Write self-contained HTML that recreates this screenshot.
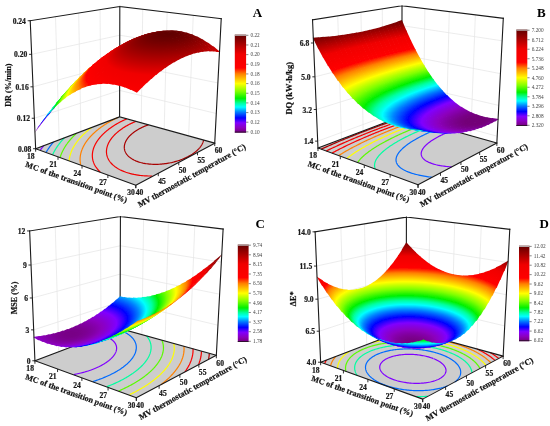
<!DOCTYPE html>
<html><head><meta charset="utf-8"><style>
html,body{margin:0;padding:0;background:#fff}
svg{display:block}
.gr{fill:none;stroke:#e4e4e4;stroke-width:.7}
.fl{fill:#cdcdcd}
.ct{fill:none;stroke-width:1.2}
.ax{fill:none;stroke:#1a1a1a;stroke-width:1.1;stroke-linecap:square}
.tk{fill:none;stroke:#1a1a1a;stroke-width:.9}
.sf path{stroke:none}
text{font-family:"Liberation Serif","Times New Roman",serif}
.tl{font-size:7.6px;font-weight:bold;fill:#1a1a1a;stroke:#1a1a1a;stroke-width:.22px}
.at{font-size:8.2px;font-weight:bold;fill:#111;stroke:#111;stroke-width:.2px}
.let{font-size:13px;font-weight:bold;fill:#000}
.cbl text{font-size:5.3px;fill:#444}
.cbb{stroke:#301030;stroke-width:1}
.cbt{stroke:#bdbdbd;stroke-width:1.2}
.cbk{stroke:#555;stroke-width:.7}
</style></head><body>
<svg width="550" height="426" viewBox="0 0 550 426">
<defs><linearGradient id="cmg" x1="0" y1="0" x2="0" y2="1"><stop offset="0" stop-color="#600000"/><stop offset="0.2" stop-color="#f00000"/><stop offset="0.34" stop-color="#ff0000"/><stop offset="0.4" stop-color="#ff8000"/><stop offset="0.5" stop-color="#ffff00"/><stop offset="0.58" stop-color="#80ff00"/><stop offset="0.65" stop-color="#00f000"/><stop offset="0.7" stop-color="#00ffa0"/><stop offset="0.74" stop-color="#00ffff"/><stop offset="0.79" stop-color="#0080ff"/><stop offset="0.85" stop-color="#0000ff"/><stop offset="0.9" stop-color="#8000ff"/><stop offset="0.95" stop-color="#8c00be"/><stop offset="1" stop-color="#730078"/></linearGradient><linearGradient id="c" gradientUnits="userSpaceOnUse"><stop offset="0" stop-color="#730078"/><stop offset="0.05" stop-color="#8c00be"/><stop offset="0.1" stop-color="#8000ff"/><stop offset="0.15" stop-color="#0000ff"/><stop offset="0.21" stop-color="#0080ff"/><stop offset="0.26" stop-color="#00ffff"/><stop offset="0.3" stop-color="#00ffa0"/><stop offset="0.35" stop-color="#00f000"/><stop offset="0.42" stop-color="#80ff00"/><stop offset="0.5" stop-color="#ffff00"/><stop offset="0.6" stop-color="#ff8000"/><stop offset="0.66" stop-color="#ff0000"/><stop offset="0.8" stop-color="#f00000"/><stop offset="1" stop-color="#600000"/></linearGradient><filter id="fz" x="-5%" y="-5%" width="110%" height="110%"><feGaussianBlur stdDeviation="0.35"/></filter></defs>
<path class="gr" d="M59.16 139.79L55.5 16.71M80.87 131.57L78.7 13.02M100.95 123.95L100.07 9.61M141.22 122.85L142.72 9.23M164.19 129.19L167.15 12.18M188.65 135.94L193.26 15.33M34.36 118.26L119.66 90.41L216.29 113.49M33.03 86.82L119.71 63.21L217.89 82.9M31.65 54.33L119.76 35.24L219.53 51.32"/>
<path class="fl" d="M35.65 148.71L135.82 185.16L214.74 143.14L119.6 116.88Z"/>
<path class="ct" stroke="#8000ff" d="M43.67 145.67L43.32 146.11L42.97 146.57L42.61 147.03L42.26 147.5L41.94 147.92L41.67 148.3L41.39 148.68L41.05 149.16L40.72 149.64L40.38 150.13"/>
<path class="ct" stroke="#006bff" d="M53.59 141.91L53.26 142.29L52.93 142.68L52.62 143.06L52.26 143.5L51.9 143.94L51.55 144.38L51.2 144.83L50.85 145.28L50.52 145.71L50.24 146.08L49.97 146.46L49.65 146.89L49.32 147.36L48.99 147.83L48.66 148.3L48.4 148.69L48.15 149.06L47.86 149.5L47.55 149.99L47.24 150.48L46.98 150.89L46.76 151.26L46.48 151.73L46.18 152.24"/>
<path class="ct" stroke="#00ffa0" d="M64.41 137.81L64.03 138.2L63.66 138.6L63.3 138.99L62.94 139.39L62.59 139.78L62.25 140.17L61.91 140.56L61.58 140.94L61.25 141.33L60.91 141.74L60.56 142.17L60.21 142.6L59.86 143.04L59.52 143.48L59.18 143.92L58.84 144.36L58.55 144.75L58.28 145.13L58.01 145.5L57.69 145.95L57.37 146.41L57.05 146.87L56.74 147.34L56.48 147.73L56.25 148.1L55.97 148.53L55.67 149.01L55.38 149.5L55.12 149.93L54.91 150.29L54.66 150.73L54.38 151.23L54.11 151.73L53.92 152.09L53.7 152.51L53.44 153.02L53.19 153.53L53.02 153.88L52.81 154.33L52.56 154.87"/>
<path class="ct" stroke="#5bfb00" d="M76.66 133.16L76.26 133.53L75.87 133.9L75.47 134.27L75.08 134.64L74.69 135.02L74.31 135.4L73.93 135.78L73.55 136.17L73.17 136.55L72.79 136.95L72.42 137.34L72.05 137.73L71.68 138.13L71.32 138.54L70.96 138.94L70.6 139.35L70.25 139.76L69.9 140.17L69.55 140.59L69.2 141.01L68.86 141.43L68.52 141.86L68.19 142.29L67.86 142.72L67.55 143.13L67.28 143.51L67 143.88L66.73 144.27L66.41 144.72L66.1 145.17L65.8 145.63L65.49 146.09L65.24 146.49L65 146.86L64.76 147.25L64.47 147.73L64.19 148.21L63.92 148.68L63.71 149.04L63.51 149.42L63.24 149.91L62.98 150.41L62.76 150.84L62.59 151.2L62.36 151.67L62.12 152.18L61.92 152.61L61.77 152.97L61.55 153.49L61.33 154.02L61.19 154.37L61.01 154.83L60.81 155.37L60.67 155.76L60.52 156.2L60.34 156.75L60.22 157.14L60.08 157.6"/>
<path class="ct" stroke="#ffff00" d="M91.66 127.47L91.08 127.91L90.65 128.24L90.22 128.57L89.77 128.92L89.18 129.39L88.75 129.74L88.33 130.08L87.92 130.42L87.5 130.77L86.97 131.22L86.49 131.64L86.08 132L85.68 132.35L85.29 132.71L84.89 133.07L84.5 133.44L84.07 133.84L83.63 134.27L83.2 134.69L82.78 135.11L82.4 135.49L82.03 135.87L81.66 136.25L81.29 136.64L80.93 137.03L80.57 137.42L80.21 137.82L79.86 138.22L79.51 138.62L79.17 139.02L78.82 139.43L78.48 139.84L78.15 140.26L77.82 140.67L77.49 141.09L77.19 141.49L76.9 141.88L76.62 142.26L76.35 142.64L76.07 143.03L75.76 143.47L75.46 143.92L75.17 144.36L74.88 144.81L74.6 145.25L74.37 145.62L74.15 145.99L73.9 146.43L73.63 146.89L73.36 147.37L73.13 147.81L72.94 148.17L72.73 148.57L72.49 149.06L72.25 149.55L72.06 149.95L71.9 150.3L71.68 150.81L71.47 151.32L71.31 151.7L71.16 152.09L70.96 152.62L70.79 153.09L70.67 153.44L70.5 153.95L70.34 154.47L70.24 154.81L70.09 155.32L69.96 155.83L69.87 156.16L69.74 156.72L69.64 157.17L69.56 157.58L69.45 158.17L69.39 158.5L69.3 159.05L69.24 159.5L69.19 159.96L69.13 160.48L69.1 160.88"/>
<path class="ct" stroke="#ff8000" d="M117.43 117.7L116.7 118.05L115.91 118.43L115.21 118.77L114.61 119.08L113.84 119.47L113.33 119.73L112.57 120.13L111.82 120.53L111.32 120.8L110.57 121.21L110.08 121.49L109.34 121.91L108.86 122.19L108.13 122.61L107.66 122.9L106.94 123.33L106.47 123.62L105.9 123.97L105.3 124.36L104.84 124.65L104.15 125.11L103.69 125.41L103.21 125.73L102.56 126.18L102.11 126.49L101.64 126.82L101.01 127.27L100.57 127.59L100.14 127.91L99.51 128.38L99.06 128.73L98.64 129.05L98.22 129.39L97.62 129.86L97.18 130.22L96.77 130.56L96.36 130.91L95.93 131.28L95.4 131.74L94.96 132.12L94.56 132.48L94.17 132.83L93.78 133.19L93.4 133.55L92.98 133.96L92.53 134.39L92.1 134.82L91.71 135.22L91.35 135.59L90.99 135.97L90.63 136.36L90.28 136.74L89.93 137.13L89.58 137.52L89.24 137.92L88.9 138.32L88.57 138.72L88.24 139.12L87.91 139.53L87.59 139.94L87.27 140.36L86.96 140.78L86.66 141.2L86.35 141.63L86.07 142.03L85.81 142.41L85.56 142.79L85.32 143.16L85.05 143.59L84.78 144.03L84.51 144.48L84.25 144.94L84 145.38L83.8 145.74L83.61 146.1L83.37 146.56L83.14 147.04L82.91 147.52L82.73 147.89L82.57 148.25L82.36 148.73L82.16 149.23L82 149.65L81.86 149.99L81.68 150.49L81.51 151.01L81.39 151.37L81.26 151.79L81.1 152.32L80.99 152.73L80.89 153.12L80.76 153.66L80.67 154.07L80.58 154.49L80.48 155.05L80.42 155.39L80.34 155.9L80.28 156.38L80.23 156.77L80.18 157.35L80.15 157.67L80.12 158.26L80.11 158.63L80.1 159.17L80.1 159.58L80.11 160.11L80.12 160.53L80.16 161.07L80.19 161.46L80.25 162.05L80.29 162.39L80.38 163.01L80.44 163.4L80.54 163.92L80.65 164.44L80.74 164.82"/>
<path class="ct" stroke="#fb0000" d="M126.74 118.85L125.91 119.22L125.1 119.59L124.28 119.97L123.75 120.22L122.95 120.6L122.16 120.99L121.62 121.27L120.87 121.65L120.1 122.06L119.59 122.33L118.84 122.74L118.22 123.08L117.59 123.43L116.86 123.85L116.37 124.14L115.65 124.57L115.18 124.86L114.54 125.25L114 125.59L113.52 125.9L112.84 126.34L112.39 126.65L111.71 127.11L111.26 127.42L110.81 127.73L110.15 128.2L109.72 128.52L109.29 128.84L108.65 129.33L108.22 129.65L107.8 129.98L107.34 130.35L106.77 130.82L106.36 131.16L105.96 131.5L105.56 131.84L105.04 132.3L104.58 132.71L104.2 133.07L103.82 133.42L103.44 133.78L103.07 134.14L102.64 134.57L102.21 135.01L101.79 135.44L101.44 135.81L101.09 136.19L100.75 136.57L100.41 136.96L100.07 137.35L99.74 137.74L99.42 138.13L99.09 138.53L98.78 138.94L98.47 139.34L98.16 139.75L97.86 140.16L97.57 140.58L97.28 141L97 141.43L96.72 141.85L96.48 142.25L96.25 142.62L96.03 142.99L95.81 143.39L95.56 143.83L95.32 144.28L95.08 144.74L94.87 145.18L94.7 145.54L94.53 145.9L94.33 146.37L94.13 146.85L93.95 147.31L93.82 147.65L93.67 148.07L93.5 148.56L93.35 149.03L93.25 149.37L93.12 149.83L92.99 150.35L92.9 150.71L92.81 151.13L92.7 151.67L92.64 152.04L92.57 152.48L92.5 153.01L92.46 153.34L92.41 153.87L92.38 154.3L92.36 154.72L92.34 155.25L92.34 155.6L92.35 156.19L92.36 156.5L92.4 157.1L92.43 157.42L92.5 158.03L92.54 158.35L92.63 158.94L92.7 159.32L92.81 159.83L92.92 160.31L93.02 160.72L93.19 161.3L93.31 161.68L93.47 162.17L93.68 162.74L93.83 163.11L94.03 163.59L94.29 164.15L94.51 164.61L94.71 165L95 165.53L95.31 166.08L95.64 166.62L95.92 167.04L96.21 167.47L96.55 167.94L96.95 168.47L97.36 168.98L97.78 169.5L98.23 170L98.69 170.51L99.17 171L99.67 171.49L100.19 171.98"/>
<path class="ct" stroke="#f00000" d="M135.81 121.35L134.95 121.72L134.09 122.09L133.25 122.46L132.42 122.85L131.88 123.1L131.06 123.49L130.27 123.89L129.48 124.29L128.96 124.56L128.19 124.98L127.43 125.39L126.92 125.67L126.18 126.1L125.69 126.39L124.97 126.82L124.49 127.12L123.78 127.56L123.32 127.87L122.63 128.32L122.17 128.63L121.59 129.03L121.06 129.41L120.62 129.73L119.97 130.21L119.54 130.53L119.12 130.86L118.54 131.32L118.09 131.69L117.68 132.02L117.29 132.36L116.72 132.86L116.31 133.23L115.93 133.58L115.55 133.93L115.17 134.3L114.7 134.76L114.28 135.19L113.93 135.56L113.58 135.93L113.24 136.31L112.91 136.69L112.58 137.07L112.26 137.46L111.94 137.85L111.63 138.24L111.33 138.64L111.03 139.04L110.74 139.44L110.46 139.85L110.18 140.27L109.92 140.68L109.66 141.11L109.4 141.53L109.16 141.96L108.92 142.4L108.69 142.84L108.5 143.23L108.33 143.59L108.16 143.96L107.97 144.42L107.78 144.88L107.6 145.35L107.48 145.71L107.36 146.07L107.21 146.55L107.07 147.04L106.98 147.41L106.89 147.78L106.78 148.29L106.7 148.74L106.65 149.07L106.58 149.58L106.53 150.03L106.5 150.38L106.47 150.93L106.46 151.3L106.46 151.76L106.47 152.23L106.49 152.61L106.54 153.14L106.57 153.48L106.65 154.04L106.71 154.38L106.81 154.93L106.9 155.3L107.02 155.8L107.16 156.26L107.28 156.66L107.48 157.22L107.62 157.58L107.82 158.05L108.07 158.6L108.25 158.98L108.48 159.41L108.79 159.95L109.1 160.46L109.35 160.84L109.63 161.25L110 161.76L110.39 162.27L110.8 162.77L111.23 163.26L111.69 163.74L112.16 164.22L112.65 164.7L113.16 165.16L113.69 165.62L114.25 166.07L114.82 166.52L115.41 166.96L116.25 167.53L116.99 168.02L117.65 168.43L118.62 169L119.41 169.43L120.4 169.94L121.3 170.37L122.51 170.92L123.71 171.42L124.62 171.77L125.96 172.26L127.36 172.72L128.32 173.02L129.81 173.45L131.35 173.84L132.42 174.09L134.07 174.45L135.2 174.67L136.36 174.87L138.01 175.13L139.41 175.32L140.68 175.48L141.99 175.61L143.33 175.73L144.67 175.83L145.79 175.9L146.87 175.95L148.33 176L149.85 176.02L150.83 176.03L152.22 176.02"/>
<path class="ct" stroke="#a80000" d="M148.4 124.83L147.74 125.06L146.8 125.41L145.86 125.77L144.95 126.14L144.06 126.51L143.18 126.9L142.33 127.29L141.63 127.62L140.95 127.96L140.14 128.37L139.35 128.79L138.84 129.08L138.08 129.51L137.33 129.95L136.85 130.25L136.13 130.7L135.67 131L134.98 131.47L134.53 131.79L133.96 132.2L133.44 132.59L133.02 132.92L132.42 133.4L132 133.75L131.61 134.09L131.15 134.49L130.65 134.96L130.28 135.31L129.93 135.67L129.57 136.03L129.18 136.46L128.77 136.92L128.42 137.34L128.1 137.72L127.8 138.1L127.51 138.5L127.23 138.89L126.96 139.29L126.7 139.7L126.44 140.11L126.2 140.52L125.98 140.94L125.76 141.37L125.57 141.77L125.41 142.14L125.26 142.5L125.1 142.91L124.95 143.37L124.8 143.83L124.69 144.25L124.61 144.58L124.52 145.01L124.44 145.5L124.38 145.9L124.35 146.24L124.31 146.75L124.3 147.17L124.31 147.53L124.33 148.07L124.36 148.39L124.42 148.89L124.49 149.27L124.58 149.74L124.68 150.14L124.82 150.62L124.94 150.98L125.15 151.53L125.29 151.85L125.52 152.33L125.78 152.83L125.98 153.17L126.26 153.62L126.61 154.13L126.96 154.59L127.27 154.97L127.61 155.36L128.02 155.81L128.49 156.27L128.98 156.72L129.49 157.16L130.03 157.59L130.67 158.06L131.49 158.61L132.13 159.01L132.8 159.4L133.84 159.96L134.57 160.31L135.71 160.83L136.51 161.16L137.77 161.63L139.09 162.07L140.48 162.48L141.45 162.73L142.97 163.09L144.03 163.3L145.68 163.6L146.84 163.77L148.03 163.92L149.26 164.05L150.55 164.16L151.88 164.25L153.22 164.31L154.18 164.33L155.44 164.34L156.84 164.33L157.76 164.3L159.24 164.24L160.25 164.18L161.43 164.09L162.81 163.96L163.9 163.84L164.88 163.72L166.01 163.57L167.21 163.38L168.36 163.19L169.48 162.98L170.57 162.76L171.63 162.54L172.96 162.23L174.12 161.94L175.07 161.68L175.99 161.42L177.34 161.02L178.21 160.75L179.48 160.33L180.29 160.04L181.48 159.6L182.26 159.3L183.38 158.84L184.46 158.38L185.51 157.91L186.19 157.59L187.18 157.1L188.14 156.61L189.06 156.11L189.95 155.61L190.55 155.26L191.37 154.76L192.18 154.24L192.96 153.71L193.63 153.25L194.2 152.83L194.91 152.29L195.37 151.93L196.03 151.38L196.51 150.97L197.07 150.47L197.47 150.09L198.04 149.54L198.4 149.16L198.93 148.6L199.27 148.22L199.6 147.84L200.07 147.26L200.36 146.88L200.65 146.49L200.94 146.07L201.31 145.52L201.56 145.12L201.79 144.73L202.01 144.33L202.22 143.93L202.43 143.51L202.64 143.05L202.82 142.6L202.99 142.16L203.14 141.74L203.27 141.32L203.38 140.92L203.48 140.52L203.56 140.14"/>
<path class="ax" d="M119.6 116.88L119.82 6.47M35.65 148.71L119.6 116.88M119.6 116.88L214.74 143.14M30.23 20.74L119.82 6.47M119.82 6.47L221.23 18.7"/>
<defs><linearGradient id="a0" href="#c" x1="128.5" y1="80.8" x2="115.1" y2="37.1"/><linearGradient id="a1" href="#c" x1="125.1" y1="81.1" x2="111" y2="38.9"/><linearGradient id="a2" href="#c" x1="133.1" y1="78.7" x2="120.5" y2="35.8"/><linearGradient id="a3" href="#c" x1="121.5" y1="81.4" x2="106.8" y2="40.9"/><linearGradient id="a4" href="#c" x1="129.7" y1="78.7" x2="116.5" y2="37.5"/><linearGradient id="a5" href="#c" x1="137.5" y1="76.3" x2="125.9" y2="34.7"/><linearGradient id="a6" href="#c" x1="117.8" y1="81.9" x2="102.5" y2="43.2"/><linearGradient id="a7" href="#c" x1="126.2" y1="78.7" x2="112.4" y2="39.5"/><linearGradient id="a8" href="#c" x1="134.2" y1="76" x2="121.9" y2="36.4"/><linearGradient id="a9" href="#c" x1="141.7" y1="73.5" x2="131.3" y2="33.8"/><linearGradient id="aa" href="#c" x1="113.9" y1="82.4" x2="98.2" y2="45.7"/><linearGradient id="ab" href="#c" x1="122.5" y1="78.8" x2="108.2" y2="41.6"/><linearGradient id="ac" href="#c" x1="130.6" y1="75.7" x2="117.9" y2="38.2"/><linearGradient id="ad" href="#c" x1="138.4" y1="72.8" x2="127.4" y2="35.3"/><linearGradient id="ae" href="#c" x1="145.8" y1="70.2" x2="136.6" y2="33"/><linearGradient id="af" href="#c" x1="109.8" y1="83.1" x2="93.8" y2="48.4"/><linearGradient id="ag" href="#c" x1="118.6" y1="79" x2="103.9" y2="44.1"/><linearGradient id="ah" href="#c" x1="126.9" y1="75.4" x2="113.8" y2="40.3"/><linearGradient id="ai" href="#c" x1="134.9" y1="72" x2="123.4" y2="37.1"/><linearGradient id="aj" href="#c" x1="142.4" y1="69" x2="132.7" y2="34.4"/><linearGradient id="ak" href="#c" x1="149.5" y1="66.1" x2="141.8" y2="32.3"/><linearGradient id="al" href="#c" x1="105.6" y1="83.9" x2="89.4" y2="51.5"/><linearGradient id="am" href="#c" x1="114.5" y1="79.4" x2="99.6" y2="46.8"/><linearGradient id="an" href="#c" x1="123" y1="75.2" x2="109.6" y2="42.6"/><linearGradient id="ao" href="#c" x1="131.1" y1="71.3" x2="119.3" y2="39.1"/><linearGradient id="ap" href="#c" x1="138.8" y1="67.7" x2="128.8" y2="36.1"/><linearGradient id="aq" href="#c" x1="101.2" y1="85" x2="84.9" y2="54.9"/><linearGradient id="ar" href="#c" x1="146.1" y1="64.3" x2="138" y2="33.7"/><linearGradient id="as" href="#c" x1="153.1" y1="61" x2="147" y2="31.7"/><linearGradient id="at" href="#c" x1="110.3" y1="79.9" x2="95.3" y2="49.8"/><linearGradient id="au" href="#c" x1="118.9" y1="75.1" x2="105.4" y2="45.3"/><linearGradient id="av" href="#c" x1="127.2" y1="70.6" x2="115.2" y2="41.4"/><linearGradient id="aw" href="#c" x1="96.6" y1="86.3" x2="80.4" y2="58.5"/><linearGradient id="ax" href="#c" x1="135" y1="66.4" x2="124.8" y2="38"/><linearGradient id="ay" href="#c" x1="142.4" y1="62.3" x2="134.1" y2="35.3"/><linearGradient id="az" href="#c" x1="156.4" y1="54.6" x2="152.2" y2="31.3"/><linearGradient id="a10" href="#c" x1="149.5" y1="58.4" x2="143.2" y2="33"/><linearGradient id="a11" href="#c" x1="105.8" y1="80.6" x2="90.9" y2="53.1"/><linearGradient id="a12" href="#c" x1="114.6" y1="75.2" x2="101.1" y2="48.2"/><linearGradient id="a13" href="#c" x1="122.9" y1="70.1" x2="111.1" y2="44"/><linearGradient id="a14" href="#c" x1="91.8" y1="88" x2="75.9" y2="62.6"/><linearGradient id="a15" href="#c" x1="130.8" y1="65.1" x2="120.8" y2="40.3"/><linearGradient id="a16" href="#c" x1="159.6" y1="46.9" x2="157.3" y2="31"/><linearGradient id="a17" href="#c" x1="138.3" y1="60.3" x2="130.2" y2="37.1"/><linearGradient id="a18" href="#c" x1="152.6" y1="51" x2="148.4" y2="32.4"/><linearGradient id="a19" href="#c" x1="145.6" y1="55.5" x2="139.4" y2="34.5"/><linearGradient id="a1a" href="#c" x1="101.1" y1="81.6" x2="86.5" y2="56.7"/><linearGradient id="a1b" href="#c" x1="110" y1="75.6" x2="96.9" y2="51.5"/><linearGradient id="a1c" href="#c" x1="86.9" y1="89.9" x2="71.4" y2="66.9"/><linearGradient id="a1d" href="#c" x1="118.4" y1="69.7" x2="107" y2="46.8"/><linearGradient id="a1e" href="#c" x1="126.4" y1="63.9" x2="116.8" y2="42.8"/><linearGradient id="a1f" href="#c" x1="164.5" y1="62" x2="162.3" y2="29.8"/><linearGradient id="a1g" href="#c" x1="133.9" y1="58.3" x2="126.3" y2="39.2"/><linearGradient id="a1h" href="#c" x1="96.3" y1="82.9" x2="82.1" y2="60.7"/><linearGradient id="a1i" href="#c" x1="155.9" y1="44.3" x2="153.5" y2="31.8"/><linearGradient id="a1j" href="#c" x1="141.2" y1="52.7" x2="135.6" y2="36.2"/><linearGradient id="a1k" href="#c" x1="148.4" y1="47.6" x2="144.7" y2="33.8"/><linearGradient id="a1l" href="#c" x1="105.2" y1="76.2" x2="92.6" y2="55.1"/><linearGradient id="a1m" href="#c" x1="81.9" y1="92.2" x2="66.9" y2="71.6"/><linearGradient id="a1n" href="#c" x1="113.6" y1="69.5" x2="102.8" y2="50.1"/><linearGradient id="a1o" href="#c" x1="121.6" y1="63" x2="112.8" y2="45.6"/><linearGradient id="a1p" href="#c" x1="91.3" y1="84.6" x2="77.8" y2="65"/><linearGradient id="a1q" href="#c" x1="166" y1="8.2" x2="167.4" y2="31.2"/><linearGradient id="a1r" href="#c" x1="129.1" y1="56.4" x2="122.4" y2="41.7"/><linearGradient id="a1s" href="#c" x1="155.5" y1="14.3" x2="158.8" y2="32.1"/><linearGradient id="a1t" href="#c" x1="136.5" y1="50.3" x2="131.7" y2="38.2"/><linearGradient id="a1u" href="#c" x1="135.4" y1="-4.2" x2="150.7" y2="35.4"/><linearGradient id="a1v" href="#c" x1="144.5" y1="47.3" x2="140.8" y2="35"/><linearGradient id="a1w" href="#c" x1="100.2" y1="77.1" x2="88.4" y2="59.1"/><linearGradient id="a1x" href="#c" x1="76.8" y1="94.9" x2="62.5" y2="76.7"/><linearGradient id="a1y" href="#c" x1="108.6" y1="69.7" x2="98.7" y2="53.7"/><linearGradient id="a1z" href="#c" x1="86.2" y1="86.7" x2="73.5" y2="69.7"/><linearGradient id="a20" href="#c" x1="116.4" y1="62.3" x2="108.8" y2="48.8"/><linearGradient id="a21" href="#c" x1="173.8" y1="-16.8" x2="172.5" y2="31.6"/><linearGradient id="a22" href="#c" x1="124" y1="55.2" x2="118.5" y2="44.4"/><linearGradient id="a23" href="#c" x1="159.3" y1="-5.5" x2="163.8" y2="31.8"/><linearGradient id="a24" href="#c" x1="132.5" y1="51.3" x2="127.7" y2="40"/><linearGradient id="a25" href="#c" x1="148.7" y1="7" x2="155.1" y2="33.2"/><linearGradient id="a26" href="#c" x1="95" y1="78.5" x2="84.2" y2="63.4"/><linearGradient id="a27" href="#c" x1="128.7" y1="20.4" x2="138" y2="39.1"/><linearGradient id="a28" href="#c" x1="140.2" y1="18" x2="146.4" y2="35.4"/><linearGradient id="a29" href="#c" x1="71.6" y1="98.1" x2="58.2" y2="82"/><linearGradient id="a2a" href="#c" x1="103.3" y1="70.4" x2="94.7" y2="57.6"/><linearGradient id="a2b" href="#c" x1="80.9" y1="89.2" x2="69.3" y2="74.7"/><linearGradient id="a2c" href="#c" x1="192.9" y1="-57.1" x2="177.4" y2="32.8"/><linearGradient id="a2d" href="#c" x1="111.1" y1="62.3" x2="104.8" y2="52.3"/><linearGradient id="a2e" href="#c" x1="166.4" y1="-43.9" x2="168.8" y2="32"/><linearGradient id="a2f" href="#c" x1="119.4" y1="56" x2="114.3" y2="47"/><linearGradient id="a2g" href="#c" x1="66.3" y1="101.7" x2="53.9" y2="87.8"/><linearGradient id="a2h" href="#c" x1="89.7" y1="80.3" x2="80.2" y2="68"/><linearGradient id="a2i" href="#c" x1="148.9" y1="-24.2" x2="160.2" y2="32.8"/><linearGradient id="a2j" href="#c" x1="115.7" y1="30.5" x2="125.6" y2="45.6"/><linearGradient id="a2k" href="#c" x1="138.5" y1="-4.7" x2="151.5" y2="34.6"/><linearGradient id="a2l" href="#c" x1="125.9" y1="25.3" x2="133.9" y2="40.7"/><linearGradient id="a2m" href="#c" x1="131.8" y1="12" x2="142.8" y2="37.3"/><linearGradient id="a2n" href="#c" x1="97.8" y1="71.5" x2="90.7" y2="61.8"/><linearGradient id="a2o" href="#c" x1="75.6" y1="92.2" x2="65.1" y2="80.1"/><linearGradient id="a2p" href="#c" x1="246.1" y1="-110.8" x2="181.6" y2="35.2"/><linearGradient id="a2q" href="#c" x1="105.9" y1="63.3" x2="100.7" y2="55.8"/><linearGradient id="a2r" href="#c" x1="192.1" y1="-111.2" x2="173.8" y2="32.9"/><linearGradient id="a2s" href="#c" x1="61" y1="105.7" x2="49.6" y2="93.8"/><linearGradient id="a2t" href="#c" x1="97.2" y1="36.4" x2="114.9" y2="55.5"/><linearGradient id="a2u" href="#c" x1="84.2" y1="82.7" x2="76.1" y2="73"/><linearGradient id="a2v" href="#c" x1="151.2" y1="-82.5" x2="165.2" y2="32.7"/><linearGradient id="a2w" href="#c" x1="113" y1="35.4" x2="121.4" y2="47.8"/><linearGradient id="a2x" href="#c" x1="131.6" y1="-47.4" x2="156.6" y2="34.2"/><linearGradient id="a2y" href="#c" x1="117.4" y1="22" x2="130.5" y2="43.4"/><linearGradient id="a2z" href="#c" x1="124" y1="-18" x2="148.1" y2="36.6"/><linearGradient id="a30" href="#c" x1="120.5" y1="4.6" x2="139.4" y2="39.8"/><linearGradient id="a31" href="#c" x1="92.4" y1="73.4" x2="86.7" y2="66.3"/><linearGradient id="a32" href="#c" x1="70.2" y1="95.6" x2="61" y2="85.8"/><linearGradient id="a33" href="#c" x1="366.3" y1="-129.5" x2="183" y2="38.6"/><linearGradient id="a34" href="#c" x1="106" y1="75.2" x2="94.3" y2="55.2"/><linearGradient id="a35" href="#c" x1="55.6" y1="110.2" x2="45.4" y2="100.2"/><linearGradient id="a36" href="#c" x1="300.7" y1="-210.9" x2="177.8" y2="35.3"/><linearGradient id="a37" href="#c" x1="78.8" y1="85.6" x2="72.2" y2="78.3"/><linearGradient id="a38" href="#c" x1="101.1" y1="47.4" x2="108.7" y2="56.6"/><linearGradient id="a39" href="#c" x1="181.4" y1="-207.7" x2="170.2" y2="33.2"/><linearGradient id="a3a" href="#c" x1="105.4" y1="34.8" x2="118.1" y2="51.3"/><linearGradient id="a3b" href="#c" x1="116.8" y1="-136" x2="161.7" y2="33.8"/><linearGradient id="a3c" href="#c" x1="107" y1="18.8" x2="127.5" y2="46.8"/><linearGradient id="a3d" href="#c" x1="64.8" y1="99.6" x2="57" y2="91.8"/><linearGradient id="a3e" href="#c" x1="87.4" y1="76.5" x2="82.4" y2="70.6"/><linearGradient id="a3f" href="#c" x1="102.6" y1="-73.1" x2="153.3" y2="36.1"/><linearGradient id="a3g" href="#c" x1="469.9" y1="-28.2" x2="181.6" y2="38.7"/><linearGradient id="a3h" href="#c" x1="106.2" y1="-2.1" x2="136.4" y2="42.7"/><linearGradient id="a3i" href="#c" x1="103.6" y1="-30.8" x2="145" y2="39.2"/><linearGradient id="a3j" href="#c" x1="50.4" y1="115.2" x2="41.3" y2="106.8"/><linearGradient id="a3k" href="#c" x1="88.9" y1="60.2" x2="95.8" y2="67.3"/><linearGradient id="a3l" href="#c" x1="561.4" y1="-143.1" x2="177.4" y2="37.3"/><linearGradient id="a3m" href="#c" x1="73.4" y1="89.1" x2="68.2" y2="83.8"/><linearGradient id="a3n" href="#c" x1="94.7" y1="49" x2="105.3" y2="60.7"/><linearGradient id="a3o" href="#c" x1="484.6" y1="-440.1" x2="173.7" y2="35.7"/><linearGradient id="a3p" href="#c" x1="455.6" y1="80" x2="182.6" y2="35.9"/><linearGradient id="a3q" href="#c" x1="59.5" y1="104.1" x2="53.1" y2="98.1"/><linearGradient id="a3r" href="#c" x1="96.8" y1="34.6" x2="115.2" y2="55.3"/><linearGradient id="a3t" href="#c" x1="47.6" y1="66.7" x2="106.5" y2="86"/><linearGradient id="a3u" href="#c" x1="95.4" y1="16.8" x2="124.8" y2="50.5"/><linearGradient id="a3v" href="#c" x1="36.5" y1="-198.2" x2="158.6" y2="35.8"/><linearGradient id="a3w" href="#c" x1="45.1" y1="120.6" x2="37.3" y2="113.8"/><linearGradient id="a3x" href="#c" x1="89.3" y1="-6.5" x2="134" y2="46.1"/><linearGradient id="a3y" href="#c" x1="56.4" y1="-94.1" x2="150.8" y2="38.7"/><linearGradient id="a3z" href="#c" x1="76.8" y1="-39.9" x2="142.6" y2="42.2"/><linearGradient id="a40" href="#c" x1="559.2" y1="110.8" x2="178.2" y2="33.5"/><linearGradient id="a41" href="#c" x1="84" y1="63.9" x2="92" y2="71.6"/><linearGradient id="a42" href="#c" x1="68.4" y1="93.5" x2="63.9" y2="89.1"/><linearGradient id="a43" href="#c" x1="816.5" y1="151.4" x2="173.2" y2="32.8"/><linearGradient id="a44" href="#c" x1="87.6" y1="50.8" x2="102.4" y2="65.3"/><linearGradient id="a45" href="#c" x1="410.7" y1="124.3" x2="185.6" y2="34.1"/><linearGradient id="a46" href="#c" x1="54.3" y1="109.1" x2="49.1" y2="104.6"/><linearGradient id="a47" href="#c" x1="2119.5" y1="-606.8" x2="166.3" y2="35.2"/><linearGradient id="a48" href="#c" x1="72.5" y1="79.3" x2="78.4" y2="84.4"/><linearGradient id="a49" href="#c" x1="87.7" y1="35.4" x2="112.7" y2="59.7"/><linearGradient id="a4a" href="#c" x1="39.9" y1="126.5" x2="33.3" y2="121"/><linearGradient id="a4b" href="#c" x1="-433.8" y1="-694.3" x2="164.7" y2="36.2"/><linearGradient id="a4c" href="#c" x1="83" y1="16.7" x2="122.7" y2="54.5"/><linearGradient id="a4d" href="#c" x1="451.4" y1="180.4" x2="182.4" y2="31.2"/><linearGradient id="a4e" href="#c" x1="-120.1" y1="-212.3" x2="157.3" y2="38.3"/><linearGradient id="a4f" href="#c" x1="70.6" y1="-7.4" x2="132.2" y2="49.7"/><linearGradient id="a4g" href="#c" x1="-6.3" y1="-96" x2="149.6" y2="41.5"/><linearGradient id="a4h" href="#c" x1="45.1" y1="-41.2" x2="141.2" y2="45.4"/><linearGradient id="a4i" href="#c" x1="78.1" y1="67.3" x2="88.9" y2="76.8"/><linearGradient id="a4j" href="#c" x1="69.7" y1="110.1" x2="48.8" y2="74.9"/><linearGradient id="a4k" href="#c" x1="377.3" y1="136.9" x2="188.7" y2="33.7"/><linearGradient id="a4l" href="#c" x1="504.3" y1="282.7" x2="178.8" y2="30.3"/><linearGradient id="a4m" href="#c" x1="49.1" y1="114.6" x2="45" y2="111.2"/><linearGradient id="a4n" href="#c" x1="80.4" y1="53.4" x2="99.8" y2="70.3"/><linearGradient id="a4o" href="#c" x1="563.4" y1="514.4" x2="174.2" y2="31.1"/><linearGradient id="a4p" href="#c" x1="67.6" y1="84.1" x2="74.7" y2="89.9"/><linearGradient id="a4q" href="#c" x1="78.6" y1="37.6" x2="110.6" y2="64.3"/><linearGradient id="a4r" href="#c" x1="390.8" y1="183.9" x2="186.4" y2="30.6"/><linearGradient id="a4t" href="#c" x1="70.5" y1="18.8" x2="121.1" y2="58.7"/><linearGradient id="a4u" href="#c" x1="55.5" y1="101.2" x2="60.8" y2="105.2"/><linearGradient id="a4v" href="#c" x1="355.7" y1="138.5" x2="191.4" y2="34.2"/><linearGradient id="a4w" href="#c" x1="-804.3" y1="284.1" x2="164.9" y2="33.2"/><linearGradient id="a4x" href="#c" x1="72.1" y1="71.1" x2="86.1" y2="82.3"/><linearGradient id="a4y" href="#c" x1="51.8" y1="-3.9" x2="131.2" y2="53.4"/><linearGradient id="a4z" href="#c" x1="-267.9" y1="-81.5" x2="158.2" y2="38.8"/><linearGradient id="a50" href="#c" x1="395.5" y1="250.6" x2="183.4" y2="29.9"/><linearGradient id="a51" href="#c" x1="13.1" y1="-32.1" x2="140.8" y2="48.4"/><linearGradient id="a52" href="#c" x1="-68.8" y1="-65.4" x2="149.9" y2="43.6"/><linearGradient id="a53" href="#c" x1="44.2" y1="120.7" x2="39.9" y2="117.2"/><linearGradient id="a54" href="#c" x1="73.4" y1="56.9" x2="97.5" y2="75.5"/><linearGradient id="a55" href="#c" x1="380.7" y1="346.7" x2="179" y2="31"/><linearGradient id="a56" href="#c" x1="62.3" y1="89" x2="71.5" y2="95.9"/><linearGradient id="a57" href="#c" x1="358.9" y1="175.8" x2="189.7" y2="30.7"/><linearGradient id="a58" href="#c" x1="69.9" y1="41" x2="108.9" y2="69.1"/><linearGradient id="a59" href="#c" x1="310.7" y1="486.8" x2="172.5" y2="32.9"/><linearGradient id="a5a" href="#c" x1="51" y1="107.3" x2="56.4" y2="111.2"/><linearGradient id="a5b" href="#c" x1="58.8" y1="23.2" x2="120" y2="62.9"/><linearGradient id="a5c" href="#c" x1="66.3" y1="75.6" x2="83.5" y2="88.2"/><linearGradient id="a5d" href="#c" x1="352.3" y1="222.3" x2="187.2" y2="29.8"/><linearGradient id="a5f" href="#c" x1="34.7" y1="3.9" x2="130.8" y2="56.9"/><linearGradient id="a5g" href="#c" x1="-300.8" y1="441.7" x2="160.1" y2="31.5"/><linearGradient id="a5h" href="#c" x1="-13.3" y1="-13.3" x2="141.2" y2="50.7"/><linearGradient id="a5i" href="#c" x1="-263.7" y1="89.5" x2="157.7" y2="36.6"/><linearGradient id="a5j" href="#c" x1="-106.3" y1="-10.5" x2="150.6" y2="44"/><linearGradient id="a5k" href="#c" x1="341.1" y1="166.7" x2="192.4" y2="31.3"/><linearGradient id="a5l" href="#c" x1="66.8" y1="61.2" x2="95.5" y2="80.9"/><linearGradient id="a5m" href="#c" x1="331.8" y1="277.6" x2="183.2" y2="30.8"/><linearGradient id="a5n" href="#c" x1="57.2" y1="94.4" x2="68.5" y2="102.3"/><linearGradient id="a5o" href="#c" x1="61.9" y1="45.7" x2="107.5" y2="74"/><linearGradient id="a5p" href="#c" x1="290.2" y1="342" x2="177.1" y2="32.7"/><linearGradient id="a5q" href="#c" x1="46.2" y1="113.5" x2="52.9" y2="118.1"/><linearGradient id="a5r" href="#c" x1="331.9" y1="202" x2="190.5" y2="30"/><linearGradient id="a5s" href="#c" x1="60.8" y1="80.7" x2="81" y2="94.2"/><linearGradient id="a5t" href="#c" x1="48.5" y1="29.4" x2="119.3" y2="67.1"/><linearGradient id="a5u" href="#c" x1="210.5" y1="411.7" x2="169.2" y2="34.1"/><linearGradient id="a5v" href="#c" x1="20.8" y1="14.7" x2="130.8" y2="60"/><linearGradient id="a5w" href="#c" x1="63.9" y1="455.3" x2="160.8" y2="33.4"/><linearGradient id="a5x" href="#c" x1="312.5" y1="240.3" x2="186.9" y2="30.6"/><linearGradient id="a5y" href="#c" x1="-30.4" y1="10.5" x2="141.7" y2="52.3"/><linearGradient id="a5z" href="#c" x1="-127.9" y1="377.1" x2="156.2" y2="31.3"/><linearGradient id="a60" href="#c" x1="52.2" y1="100.2" x2="65.7" y2="109"/><linearGradient id="a61" href="#c" x1="60.6" y1="66.3" x2="93.7" y2="86.5"/><linearGradient id="a62" href="#c" x1="-113" y1="44.4" x2="150.7" y2="43.3"/><linearGradient id="a63" href="#c" x1="-191.2" y1="174.6" x2="155.3" y2="34.5"/><linearGradient id="a64" href="#c" x1="321.2" y1="187.1" x2="193.2" y2="30.4"/><linearGradient id="a65" href="#c" x1="281.6" y1="280.4" x2="181.4" y2="32.4"/><linearGradient id="a66" href="#c" x1="54.8" y1="51.4" x2="106.3" y2="79"/><linearGradient id="a67" href="#c" x1="55.6" y1="86.4" x2="78.8" y2="100.5"/><linearGradient id="a68" href="#c" x1="235.5" y1="321.1" x2="174" y2="34.1"/><linearGradient id="a69" href="#c" x1="39.9" y1="36.9" x2="118.8" y2="71.2"/><linearGradient id="a6a" href="#c" x1="303.9" y1="216.8" x2="190.2" y2="30.6"/><linearGradient id="a6b" href="#c" x1="166.6" y1="357.8" x2="165.5" y2="34.7"/><linearGradient id="a6c" href="#c" x1="47.4" y1="106.6" x2="62.9" y2="115.9"/><linearGradient id="a6d" href="#c" x1="10.7" y1="27.2" x2="131" y2="62.9"/><linearGradient id="a6e" href="#c" x1="55.1" y1="72.1" x2="92" y2="92.3"/><linearGradient id="a6f" href="#c" x1="64.9" y1="373.2" x2="157.4" y2="33.4"/><linearGradient id="a6g" href="#c" x1="-38.4" y1="34.1" x2="142" y2="53.2"/><linearGradient id="a6h" href="#c" x1="-58.2" y1="326.7" x2="152.8" y2="31.2"/><linearGradient id="a6i" href="#c" x1="-101.5" y1="84.7" x2="149.9" y2="42.4"/><linearGradient id="a6j" href="#c" x1="278.7" y1="246.1" x2="185.4" y2="32"/><linearGradient id="a6k" href="#c" x1="-129.4" y1="201.9" x2="152.4" y2="33.4"/><linearGradient id="a6l" href="#c" x1="48.7" y1="57.8" x2="105.3" y2="84"/><linearGradient id="a6m" href="#c" x1="50.8" y1="92.6" x2="76.5" y2="107"/><linearGradient id="a6n" href="#c" x1="245.2" y1="274.3" x2="178.6" y2="33.8"/><linearGradient id="a6o" href="#c" x1="300.3" y1="200.2" x2="193.1" y2="30.6"/><linearGradient id="a6p" href="#c" x1="33.1" y1="45.3" x2="118.5" y2="75.3"/><linearGradient id="a6q" href="#c" x1="201.4" y1="300.5" x2="170.4" y2="35"/><linearGradient id="a6r" href="#c" x1="50.1" y1="78.5" x2="90.4" y2="98.2"/><linearGradient id="a6s" href="#c" x1="4.3" y1="39.9" x2="131.2" y2="65.5"/><linearGradient id="a6t" href="#c" x1="278.8" y1="223.8" x2="189" y2="31.7"/><linearGradient id="a6u" href="#c" x1="143" y1="321.3" x2="161.7" y2="35"/><linearGradient id="a6v" href="#c" x1="-39.6" y1="54.5" x2="142" y2="54"/><linearGradient id="a6w" href="#c" x1="65.6" y1="326" x2="154" y2="33.3"/><linearGradient id="a6x" href="#c" x1="-84.6" y1="110" x2="148.5" y2="41.8"/><linearGradient id="a6y" href="#c" x1="-24.2" y1="292.4" x2="149.7" y2="31.2"/><linearGradient id="a6z" href="#c" x1="-87.7" y1="206.8" x2="149.5" y2="32.9"/><linearGradient id="a70" href="#c" x1="43.5" y1="64.8" x2="104.3" y2="89.2"/><linearGradient id="a71" href="#c" x1="46.3" y1="99.3" x2="74.4" y2="113.7"/><linearGradient id="a72" href="#c" x1="251.7" y1="245.8" x2="182.9" y2="33.4"/><linearGradient id="a73" href="#c" x1="28.1" y1="53.9" x2="118.2" y2="79.4"/><linearGradient id="a74" href="#c" x1="218.8" y1="265.9" x2="175.3" y2="35"/><linearGradient id="a75" href="#c" x1="280.5" y1="208" x2="192.2" y2="31.6"/><linearGradient id="a76" href="#c" x1="45.8" y1="85.3" x2="88.8" y2="104.3"/><linearGradient id="a77" href="#c" x1="0.7" y1="51.8" x2="131.2" y2="68.1"/><linearGradient id="a78" href="#c" x1="178.4" y1="283.5" x2="166.7" y2="35.7"/><linearGradient id="a79" href="#c" x1="-37.1" y1="70.7" x2="141.7" y2="55"/><linearGradient id="a7a" href="#c" x1="128" y1="295.8" x2="158" y2="35.1"/><linearGradient id="a7b" href="#c" x1="257.4" y1="226.5" x2="186.8" y2="33.1"/><linearGradient id="a7c" href="#c" x1="39.3" y1="72.2" x2="103.4" y2="94.4"/><linearGradient id="a7d" href="#c" x1="-68.3" y1="124.7" x2="146.9" y2="41.6"/><linearGradient id="a7e" href="#c" x1="65" y1="295.5" x2="150.7" y2="33.2"/><linearGradient id="a7f" href="#c" x1="-60.4" y1="204.1" x2="146.9" y2="32.9"/><linearGradient id="a7g" href="#c" x1="-5.7" y1="268.4" x2="146.8" y2="31.2"/><linearGradient id="a7h" href="#c" x1="230.2" y1="243.1" x2="179.8" y2="34.7"/><linearGradient id="a7i" href="#c" x1="24.5" y1="62.5" x2="117.8" y2="83.5"/><linearGradient id="a7j" href="#c" x1="41.9" y1="92.5" x2="87.2" y2="110.5"/><linearGradient id="a7k" href="#c" x1="198.7" y1="257.8" x2="171.7" y2="35.9"/><linearGradient id="a7l" href="#c" x1="-0.6" y1="62.6" x2="131.1" y2="70.8"/><linearGradient id="a7m" href="#c" x1="262.8" y1="212.3" x2="190.4" y2="32.8"/><linearGradient id="a7n" href="#c" x1="161.6" y1="269.9" x2="162.9" y2="36.1"/><linearGradient id="a7o" href="#c" x1="-32.6" y1="83.1" x2="141.1" y2="56.2"/><linearGradient id="a7p" href="#c" x1="35.9" y1="79.7" x2="102.4" y2="99.9"/><linearGradient id="a7q" href="#c" x1="117" y1="277.3" x2="154.4" y2="35.1"/><linearGradient id="a7r" href="#c" x1="-54.6" y1="132.8" x2="145.3" y2="42"/><linearGradient id="a7s" href="#c" x1="63.4" y1="274.2" x2="147.5" y2="33.1"/><linearGradient id="a7t" href="#c" x1="-42.3" y1="199" x2="144.6" y2="33.1"/><linearGradient id="a7u" href="#c" x1="4.7" y1="250.6" x2="144.1" y2="31.2"/><linearGradient id="a7v" href="#c" x1="239.3" y1="226.9" x2="184.1" y2="34.4"/><linearGradient id="a7w" href="#c" x1="22.2" y1="71" x2="117.3" y2="87.9"/><linearGradient id="a7x" href="#c" x1="212.8" y1="239.7" x2="176.4" y2="35.8"/><linearGradient id="a7y" href="#c" x1="-0.5" y1="72.1" x2="130.8" y2="73.8"/><linearGradient id="a7z" href="#c" x1="182.9" y1="250.6" x2="167.9" y2="36.5"/><linearGradient id="a80" href="#c" x1="33.2" y1="87.5" x2="101.3" y2="105.5"/><linearGradient id="a81" href="#c" x1="-27.6" y1="92.5" x2="140.4" y2="57.8"/><linearGradient id="a82" href="#c" x1="247.2" y1="214.6" x2="188" y2="34"/><linearGradient id="a83" href="#c" x1="148.4" y1="259.2" x2="159.1" y2="36.3"/><linearGradient id="a84" href="#c" x1="-43.5" y1="137.2" x2="143.9" y2="42.8"/><linearGradient id="a85" href="#c" x1="108.1" y1="263.3" x2="150.9" y2="35"/><linearGradient id="a86" href="#c" x1="-30.2" y1="193.4" x2="142.6" y2="33.5"/><linearGradient id="a87" href="#c" x1="20.7" y1="79.2" x2="116.7" y2="92.5"/><linearGradient id="a88" href="#c" x1="61" y1="258.5" x2="144.5" y2="32.9"/><linearGradient id="a89" href="#c" x1="10.7" y1="237" x2="141.7" y2="31.3"/><linearGradient id="a8a" href="#c" x1="223.9" y1="226.2" x2="180.9" y2="35.5"/><linearGradient id="a8b" href="#c" x1="0.5" y1="80.6" x2="130.3" y2="77.1"/><linearGradient id="a8c" href="#c" x1="198.2" y1="236.2" x2="172.8" y2="36.6"/><linearGradient id="a8d" href="#c" x1="-22.5" y1="99.6" x2="139.7" y2="59.9"/><linearGradient id="a8e" href="#c" x1="169.7" y1="244.5" x2="164" y2="37"/><linearGradient id="a8f" href="#c" x1="-34.7" y1="139.3" x2="142.6" y2="44.1"/><linearGradient id="a8g" href="#c" x1="19.9" y1="87.1" x2="115.9" y2="97.4"/><linearGradient id="a8h" href="#c" x1="137.4" y1="250.6" x2="155.3" y2="36.4"/><linearGradient id="a8i" href="#c" x1="233.4" y1="215.7" x2="185.1" y2="35.2"/><linearGradient id="a8j" href="#c" x1="-21.8" y1="187.9" x2="140.9" y2="34.2"/><linearGradient id="a8k" href="#c" x1="100.3" y1="252.5" x2="147.4" y2="34.9"/><linearGradient id="a8l" href="#c" x1="13.8" y1="226.1" x2="139.5" y2="31.4"/><linearGradient id="a8m" href="#c" x1="58" y1="246.3" x2="141.7" y2="32.7"/><linearGradient id="a8n" href="#c" x1="2.1" y1="88.2" x2="129.7" y2="80.9"/><linearGradient id="a8o" href="#c" x1="210.5" y1="225.1" x2="177.5" y2="36.5"/><linearGradient id="a8p" href="#c" x1="-17.7" y1="105.2" x2="139" y2="62.6"/><linearGradient id="a8q" href="#c" x1="185.7" y1="233" x2="169" y2="37.2"/><linearGradient id="a8r" href="#c" x1="-27.6" y1="140.2" x2="141.6" y2="45.8"/><linearGradient id="a8s" href="#c" x1="158.4" y1="239.4" x2="160.2" y2="37.3"/><linearGradient id="a8t" href="#c" x1="-16" y1="182.8" x2="139.5" y2="35.1"/><linearGradient id="a8u" href="#c" x1="127.8" y1="243.6" x2="151.6" y2="36.4"/><linearGradient id="a8v" href="#c" x1="15.2" y1="217.1" x2="137.6" y2="31.6"/><linearGradient id="a8w" href="#c" x1="93.2" y1="243.8" x2="144.2" y2="34.6"/><linearGradient id="a8x" href="#c" x1="54.6" y1="236.6" x2="139.1" y2="32.5"/><linearGradient id="a8y" href="#c" x1="221" y1="216.2" x2="181.8" y2="36.2"/><linearGradient id="a8z" href="#c" x1="4" y1="95.2" x2="129.1" y2="85.1"/><linearGradient id="a90" href="#c" x1="198.7" y1="223.8" x2="173.8" y2="37.3"/><linearGradient id="a91" href="#c" x1="-13.3" y1="109.8" x2="138.3" y2="65.7"/><linearGradient id="a92" href="#c" x1="174.6" y1="230.2" x2="165.1" y2="37.7"/><linearGradient id="a93" href="#c" x1="-21.8" y1="140.4" x2="140.8" y2="48"/><linearGradient id="a94" href="#c" x1="148.3" y1="235.2" x2="156.3" y2="37.4"/><linearGradient id="a95" href="#c" x1="-11.8" y1="178.1" x2="138.4" y2="36.3"/><linearGradient id="a96" href="#c" x1="119.1" y1="237.9" x2="148" y2="36.3"/><linearGradient id="a97" href="#c" x1="15.5" y1="209.6" x2="135.9" y2="32"/><linearGradient id="a98" href="#c" x1="86.5" y1="236.7" x2="141.1" y2="34.4"/><linearGradient id="a99" href="#c" x1="50.9" y1="228.6" x2="136.7" y2="32.3"/><linearGradient id="a9a" href="#c" x1="209.9" y1="216.3" x2="178.4" y2="37.1"/><linearGradient id="a9b" href="#c" x1="-9.2" y1="113.8" x2="137.7" y2="69.4"/><linearGradient id="a9c" href="#c" x1="188" y1="222.6" x2="170" y2="37.9"/><linearGradient id="a9d" href="#c" x1="-17" y1="140.3" x2="140.3" y2="50.6"/><linearGradient id="a9e" href="#c" x1="164.5" y1="227.8" x2="161.2" y2="38.1"/><linearGradient id="a9f" href="#c" x1="-8.8" y1="173.8" x2="137.7" y2="37.8"/><linearGradient id="a9g" href="#c" x1="139" y1="231.6" x2="152.5" y2="37.5"/><linearGradient id="a9h" href="#c" x1="15.1" y1="203" x2="134.6" y2="32.5"/><linearGradient id="a9i" href="#c" x1="111" y1="233" x2="144.5" y2="36.1"/><linearGradient id="a9j" href="#c" x1="47.1" y1="221.7" x2="134.5" y2="32.2"/><linearGradient id="a9k" href="#c" x1="80.1" y1="230.7" x2="138.2" y2="34.1"/><linearGradient id="a9l" href="#c" x1="199.6" y1="216.3" x2="174.7" y2="37.9"/><linearGradient id="a9m" href="#c" x1="-12.8" y1="140.2" x2="139.9" y2="53.8"/><linearGradient id="a9n" href="#c" x1="178.1" y1="221.6" x2="166.1" y2="38.4"/><linearGradient id="a9o" href="#c" x1="-6.4" y1="170.1" x2="137.3" y2="39.7"/><linearGradient id="a9p" href="#c" x1="155.2" y1="225.8" x2="157.3" y2="38.3"/><linearGradient id="a9q" href="#c" x1="14.3" y1="197.3" x2="133.6" y2="33.2"/><linearGradient id="a9r" href="#c" x1="130.4" y1="228.5" x2="148.8" y2="37.4"/><linearGradient id="a9s" href="#c" x1="43.2" y1="215.8" x2="132.7" y2="32.2"/><linearGradient id="a9t" href="#c" x1="103.4" y1="228.9" x2="141.2" y2="35.8"/><linearGradient id="a9u" href="#c" x1="74" y1="225.5" x2="135.5" y2="33.7"/><linearGradient id="a9v" href="#c" x1="190.1" y1="216.2" x2="170.9" y2="38.5"/><linearGradient id="a9w" href="#c" x1="-4.5" y1="166.7" x2="137.1" y2="42"/><linearGradient id="a9x" href="#c" x1="169" y1="220.7" x2="162.2" y2="38.8"/><linearGradient id="a9y" href="#c" x1="13.2" y1="192.1" x2="133" y2="34.1"/><linearGradient id="a9z" href="#c" x1="146.5" y1="224" x2="153.4" y2="38.4"/><linearGradient id="aa0" href="#c" x1="39.3" y1="210.5" x2="131.2" y2="32.3"/><linearGradient id="aa1" href="#c" x1="122.3" y1="225.8" x2="145.2" y2="37.2"/><linearGradient id="aa2" href="#c" x1="68" y1="220.9" x2="133.1" y2="33.4"/><linearGradient id="aa3" href="#c" x1="96.1" y1="225.3" x2="138.1" y2="35.5"/><linearGradient id="aa4" href="#c" x1="181.1" y1="216.2" x2="167" y2="39"/><linearGradient id="aa5" href="#c" x1="160.3" y1="219.9" x2="158.2" y2="39"/><linearGradient id="aa6" href="#c" x1="12.1" y1="187.6" x2="132.7" y2="35.4"/><linearGradient id="aa7" href="#c" x1="138.2" y1="222.5" x2="149.6" y2="38.3"/><linearGradient id="aa8" href="#c" x1="35.5" y1="205.7" x2="130.1" y2="32.5"/><linearGradient id="aa9" href="#c" x1="114.5" y1="223.5" x2="141.7" y2="37"/><linearGradient id="aaa" href="#c" x1="62.3" y1="216.8" x2="131" y2="33.2"/><linearGradient id="aab" href="#c" x1="89.1" y1="222.1" x2="135.1" y2="35.1"/><linearGradient id="aac" href="#c" x1="172.5" y1="216.2" x2="163" y2="39.3"/><linearGradient id="aad" href="#c" x1="152" y1="219.2" x2="154.3" y2="39.1"/><linearGradient id="aae" href="#c" x1="31.9" y1="201.3" x2="129.3" y2="33"/><linearGradient id="aaf" href="#c" x1="130.2" y1="221.1" x2="145.9" y2="38.2"/><linearGradient id="aag" href="#c" x1="56.8" y1="212.9" x2="129.2" y2="33"/><linearGradient id="aah" href="#c" x1="107" y1="221.4" x2="138.4" y2="36.6"/><linearGradient id="aai" href="#c" x1="82.4" y1="219.1" x2="132.5" y2="34.7"/><linearGradient id="aaj" href="#c" x1="164.3" y1="216.2" x2="159.1" y2="39.5"/><linearGradient id="aak" href="#c" x1="144" y1="218.7" x2="150.5" y2="39"/><linearGradient id="aal" href="#c" x1="51.6" y1="209.4" x2="127.8" y2="32.9"/><linearGradient id="aam" href="#c" x1="122.5" y1="219.9" x2="142.3" y2="37.9"/><linearGradient id="aan" href="#c" x1="75.9" y1="216.4" x2="130.1" y2="34.2"/><linearGradient id="aao" href="#c" x1="99.8" y1="219.5" x2="135.3" y2="36.2"/><linearGradient id="aap" href="#c" x1="156.4" y1="216.3" x2="155.1" y2="39.6"/><linearGradient id="aaq" href="#c" x1="136.2" y1="218.2" x2="146.7" y2="38.9"/><linearGradient id="aar" href="#c" x1="69.7" y1="213.7" x2="128.1" y2="33.8"/><linearGradient id="aas" href="#c" x1="115.1" y1="218.8" x2="138.9" y2="37.5"/><linearGradient id="aat" href="#c" x1="92.8" y1="217.6" x2="132.4" y2="35.7"/><linearGradient id="aau" href="#c" x1="148.6" y1="216.4" x2="151.2" y2="39.6"/><linearGradient id="aav" href="#c" x1="128.7" y1="217.7" x2="143" y2="38.6"/><linearGradient id="aaw" href="#c" x1="107.8" y1="217.7" x2="135.6" y2="37.1"/><linearGradient id="aax" href="#c" x1="86" y1="215.8" x2="129.9" y2="35.2"/><linearGradient id="aay" href="#c" x1="141.1" y1="216.4" x2="147.4" y2="39.4"/><linearGradient id="aaz" href="#c" x1="121.3" y1="217.3" x2="139.5" y2="38.3"/><linearGradient id="ab0" href="#c" x1="100.7" y1="216.7" x2="132.7" y2="36.6"/><linearGradient id="ab1" href="#c" x1="133.7" y1="216.5" x2="143.6" y2="39.1"/><linearGradient id="ab2" href="#c" x1="114.1" y1="216.8" x2="136.1" y2="37.8"/><linearGradient id="ab3" href="#c" x1="126.4" y1="216.4" x2="140.1" y2="38.7"/></defs>
<g class="sf" filter="url(#fz)"><path fill="url(#a0)" d="M115.3 56.6l5.2-5.5 4.3-1.1-5.3 5.4z"/><path fill="url(#a1)" d="M111.5 58.3l5.2-5.6 4.3-1.3-5.2 5.5z"/><path fill="url(#a2)" d="M119.7 52.3l5.3-5.1 4.2-.9-5.3 4.9z"/><path fill="url(#a3)" d="M107.7 60.2l5.2-5.7 4.3-1.5-5.2 5.6z"/><path fill="url(#a4)" d="M115.9 53.9l5.3-5.3 4.3-1.1-5.3 5.1z"/><path fill="url(#a5)" d="M124.1 48.3l5.5-4.7 4.2-.7-5.5 4.5z"/><path fill="url(#a6)" d="M103.8 62.4l5.2-5.9 4.3-1.7-5.1 5.7z"/><path fill="url(#a7)" d="M112.1 55.7l5.3-5.3 4.3-1.4-5.3 5.2z"/><path fill="url(#a8)" d="M120.3 49.8l5.5-4.8 4.2-1-5.4 4.7z"/><path fill="url(#a9)" d="M128.6 44.8l5.7-4.3 4.1-.6-5.6 4.1z"/><path fill="url(#aa)" d="M99.9 64.9l5.1-6 4.4-2.1-5.1 5.9z"/><path fill="url(#ab)" d="M108.2 57.8l5.3-5.5 4.3-1.6-5.3 5.3z"/><path fill="url(#ac)" d="M116.5 51.6l5.4-5 4.3-1.3-5.4 4.9z"/><path fill="url(#ad)" d="M124.9 46.2l5.6-4.4 4.2-.9-5.7 4.2z"/><path fill="url(#ae)" d="M133.2 41.6l5.8-3.8 4.1-.5-5.8 3.6z"/><path fill="url(#af)" d="M95.9 67.6l5.1-6.2 4.5-2.3-5.1 6z"/><path fill="url(#ag)" d="M104.2 60.1l5.3-5.6 4.4-1.9-5.3 5.5z"/><path fill="url(#ah)" d="M112.6 53.5l5.4-5 4.4-1.6-5.5 5z"/><path fill="url(#ai)" d="M121 47.8l5.6-4.5 4.3-1.2-5.7 4.4z"/><path fill="url(#aj)" d="M129.4 42.8l5.8-3.9 4.1-.8-5.7 3.8z"/><path fill="url(#ak)" d="M137.9 38.8l5.9-3.3 4-.5-5.9 3.2z"/><path fill="url(#al)" d="M91.8 70.5l5.1-6.3 4.5-2.5-5 6.1z"/><path fill="url(#am)" d="M100.2 62.7l5.2-5.7 4.5-2.2-5.2 5.6z"/><path fill="url(#an)" d="M108.7 55.8l5.4-5.3 4.3-1.7-5.4 5.1z"/><path fill="url(#ao)" d="M117.1 49.6l5.6-4.6 4.3-1.4-5.6 4.5z"/><path fill="url(#ap)" d="M125.6 44.4l5.8-4.1 4.2-1-5.8 3.9z"/><path fill="url(#aq)" d="M87.7 73.7l5-6.4 4.6-2.8-5 6.2z"/><path fill="url(#ar)" d="M134.1 39.9l5.9-3.4 4.1-.7-6 3.3z"/><path fill="url(#as)" d="M142.6 36.4l6.1-2.8 4-.4-6.2 2.7z"/><path fill="url(#at)" d="M96.2 65.5l5.2-5.8 4.5-2.5-5.2 5.8z"/><path fill="url(#au)" d="M104.6 58.2l5.4-5.3 4.5-2.1-5.4 5.3z"/><path fill="url(#av)" d="M113.2 51.7l5.5-4.7 4.4-1.7-5.6 4.7z"/><path fill="url(#aw)" d="M83.6 77.1l4.9-6.5 4.7-3.1-5 6.4z"/><path fill="url(#ax)" d="M121.7 46.1l5.8-4.2 4.2-1.3-5.8 4.1z"/><path fill="url(#ay)" d="M130.3 41.3l5.9-3.5 4.1-1-6 3.4z"/><path fill="url(#az)" d="M147.4 34.4l6.3-2.2 3.8-.3-6.3 2z"/><path fill="url(#a10)" d="M138.8 37.4l6.2-2.9 3.9-.6-6.1 2.8z"/><path fill="url(#a11)" d="M92.1 68.6l5.1-6 4.6-2.7-5.2 5.9z"/><path fill="url(#a12)" d="M100.6 60.9l5.3-5.4 4.5-2.3-5.4 5.3z"/><path fill="url(#a13)" d="M109.1 54.1l5.6-4.9 4.4-2-5.6 4.8z"/><path fill="url(#a14)" d="M79.4 80.8l4.9-6.6 4.7-3.4-4.9 6.5z"/><path fill="url(#a15)" d="M117.7 48.1l5.8-4.3 4.3-1.6-5.8 4.2z"/><path fill="url(#a16)" d="M152.3 32.8l6.4-1.6 3.8-.2-6.5 1.3z"/><path fill="url(#a17)" d="M126.4 43l5.9-3.7 4.2-1.2-6 3.5z"/><path fill="url(#a18)" d="M143.6 35.3l6.4-2.3 3.8-.6-6.3 2.2z"/><path fill="url(#a19)" d="M135 38.7l6.2-3 4-.9-6.2 2.9z"/><path fill="url(#a1a)" d="M87.9 71.9l5.1-6.1 4.7-2.9-5.2 6z"/><path fill="url(#a1b)" d="M96.5 63.9l5.3-5.6 4.5-2.6-5.3 5.5z"/><path fill="url(#a1c)" d="M75.1 84.8l4.9-6.8 4.8-3.6-4.9 6.6z"/><path fill="url(#a1d)" d="M105.1 56.7l5.5-5 4.5-2.2-5.6 4.9z"/><path fill="url(#a1e)" d="M113.7 50.4l5.8-4.5 4.3-1.8-5.8 4.3z"/><path fill="url(#a1f)" d="M157.2 31.7l6.6-.9 3.7-.3-6.6.7z"/><path fill="url(#a1g)" d="M122.4 44.9l6-3.8 4.2-1.5-6 3.6z"/><path fill="url(#a1h)" d="M83.7 75.5l5-6.2 4.8-3.2-5.1 6.1z"/><path fill="url(#a1i)" d="M148.5 33.6l6.5-1.6 3.8-.6-6.5 1.5z"/><path fill="url(#a1j)" d="M131.1 40.2l6.2-3.1 4-1.2-6.2 3z"/><path fill="url(#a1k)" d="M139.8 36.5l6.4-2.4 3.9-.9-6.4 2.2z"/><path fill="url(#a1l)" d="M92.3 67.1l5.3-5.7 4.6-2.8-5.3 5.6z"/><path fill="url(#a1m)" d="M70.8 89l4.8-6.8 4.9-4-4.8 6.8z"/><path fill="url(#a1n)" d="M100.9 59.6l5.6-5.2 4.5-2.5-5.6 5.1z"/><path fill="url(#a1o)" d="M109.7 52.9l5.7-4.6 4.4-2.1-5.8 4.4z"/><path fill="url(#a1p)" d="M79.4 79.4l5-6.3 4.8-3.6-5 6.3z"/><path fill="url(#a1q)" d="M165.9 30.4l6.6 0-3.6.4-6.7.2z"/><path fill="url(#a1r)" d="M118.4 47l6-3.9 4.2-1.8-6 3.8z"/><path fill="url(#a1s)" d="M157.2 31.6l6.6-.8-3.7.6-6.6 1z"/><path fill="url(#a1t)" d="M127.2 42l6.2-3.2 4-1.5-6.2 3.1z"/><path fill="url(#a1u)" d="M148.5 33.6l6.5-1.5-3.8.9-6.5 1.7z"/><path fill="url(#a1v)" d="M135.9 37.9l6.4-2.5 3.9-1.2-6.4 2.3z"/><path fill="url(#a1w)" d="M88 70.6l5.3-5.8 4.7-3.1-5.3 5.7z"/><path fill="url(#a1x)" d="M66.4 93.5l4.7-6.9 5-4.2-4.7 6.8z"/><path fill="url(#a1y)" d="M96.8 62.7l5.5-5.3 4.5-2.7-5.6 5.1z"/><path fill="url(#a1z)" d="M75.1 83.5l4.9-6.4 4.9-3.8-5 6.3z"/><path fill="url(#a20)" d="M105.5 55.6l5.8-4.7 4.4-2.4-5.8 4.6z"/><path fill="url(#a21)" d="M171 30.2l6.7.7-3.7.4-6.7-.6z"/><path fill="url(#a22)" d="M114.3 49.4l6-4 4.3-2.1-6.1 3.8z"/><path fill="url(#a23)" d="M162.3 30.7l6.6 0-3.7.7-6.7.2z"/><path fill="url(#a24)" d="M123.1 44l6.3-3.3 4.1-1.8-6.3 3.2z"/><path fill="url(#a25)" d="M153.5 32.2l6.6-.8-3.8 1-6.6.9z"/><path fill="url(#a26)" d="M83.8 74.4l5.2-6 4.7-3.4-5.2 5.9z"/><path fill="url(#a27)" d="M135.9 37.9l6.4-2.4-3.9 1.5-6.4 2.6z"/><path fill="url(#a28)" d="M144.7 34.5l6.5-1.5-3.8 1.2-6.6 1.8z"/><path fill="url(#a29)" d="M62 98.3l4.6-7 5.1-4.5-4.6 6.9z"/><path fill="url(#a2a)" d="M92.5 66.1l5.5-5.4 4.6-3.1-5.6 5.3z"/><path fill="url(#a2b)" d="M70.7 88l4.8-6.6 5-4.1-4.9 6.5z"/><path fill="url(#a2c)" d="M176.2 30.4l6.6 1.4-3.7.4-6.7-1.2z"/><path fill="url(#a2d)" d="M101.3 58.6l5.8-4.7 4.4-2.8-5.8 4.7z"/><path fill="url(#a2e)" d="M167.4 30.4l6.6.6-3.7.7-6.7-.5z"/><path fill="url(#a2f)" d="M110.2 52l6-4.1 4.3-2.4-6.1 3.9z"/><path fill="url(#a2g)" d="M57.6 103.3l4.4-7 5.3-4.9-4.5 7z"/><path fill="url(#a2h)" d="M79.4 78.4l5.2-6 4.8-3.7-5.2 5.9z"/><path fill="url(#a2i)" d="M158.5 31.2l6.7-.1-3.8 1.1-6.7.2z"/><path fill="url(#a2j)" d="M123.1 44l6.3-3.2-4.1 2.2-6.2 3.3z"/><path fill="url(#a2k)" d="M149.7 33l6.6-.8-3.9 1.3-6.6 1.1z"/><path fill="url(#a2l)" d="M131.9 39.4l6.5-2.4-4 1.9-6.4 2.6z"/><path fill="url(#a2m)" d="M140.8 35.7l6.6-1.6-4 1.7-6.5 1.8z"/><path fill="url(#a2n)" d="M88.2 69.8l5.5-5.6 4.6-3.3-5.5 5.4z"/><path fill="url(#a2o)" d="M66.2 92.6l4.8-6.6 5.1-4.4-4.7 6.6z"/><path fill="url(#a2p)" d="M181.4 31.2l6.6 2-3.7.3-6.7-1.8z"/><path fill="url(#a2q)" d="M97.1 61.9l5.8-4.8 4.4-3.1-5.9 4.7z"/><path fill="url(#a2r)" d="M172.6 30.5l6.6 1.3-3.8.7-6.7-1.1z"/><path fill="url(#a2s)" d="M53 108.7l4.3-7.1 5.5-5.2-4.2 6.9z"/><path fill="url(#a2t)" d="M110.1 52l6.2-4-4.2 2.8-6.1 4.2z"/><path fill="url(#a2u)" d="M75 82.8l5.1-6.2 4.9-4-5.1 6.1z"/><path fill="url(#a2v)" d="M163.7 30.8l6.6.6-3.8 1-6.7-.4z"/><path fill="url(#a2w)" d="M119 46.1l6.3-3.2-4.1 2.6-6.3 3.4z"/><path fill="url(#a2x)" d="M154.8 32l6.6-.2-3.9 1.4-6.6.3z"/><path fill="url(#a2y)" d="M127.9 41.2l6.5-2.4-4 2.3-6.5 2.6z"/><path fill="url(#a2z)" d="M145.8 34.1l6.6-.9-3.9 1.7-6.6 1.1z"/><path fill="url(#a30)" d="M136.9 37.2l6.5-1.7-4 2.1-6.5 1.8z"/><path fill="url(#a31)" d="M83.9 73.7l5.4-5.6 4.7-3.6-5.6 5.4z"/><path fill="url(#a32)" d="M61.8 97.6l4.5-6.7 5.3-4.7-4.5 6.6z"/><path fill="url(#a33)" d="M186.7 32.5l6.6 2.6-3.8.2-6.6-2.4z"/><path fill="url(#a34)" d="M92.8 65.5l5.8-4.9 4.4-3.4-5.9 4.7z"/><path fill="url(#a35)" d="M48.5 114.3l4-6.9 5.7-5.8-4 6.8z"/><path fill="url(#a36)" d="M177.8 31.2l6.7 1.9-3.9.6-6.6-1.7z"/><path fill="url(#a37)" d="M70.6 87.4l4.9-6.3 5.1-4.3-5 6.2z"/><path fill="url(#a38)" d="M105.9 54.7l6.2-3.9-4.2 3.2-6.2 4.2z"/><path fill="url(#a39)" d="M168.9 30.9l6.7 1.2-3.9 1-6.7-1.1z"/><path fill="url(#a3a)" d="M114.8 48.4l6.4-3-4.1 3-6.4 3.3z"/><path fill="url(#a3b)" d="M160 31.5l6.6.4-4 1.4-6.6-.3z"/><path fill="url(#a3c)" d="M123.9 43.2l6.4-2.4-4.1 2.8-6.4 2.5z"/><path fill="url(#a3d)" d="M57.2 102.9l4.2-6.6 5.7-5.3-4.1 6.4z"/><path fill="url(#a3e)" d="M79.4 77.9l5.5-5.7 4.7-3.9-5.6 5.5z"/><path fill="url(#a3f)" d="M151 33l6.6-.2-4 1.7-6.7.4z"/><path fill="url(#a3g)" d="M192 34.3l6.6 3.2-3.8.1-6.6-3.1z"/><path fill="url(#a3h)" d="M132.9 38.8l6.5-1.6-4.1 2.4-6.5 1.9z"/><path fill="url(#a3i)" d="M141.9 35.4l6.6-.9-4 2.1-6.6 1.1z"/><path fill="url(#a3j)" d="M43.9 120.2l3.8-6.7 5.9-6.3-3.8 6.5z"/><path fill="url(#a3k)" d="M92.6 65.2l6.1-4.6-4.4 3.8-5.9 4.9z"/><path fill="url(#a3l)" d="M183.1 32.4l6.7 2.5-3.9.5-6.7-2.3z"/><path fill="url(#a3m)" d="M66.1 92.2l4.5-6.2 5.5-4.7-4.4 6z"/><path fill="url(#a3n)" d="M101.6 57.6l6.2-3.7-4.2 3.7-6.2 4z"/><path fill="url(#a3o)" d="M174.2 31.5l6.6 1.8-3.9.9-6.7-1.7z"/><path fill="url(#a3p)" d="M197.4 36.6l6.5 3.7-3.7.1-6.6-3.7z"/><path fill="url(#a3q)" d="M52.6 108.4l4-6.2 5.9-6-4 5.9z"/><path fill="url(#a3r)" d="M110.7 51l6.2-3-4.1 3.5-6.3 3.3z"/><path fill="#620000" d="M165.2 31.5l6.6 1.1-4 1.3-6.6-1z"/><path fill="url(#a3t)" d="M79.2 77.3l5.9-4.9-4.7 4.2-5.4 5.8z"/><path fill="url(#a3u)" d="M119.8 45.4l6.3-2.3-4.1 3.2-6.4 2.5z"/><path fill="url(#a3v)" d="M156.2 32.4l6.6.4-4.1 1.7-6.6-.3z"/><path fill="url(#a3w)" d="M39.2 126.5l3.8-6.5 5.9-7-3.8 6.3z"/><path fill="url(#a3x)" d="M128.9 40.7l6.4-1.6-4.1 2.9-6.5 1.8z"/><path fill="url(#a3y)" d="M147.1 34.2l6.5-.3-4.1 2.2-6.6.4z"/><path fill="url(#a3z)" d="M138 37l6.5-.9-4.2 2.5-6.5 1.1z"/><path fill="url(#a40)" d="M188.5 34.1l6.6 3.1-3.9.4-6.6-2.9z"/><path fill="url(#a41)" d="M88.3 68.4l6-4.1-4.3 4.6-6 4.6z"/><path fill="url(#a42)" d="M61.5 97.4l4.1-5.5 5.9-5.8-4.3 5.1z"/><path fill="url(#a43)" d="M179.5 32.6l6.6 2.4-3.9.8-6.7-2.3z"/><path fill="url(#a44)" d="M97.4 60.7l6-3.5-4.2 4.4-6.2 3.8z"/><path fill="url(#a45)" d="M202.8 39.4l6.5 4.3-3.7 0-6.6-4.2z"/><path fill="url(#a46)" d="M48 114.3l4-5.9 5.9-6.7-4.1 5.7z"/><path fill="url(#a47)" d="M170.5 32l6.6 1.7-4 1.2-6.7-1.6z"/><path fill="url(#a48)" d="M75.6 81.1l5-4.3-5.3 6-4.8 4.4z"/><path fill="url(#a49)" d="M106.5 53.9l6.2-2.9-4.3 4-6.2 3.1z"/><path fill="url(#a4a)" d="M34.5 133l3.8-6.4 5.9-7.5-3.9 6.2z"/><path fill="url(#a4b)" d="M161.4 32.3l6.6 1-4.1 1.6-6.6-.8z"/><path fill="url(#a4c)" d="M115.6 48l6.3-2.3-4.3 3.7-6.3 2.4z"/><path fill="url(#a4d)" d="M193.9 36.3l6.6 3.7-3.9.3-6.6-3.5z"/><path fill="url(#a4e)" d="M152.3 33.6l6.6.3-4.2 2-6.6-.2z"/><path fill="url(#a4f)" d="M124.8 43l6.4-1.7-4.3 3.3-6.4 1.8z"/><path fill="url(#a4g)" d="M143.2 35.8l6.4-.4-4.2 2.5-6.5.5z"/><path fill="url(#a4h)" d="M134 38.9l6.4-1-4.2 2.9-6.5 1.1z"/><path fill="url(#a4i)" d="M84.2 72.2l5.6-3.9-4.7 5.6-5.6 4z"/><path fill="url(#a4j)" d="M56.9 102.9l4.3-5.3 5.7-6.5-4.4 5.1z"/><path fill="url(#a4k)" d="M208.2 42.7l6.6 5-3.8-.2-6.6-4.8z"/><path fill="url(#a4l)" d="M184.9 34.2l6.6 3-4 .7-6.6-2.9z"/><path fill="url(#a4m)" d="M43.3 120.4l4.1-5.8 5.8-7.2-4.2 5.7z"/><path fill="url(#a4n)" d="M93.2 64.2l5.8-3.4-4.5 5-5.9 3.6z"/><path fill="url(#a4o)" d="M175.8 33l6.7 2.3-4.1 1.1-6.7-2.2z"/><path fill="url(#a4p)" d="M71.2 85.9l4.9-4.5-5.4 6.4-4.8 4.5z"/><path fill="url(#a4q)" d="M102.3 57.1l6-2.9-4.5 4.6-6 3z"/><path fill="url(#a4r)" d="M199.3 39.1l6.6 4.2-3.8.2-6.7-4.1z"/><path fill="#610000" d="M166.7 32.7l6.6 1.6-4.1 1.5-6.7-1.4z"/><path fill="url(#a4t)" d="M111.5 50.8l6.1-2.3-4.4 4.1-6.2 2.5z"/><path fill="url(#a4u)" d="M57.8 101.6l4.5-5.1-5.7 6.9-4.4 5.3z"/><path fill="url(#a4v)" d="M213.7 46.6l6.5 5.5-3.7-.2-6.6-5.5z"/><path fill="url(#a4w)" d="M157.6 33.4l6.5.9-4.2 1.9-6.6-.7z"/><path fill="url(#a4x)" d="M80 76.5l5.3-3.9-5.1 6-5.3 4z"/><path fill="url(#a4y)" d="M120.7 45.5l6.2-1.7-4.4 3.7-6.3 1.8z"/><path fill="url(#a4z)" d="M148.4 35l6.5.2-4.3 2.4-6.6-.1z"/><path fill="url(#a50)" d="M190.3 36.3l6.6 3.6-3.9.6-6.7-3.5z"/><path fill="url(#a51)" d="M129.9 41l6.4-1-4.4 3.2-6.4 1.2z"/><path fill="url(#a52)" d="M139.1 37.5l6.5-.4-4.4 2.8-6.4.6z"/><path fill="url(#a53)" d="M38.6 126.9l4.1-5.8 5.8-7.6-4.2 5.7z"/><path fill="url(#a54)" d="M88.9 68.1l5.7-3.4-4.9 5.5-5.6 3.5z"/><path fill="url(#a55)" d="M181.2 34.5l6.7 2.9-4.1 1-6.7-2.8z"/><path fill="url(#a56)" d="M66.6 91l4.9-4.6-5.5 6.7-4.8 4.6z"/><path fill="url(#a57)" d="M204.8 42.3l6.6 4.9-3.9.1-6.6-4.8z"/><path fill="url(#a58)" d="M98 60.6l5.9-2.9-4.7 5-5.9 3z"/><path fill="url(#a59)" d="M172.1 33.6l6.6 2.2-4.2 1.4-6.6-2z"/><path fill="url(#a5a)" d="M53.1 107.3l4.5-5.1-5.7 7.2-4.4 5.3z"/><path fill="url(#a5b)" d="M107.2 54l6.1-2.4-4.7 4.6-6 2.4z"/><path fill="url(#a5c)" d="M75.5 81.2l5.2-4-5.2 6.3-5.2 4.1z"/><path fill="url(#a5d)" d="M195.8 39l6.6 4.1-4 .5-6.6-4z"/><path fill="#630000" d="M162.9 33.7l6.6 1.5-4.3 1.8-6.6-1.3z"/><path fill="url(#a5f)" d="M116.5 48.3l6.2-1.8-4.6 4.1-6.2 1.9z"/><path fill="url(#a5g)" d="M153.6 34.7l6.6.8-4.4 2.3-6.5-.7z"/><path fill="url(#a5h)" d="M125.8 43.5l6.3-1.2-4.6 3.6-6.3 1.3z"/><path fill="url(#a5i)" d="M144.4 36.7l6.4.1-4.4 2.8-6.5-.1z"/><path fill="url(#a5j)" d="M135.1 39.6l6.4-.5-4.5 3.2-6.4.6z"/><path fill="url(#a5k)" d="M210.3 46.1l6.6 5.4-3.8 0-6.7-5.3z"/><path fill="url(#a5l)" d="M84.6 72.4l5.4-3.5-5 5.8-5.5 3.6z"/><path fill="url(#a5m)" d="M186.7 36.6l6.6 3.4-4.1.9-6.6-3.3z"/><path fill="url(#a5n)" d="M62 96.3l4.8-4.6-5.5 7-4.8 4.7z"/><path fill="url(#a5o)" d="M93.7 64.5l5.7-3-4.9 5.4-5.7 3z"/><path fill="url(#a5p)" d="M177.5 35.1l6.6 2.7-4.1 1.3-6.7-2.6z"/><path fill="url(#a5q)" d="M48.3 113.4l4.5-5.3-5.7 7.7-4.4 5.3z"/><path fill="url(#a5r)" d="M201.3 42.2l6.6 4.7-3.9.4-6.7-4.7z"/><path fill="url(#a5s)" d="M71 86.2l5.1-4.1-5.4 6.6-5 4.2z"/><path fill="url(#a5t)" d="M102.9 57.5l5.9-2.5-4.7 4.9-6 2.6z"/><path fill="url(#a5u)" d="M168.3 34.5l6.6 2.1-4.3 1.7-6.7-1.9z"/><path fill="url(#a5v)" d="M112.2 51.4l6.1-1.9-4.7 4.4-6.1 2z"/><path fill="url(#a5w)" d="M159 34.9l6.5 1.4-4.3 2.2-6.6-1.3z"/><path fill="url(#a5x)" d="M192.2 39.1l6.6 4.1-4.1.7-6.6-3.9z"/><path fill="url(#a5y)" d="M121.6 46.2l6.2-1.3-4.7 4-6.2 1.4z"/><path fill="url(#a5z)" d="M149.6 36.3l6.6.7-4.5 2.6-6.5-.5z"/><path fill="url(#a60)" d="M57.3 102l4.7-4.7-5.5 7.3-4.7 4.8z"/><path fill="url(#a61)" d="M80.1 77l5.3-3.6-5.1 6.2-5.4 3.6z"/><path fill="url(#a62)" d="M130.9 41.9l6.4-.6-4.6 3.6-6.4.7z"/><path fill="url(#a63)" d="M140.3 38.7l6.4 0-4.5 3.1-6.5 0z"/><path fill="url(#a64)" d="M206.8 45.9l6.6 5.3-3.9.3-6.6-5.3z"/><path fill="url(#a65)" d="M183 37l6.6 3.4-4.2 1.2-6.7-3.3z"/><path fill="url(#a66)" d="M89.3 68.7l5.6-3.1-5.1 5.7-5.6 3.2z"/><path fill="url(#a67)" d="M66.4 91.5l5-4.2-5.4 6.9-5 4.3z"/><path fill="url(#a68)" d="M173.7 35.9l6.6 2.6-4.3 1.6-6.6-2.5z"/><path fill="url(#a69)" d="M98.6 61.2l5.8-2.5-5 5.3-5.8 2.6z"/><path fill="url(#a6a)" d="M197.7 42.2l6.6 4.6-4 .7-6.7-4.5z"/><path fill="url(#a6b)" d="M164.4 35.7l6.6 1.9-4.4 2.1-6.7-1.9z"/><path fill="url(#a6c)" d="M52.5 108l4.8-4.8-5.6 7.6-4.7 4.9z"/><path fill="url(#a6d)" d="M107.9 54.8l6-2-4.9 4.8-6 2z"/><path fill="url(#a6e)" d="M75.5 81.9l5.3-3.7-5.3 6.5-5.2 3.7z"/><path fill="url(#a6f)" d="M155 36.5l6.5 1.2-4.4 2.5-6.6-1.1z"/><path fill="url(#a6g)" d="M117.3 49.2l6.1-1.3-4.7 4.3-6.2 1.4z"/><path fill="url(#a6h)" d="M145.6 38.2l6.5.6-4.6 2.9-6.5-.4z"/><path fill="url(#a6i)" d="M126.7 44.6l6.3-.7-4.7 3.8-6.3.8z"/><path fill="url(#a6j)" d="M188.5 39.5l6.6 3.9-4.1 1.1-6.7-3.8z"/><path fill="url(#a6k)" d="M136.1 40.9l6.4-.1-4.6 3.4-6.4.2z"/><path fill="url(#a6l)" d="M84.8 73.2l5.5-3.2-5.2 6-5.5 3.3z"/><path fill="url(#a6m)" d="M61.7 97.1l4.9-4.3-5.5 7.2-4.9 4.4z"/><path fill="url(#a6n)" d="M179.2 37.7l6.6 3.3-4.2 1.5-6.7-3.2z"/><path fill="url(#a6o)" d="M203.3 45.8l6.6 5.3-4 .5-6.7-5.1z"/><path fill="url(#a6p)" d="M94.1 65.3l5.7-2.6-5 5.6-5.8 2.7z"/><path fill="url(#a6q)" d="M169.8 36.9l6.6 2.6-4.3 1.9-6.7-2.4z"/><path fill="url(#a6r)" d="M70.9 87.1l5.2-3.8-5.4 6.8-5.2 3.9z"/><path fill="url(#a6s)" d="M103.5 58.4l5.9-2-5 5.2-5.9 2.1z"/><path fill="url(#a6t)" d="M194 42.5l6.7 4.5-4.1 1-6.7-4.4z"/><path fill="url(#a6u)" d="M160.4 37.1l6.6 1.9-4.5 2.3-6.6-1.7z"/><path fill="url(#a6v)" d="M112.9 52.5l6.1-1.4-4.9 4.6-6.1 1.6z"/><path fill="url(#a6w)" d="M150.9 38.3l6.6 1.1-4.6 2.8-6.6-1z"/><path fill="url(#a6x)" d="M122.4 47.5l6.2-.8-4.8 4.2-6.2.9z"/><path fill="url(#a6y)" d="M141.4 40.4l6.5.5-4.7 3.2-6.5-.4z"/><path fill="url(#a6z)" d="M131.9 43.4l6.4-.1-4.8 3.7-6.3.3z"/><path fill="url(#a70)" d="M80.2 78l5.4-3.3-5.3 6.4-5.4 3.3z"/><path fill="url(#a71)" d="M56.9 103l4.9-4.4-5.5 7.5-4.9 4.5z"/><path fill="url(#a72)" d="M184.7 40.1l6.7 3.9-4.3 1.3-6.7-3.7z"/><path fill="url(#a73)" d="M89.6 69.7l5.6-2.7-5.2 6-5.6 2.8z"/><path fill="url(#a74)" d="M175.3 38.7l6.7 3.2-4.4 1.8-6.7-3.1z"/><path fill="url(#a75)" d="M199.6 46.1l6.7 5.1-4.1.8-6.7-5z"/><path fill="url(#a76)" d="M66.2 92.6l5.1-3.9-5.4 7.1-5.2 4z"/><path fill="url(#a77)" d="M99 62.5l5.9-2.2-5.1 5.5-5.9 2.2z"/><path fill="url(#a78)" d="M165.9 38.3l6.6 2.4-4.5 2.2-6.7-2.3z"/><path fill="url(#a79)" d="M108.5 56.1l6-1.5-5 5-6 1.6z"/><path fill="url(#a7a)" d="M156.3 38.8l6.6 1.7-4.6 2.7-6.6-1.6z"/><path fill="url(#a7b)" d="M190.3 43.1l6.7 4.4-4.2 1.2-6.8-4.3z"/><path fill="url(#a7c)" d="M75.5 83.1l5.4-3.4-5.4 6.7-5.3 3.4z"/><path fill="url(#a7d)" d="M118.1 50.7l6.1-.9-4.9 4.5-6.2 1z"/><path fill="url(#a7e)" d="M146.8 40.3l6.5 1.1-4.7 3.1-6.5-.9z"/><path fill="url(#a7f)" d="M127.6 46.3l6.3-.3-4.8 4.1-6.3.3z"/><path fill="url(#a7g)" d="M137.2 42.8l6.4.4-4.7 3.6-6.5-.3z"/><path fill="url(#a7h)" d="M180.9 41l6.7 3.8-4.4 1.6-6.7-3.6z"/><path fill="url(#a7i)" d="M84.9 74.5l5.6-2.8-5.2 6.2-5.6 2.9z"/><path fill="url(#a7j)" d="M61.4 98.4l5.1-4-5.6 7.5-5 4z"/><path fill="url(#a7k)" d="M171.4 40l6.7 3-4.5 2.1-6.7-2.9z"/><path fill="url(#a7l)" d="M94.5 66.8l5.7-2.3-5.1 5.8-5.8 2.3z"/><path fill="url(#a7m)" d="M195.9 46.5l6.7 5.1-4.2 1.1-6.7-4.9z"/><path fill="url(#a7n)" d="M161.8 39.9l6.7 2.3-4.6 2.6-6.7-2.3z"/><path fill="url(#a7o)" d="M104 60l6-1.6-5.1 5.3-6 1.7z"/><path fill="url(#a7p)" d="M70.8 88.5l5.3-3.4-5.4 7-5.3 3.5z"/><path fill="url(#a7q)" d="M152.2 40.8l6.6 1.6-4.7 3-6.6-1.5z"/><path fill="url(#a7r)" d="M113.6 54.2l6.2-1-5.1 4.9-6.1 1.1z"/><path fill="url(#a7s)" d="M142.6 42.7l6.5.9-4.8 3.5-6.5-.9z"/><path fill="url(#a7t)" d="M123.3 49.4l6.2-.4-4.9 4.4-6.3.5z"/><path fill="url(#a7u)" d="M132.9 45.5l6.4.3-4.9 3.9-6.4-.1z"/><path fill="url(#a7v)" d="M186.5 43.9l6.7 4.3-4.3 1.6-6.8-4.3z"/><path fill="url(#a7w)" d="M80.3 79.5l5.5-2.9-5.4 6.6-5.5 2.9z"/><path fill="url(#a7x)" d="M177 42.2l6.7 3.6-4.5 2-6.7-3.5z"/><path fill="url(#a7y)" d="M89.8 71.4l5.8-2.3-5.3 6.1-5.7 2.4z"/><path fill="url(#a7z)" d="M167.4 41.5l6.7 2.9-4.6 2.4-6.8-2.8z"/><path fill="url(#a80)" d="M66 94.2l5.2-3.5-5.5 7.3-5.2 3.7z"/><path fill="url(#a81)" d="M99.5 64.2l5.9-1.7-5.2 5.7-5.9 1.8z"/><path fill="url(#a82)" d="M192.2 47.3l6.7 4.9-4.3 1.4-6.8-4.8z"/><path fill="url(#a83)" d="M157.7 41.8l6.6 2.2-4.7 2.8-6.6-2.1z"/><path fill="url(#a84)" d="M109.1 58l6.1-1.1-5.1 5.2-6.1 1.2z"/><path fill="url(#a85)" d="M148 43l6.6 1.5-4.8 3.4-6.6-1.4z"/><path fill="url(#a86)" d="M118.8 52.8l6.3-.5-5.1 4.8-6.2.5z"/><path fill="url(#a87)" d="M75.5 84.8l5.5-3-5.4 6.9-5.5 3.1z"/><path fill="url(#a88)" d="M138.3 45.3l6.5.8-4.9 3.8-6.5-.7z"/><path fill="url(#a89)" d="M128.6 48.6l6.3.1-4.9 4.3-6.4-.1z"/><path fill="url(#a8a)" d="M182.6 44.9l6.7 4.3-4.4 1.8-6.8-4.1z"/><path fill="url(#a8b)" d="M85.1 76.3l5.7-2.4-5.4 6.5-5.6 2.5z"/><path fill="url(#a8c)" d="M173 43.6l6.7 3.5-4.6 2.3-6.7-3.4z"/><path fill="url(#a8d)" d="M94.8 68.8l5.9-1.9-5.3 6-5.9 2z"/><path fill="url(#a8e)" d="M163.3 43.3l6.7 2.8-4.7 2.7-6.7-2.7z"/><path fill="url(#a8f)" d="M104.6 62.1l6-1.2-5.2 5.6-6.1 1.3z"/><path fill="url(#a8g)" d="M70.7 90.5l5.4-3.1-5.5 7.2-5.4 3.2z"/><path fill="url(#a8h)" d="M153.5 43.9l6.7 2.1-4.8 3.2-6.7-2z"/><path fill="url(#a8i)" d="M188.3 48.3l6.8 4.8-4.5 1.7-6.8-4.7z"/><path fill="url(#a8j)" d="M114.3 56.5l6.2-.6-5.1 5.1-6.2.7z"/><path fill="url(#a8k)" d="M143.8 45.6l6.5 1.4-4.9 3.6-6.6-1.3z"/><path fill="url(#a8l)" d="M124.1 51.9l6.4 0-5.1 4.6-6.3.1z"/><path fill="url(#a8m)" d="M133.9 48.2l6.5.7-5 4.2-6.5-.6z"/><path fill="url(#a8n)" d="M80.4 81.6l5.6-2.6-5.5 6.8-5.6 2.7z"/><path fill="url(#a8o)" d="M178.6 46.3l6.8 4.1-4.6 2.2-6.7-4.1z"/><path fill="url(#a8p)" d="M90.1 73.6l5.8-1.9-5.4 6.3-5.8 2z"/><path fill="url(#a8q)" d="M168.9 45.3l6.7 3.4-4.6 2.6-6.8-3.3z"/><path fill="url(#a8r)" d="M99.9 66.6l6-1.3-5.3 5.8-6 1.5z"/><path fill="url(#a8s)" d="M159.1 45.3l6.7 2.7-4.8 3.1-6.7-2.6z"/><path fill="url(#a8t)" d="M109.7 60.6l6.2-.8-5.2 5.5-6.2.8z"/><path fill="url(#a8u)" d="M149.3 46.4l6.6 2-4.9 3.5-6.6-1.9z"/><path fill="url(#a8v)" d="M119.6 55.5l6.3-.1-5.1 5-6.3.2z"/><path fill="url(#a8w)" d="M139.4 48.4l6.5 1.3-5 4-6.5-1.2z"/><path fill="url(#a8x)" d="M129.5 51.5l6.4.6-5 4.4-6.5-.5z"/><path fill="url(#a8y)" d="M184.4 49.5l6.8 4.8-4.6 2-6.8-4.6z"/><path fill="url(#a8z)" d="M75.5 87.1l5.6-2.6-5.5 7.2-5.6 2.7z"/><path fill="url(#a90)" d="M174.6 47.9l6.8 4-4.7 2.5-6.8-3.9z"/><path fill="url(#a91)" d="M85.3 78.8l5.8-2.1-5.5 6.7-5.7 2.1z"/><path fill="url(#a92)" d="M164.8 47.3l6.7 3.3-4.8 2.9-6.7-3.2z"/><path fill="url(#a93)" d="M95.2 71.3l5.9-1.4-5.4 6.2-5.9 1.6z"/><path fill="url(#a94)" d="M154.9 47.7l6.7 2.6-4.9 3.4-6.7-2.5z"/><path fill="url(#a95)" d="M105.1 64.9l6.1-.8-5.3 5.8-6.1.9z"/><path fill="url(#a96)" d="M144.9 49.1l6.6 1.9-4.9 3.9-6.7-1.8z"/><path fill="url(#a97)" d="M115 59.4l6.3-.1-5.2 5.3-6.3.2z"/><path fill="url(#a98)" d="M135 51.5l6.5 1.2-5.1 4.4-6.5-1.1z"/><path fill="url(#a99)" d="M125 55l6.4.5-5.2 4.8-6.4-.4z"/><path fill="url(#a9a)" d="M180.3 51.1l6.9 4.6-4.7 2.4-6.8-4.6z"/><path fill="url(#a9b)" d="M80.5 84.2l5.7-2.1-5.5 7.1-5.7 2.2z"/><path fill="url(#a9c)" d="M170.5 49.8l6.8 3.9-4.8 2.8-6.8-3.8z"/><path fill="url(#a9d)" d="M90.4 76.4l5.9-1.5-5.5 6.6-5.9 1.6z"/><path fill="url(#a9e)" d="M160.5 49.6l6.8 3.2-4.9 3.2-6.8-3.1z"/><path fill="url(#a9f)" d="M100.4 69.6l6-1-5.4 6.2-6 1z"/><path fill="url(#a9g)" d="M150.5 50.4l6.7 2.4-5 3.8-6.7-2.4z"/><path fill="url(#a9h)" d="M110.4 63.7l6.2-.3-5.3 5.7-6.3.3z"/><path fill="url(#a9i)" d="M140.5 52.2l6.6 1.7-5.1 4.2-6.6-1.6z"/><path fill="url(#a9j)" d="M120.4 58.8l6.4.4-5.3 5.2-6.3-.3z"/><path fill="url(#a9k)" d="M130.5 55l6.5 1.1-5.2 4.7-6.5-1z"/><path fill="url(#a9l)" d="M176.2 52.9l6.9 4.5-4.7 2.7-6.9-4.4z"/><path fill="url(#a9m)" d="M85.5 81.8l5.9-1.6-5.6 6.9-5.8 1.7z"/><path fill="url(#a9n)" d="M166.3 52l6.8 3.8-4.9 3.2-6.8-3.8z"/><path fill="url(#a9o)" d="M95.6 74.6l6-1.1-5.5 6.5-6 1.1z"/><path fill="url(#a9p)" d="M156.2 52.2l6.8 3-5 3.6-6.8-2.9z"/><path fill="url(#a9q)" d="M105.6 68.3l6.2-.4-5.4 6-6.2.5z"/><path fill="url(#a9r)" d="M146.1 53.3l6.7 2.4-5.1 4.1-6.7-2.3z"/><path fill="url(#a9s)" d="M115.8 63l6.3.3-5.3 5.5-6.4-.2z"/><path fill="url(#a9t)" d="M136 55.5l6.6 1.7-5.2 4.5-6.6-1.5z"/><path fill="url(#a9u)" d="M125.9 58.8l6.5.9-5.3 5.1-6.5-.9z"/><path fill="url(#a9v)" d="M172.1 55l6.8 4.4-4.8 3.1-6.9-4.4z"/><path fill="url(#a9w)" d="M90.7 79.9l6-1.1-5.6 6.8-6 1.2z"/><path fill="url(#a9x)" d="M162 54.5l6.8 3.7-5 3.5-6.8-3.6z"/><path fill="url(#a9y)" d="M100.8 73.2l6.2-.5-5.5 6.4-6.1.5z"/><path fill="url(#a9z)" d="M151.8 55l6.8 3-5.1 4-6.8-2.9z"/><path fill="url(#aa0)" d="M111 67.5l6.3.2-5.4 5.9-6.3-.1z"/><path fill="url(#aa1)" d="M141.7 56.6l6.6 2.3-5.1 4.4-6.7-2.2z"/><path fill="url(#aa2)" d="M121.2 62.8l6.5.9-5.4 5.4-6.4-.8z"/><path fill="url(#aa3)" d="M131.5 59.2l6.5 1.5-5.2 5-6.6-1.5z"/><path fill="url(#aa4)" d="M167.8 57.4l6.9 4.4-5 3.3-6.9-4.2z"/><path fill="url(#aa5)" d="M157.6 57.3l6.8 3.6-5 3.8-6.9-3.5z"/><path fill="url(#aa6)" d="M96 78.4l6.1-.6-5.6 6.8-6.1.6z"/><path fill="url(#aa7)" d="M147.4 58.2l6.7 2.9-5.1 4.3-6.8-2.8z"/><path fill="url(#aa8)" d="M106.2 72.3l6.3.1-5.5 6.2-6.3 0z"/><path fill="url(#aa9)" d="M137.1 60.2l6.7 2.1-5.3 4.8-6.7-2z"/><path fill="url(#aaa)" d="M116.5 67.2l6.4.8-5.4 5.7-6.4-.6z"/><path fill="url(#aab)" d="M126.8 63.2l6.6 1.4-5.4 5.3-6.6-1.3z"/><path fill="url(#aac)" d="M163.5 60.1l6.8 4.3-5 3.7-6.9-4.2z"/><path fill="url(#aad)" d="M153.2 60.4l6.8 3.5-5.2 4.2-6.8-3.4z"/><path fill="url(#aae)" d="M101.3 77.5l6.3-.1-5.6 6.7-6.2.1z"/><path fill="url(#aaf)" d="M142.8 61.7l6.8 2.8-5.3 4.6-6.8-2.6z"/><path fill="url(#aag)" d="M111.7 72l6.4.6-5.5 6.1-6.4-.5z"/><path fill="url(#aah)" d="M132.5 64.1l6.6 2-5.3 5.2-6.7-2z"/><path fill="url(#aai)" d="M122.1 67.5l6.5 1.3-5.4 5.7-6.6-1.3z"/><path fill="url(#aaj)" d="M159 63.2l6.9 4.1-5.1 4.1-6.9-4.1z"/><path fill="url(#aak)" d="M148.6 63.8l6.9 3.4-5.3 4.6-6.8-3.4z"/><path fill="url(#aal)" d="M106.8 77l6.4.6-5.6 6.5-6.4-.5z"/><path fill="url(#aam)" d="M138.2 65.5l6.7 2.7-5.3 5-6.8-2.5z"/><path fill="url(#aan)" d="M117.3 72.2l6.5 1.2-5.5 6-6.6-1.1z"/><path fill="url(#aao)" d="M127.7 68.3l6.7 2-5.5 5.5-6.6-1.9z"/><path fill="url(#aap)" d="M154.5 66.5l6.9 4-5.2 4.5-6.9-4z"/><path fill="url(#aaq)" d="M144 67.6l6.9 3.3-5.4 4.9-6.8-3.2z"/><path fill="url(#aar)" d="M112.4 77.2l6.5 1.1-5.6 6.4-6.5-1.1z"/><path fill="url(#aas)" d="M133.5 69.7l6.7 2.6-5.4 5.4-6.8-2.5z"/><path fill="url(#aat)" d="M122.9 72.9l6.7 1.8-5.6 5.9-6.6-1.7z"/><path fill="url(#aau)" d="M149.9 70.2l6.9 3.9-5.3 4.8-6.9-3.9z"/><path fill="url(#aav)" d="M139.3 71.7l6.9 3.1-5.5 5.3-6.8-3.1z"/><path fill="url(#aaw)" d="M128.7 74.2l6.7 2.5-5.5 5.7-6.7-2.4z"/><path fill="url(#aax)" d="M118.1 77.8l6.6 1.8-5.6 6.2-6.7-1.6z"/><path fill="url(#aay)" d="M145.2 74.2l7 3.8-5.5 5.2-6.9-3.8z"/><path fill="url(#aaz)" d="M134.5 76.1l6.9 3.1-5.6 5.6-6.8-3z"/><path fill="url(#ab0)" d="M123.8 79l6.7 2.4-5.6 6.1-6.7-2.2z"/><path fill="url(#ab1)" d="M140.5 78.5l6.9 3.8-5.5 5.5-7-3.7z"/><path fill="url(#ab2)" d="M129.7 80.8l6.8 3-5.6 6.1-6.9-3z"/><path fill="url(#ab3)" d="M135.6 83.2l6.9 3.7-5.6 5.9-6.9-3.6z"/></g>
<path class="ax" d="M35.65 148.71L30.23 20.74M35.65 148.71L135.82 185.16M135.82 185.16L214.74 143.14M214.74 143.14L221.23 18.7"/>
<path class="tk" d="M35.65 148.71L33.05 148.71M34.36 118.26L31.76 118.26M33.03 86.82L30.43 86.82M31.65 54.33L29.05 54.33M30.23 20.74L27.63 20.74M35.65 148.71L35.65 151.71M58.01 156.85L58.01 159.85M82.03 165.59L82.03 168.59M107.89 175L107.89 178M135.82 185.16L135.82 188.16M135.82 185.16L135.82 188.16M158.29 173.2L158.29 176.2M178.77 162.3L178.77 165.3M197.52 152.32L197.52 155.32M214.74 143.14L214.74 146.14"/>
<text class="tl" text-anchor="end" x="31.35" y="151.71">0.08</text><text class="tl" text-anchor="end" x="30.06" y="121.26">0.12</text><text class="tl" text-anchor="end" x="28.73" y="89.82">0.16</text><text class="tl" text-anchor="end" x="27.35" y="57.33">0.20</text><text class="tl" text-anchor="end" x="25.93" y="23.74">0.24</text><text class="tl" text-anchor="middle" x="30.85" y="159.01">18</text><text class="tl" text-anchor="middle" x="53.21" y="167.15">21</text><text class="tl" text-anchor="middle" x="77.23" y="175.89">24</text><text class="tl" text-anchor="middle" x="103.09" y="185.3">27</text><text class="tl" text-anchor="middle" x="131.02" y="195.46">30</text><text class="tl" text-anchor="middle" x="139.62" y="195.46">40</text><text class="tl" text-anchor="middle" x="162.09" y="183.5">45</text><text class="tl" text-anchor="middle" x="182.57" y="172.6">50</text><text class="tl" text-anchor="middle" x="201.32" y="162.62">55</text><text class="tl" text-anchor="middle" x="218.54" y="153.44">60</text>
<text class="at" text-anchor="middle" transform="translate(75.49 184.74) rotate(19.7)">MC of the transition point (%)</text>
<text class="at" text-anchor="middle" transform="translate(192.98 178) rotate(-29.03)">MV thermostatic temperature (°C)</text>
<text class="at" text-anchor="middle" transform="translate(11.44 85.12) rotate(-90)" style="font-size:8.2px">DR (%/min)</text>
<rect x="234.8" y="34.6" width="11.3" height="98" fill="url(#cmg)"/>
<path class="cbt" d="M234.8 35.2H246.1"/>
<path class="cbb" d="M234.8 132.1H246.1"/>
<path class="cbk" d="M246.1 35.3h2.3M246.1 44.96h2.3M246.1 54.62h2.3M246.1 64.28h2.3M246.1 73.94h2.3M246.1 83.6h2.3M246.1 93.26h2.3M246.1 102.92h2.3M246.1 112.58h2.3M246.1 122.24h2.3M246.1 131.9h2.3"/>
<g class="cbl"><text x="250.5" y="37.1">0.22</text><text x="250.5" y="46.76">0.21</text><text x="250.5" y="56.42">0.20</text><text x="250.5" y="66.08">0.19</text><text x="250.5" y="75.74">0.18</text><text x="250.5" y="85.4">0.16</text><text x="250.5" y="95.06">0.15</text><text x="250.5" y="104.72">0.14</text><text x="250.5" y="114.38">0.13</text><text x="250.5" y="124.04">0.12</text><text x="250.5" y="133.7">0.10</text></g>
<text class="let" x="252.7" y="16.9">A</text>
<path class="gr" d="M341.46 139.15L337.76 15.85M363.13 130.96L360.93 12.21M383.19 123.39L382.28 8.86M423.41 122.39L424.88 8.59M446.35 128.8L449.28 11.61M470.79 135.63L475.36 14.83M317.68 141.13L401.83 110.36L497.2 136.21M316.34 109.51L401.88 82.91L498.79 105.43M314.95 76.82L401.92 54.68L500.44 73.65M313.51 43.01L401.97 25.61L502.14 40.8"/>
<path class="fl" d="M317.97 148.02L418.04 184.8L496.85 142.92L401.82 116.36Z"/>
<path class="ct" stroke="#8000ff" d="M451.7 166.91L450.34 166.82L449.16 166.73L447.95 166.63L446.68 166.5L445.34 166.35L443.96 166.18L442.77 166.01L441.6 165.83L440.46 165.64L438.8 165.32L437.72 165.1L436.16 164.74L435.16 164.48L433.7 164.07L432.31 163.64L430.98 163.17L429.72 162.68L428.92 162.33L427.78 161.79L427.06 161.4L426.21 160.91L425.41 160.39L424.82 159.95L424.26 159.51L423.74 159.04L423.27 158.56L422.86 158.09L422.57 157.72L422.27 157.27L421.95 156.72L421.77 156.33L421.58 155.86L421.43 155.39L421.32 154.94L421.25 154.51L421.21 153.97L421.2 153.64L421.23 153.14L421.29 152.62L421.37 152.21L421.46 151.83L421.6 151.37L421.77 150.9L421.97 150.43L422.19 149.97L422.43 149.52L422.69 149.08L422.96 148.65L423.26 148.22L423.56 147.8L423.89 147.39L424.27 146.92L424.75 146.38L425.12 145.99L425.49 145.6L425.88 145.22L426.48 144.65L426.89 144.28L427.31 143.92L427.96 143.38L428.4 143.02L429.03 142.53L429.54 142.15L430.1 141.73L430.72 141.29L431.35 140.86L431.93 140.46L432.68 139.98L433.18 139.65L433.95 139.18L434.71 138.72L435.26 138.4L436.06 137.94L436.87 137.48L437.41 137.18L438.24 136.74L439.07 136.3L439.92 135.87L440.77 135.44L441.63 135.02L442.51 134.61L443.09 134.33L443.98 133.92L444.88 133.52L445.58 133.21L446.39 132.86L447.31 132.47L448.24 132.09L449.18 131.71L450.12 131.34L451.08 130.97L451.91 130.66"/>
<path class="ct" stroke="#006bff" d="M432.16 177.29L430.87 177.14L429.59 176.97L428.33 176.8L427.09 176.62L425.87 176.43L424.15 176.14L422.9 175.92L421.74 175.7L420.09 175.36L418.94 175.11L417.56 174.79L416.26 174.47L414.71 174.06L413.7 173.77L412.23 173.33L410.81 172.87L409.44 172.38L408.12 171.88L406.85 171.35L406.04 170.99L404.87 170.42L404.09 170.02L403.04 169.43L402.36 169.02L401.56 168.49L400.78 167.93L400.2 167.47L399.65 167L399.14 166.52L398.66 166.03L398.21 165.52L397.8 165L397.49 164.55L397.24 164.16L396.94 163.63L396.67 163.05L396.53 162.68L396.35 162.15L396.22 161.67L396.13 161.22L396.06 160.71L396.02 160.23L396.02 159.8L396.04 159.21L396.08 158.85L396.15 158.36L396.26 157.81L396.38 157.37L396.49 156.98L396.67 156.5L396.87 155.99L397.09 155.49L397.34 155L397.6 154.52L397.87 154.06L398.16 153.6L398.47 153.14L398.81 152.67L399.14 152.23L399.49 151.79L399.85 151.35L400.22 150.93L400.6 150.51L400.99 150.09L401.51 149.55L402 149.07L402.42 148.67L402.85 148.27L403.4 147.78L403.95 147.3L404.4 146.92L404.93 146.48L405.56 145.98L406.03 145.61L406.73 145.07L407.23 144.7L407.76 144.32L408.46 143.82L408.96 143.47L409.72 142.95L410.24 142.61L411.01 142.1L411.53 141.76L412.32 141.27L413.11 140.77L413.65 140.45L414.46 139.97L415 139.65L415.82 139.17L416.64 138.7L417.2 138.39L418.03 137.93L418.88 137.48L419.72 137.03L420.29 136.73L421.15 136.29L422.01 135.85L422.87 135.41L423.75 134.98L424.33 134.7L425.21 134.28L426.09 133.86L426.98 133.44L427.87 133.03L428.77 132.62L429.67 132.22L430.58 131.82L431.49 131.43L432.4 131.03L433.32 130.65L434.24 130.26L435.17 129.88L436.1 129.5L437.03 129.13L437.97 128.76L438.92 128.39L439.55 128.15L440.5 127.79L441.45 127.43"/>
<path class="ct" stroke="#00ffa0" d="M375.39 169.12L375.22 168.73L375 168.13L374.84 167.6L374.75 167.2L374.63 166.56L374.59 166.21L374.55 165.56L374.55 165.22L374.58 164.59L374.62 164.17L374.69 163.67L374.81 163.08L374.91 162.69L375.04 162.22L375.23 161.66L375.44 161.12L375.62 160.71L375.81 160.29L376.06 159.79L376.35 159.28L376.64 158.78L376.96 158.28L377.29 157.79L377.63 157.31L377.98 156.84L378.35 156.37L378.73 155.91L379.12 155.45L379.51 155L379.92 154.56L380.34 154.12L380.88 153.57L381.41 153.04L381.86 152.62L382.31 152.21L382.77 151.79L383.41 151.23L383.94 150.78L384.42 150.38L384.93 149.96L385.64 149.4L386.14 149.01L386.67 148.6L387.4 148.06L387.91 147.69L388.67 147.14L389.21 146.77L389.79 146.36L390.53 145.86L391.06 145.51L391.87 144.98L392.41 144.63L393.23 144.11L393.77 143.76L394.6 143.25L395.29 142.84L395.99 142.41L396.84 141.92L397.4 141.59L398.25 141.1L398.99 140.68L399.68 140.3L400.54 139.82L401.24 139.44L401.99 139.04L402.86 138.58L403.73 138.12L404.32 137.81L405.2 137.36L406.09 136.91L406.97 136.47L407.57 136.18L408.46 135.74L409.36 135.3L410.25 134.87L411.16 134.45L412.06 134.02L412.66 133.75L413.57 133.33L414.48 132.92L415.39 132.51L416.31 132.1L417.23 131.7L418.15 131.3L419.07 130.9L419.99 130.51L420.92 130.12L421.85 129.73L422.78 129.34L423.71 128.96L424.64 128.59L425.58 128.21L426.52 127.84L427.46 127.47L428.4 127.1L429.22 126.79L429.98 126.5L430.93 126.14L431.88 125.79L432.83 125.43"/>
<path class="ct" stroke="#5bfb00" d="M357.53 162.56L357.89 162.05L358.26 161.54L358.65 161.04L359.04 160.55L359.45 160.06L359.86 159.59L360.29 159.11L360.73 158.65L361.17 158.19L361.62 157.73L362.13 157.24L362.72 156.67L363.27 156.18L363.75 155.74L364.24 155.31L364.74 154.89L365.48 154.27L366 153.84L366.52 153.43L367.11 152.97L367.82 152.42L368.35 152.02L368.93 151.59L369.7 151.04L370.24 150.66L370.99 150.13L371.61 149.7L372.17 149.33L373 148.77L373.57 148.4L374.41 147.85L374.98 147.49L375.84 146.95L376.41 146.59L377.28 146.06L377.86 145.72L378.73 145.2L379.32 144.85L380.2 144.34L380.87 143.95L381.67 143.5L382.56 143L383.15 142.67L384.05 142.18L384.95 141.69L385.55 141.37L386.45 140.89L387.35 140.42L387.96 140.1L388.87 139.63L389.78 139.17L390.38 138.86L391.3 138.41L392.21 137.95L393.13 137.5L393.75 137.2L394.67 136.76L395.59 136.32L396.51 135.88L397.44 135.45L398.23 135.08L398.98 134.74L399.91 134.31L400.84 133.89L401.78 133.47L402.71 133.06L403.64 132.65L404.58 132.24L405.51 131.83L406.45 131.43L407.08 131.16L408.01 130.77L408.95 130.37L409.89 129.98L410.84 129.59L411.78 129.2L412.72 128.82L413.67 128.44L414.61 128.06L415.24 127.81L416.19 127.44L417.14 127.07L418.08 126.7L419.03 126.33L419.98 125.97L420.93 125.61L421.89 125.25L422.84 124.9L423.79 124.55L424.43 124.31L425.38 123.96L426.34 123.62"/>
<path class="ct" stroke="#ffff00" d="M346.79 158.61L347.32 158.17L348.05 157.58L348.68 157.09L349.23 156.67L349.78 156.25L350.62 155.62L351.18 155.21L351.75 154.8L352.61 154.2L353.19 153.8L353.77 153.4L354.64 152.82L355.23 152.43L356.11 151.85L356.7 151.47L357.42 151.01L358.19 150.53L358.79 150.15L359.7 149.6L360.3 149.24L361.21 148.69L361.82 148.33L362.74 147.8L363.49 147.36L364.27 146.92L365.2 146.4L365.81 146.05L366.74 145.54L367.36 145.2L368.3 144.69L369.23 144.19L369.86 143.86L370.79 143.37L371.73 142.88L372.36 142.56L373.3 142.07L374.25 141.59L374.88 141.28L375.82 140.8L376.77 140.34L377.56 139.95L378.35 139.56L379.3 139.11L380.25 138.65L381.2 138.2L381.84 137.9L382.79 137.45L383.75 137.01L384.7 136.57L385.66 136.14L386.29 135.85L387.25 135.42L388.2 134.99L389.16 134.57L390.12 134.14L391.07 133.73L392.03 133.31L392.94 132.92L393.63 132.62L394.59 132.22L395.54 131.81L396.5 131.41L397.46 131.01L398.42 130.61L399.38 130.22L400.33 129.83L401.29 129.44L402.25 129.05L403.21 128.67L404.17 128.29L405.13 127.91L406.09 127.53L407.05 127.16L408 126.79L408.96 126.42L409.92 126.05L410.56 125.81L411.52 125.45L412.48 125.09L413.44 124.73L414.4 124.38L415.36 124.02L416.32 123.67L417.28 123.32L417.92 123.09L418.88 122.75L419.84 122.41L420.8 122.07"/>
<path class="ct" stroke="#ff8000" d="M338.64 155.61L339.45 155.09L340.2 154.62L340.82 154.23L341.77 153.65L342.4 153.27L343.35 152.7L343.99 152.32L344.94 151.76L345.58 151.39L346.55 150.83L347.19 150.47L348.15 149.93L348.8 149.57L349.77 149.03L350.64 148.56L351.39 148.15L352.36 147.63L353.01 147.28L353.99 146.77L354.97 146.26L355.62 145.92L356.6 145.42L357.45 144.99L358.24 144.59L359.22 144.1L360.18 143.62L360.86 143.28L361.84 142.8L362.83 142.32L363.49 142.01L364.47 141.53L365.46 141.07L366.44 140.6L367.1 140.29L368.09 139.83L369.07 139.38L370.06 138.93L371.04 138.48L371.7 138.18L372.69 137.73L373.67 137.29L374.66 136.86L375.64 136.42L376.58 136.01L377.28 135.7L378.27 135.28L379.25 134.85L380.23 134.43L381.22 134.01L382.2 133.6L383.18 133.18L384.16 132.77L385.14 132.37L386.12 131.96L386.78 131.69L387.76 131.29L388.73 130.9L389.71 130.5L390.69 130.11L391.67 129.72L392.64 129.33L393.62 128.94L394.6 128.56L395.57 128.18L396.55 127.8L397.52 127.42L398.49 127.05L399.14 126.8L400.11 126.43L401.09 126.07L402.06 125.7L403.03 125.34L404 124.98L404.97 124.62L405.94 124.26L406.9 123.91L407.87 123.55L408.84 123.2L409.48 122.97L410.45 122.63L411.42 122.28L412.38 121.94L413.35 121.6L414.31 121.26L414.96 121.03L415.92 120.7"/>
<path class="ct" stroke="#fb0000" d="M331.94 153.15L332.95 152.59L333.85 152.11L334.65 151.68L335.67 151.14L336.35 150.78L337.37 150.24L338.11 149.86L339.08 149.36L340.1 148.84L340.78 148.49L341.81 147.98L342.83 147.46L343.52 147.12L344.54 146.62L345.57 146.12L346.25 145.79L347.28 145.29L348.3 144.8L349.06 144.44L350.01 143.99L351.04 143.51L352.06 143.03L352.74 142.72L353.77 142.25L354.79 141.78L355.81 141.31L356.79 140.87L357.51 140.55L358.53 140.09L359.55 139.64L360.57 139.19L361.59 138.74L362.27 138.44L363.29 138L364.3 137.56L365.32 137.13L366.33 136.69L367.35 136.26L368.36 135.83L369.03 135.55L370.04 135.13L371.05 134.71L372.06 134.29L373.07 133.87L374.08 133.46L375.08 133.05L376.09 132.64L377.09 132.24L378.09 131.84L379.09 131.44L380.09 131.04L381.09 130.64L382.09 130.25L383.09 129.86L384.08 129.47L385.08 129.09L386.07 128.7L387.06 128.32L388.05 127.94L389.04 127.57L390.03 127.19L391.02 126.82L392.01 126.45L392.99 126.08L393.98 125.72L394.96 125.35L395.95 124.99L396.93 124.63L397.91 124.27L398.56 124.03L399.54 123.68L400.52 123.33L401.5 122.98L402.47 122.63L403.45 122.28L404.42 121.94L405.4 121.6L406.04 121.37L407.02 121.03L407.99 120.69L408.96 120.36L409.93 120.02L410.9 119.69L411.54 119.47"/>
<path class="ct" stroke="#f00000" d="M326.19 151.04L327.26 150.51L327.98 150.16L329.05 149.64L330.12 149.13L330.84 148.78L331.91 148.27L332.98 147.77L333.83 147.37L334.76 146.93L335.83 146.44L336.9 145.95L337.61 145.62L338.67 145.13L339.74 144.65L340.8 144.17L341.51 143.85L342.57 143.38L343.63 142.91L344.69 142.44L345.75 141.98L346.46 141.67L347.51 141.21L348.57 140.75L349.62 140.3L350.67 139.85L351.72 139.4L352.42 139.11L353.47 138.67L354.52 138.23L355.56 137.79L356.61 137.35L357.65 136.92L358.69 136.49L359.73 136.07L360.6 135.72L361.46 135.36L362.5 134.94L363.53 134.53L364.56 134.11L365.59 133.7L366.62 133.29L367.65 132.89L368.68 132.48L369.7 132.08L370.72 131.68L371.75 131.28L372.77 130.89L373.78 130.49L374.8 130.1L375.82 129.72L376.83 129.33L377.84 128.94L378.85 128.56L379.86 128.18L380.87 127.81L381.88 127.43L382.88 127.06L383.88 126.69L384.89 126.32L385.89 125.95L386.89 125.58L387.86 125.23L388.55 124.98L389.54 124.62L390.54 124.26L391.53 123.91L392.52 123.55L393.51 123.2L394.5 122.85L395.48 122.5L396.47 122.15L397.13 121.92L398.11 121.58L399.09 121.24L400.07 120.9L401.05 120.56L402.03 120.23L402.69 120L403.66 119.67L404.64 119.34L405.61 119.01L406.58 118.68L407.56 118.36L408.2 118.14"/>
<path class="ct" stroke="#a80000" d="M321.13 149.18L322.24 148.67L323.36 148.17L324.1 147.84L325.21 147.35L326.32 146.85L327.42 146.36L328.38 145.94L329.27 145.56L330.37 145.08L331.47 144.6L332.57 144.13L333.49 143.73L334.4 143.35L335.49 142.88L336.58 142.42L337.67 141.96L338.76 141.5L339.8 141.07L340.57 140.75L341.66 140.3L342.74 139.86L343.82 139.41L344.9 138.97L345.97 138.53L347.05 138.1L348.12 137.67L348.83 137.38L349.9 136.95L350.97 136.53L352.04 136.1L353.1 135.68L354.16 135.26L355.22 134.85L356.28 134.43L357.33 134.02L358.38 133.61L359.44 133.21L360.48 132.8L361.53 132.4L362.58 132L363.62 131.6L364.66 131.21L365.7 130.82L366.74 130.42L367.77 130.04L368.81 129.65L369.84 129.26L370.87 128.88L371.9 128.5L372.92 128.12L373.95 127.75L374.97 127.37L375.99 127L377.01 126.63L378.03 126.26L379.04 125.9L380.06 125.53L380.73 125.29L381.74 124.93L382.75 124.57L383.76 124.21L384.76 123.85L385.77 123.5L386.77 123.15L387.77 122.8L388.77 122.45L389.43 122.22L390.43 121.87L391.42 121.53L392.41 121.19L393.4 120.85L394.39 120.51L395.38 120.17L396.04 119.95L397.03 119.62L398.01 119.28L398.99 118.95L399.97 118.63L400.95 118.3L401.61 118.08L402.58 117.76L403.56 117.43L404.53 117.11"/>
<path class="ax" d="M401.82 116.36L402.01 5.76M317.97 148.02L401.82 116.36M401.82 116.36L496.85 142.92M312.53 19.82L402.01 5.76M402.01 5.76L503.3 18.29"/>
<defs><linearGradient id="b0" href="#c" x1="416.4" y1="108.6" x2="401" y2="18.9"/><linearGradient id="b1" href="#c" x1="420.7" y1="109.3" x2="403.2" y2="18.3"/><linearGradient id="b2" href="#c" x1="424.7" y1="110.1" x2="405.1" y2="17.4"/><linearGradient id="b3" href="#c" x1="428.5" y1="110.9" x2="406.7" y2="16.1"/><linearGradient id="b4" href="#c" x1="412.9" y1="110" x2="397" y2="19.6"/><linearGradient id="b5" href="#c" x1="432.2" y1="111.7" x2="408.1" y2="14.4"/><linearGradient id="b6" href="#c" x1="417.2" y1="110.8" x2="399.1" y2="18.9"/><linearGradient id="b7" href="#c" x1="421.3" y1="111.5" x2="401" y2="17.9"/><linearGradient id="b8" href="#c" x1="435.7" y1="112.5" x2="409.3" y2="12.1"/><linearGradient id="b9" href="#c" x1="425.1" y1="112.3" x2="402.5" y2="16.6"/><linearGradient id="ba" href="#c" x1="409.4" y1="111.5" x2="393" y2="20.2"/><linearGradient id="bb" href="#c" x1="439.2" y1="113.2" x2="410.1" y2="9"/><linearGradient id="bc" href="#c" x1="428.8" y1="113.1" x2="403.8" y2="14.9"/><linearGradient id="bd" href="#c" x1="413.7" y1="112.2" x2="395.1" y2="19.5"/><linearGradient id="be" href="#c" x1="417.8" y1="113" x2="396.8" y2="18.5"/><linearGradient id="bf" href="#c" x1="442.7" y1="114" x2="410.7" y2="5"/><linearGradient id="bg" href="#c" x1="432.4" y1="113.9" x2="404.8" y2="12.5"/><linearGradient id="bh" href="#c" x1="421.7" y1="113.8" x2="398.3" y2="17.2"/><linearGradient id="bi" href="#c" x1="405.8" y1="112.9" x2="388.9" y2="20.8"/><linearGradient id="bj" href="#c" x1="436" y1="114.7" x2="405.4" y2="9.4"/><linearGradient id="bk" href="#c" x1="446.2" y1="114.7" x2="410.9" y2="-0.3"/><linearGradient id="bl" href="#c" x1="425.5" y1="114.6" x2="399.4" y2="15.4"/><linearGradient id="bm" href="#c" x1="410.2" y1="113.7" x2="390.9" y2="20.1"/><linearGradient id="bn" href="#c" x1="414.3" y1="114.5" x2="392.7" y2="19.1"/><linearGradient id="bo" href="#c" x1="439.5" y1="115.5" x2="405.6" y2="5.3"/><linearGradient id="bp" href="#c" x1="429.1" y1="115.4" x2="400.2" y2="13"/><linearGradient id="bq" href="#c" x1="449.8" y1="115.3" x2="410.7" y2="-7.4"/><linearGradient id="br" href="#c" x1="418.3" y1="115.3" x2="394" y2="17.7"/><linearGradient id="bs" href="#c" x1="402.2" y1="114.4" x2="384.7" y2="21.5"/><linearGradient id="bt" href="#c" x1="432.7" y1="116.2" x2="400.6" y2="9.8"/><linearGradient id="bu" href="#c" x1="443.1" y1="116.2" x2="405.3" y2="-0.2"/><linearGradient id="bv" href="#c" x1="422.1" y1="116.1" x2="395" y2="15.9"/><linearGradient id="bw" href="#c" x1="453.4" y1="115.9" x2="409.8" y2="-17"/><linearGradient id="bx" href="#c" x1="406.6" y1="115.2" x2="386.8" y2="20.8"/><linearGradient id="by" href="#c" x1="410.8" y1="116" x2="388.4" y2="19.7"/><linearGradient id="bz" href="#c" x1="436.3" y1="117" x2="400.4" y2="5.5"/><linearGradient id="b10" href="#c" x1="425.8" y1="117" x2="395.6" y2="13.4"/><linearGradient id="b11" href="#c" x1="446.6" y1="116.8" x2="404.4" y2="-7.6"/><linearGradient id="b12" href="#c" x1="414.8" y1="116.9" x2="389.7" y2="18.3"/><linearGradient id="b13" href="#c" x1="457" y1="116.4" x2="408.1" y2="-30.4"/><linearGradient id="b14" href="#c" x1="398.5" y1="116" x2="380.6" y2="22.2"/><linearGradient id="b15" href="#c" x1="429.5" y1="117.8" x2="395.7" y2="10.2"/><linearGradient id="b16" href="#c" x1="439.9" y1="117.7" x2="399.6" y2="-0.1"/><linearGradient id="b17" href="#c" x1="418.7" y1="117.7" x2="390.5" y2="16.4"/><linearGradient id="b18" href="#c" x1="403" y1="116.8" x2="382.6" y2="21.4"/><linearGradient id="b19" href="#c" x1="450.2" y1="117.4" x2="402.4" y2="-17.6"/><linearGradient id="b1a" href="#c" x1="407.3" y1="117.6" x2="384.1" y2="20.4"/><linearGradient id="b1b" href="#c" x1="460.8" y1="116.7" x2="405.3" y2="-49.6"/><linearGradient id="b1c" href="#c" x1="433.1" y1="118.6" x2="395.2" y2="5.9"/><linearGradient id="b1d" href="#c" x1="422.5" y1="118.6" x2="390.9" y2="13.9"/><linearGradient id="b1e" href="#c" x1="443.5" y1="118.4" x2="397.8" y2="-7.6"/><linearGradient id="b1f" href="#c" x1="411.3" y1="118.5" x2="385.3" y2="18.9"/><linearGradient id="b1g" href="#c" x1="453.9" y1="117.9" x2="399" y2="-31.6"/><linearGradient id="b1h" href="#c" x1="394.8" y1="117.6" x2="376.3" y2="22.9"/><linearGradient id="b1i" href="#c" x1="426.2" y1="119.4" x2="390.8" y2="10.6"/><linearGradient id="b1j" href="#c" x1="436.8" y1="119.3" x2="393.8" y2="0.1"/><linearGradient id="b1k" href="#c" x1="415.3" y1="119.3" x2="386" y2="17"/><linearGradient id="b1l" href="#c" x1="399.3" y1="118.4" x2="378.3" y2="22.1"/><linearGradient id="b1m" href="#c" x1="464.7" y1="117" x2="401" y2="-78.7"/><linearGradient id="b1n" href="#c" x1="447.2" y1="119" x2="394.7" y2="-18"/><linearGradient id="b1o" href="#c" x1="403.7" y1="119.2" x2="379.8" y2="21"/><linearGradient id="b1p" href="#c" x1="457.7" y1="118.3" x2="393.3" y2="-52.1"/><linearGradient id="b1q" href="#c" x1="430" y1="120.2" x2="389.8" y2="6.2"/><linearGradient id="b1r" href="#c" x1="419.2" y1="120.2" x2="386.2" y2="14.5"/><linearGradient id="b1s" href="#c" x1="440.5" y1="120.1" x2="391.1" y2="-7.6"/><linearGradient id="b1t" href="#c" x1="407.8" y1="120.1" x2="380.9" y2="19.6"/><linearGradient id="b1u" href="#c" x1="450.9" y1="119.5" x2="389.3" y2="-32.6"/><linearGradient id="b1v" href="#c" x1="468.7" y1="117" x2="395.3" y2="-126.7"/><linearGradient id="b1w" href="#c" x1="391" y1="119.2" x2="372.1" y2="23.6"/><linearGradient id="b1x" href="#c" x1="423" y1="121.1" x2="385.8" y2="11.1"/><linearGradient id="b1y" href="#c" x1="433.7" y1="121" x2="387.8" y2="0.4"/><linearGradient id="b1z" href="#c" x1="395.6" y1="120" x2="374" y2="22.8"/><linearGradient id="b20" href="#c" x1="411.9" y1="121" x2="381.5" y2="17.6"/><linearGradient id="b21" href="#c" x1="461.6" y1="118.5" x2="383.7" y2="-83.9"/><linearGradient id="b22" href="#c" x1="444.2" y1="120.7" x2="386.6" y2="-18.3"/><linearGradient id="b23" href="#c" x1="400" y1="120.9" x2="375.5" y2="21.7"/><linearGradient id="b24" href="#c" x1="454.7" y1="119.9" x2="380.1" y2="-54.2"/><linearGradient id="b25" href="#c" x1="426.8" y1="122" x2="384.4" y2="6.6"/><linearGradient id="b26" href="#c" x1="415.8" y1="121.9" x2="381.5" y2="15"/><linearGradient id="b27" href="#c" x1="437.5" y1="121.8" x2="384.2" y2="-7.5"/><linearGradient id="b28" href="#c" x1="472.9" y1="116.8" x2="392" y2="-216.5"/><linearGradient id="b29" href="#c" x1="404.3" y1="121.8" x2="376.5" y2="20.2"/><linearGradient id="b2a" href="#c" x1="448" y1="121.3" x2="378.9" y2="-33.3"/><linearGradient id="b2b" href="#c" x1="465.5" y1="118.5" x2="367.1" y2="-138.5"/><linearGradient id="b2c" href="#c" x1="387.2" y1="120.9" x2="367.7" y2="24.3"/><linearGradient id="b2d" href="#c" x1="419.8" y1="122.9" x2="380.7" y2="11.6"/><linearGradient id="b2e" href="#c" x1="430.7" y1="122.8" x2="381.7" y2="0.7"/><linearGradient id="b2f" href="#c" x1="391.9" y1="121.8" x2="369.6" y2="23.5"/><linearGradient id="b2g" href="#c" x1="458.6" y1="120.2" x2="363.7" y2="-88.2"/><linearGradient id="b2h" href="#c" x1="408.5" y1="122.8" x2="376.9" y2="18.2"/><linearGradient id="b2i" href="#c" x1="441.3" y1="122.5" x2="378.2" y2="-18.3"/><linearGradient id="b2j" href="#c" x1="477.6" y1="116.3" x2="430.1" y2="-425.7"/><linearGradient id="b2k" href="#c" x1="396.4" y1="122.7" x2="371" y2="22.4"/><linearGradient id="b2l" href="#c" x1="451.9" y1="121.7" x2="365.5" y2="-55.5"/><linearGradient id="b2m" href="#c" x1="423.7" y1="123.8" x2="378.9" y2="7.1"/><linearGradient id="b2n" href="#c" x1="412.5" y1="123.7" x2="376.7" y2="15.6"/><linearGradient id="b2o" href="#c" x1="434.6" y1="123.6" x2="377.1" y2="-7.2"/><linearGradient id="b2p" href="#c" x1="469.6" y1="118.1" x2="336.2" y2="-250.6"/><linearGradient id="b2q" href="#c" x1="400.8" y1="123.6" x2="372" y2="20.9"/><linearGradient id="b2r" href="#c" x1="445.2" y1="123.1" x2="367.8" y2="-33.6"/><linearGradient id="b2s" href="#c" x1="462.5" y1="120.2" x2="331.1" y2="-148.1"/><linearGradient id="b2t" href="#c" x1="383.3" y1="122.6" x2="363.3" y2="25.1"/><linearGradient id="b2u" href="#c" x1="416.6" y1="124.7" x2="375.6" y2="12.2"/><linearGradient id="b2v" href="#c" x1="427.7" y1="124.7" x2="375.5" y2="1.1"/><linearGradient id="b2w" href="#c" x1="388.1" y1="123.5" x2="365.2" y2="24.3"/><linearGradient id="b2x" href="#c" x1="455.9" y1="122.1" x2="340.4" y2="-90.7"/><linearGradient id="b2y" href="#c" x1="405" y1="124.6" x2="372.3" y2="18.9"/><linearGradient id="b2z" href="#c" x1="438.5" y1="124.4" x2="369.3" y2="-18.1"/><linearGradient id="b30" href="#c" x1="484" y1="116.3" x2="1065.3" y2="-854.1"/><linearGradient id="b31" href="#c" x1="473.7" y1="116.7" x2="284.9" y2="-593.2"/><linearGradient id="b32" href="#c" x1="392.7" y1="124.5" x2="366.6" y2="23.1"/><linearGradient id="b33" href="#c" x1="449.3" y1="123.7" x2="349.5" y2="-55.9"/><linearGradient id="b34" href="#c" x1="420.7" y1="125.6" x2="373.3" y2="7.6"/><linearGradient id="b35" href="#c" x1="409.2" y1="125.6" x2="371.8" y2="16.2"/><linearGradient id="b36" href="#c" x1="431.7" y1="125.5" x2="369.8" y2="-6.8"/><linearGradient id="b37" href="#c" x1="466.4" y1="119.8" x2="249.9" y2="-278.1"/><linearGradient id="b38" href="#c" x1="397.2" y1="125.5" x2="367.4" y2="21.6"/><linearGradient id="b39" href="#c" x1="442.7" y1="125.1" x2="356" y2="-33.2"/><linearGradient id="b3a" href="#c" x1="379.4" y1="124.4" x2="358.9" y2="25.9"/><linearGradient id="b3b" href="#c" x1="459.9" y1="122.2" x2="285.9" y2="-152"/><linearGradient id="b3c" href="#c" x1="413.4" y1="126.6" x2="370.4" y2="12.7"/><linearGradient id="b3d" href="#c" x1="424.8" y1="126.6" x2="369.1" y2="1.7"/><linearGradient id="b3e" href="#c" x1="486.5" y1="118.6" x2="1265.3" y2="372.4"/><linearGradient id="b3f" href="#c" x1="384.3" y1="125.3" x2="360.8" y2="25"/><linearGradient id="b3g" href="#c" x1="453.5" y1="124.1" x2="313.7" y2="-90.3"/><linearGradient id="b3h" href="#c" x1="401.6" y1="126.5" x2="367.6" y2="19.5"/><linearGradient id="b3i" href="#c" x1="436" y1="126.3" x2="360.1" y2="-17.6"/><linearGradient id="b3k" href="#c" x1="469.1" y1="117.8" x2="-149" y2="-744.6"/><linearGradient id="b3l" href="#c" x1="389" y1="126.3" x2="362.1" y2="23.9"/><linearGradient id="b3m" href="#c" x1="447" y1="125.7" x2="331.9" y2="-54.8"/><linearGradient id="b3n" href="#c" x1="417.7" y1="127.6" x2="367.6" y2="8.2"/><linearGradient id="b3o" href="#c" x1="405.9" y1="127.5" x2="366.9" y2="16.9"/><linearGradient id="b3p" href="#c" x1="463.9" y1="121.9" x2="123.4" y2="-273.5"/><linearGradient id="b3q" href="#c" x1="429.1" y1="127.5" x2="362.2" y2="-6.2"/><linearGradient id="b3r" href="#c" x1="393.6" y1="127.4" x2="362.8" y2="22.3"/><linearGradient id="b3s" href="#c" x1="440.4" y1="127.1" x2="343.4" y2="-32.2"/><linearGradient id="b3t" href="#c" x1="375.4" y1="126.2" x2="354.4" y2="26.7"/><linearGradient id="b3u" href="#c" x1="458" y1="124.2" x2="230.9" y2="-144.3"/><linearGradient id="b3v" href="#c" x1="490.2" y1="117" x2="801.4" y2="365.8"/><linearGradient id="b3w" href="#c" x1="484.9" y1="121" x2="930.1" y2="631.1"/><linearGradient id="b3x" href="#c" x1="410.3" y1="128.6" x2="365.2" y2="13.4"/><linearGradient id="b3y" href="#c" x1="422" y1="128.6" x2="362.6" y2="2.3"/><linearGradient id="b3z" href="#c" x1="380.4" y1="127.2" x2="356.2" y2="25.8"/><linearGradient id="b40" href="#c" x1="451.7" y1="126.1" x2="283.5" y2="-85.3"/><linearGradient id="b41" href="#c" x1="398.1" y1="128.4" x2="362.8" y2="20.2"/><linearGradient id="b43" href="#c" x1="433.6" y1="128.4" x2="350.5" y2="-16.7"/><linearGradient id="b44" href="#c" x1="466" y1="121.2" x2="-784" y2="-169.4"/><linearGradient id="b45" href="#c" x1="385.2" y1="128.2" x2="357.5" y2="24.6"/><linearGradient id="b46" href="#c" x1="445.2" y1="127.7" x2="312.8" y2="-51.7"/><linearGradient id="b47" href="#c" x1="414.7" y1="129.6" x2="361.8" y2="8.8"/><linearGradient id="b48" href="#c" x1="462.8" y1="123.7" x2="-24.2" y2="-188.4"/><linearGradient id="b49" href="#c" x1="402.6" y1="129.5" x2="362" y2="17.5"/><linearGradient id="b4a" href="#c" x1="426.6" y1="129.6" x2="354.4" y2="-5.4"/><linearGradient id="b4b" href="#c" x1="390" y1="129.3" x2="358.2" y2="23"/><linearGradient id="b4c" href="#c" x1="371.3" y1="128.1" x2="349.9" y2="27.5"/><linearGradient id="b4d" href="#c" x1="438.4" y1="129.2" x2="330.1" y2="-30.2"/><linearGradient id="b4e" href="#c" x1="457" y1="126.1" x2="169.8" y2="-117.1"/><linearGradient id="b4f" href="#c" x1="488.6" y1="119.4" x2="683.2" y2="385.9"/><linearGradient id="b4g" href="#c" x1="481.4" y1="122.9" x2="661.8" y2="572.6"/><linearGradient id="b4h" href="#c" x1="407.2" y1="130.6" x2="359.9" y2="14"/><linearGradient id="b4i" href="#c" x1="419.4" y1="130.7" x2="356" y2="3"/><linearGradient id="b4j" href="#c" x1="376.5" y1="129.1" x2="351.7" y2="26.6"/><linearGradient id="b4k" href="#c" x1="450.6" y1="128" x2="250.6" y2="-73.7"/><linearGradient id="b4m" href="#c" x1="394.7" y1="130.4" x2="358.1" y2="21"/><linearGradient id="b4n" href="#c" x1="431.4" y1="130.5" x2="340.4" y2="-15.3"/><linearGradient id="b4o" href="#c" x1="465.5" y1="121.8" x2="-370.1" y2="513.5"/><linearGradient id="b4p" href="#c" x1="381.5" y1="130.2" x2="352.9" y2="25.4"/><linearGradient id="b4q" href="#c" x1="443.8" y1="129.7" x2="292.3" y2="-46"/><linearGradient id="b4r" href="#c" x1="411.9" y1="131.7" x2="355.9" y2="9.6"/><linearGradient id="b4s" href="#c" x1="462.7" y1="123.8" x2="-106.9" y2="-4.3"/><linearGradient id="b4t" href="#c" x1="399.4" y1="131.6" x2="357" y2="18.3"/><linearGradient id="b4u" href="#c" x1="424.3" y1="131.7" x2="346.3" y2="-4.4"/><linearGradient id="b4v" href="#c" x1="386.3" y1="131.4" x2="353.5" y2="23.8"/><linearGradient id="b4w" href="#c" x1="367.3" y1="130" x2="345.3" y2="28.3"/><linearGradient id="b4x" href="#c" x1="436.8" y1="131.2" x2="315.9" y2="-27"/><linearGradient id="b4y" href="#c" x1="485.9" y1="121.5" x2="598" y2="361.4"/><linearGradient id="b4z" href="#c" x1="457" y1="126.9" x2="113.5" y2="-63.1"/><linearGradient id="b50" href="#c" x1="477.8" y1="123.9" x2="545.3" y2="467.8"/><linearGradient id="b51" href="#c" x1="404.2" y1="132.8" x2="354.5" y2="14.8"/><linearGradient id="b52" href="#c" x1="416.9" y1="132.8" x2="349.2" y2="3.9"/><linearGradient id="b53" href="#c" x1="372.5" y1="131.1" x2="347.1" y2="27.5"/><linearGradient id="b54" href="#c" x1="468.9" y1="124.1" x2="375.6" y2="599.4"/><linearGradient id="b55" href="#c" x1="450.2" y1="129.4" x2="217.1" y2="-53"/><linearGradient id="b56" href="#c" x1="391.2" y1="132.5" x2="353.3" y2="21.7"/><linearGradient id="b57" href="#c" x1="429.6" y1="132.6" x2="329.9" y2="-13.3"/><linearGradient id="b58" href="#c" x1="463" y1="120.9" x2="29.4" y2="531"/><linearGradient id="b59" href="#c" x1="377.6" y1="132.3" x2="348.3" y2="26.2"/><linearGradient id="b5a" href="#c" x1="443.1" y1="131.4" x2="270.8" y2="-36.6"/><linearGradient id="b5b" href="#c" x1="409.2" y1="133.9" x2="350" y2="10.3"/><linearGradient id="b5c" href="#c" x1="461.7" y1="121.8" x2="-57.7" y2="183.1"/><linearGradient id="b5d" href="#c" x1="396.2" y1="133.8" x2="351.9" y2="19"/><linearGradient id="b5e" href="#c" x1="422.2" y1="133.9" x2="338" y2="-3.1"/><linearGradient id="b5f" href="#c" x1="382.7" y1="133.5" x2="348.8" y2="24.6"/><linearGradient id="b5g" href="#c" x1="363.1" y1="132" x2="340.6" y2="29.2"/><linearGradient id="b5h" href="#c" x1="482.7" y1="123.2" x2="545.2" y2="325.4"/><linearGradient id="b5i" href="#c" x1="435.8" y1="133.1" x2="301.1" y2="-22.3"/><linearGradient id="b5j" href="#c" x1="457.3" y1="126.1" x2="79.9" y2="15.5"/><linearGradient id="b5k" href="#c" x1="474.1" y1="124.6" x2="495.9" y2="387.1"/><linearGradient id="b5l" href="#c" x1="368.5" y1="133.2" x2="342.4" y2="28.3"/><linearGradient id="b5m" href="#c" x1="401.2" y1="135" x2="349.1" y2="15.5"/><linearGradient id="b5n" href="#c" x1="414.5" y1="135.1" x2="342.3" y2="4.9"/><linearGradient id="b5o" href="#c" x1="465.5" y1="123.8" x2="391.8" y2="452.6"/><linearGradient id="b5p" href="#c" x1="450.5" y1="129.8" x2="186.6" y2="-21.8"/><linearGradient id="b5q" href="#c" x1="387.8" y1="134.7" x2="348.4" y2="22.5"/><linearGradient id="b5r" href="#c" x1="428.2" y1="134.6" x2="318.9" y2="-10.7"/><linearGradient id="b5s" href="#c" x1="459.6" y1="120.4" x2="206.3" y2="449.2"/><linearGradient id="b5t" href="#c" x1="373.8" y1="134.4" x2="343.6" y2="27.1"/><linearGradient id="b5u" href="#c" x1="443" y1="132.6" x2="249.2" y2="-22.9"/><linearGradient id="b5v" href="#c" x1="406.6" y1="136.2" x2="343.9" y2="11.2"/><linearGradient id="b5w" href="#c" x1="458.7" y1="119.2" x2="58.6" y2="283"/><linearGradient id="b5x" href="#c" x1="393" y1="136" x2="346.8" y2="19.8"/><linearGradient id="b5y" href="#c" x1="420.4" y1="136" x2="329.4" y2="-1.4"/><linearGradient id="b5z" href="#c" x1="358.9" y1="134.1" x2="335.9" y2="30.1"/><linearGradient id="b60" href="#c" x1="479.3" y1="124.4" x2="513.4" y2="291.5"/><linearGradient id="b61" href="#c" x1="379.1" y1="135.7" x2="344" y2="25.5"/><linearGradient id="b62" href="#c" x1="435.2" y1="134.8" x2="285.7" y2="-15.7"/><linearGradient id="b63" href="#c" x1="456.8" y1="123.5" x2="82.6" y2="101.4"/><linearGradient id="b64" href="#c" x1="470.6" y1="125.1" x2="472.9" y2="329.6"/><linearGradient id="b65" href="#c" x1="364.5" y1="135.3" x2="337.7" y2="29.2"/><linearGradient id="b66" href="#c" x1="398.4" y1="137.3" x2="343.6" y2="16.4"/><linearGradient id="b67" href="#c" x1="412.5" y1="137.3" x2="335.2" y2="6.1"/><linearGradient id="b68" href="#c" x1="462.1" y1="123.7" x2="403.6" y2="368.6"/><linearGradient id="b69" href="#c" x1="451.2" y1="128.8" x2="164.6" y2="19.6"/><linearGradient id="b6a" href="#c" x1="384.4" y1="137" x2="343.5" y2="23.3"/><linearGradient id="b6b" href="#c" x1="427.2" y1="136.6" x2="307.5" y2="-7.2"/><linearGradient id="b6c" href="#c" x1="456" y1="120.2" x2="291" y2="379.9"/><linearGradient id="b6d" href="#c" x1="369.9" y1="136.6" x2="338.8" y2="28"/><linearGradient id="b6e" href="#c" x1="443.6" y1="132.9" x2="228.9" y2="-4.1"/><linearGradient id="b6f" href="#c" x1="454.4" y1="117.3" x2="164.7" y2="309.2"/><linearGradient id="b6g" href="#c" x1="404.2" y1="138.6" x2="337.8" y2="12.2"/><linearGradient id="b6h" href="#c" x1="389.9" y1="138.4" x2="341.7" y2="20.6"/><linearGradient id="b6i" href="#c" x1="419" y1="138.2" x2="320.5" y2="0.6"/><linearGradient id="b6j" href="#c" x1="354.7" y1="136.2" x2="331.1" y2="31"/><linearGradient id="b6k" href="#c" x1="475.8" y1="125.4" x2="493.5" y2="262.7"/><linearGradient id="b6l" href="#c" x1="375.4" y1="138" x2="339.2" y2="26.3"/><linearGradient id="b6m" href="#c" x1="454.7" y1="119.9" x2="117.8" y2="171.8"/><linearGradient id="b6n" href="#c" x1="435.3" y1="136" x2="270.2" y2="-6.7"/><linearGradient id="b6o" href="#c" x1="467" y1="125.5" x2="460.9" y2="288"/><linearGradient id="b6p" href="#c" x1="360.4" y1="137.6" x2="332.9" y2="30.1"/><linearGradient id="b6q" href="#c" x1="395.7" y1="139.7" x2="338" y2="17.2"/><linearGradient id="b6r" href="#c" x1="458.6" y1="123.8" x2="411.7" y2="314"/><linearGradient id="b6s" href="#c" x1="410.6" y1="139.7" x2="327.9" y2="7.4"/><linearGradient id="b6t" href="#c" x1="451.4" y1="126.2" x2="156.1" y2="67.2"/><linearGradient id="b6u" href="#c" x1="381" y1="139.4" x2="338.5" y2="24.2"/><linearGradient id="b6v" href="#c" x1="426.8" y1="138.4" x2="295.8" y2="-2.6"/><linearGradient id="b6w" href="#c" x1="452.1" y1="120.1" x2="336.7" y2="328.1"/><linearGradient id="b6x" href="#c" x1="366" y1="138.9" x2="334" y2="28.9"/><linearGradient id="b6y" href="#c" x1="444.5" y1="132.1" x2="211.8" y2="20"/><linearGradient id="b6z" href="#c" x1="449.7" y1="116.2" x2="240.8" y2="301.4"/><linearGradient id="b70" href="#c" x1="402" y1="141" x2="331.5" y2="13.2"/><linearGradient id="b71" href="#c" x1="386.8" y1="140.8" x2="336.5" y2="21.5"/><linearGradient id="b72" href="#c" x1="418" y1="140.4" x2="311.4" y2="3.2"/><linearGradient id="b73" href="#c" x1="350.3" y1="138.5" x2="326.2" y2="32"/><linearGradient id="b74" href="#c" x1="472.2" y1="126.3" x2="480.6" y2="239.1"/><linearGradient id="b75" href="#c" x1="371.7" y1="140.4" x2="334.3" y2="27.2"/><linearGradient id="b76" href="#c" x1="450.9" y1="116.3" x2="168.5" y2="215.5"/><linearGradient id="b77" href="#c" x1="436" y1="136.5" x2="255.1" y2="5"/><linearGradient id="b78" href="#c" x1="463.3" y1="125.9" x2="453.9" y2="256.9"/><linearGradient id="b79" href="#c" x1="356.2" y1="139.9" x2="328" y2="31.1"/><linearGradient id="b7a" href="#c" x1="455" y1="123.9" x2="416.9" y2="275.7"/><linearGradient id="b7b" href="#c" x1="393.1" y1="142.2" x2="332.4" y2="18.2"/><linearGradient id="b7c" href="#c" x1="409.1" y1="142" x2="320.5" y2="9"/><linearGradient id="b7d" href="#c" x1="377.6" y1="141.8" x2="333.5" y2="25.1"/><linearGradient id="b7e" href="#c" x1="450.5" y1="122.1" x2="163.2" y2="114.1"/><linearGradient id="b7f" href="#c" x1="426.9" y1="139.8" x2="283.9" y2="3.2"/><linearGradient id="b7g" href="#c" x1="448.2" y1="120.1" x2="363.5" y2="289.3"/><linearGradient id="b7h" href="#c" x1="362.1" y1="141.3" x2="329.2" y2="29.8"/><linearGradient id="b7i" href="#c" x1="445.5" y1="129.7" x2="200.2" y2="48.7"/><linearGradient id="b7j" href="#c" x1="444.8" y1="115.5" x2="291.7" y2="282.4"/><linearGradient id="b7k" href="#c" x1="400" y1="143.5" x2="325.2" y2="14.4"/><linearGradient id="b7l" href="#c" x1="383.9" y1="143.3" x2="331.3" y2="22.4"/><linearGradient id="b7m" href="#c" x1="346" y1="140.7" x2="321.3" y2="33"/><linearGradient id="b7n" href="#c" x1="417.5" y1="142.3" x2="302" y2="6.3"/><linearGradient id="b7o" href="#c" x1="468.6" y1="127" x2="471.5" y2="219.8"/><linearGradient id="b7p" href="#c" x1="368.1" y1="142.8" x2="329.4" y2="28.1"/><linearGradient id="b7q" href="#c" x1="445.8" y1="113.3" x2="219" y2="234.8"/><linearGradient id="b7r" href="#c" x1="459.6" y1="126.2" x2="449.3" y2="232.9"/><linearGradient id="b7s" href="#c" x1="437.2" y1="136.1" x2="241.1" y2="19.6"/><linearGradient id="b7t" href="#c" x1="352" y1="142.2" x2="323.1" y2="32.1"/><linearGradient id="b7u" href="#c" x1="451.2" y1="124" x2="420.1" y2="247.2"/><linearGradient id="b7v" href="#c" x1="390.6" y1="144.8" x2="326.7" y2="19.2"/><linearGradient id="b7w" href="#c" x1="408" y1="144.4" x2="312.9" y2="10.9"/><linearGradient id="b7x" href="#c" x1="374.3" y1="144.4" x2="328.5" y2="26"/><linearGradient id="b7y" href="#c" x1="447.9" y1="117.3" x2="183.6" y2="153.3"/><linearGradient id="b7z" href="#c" x1="427.6" y1="140.7" x2="271.9" y2="10.5"/><linearGradient id="b80" href="#c" x1="444.1" y1="120.2" x2="380" y2="259.4"/><linearGradient id="b81" href="#c" x1="358.2" y1="143.8" x2="324.2" y2="30.8"/><linearGradient id="b82" href="#c" x1="445.8" y1="125.8" x2="196.2" y2="79.8"/><linearGradient id="b83" href="#c" x1="439.9" y1="115.1" x2="325.5" y2="261.3"/><linearGradient id="b84" href="#c" x1="398.3" y1="146.1" x2="318.7" y2="15.7"/><linearGradient id="b85" href="#c" x1="381" y1="146" x2="326" y2="23.3"/><linearGradient id="b86" href="#c" x1="341.5" y1="143.1" x2="316.3" y2="34"/><linearGradient id="b87" href="#c" x1="464.9" y1="127.6" x2="464.7" y2="203.8"/><linearGradient id="b88" href="#c" x1="417.5" y1="144.1" x2="292.4" y2="10.1"/><linearGradient id="b89" href="#c" x1="364.5" y1="145.4" x2="324.4" y2="29.1"/><linearGradient id="b8a" href="#c" x1="455.9" y1="126.6" x2="445.7" y2="213.8"/><linearGradient id="b8b" href="#c" x1="440.1" y1="111.2" x2="261.6" y2="238"/><linearGradient id="b8c" href="#c" x1="438.7" y1="134.3" x2="229.3" y2="37.4"/><linearGradient id="b8d" href="#c" x1="347.8" y1="144.7" x2="318.2" y2="33.1"/><linearGradient id="b8e" href="#c" x1="447.3" y1="124.2" x2="421.9" y2="225"/><linearGradient id="b8f" href="#c" x1="388.4" y1="147.5" x2="320.9" y2="20.3"/><linearGradient id="b8g" href="#c" x1="407.3" y1="146.7" x2="305.1" y2="13.1"/><linearGradient id="b8h" href="#c" x1="371.1" y1="147.1" x2="323.4" y2="27"/><linearGradient id="b8i" href="#c" x1="443.6" y1="112.5" x2="211.8" y2="180.8"/><linearGradient id="b8j" href="#c" x1="429" y1="140.8" x2="260.3" y2="19.6"/><linearGradient id="b8k" href="#c" x1="440" y1="120.3" x2="390.4" y2="235.8"/><linearGradient id="b8l" href="#c" x1="354.2" y1="146.4" x2="319.3" y2="31.8"/><linearGradient id="b8m" href="#c" x1="444.8" y1="120.5" x2="200.6" y2="110.3"/><linearGradient id="b8n" href="#c" x1="435" y1="115" x2="348" y2="241.4"/><linearGradient id="b8o" href="#c" x1="396.9" y1="148.7" x2="312.1" y2="17.2"/><linearGradient id="b8p" href="#c" x1="378.3" y1="148.8" x2="320.6" y2="24.4"/><linearGradient id="b8q" href="#c" x1="461.1" y1="128.2" x2="459.3" y2="190.4"/><linearGradient id="b8r" href="#c" x1="418.2" y1="145.5" x2="282.7" y2="14.7"/><linearGradient id="b8s" href="#c" x1="360.8" y1="148.1" x2="319.4" y2="30.1"/><linearGradient id="b8t" href="#c" x1="452" y1="126.9" x2="442.7" y2="198.3"/><linearGradient id="b8u" href="#c" x1="434.2" y1="109.7" x2="294.8" y2="232.1"/><linearGradient id="b8v" href="#c" x1="440.1" y1="130.9" x2="220.9" y2="57.8"/><linearGradient id="b8w" href="#c" x1="443.3" y1="124.4" x2="422.5" y2="207.3"/><linearGradient id="b8x" href="#c" x1="386.4" y1="150.3" x2="315.1" y2="21.4"/><linearGradient id="b8y" href="#c" x1="407.1" y1="148.8" x2="297.1" y2="15.6"/><linearGradient id="b8z" href="#c" x1="367.9" y1="149.9" x2="318.3" y2="28"/><linearGradient id="b90" href="#c" x1="437.9" y1="108.3" x2="241.9" y2="196.2"/><linearGradient id="b91" href="#c" x1="430.8" y1="139.8" x2="249.3" y2="30.6"/><linearGradient id="b92" href="#c" x1="435.7" y1="120.4" x2="396.8" y2="216.5"/><linearGradient id="b93" href="#c" x1="442" y1="114.3" x2="212.7" y2="137"/><linearGradient id="b94" href="#c" x1="430.1" y1="114.9" x2="363.1" y2="223.4"/><linearGradient id="b95" href="#c" x1="375.7" y1="151.7" x2="315.2" y2="25.4"/><linearGradient id="b96" href="#c" x1="395.9" y1="151.3" x2="305.4" y2="18.8"/><linearGradient id="b97" href="#c" x1="457.3" y1="128.7" x2="454.8" y2="179"/><linearGradient id="b98" href="#c" x1="419.5" y1="146.3" x2="272.9" y2="20.3"/><linearGradient id="b99" href="#c" x1="448" y1="127.3" x2="439.8" y2="185.3"/><linearGradient id="b9a" href="#c" x1="428.1" y1="108.8" x2="319.4" y2="221.8"/><linearGradient id="b9b" href="#c" x1="440.8" y1="125.8" x2="217.2" y2="79.9"/><linearGradient id="b9c" href="#c" x1="439.2" y1="124.6" x2="422.3" y2="192.6"/><linearGradient id="b9d" href="#c" x1="384.6" y1="153.2" x2="309.2" y2="22.7"/><linearGradient id="b9e" href="#c" x1="407.5" y1="150.8" x2="289" y2="18.6"/><linearGradient id="b9f" href="#c" x1="431.2" y1="105" x2="269.8" y2="201.7"/><linearGradient id="b9g" href="#c" x1="433.1" y1="137.4" x2="239.8" y2="43.7"/><linearGradient id="b9h" href="#c" x1="431.2" y1="120.6" x2="400.7" y2="200.5"/><linearGradient id="b9i" href="#c" x1="437.4" y1="108" x2="230.3" y2="157.3"/><linearGradient id="b9j" href="#c" x1="425" y1="115" x2="373" y2="207.5"/><linearGradient id="b9k" href="#c" x1="395.3" y1="153.9" x2="298.6" y2="20.6"/><linearGradient id="b9l" href="#c" x1="453.3" y1="129.3" x2="450.6" y2="169.2"/><linearGradient id="b9m" href="#c" x1="421.5" y1="146.3" x2="263.3" y2="27.2"/><linearGradient id="b9n" href="#c" x1="444" y1="127.6" x2="436.9" y2="174.3"/><linearGradient id="b9o" href="#c" x1="422" y1="108.3" x2="337.1" y2="210"/><linearGradient id="b9p" href="#c" x1="440.2" y1="119.2" x2="218.8" y2="102"/><linearGradient id="b9q" href="#c" x1="435" y1="124.9" x2="421.3" y2="180.3"/><linearGradient id="b9r" href="#c" x1="408.6" y1="152.3" x2="280.7" y2="22.2"/><linearGradient id="b9s" href="#c" x1="424" y1="102.6" x2="293.3" y2="200.4"/><linearGradient id="b9t" href="#c" x1="435.2" y1="133.3" x2="232.4" y2="58.7"/><linearGradient id="b9u" href="#c" x1="426.7" y1="120.7" x2="402.7" y2="187"/><linearGradient id="b9v" href="#c" x1="430.9" y1="102.3" x2="250.3" y2="170.4"/><linearGradient id="b9w" href="#c" x1="419.9" y1="115.1" x2="379.4" y2="193.6"/><linearGradient id="b9x" href="#c" x1="449.3" y1="129.8" x2="446.7" y2="160.8"/><linearGradient id="b9y" href="#c" x1="424.2" y1="145.1" x2="254" y2="35.3"/><linearGradient id="b9z" href="#c" x1="439.8" y1="128" x2="434" y2="164.9"/><linearGradient id="ba0" href="#c" x1="415.9" y1="108.1" x2="349.6" y2="197.8"/><linearGradient id="ba1" href="#c" x1="437.6" y1="111.4" x2="225.8" y2="122.2"/><linearGradient id="ba2" href="#c" x1="430.6" y1="125.1" x2="419.7" y2="169.8"/><linearGradient id="ba3" href="#c" x1="416.6" y1="101" x2="312" y2="194.8"/><linearGradient id="ba4" href="#c" x1="422" y1="121" x2="403.2" y2="175.4"/><linearGradient id="ba5" href="#c" x1="436.8" y1="127.1" x2="228" y2="75.1"/><linearGradient id="ba6" href="#c" x1="423.2" y1="97.5" x2="270.2" y2="176.5"/><linearGradient id="ba7" href="#c" x1="445.1" y1="130.3" x2="443" y2="153.3"/><linearGradient id="ba8" href="#c" x1="414.8" y1="115.3" x2="383.2" y2="181.2"/><linearGradient id="ba9" href="#c" x1="435.5" y1="128.4" x2="430.9" y2="156.6"/><linearGradient id="baa" href="#c" x1="409.8" y1="108" x2="358.1" y2="186.1"/><linearGradient id="bab" href="#c" x1="432.7" y1="103.2" x2="237.1" y2="138.6"/><linearGradient id="bac" href="#c" x1="426.1" y1="125.4" x2="417.7" y2="160.6"/><linearGradient id="bad" href="#c" x1="409.1" y1="100" x2="326.2" y2="186.7"/><linearGradient id="bae" href="#c" x1="417.2" y1="121.2" x2="402.7" y2="165.2"/><linearGradient id="baf" href="#c" x1="414.6" y1="93.9" x2="288.1" y2="177.1"/><linearGradient id="bag" href="#c" x1="440.8" y1="130.7" x2="439.2" y2="146.7"/><linearGradient id="bah" href="#c" x1="409.5" y1="115.5" x2="385.1" y2="170.3"/><linearGradient id="bai" href="#c" x1="431" y1="128.7" x2="427.6" y2="149.3"/><linearGradient id="baj" href="#c" x1="403.7" y1="108.2" x2="363.5" y2="175"/><linearGradient id="bak" href="#c" x1="421.4" y1="125.7" x2="415.2" y2="152.5"/><linearGradient id="bal" href="#c" x1="401.6" y1="99.5" x2="336.4" y2="177.6"/><linearGradient id="bam" href="#c" x1="412.3" y1="121.5" x2="401.4" y2="156.3"/><linearGradient id="ban" href="#c" x1="436.4" y1="131.2" x2="435.4" y2="140.9"/><linearGradient id="bao" href="#c" x1="404.1" y1="115.9" x2="385.5" y2="160.5"/><linearGradient id="bap" href="#c" x1="426.5" y1="129.1" x2="424.2" y2="142.8"/><linearGradient id="baq" href="#c" x1="397.6" y1="108.5" x2="366.6" y2="164.8"/><linearGradient id="bar" href="#c" x1="416.7" y1="126.1" x2="412.3" y2="145.3"/><linearGradient id="bas" href="#c" x1="407.3" y1="121.9" x2="399.3" y2="148.3"/><linearGradient id="bat" href="#c" x1="432" y1="131.5" x2="431.4" y2="136.3"/><linearGradient id="bau" href="#c" x1="398.6" y1="116.3" x2="384.7" y2="151.7"/><linearGradient id="bav" href="#c" x1="421.8" y1="129.5" x2="420.5" y2="137.2"/><linearGradient id="baw" href="#c" x1="411.8" y1="126.5" x2="409" y2="138.9"/><linearGradient id="bax" href="#c" x1="402.1" y1="122.3" x2="396.6" y2="141.1"/><linearGradient id="bay" href="#c" x1="427.2" y1="132.8" x2="427.7" y2="128.5"/><linearGradient id="baz" href="#c" x1="417.2" y1="128.7" x2="415.9" y2="136.1"/><linearGradient id="bb0" href="#c" x1="406.7" y1="126.8" x2="405.3" y2="133.4"/><linearGradient id="bb1" href="#c" x1="422.5" y1="133.1" x2="423.5" y2="124.9"/><linearGradient id="bb2" href="#c" x1="411.9" y1="131" x2="412.8" y2="125.3"/><linearGradient id="bb3" href="#c" x1="417.6" y1="133.7" x2="419.2" y2="120.8"/></defs>
<g class="sf" filter="url(#fz)"><path fill="url(#b0)" d="M401.9 19.9l5 11.8-4.3 1.6-5-11.7z"/><path fill="url(#b1)" d="M406.3 30.3l5 11-4.2 1.7-5.1-11z"/><path fill="url(#b2)" d="M410.7 40l5.1 10.3-4.3 1.7-5.1-10.4z"/><path fill="url(#b3)" d="M415.1 49l5.2 9.6-4.3 1.8-5.1-9.7z"/><path fill="url(#b4)" d="M398.1 21.4l5 11.7-4.3 1.6-5-11.8z"/><path fill="url(#b5)" d="M419.6 57.3l5.2 9-4.3 1.8-5.2-9z"/><path fill="url(#b6)" d="M402.6 31.7l5 11.1-4.3 1.6-5.1-11.1z"/><path fill="url(#b7)" d="M407 41.4l5.1 10.3-4.3 1.7-5.2-10.4z"/><path fill="url(#b8)" d="M424.1 65.1l5.2 8.3-4.2 1.8-5.3-8.4z"/><path fill="url(#b9)" d="M411.4 50.4l5.2 9.7-4.3 1.6-5.2-9.6z"/><path fill="url(#ba)" d="M394.3 22.7l5 11.8-4.4 1.5-5-11.7z"/><path fill="url(#bb)" d="M428.6 72.2l5.3 7.7-4.2 1.9-5.4-7.8z"/><path fill="url(#bc)" d="M415.9 58.8l5.2 9-4.3 1.7-5.2-9.1z"/><path fill="url(#bd)" d="M398.7 33.1l5.1 11-4.4 1.6-5.1-11.1z"/><path fill="url(#be)" d="M403.2 42.8l5.1 10.3-4.4 1.6-5.1-10.4z"/><path fill="url(#bf)" d="M433.1 78.7l5.4 7.2-4.2 1.9-5.4-7.2z"/><path fill="url(#bg)" d="M420.4 66.5l5.3 8.4-4.3 1.7-5.3-8.4z"/><path fill="url(#bh)" d="M407.7 51.8l5.1 9.7-4.3 1.5-5.2-9.6z"/><path fill="url(#bi)" d="M390.4 24.1l5 11.7-4.4 1.5-5.1-11.8z"/><path fill="url(#bj)" d="M424.9 73.6l5.4 7.8-4.3 1.8-5.4-7.8z"/><path fill="url(#bk)" d="M437.7 84.7l5.5 6.6-4.2 2-5.5-6.6z"/><path fill="url(#bl)" d="M412.1 60.1l5.3 9.1-4.4 1.6-5.2-9z"/><path fill="url(#bm)" d="M394.9 34.4l5 11-4.4 1.5-5.1-11z"/><path fill="url(#bn)" d="M399.3 44.1l5.2 10.3-4.5 1.5-5.1-10.3z"/><path fill="url(#bo)" d="M429.5 80.2l5.4 7.2-4.2 1.8-5.5-7.2z"/><path fill="url(#bp)" d="M416.7 67.9l5.3 8.4-4.4 1.6-5.3-8.4z"/><path fill="url(#bq)" d="M442.3 90.2l5.6 6-4.1 2-5.7-6z"/><path fill="url(#br)" d="M403.8 53.1l5.2 9.7-4.4 1.5-5.2-9.7z"/><path fill="url(#bs)" d="M386.4 25.3l5.1 11.7-4.5 1.4-5.1-11.7z"/><path fill="url(#bt)" d="M421.2 75l5.4 7.8-4.3 1.7-5.4-7.8z"/><path fill="url(#bu)" d="M434.1 86.2l5.5 6.6-4.2 1.9-5.6-6.6z"/><path fill="url(#bv)" d="M408.3 61.4l5.3 9.1-4.4 1.5-5.3-9z"/><path fill="url(#bw)" d="M447 95.1l5.7 5.4-4.1 2.1-5.7-5.5z"/><path fill="url(#bx)" d="M390.9 35.7l5.1 11-4.5 1.4-5.1-11z"/><path fill="url(#by)" d="M395.4 45.3l5.2 10.4-4.5 1.4-5.2-10.3z"/><path fill="url(#bz)" d="M425.8 81.6l5.5 7.2-4.4 1.7-5.4-7.2z"/><path fill="url(#b10)" d="M412.9 69.2l5.3 8.4-4.4 1.6-5.3-8.4z"/><path fill="url(#b11)" d="M438.8 91.7l5.6 6-4.3 1.9-5.6-6z"/><path fill="url(#b12)" d="M399.9 54.3l5.3 9.7-4.5 1.4-5.3-9.6z"/><path fill="url(#b13)" d="M451.8 99.5l5.7 4.9-4.1 2.1-5.8-4.9z"/><path fill="url(#b14)" d="M382.4 26.5l5.1 11.7-4.6 1.4-5.1-11.7z"/><path fill="url(#b15)" d="M417.5 76.3l5.4 7.9-4.4 1.6-5.4-7.9z"/><path fill="url(#b16)" d="M430.4 87.6l5.6 6.6-4.3 1.8-5.6-6.6z"/><path fill="url(#b17)" d="M404.5 62.7l5.3 9-4.5 1.5-5.3-9.1z"/><path fill="url(#b18)" d="M386.9 36.8l5.2 11.1-4.6 1.3-5.2-11z"/><path fill="url(#b19)" d="M443.5 96.6l5.6 5.5-4.1 2-5.8-5.5z"/><path fill="url(#b1a)" d="M391.4 46.5l5.2 10.3-4.5 1.4-5.2-10.3z"/><path fill="url(#b1b)" d="M456.5 103.4l5.9 4.3-4 2.3-5.9-4.4z"/><path fill="url(#b1c)" d="M422.1 82.9l5.4 7.2-4.3 1.7-5.5-7.2z"/><path fill="url(#b1d)" d="M409.1 70.4l5.3 8.4-4.5 1.5-5.3-8.4z"/><path fill="url(#b1e)" d="M435.1 93.1l5.6 6.1-4.2 1.8-5.7-6.1z"/><path fill="url(#b1f)" d="M396 55.5l5.2 9.7-4.5 1.3-5.3-9.6z"/><path fill="url(#b1g)" d="M448.2 101l5.8 5-4.2 2-5.8-4.9z"/><path fill="url(#b1h)" d="M378.3 27.7l5.1 11.7-4.6 1.2-5.2-11.6z"/><path fill="url(#b1i)" d="M413.7 77.6l5.4 7.8-4.5 1.5-5.4-7.8z"/><path fill="url(#b1j)" d="M426.7 89l5.6 6.6-4.4 1.7-5.5-6.7z"/><path fill="url(#b1k)" d="M400.6 63.8l5.3 9.1-4.6 1.4-5.3-9.1z"/><path fill="url(#b1l)" d="M382.9 38l5.1 11-4.6 1.3-5.2-11z"/><path fill="url(#b1m)" d="M461.4 106.8l6 3.8-4 2.3-6-3.8z"/><path fill="url(#b1n)" d="M439.8 98.1l5.8 5.5-4.3 1.8-5.7-5.5z"/><path fill="url(#b1o)" d="M387.4 47.6l5.2 10.3-4.6 1.3-5.2-10.3z"/><path fill="url(#b1p)" d="M453 105l5.9 4.4-4.1 2.1-5.9-4.5z"/><path fill="url(#b1q)" d="M418.3 84.2l5.5 7.2-4.5 1.5-5.5-7.2z"/><path fill="url(#b1r)" d="M405.2 71.6l5.3 8.4-4.5 1.4-5.4-8.4z"/><path fill="url(#b1s)" d="M431.4 94.4l5.7 6.1-4.4 1.7-5.6-6z"/><path fill="url(#b1t)" d="M392 56.6l5.2 9.6-4.6 1.3-5.3-9.6z"/><path fill="url(#b1u)" d="M444.6 102.5l5.8 5-4.2 1.9-5.8-5z"/><path fill="url(#b1v)" d="M466.3 109.8l6.1 3.3-3.9 2.3-6.2-3.3z"/><path fill="url(#b1w)" d="M374.2 28.8l5.1 11.6-4.7 1.3-5.2-11.7z"/><path fill="url(#b1x)" d="M409.8 78.7l5.4 7.8-4.5 1.5-5.5-7.8z"/><path fill="url(#b1y)" d="M423 90.2l5.5 6.6-4.4 1.6-5.6-6.6z"/><path fill="url(#b1z)" d="M378.7 39l5.2 11-4.7 1.2-5.2-10.9z"/><path fill="url(#b20)" d="M396.6 64.9l5.3 9.1-4.6 1.3-5.4-9z"/><path fill="url(#b21)" d="M457.9 108.4l6 3.9-4.1 2.2-6-3.9z"/><path fill="url(#b22)" d="M436.2 99.4l5.7 5.5-4.3 1.8-5.8-5.5z"/><path fill="url(#b23)" d="M383.3 48.7l5.2 10.3-4.7 1.2-5.2-10.3z"/><path fill="url(#b24)" d="M449.5 106.5l5.9 4.4-4.2 2-5.9-4.5z"/><path fill="url(#b25)" d="M414.4 85.3l5.5 7.2-4.5 1.5-5.5-7.2z"/><path fill="url(#b26)" d="M401.2 72.7l5.4 8.4-4.6 1.3-5.4-8.4z"/><path fill="url(#b27)" d="M427.7 95.7l5.6 6.1-4.4 1.6-5.6-6.1z"/><path fill="url(#b28)" d="M471.3 112.3l6.3 2.8-4 2.4-6.2-2.8z"/><path fill="url(#b29)" d="M387.9 57.6l5.3 9.7-4.7 1.2-5.3-9.6z"/><path fill="url(#b2a)" d="M441 103.9l5.8 5-4.3 1.8-5.8-5z"/><path fill="url(#b2b)" d="M462.8 111.4l6.2 3.4-4.1 2.2-6.1-3.4z"/><path fill="url(#b2c)" d="M369.9 29.8l5.2 11.6-4.8 1.2-5.2-11.6z"/><path fill="url(#b2d)" d="M405.8 79.8l5.5 7.8-4.6 1.4-5.5-7.8z"/><path fill="url(#b2e)" d="M419.1 91.3l5.6 6.7-4.5 1.5-5.6-6.7z"/><path fill="url(#b2f)" d="M374.5 40.1l5.3 10.9-4.8 1.2-5.3-11z"/><path fill="url(#b2g)" d="M454.3 109.9l6.1 3.9-4.2 2.1-6-3.9z"/><path fill="url(#b2h)" d="M392.5 65.9l5.4 9.1-4.7 1.2-5.4-9z"/><path fill="url(#b2i)" d="M432.4 100.7l5.8 5.5-4.4 1.7-5.7-5.6z"/><path fill="url(#b2j)" d="M476.4 114.3l6.4 2.3-3.9 2.5-6.4-2.3z"/><path fill="url(#b2k)" d="M379.1 49.6l5.3 10.3-4.8 1.2-5.3-10.3z"/><path fill="url(#b2l)" d="M445.8 107.8l6 4.5-4.3 1.9-5.9-4.5z"/><path fill="url(#b2m)" d="M410.5 86.4l5.5 7.2-4.5 1.4-5.6-7.2z"/><path fill="url(#b2n)" d="M397.2 73.7l5.4 8.4-4.7 1.2-5.4-8.4z"/><path fill="url(#b2o)" d="M423.9 96.8l5.6 6.1-4.4 1.6-5.7-6.1z"/><path fill="url(#b2p)" d="M467.9 114l6.2 2.8-4 2.3-6.2-2.9z"/><path fill="url(#b2q)" d="M383.8 58.6l5.3 9.6-4.8 1.2-5.3-9.6z"/><path fill="url(#b2r)" d="M437.3 105.1l5.8 5.1-4.3 1.7-5.9-5.1z"/><path fill="url(#b2s)" d="M459.3 113l6.2 3.4-4.1 2.1-6.2-3.5z"/><path fill="url(#b2t)" d="M365.6 30.8l5.3 11.6-4.9 1.1-5.2-11.6z"/><path fill="url(#b2u)" d="M401.8 80.8l5.5 7.8-4.6 1.3-5.5-7.8z"/><path fill="url(#b2v)" d="M415.2 92.4l5.6 6.7-4.5 1.4-5.6-6.7z"/><path fill="url(#b2w)" d="M370.3 41l5.2 10.9-4.8 1.1-5.3-10.9z"/><path fill="url(#b2x)" d="M450.7 111.3l6.1 4-4.2 1.9-6.1-3.9z"/><path fill="url(#b2y)" d="M388.4 66.9l5.4 9-4.8 1.1-5.4-8.9z"/><path fill="url(#b2z)" d="M428.7 101.8l5.7 5.6-4.4 1.6-5.8-5.6z"/><path fill="url(#b30)" d="M481.5 116l6.5 1.8-3.8 2.5-6.5-1.8z"/><path fill="url(#b31)" d="M472.9 116.1l6.4 2.3-3.9 2.4-6.4-2.4z"/><path fill="url(#b32)" d="M374.9 50.6l5.3 10.2-4.8 1.1-5.4-10.2z"/><path fill="url(#b33)" d="M442.1 109.1l6 4.5-4.3 1.8-6-4.5z"/><path fill="url(#b34)" d="M406.5 87.4l5.6 7.2-4.6 1.3-5.6-7.2z"/><path fill="url(#b35)" d="M393.1 74.6l5.4 8.4-4.7 1.1-5.5-8.3z"/><path fill="url(#b36)" d="M420 97.9l5.7 6.1-4.5 1.5-5.7-6.2z"/><path fill="url(#b37)" d="M464.3 115.5l6.3 2.9-4 2.2-6.3-2.9z"/><path fill="url(#b38)" d="M379.6 59.5l5.3 9.6-4.8 1.1-5.4-9.6z"/><path fill="url(#b39)" d="M433.5 106.3l5.9 5-4.4 1.7-5.9-5.1z"/><path fill="url(#b3a)" d="M361.3 31.7l5.2 11.6-4.9 1-5.3-11.5z"/><path fill="url(#b3b)" d="M455.7 114.4l6.2 3.4-4.2 2-6.1-3.4z"/><path fill="url(#b3c)" d="M397.8 81.7l5.5 7.8-4.8 1.2-5.5-7.8z"/><path fill="url(#b3d)" d="M411.3 93.4l5.6 6.7-4.6 1.3-5.6-6.7z"/><path fill="url(#b3e)" d="M486.8 117.2l6.6 1.3-3.7 2.6-6.7-1.3z"/><path fill="url(#b3f)" d="M365.9 41.9l5.3 10.9-4.9 1-5.3-10.8z"/><path fill="url(#b3g)" d="M447.1 112.7l6 3.9-4.2 1.9-6.1-4z"/><path fill="url(#b3h)" d="M384.2 67.8l5.4 8.9-4.8 1.1-5.4-8.9z"/><path fill="url(#b3i)" d="M424.8 102.9l5.8 5.6-4.5 1.4-5.8-5.5z"/><path fill="#730078" d="M478.1 117.7l6.5 1.9-3.8 2.4-6.6-1.9z"/><path fill="url(#b3k)" d="M469.4 117.7l6.4 2.4-3.9 2.2-6.4-2.4z"/><path fill="url(#b3l)" d="M370.6 51.4l5.3 10.2-4.9 1-5.3-10.1z"/><path fill="url(#b3m)" d="M438.4 110.3l6 4.5-4.4 1.7-6-4.5z"/><path fill="url(#b3n)" d="M402.5 88.3l5.6 7.2-4.7 1.2-5.6-7.2z"/><path fill="url(#b3o)" d="M388.9 75.4l5.5 8.4-4.8 1.1-5.5-8.4z"/><path fill="url(#b3p)" d="M460.8 117l6.3 2.9-4.1 2.1-6.3-3z"/><path fill="url(#b3q)" d="M416.1 98.9l5.7 6.1-4.6 1.3-5.7-6.1z"/><path fill="url(#b3r)" d="M375.3 60.3l5.3 9.6-4.9 1-5.4-9.6z"/><path fill="url(#b3s)" d="M429.7 107.4l5.9 5-4.5 1.5-5.9-5z"/><path fill="url(#b3t)" d="M356.9 32.5l5.2 11.6-5 1-5.3-11.5z"/><path fill="url(#b3u)" d="M452.1 115.7l6.2 3.5-4.2 1.9-6.2-3.5z"/><path fill="url(#b3v)" d="M492.1 118l6.8.9-3.6 2.6-6.9-.9z"/><path fill="url(#b3w)" d="M483.3 119l6.7 1.4-3.7 2.5-6.7-1.5z"/><path fill="url(#b3x)" d="M393.6 82.5l5.5 7.8-4.7 1.1-5.6-7.7z"/><path fill="url(#b3y)" d="M407.3 94.3l5.6 6.6-4.7 1.2-5.6-6.6z"/><path fill="url(#b3z)" d="M361.5 42.7l5.3 10.9-5 .9-5.3-10.8z"/><path fill="url(#b40)" d="M443.4 113.9l6 4-4.3 1.7-6.1-4.1z"/><path fill="url(#b41)" d="M380 68.6l5.4 8.9-4.9 1-5.4-8.9z"/><path fill="#730078" d="M474.6 119.4l6.6 1.9-3.9 2.3-6.6-2z"/><path fill="url(#b43)" d="M420.9 103.9l5.8 5.5-4.6 1.4-5.8-5.6z"/><path fill="url(#b44)" d="M465.9 119.2l6.4 2.4-4 2.1-6.4-2.5z"/><path fill="url(#b45)" d="M366.2 52.2l5.4 10.2-5 .9-5.4-10.1z"/><path fill="url(#b46)" d="M434.6 111.4l6 4.5-4.4 1.6-6-4.6z"/><path fill="url(#b47)" d="M398.4 89.1l5.6 7.2-4.8 1.1-5.6-7.2z"/><path fill="url(#b48)" d="M457.1 118.3l6.4 3-4.2 2-6.3-3.1z"/><path fill="url(#b49)" d="M384.7 76.2l5.5 8.3-4.9 1-5.5-8.3z"/><path fill="url(#b4a)" d="M412.1 99.8l5.7 6.1-4.7 1.2-5.7-6.1z"/><path fill="url(#b4b)" d="M370.9 61l5.4 9.6-5 .9-5.4-9.5z"/><path fill="url(#b4c)" d="M352.4 33.3l5.2 11.5-5.1 1-5.3-11.5z"/><path fill="url(#b4d)" d="M425.8 108.4l5.9 5-4.5 1.4-5.9-5z"/><path fill="url(#b4e)" d="M448.4 116.9l6.2 3.6-4.3 1.7-6.2-3.5z"/><path fill="url(#b4f)" d="M488.7 119.9l6.8.9-3.7 2.5-6.8-1z"/><path fill="url(#b4g)" d="M479.9 120.7l6.7 1.5-3.8 2.3-6.7-1.5z"/><path fill="url(#b4h)" d="M389.4 83.3l5.6 7.7-4.9 1-5.6-7.7z"/><path fill="url(#b4i)" d="M403.2 95.1l5.6 6.6-4.7 1.1-5.7-6.6z"/><path fill="url(#b4j)" d="M357.1 43.5l5.3 10.8-5.1.9-5.4-10.8z"/><path fill="url(#b4k)" d="M439.6 114.9l6.1 4.1-4.4 1.6-6.1-4.1z"/><path fill="#730078" d="M471.1 120.9l6.6 2-4 2.1-6.6-2z"/><path fill="url(#b4m)" d="M375.7 69.3l5.4 8.9-5 .9-5.5-8.9z"/><path fill="url(#b4n)" d="M416.9 104.7l5.8 5.6-4.6 1.3-5.8-5.6z"/><path fill="url(#b4o)" d="M462.3 120.6l6.4 2.5-4 1.9-6.5-2.5z"/><path fill="url(#b4p)" d="M361.8 52.9l5.3 10.2-5.1.8-5.3-10.1z"/><path fill="url(#b4q)" d="M430.7 112.4l6 4.5-4.4 1.4-6.1-4.5z"/><path fill="url(#b4r)" d="M394.2 89.8l5.6 7.2-4.8 1-5.7-7.2z"/><path fill="url(#b4s)" d="M453.5 119.6l6.3 3-4.2 1.8-6.4-3.1z"/><path fill="url(#b4t)" d="M380.4 76.9l5.5 8.3-5 .9-5.5-8.3z"/><path fill="url(#b4u)" d="M408 100.6l5.8 6.1-4.8 1.1-5.7-6.1z"/><path fill="url(#b4v)" d="M366.5 61.7l5.4 9.5-5.1.9-5.4-9.5z"/><path fill="url(#b4w)" d="M347.8 34.1l5.3 11.4-5.2.9-5.3-11.4z"/><path fill="url(#b4x)" d="M421.8 109.2l6 5.1-4.6 1.3-6-5.1z"/><path fill="url(#b4y)" d="M485.2 121.7l6.9.9-3.7 2.4-6.9-1.1z"/><path fill="url(#b4z)" d="M444.6 118l6.2 3.6-4.3 1.6-6.2-3.6z"/><path fill="url(#b50)" d="M476.4 122.3l6.7 1.5-3.9 2.2-6.7-1.6z"/><path fill="url(#b51)" d="M385.2 83.9l5.5 7.8-4.9.9-5.6-7.7z"/><path fill="url(#b52)" d="M399 95.8l5.7 6.6-4.8 1-5.7-6.6z"/><path fill="url(#b53)" d="M352.5 44.2l5.4 10.7-5.2.8-5.4-10.7z"/><path fill="url(#b54)" d="M467.5 122.3l6.6 2.1-4 2-6.6-2.1z"/><path fill="url(#b55)" d="M435.7 115.9l6.1 4.1-4.4 1.4-6.1-4z"/><path fill="url(#b56)" d="M371.3 69.9l5.4 8.9-5.1.8-5.4-8.8z"/><path fill="url(#b57)" d="M412.9 105.5l5.8 5.6-4.7 1.1-5.8-5.5z"/><path fill="url(#b58)" d="M458.6 121.8l6.5 2.6-4.1 1.8-6.5-2.6z"/><path fill="url(#b59)" d="M357.3 53.6l5.3 10.1-5.1.8-5.4-10.1z"/><path fill="url(#b5a)" d="M426.8 113.2l6 4.6-4.5 1.3-6.1-4.5z"/><path fill="url(#b5b)" d="M390 90.4l5.6 7.2-5 .9-5.6-7.1z"/><path fill="url(#b5c)" d="M449.7 120.7l6.4 3.1-4.3 1.6-6.4-3.1z"/><path fill="url(#b5d)" d="M376 77.5l5.5 8.3-5 .8-5.6-8.2z"/><path fill="url(#b5e)" d="M403.9 101.2l5.7 6.1-4.8 1.1-5.7-6.1z"/><path fill="url(#b5f)" d="M362 62.3l5.4 9.5-5.1.8-5.5-9.5z"/><path fill="url(#b5g)" d="M343.1 34.8l5.4 11.3-5.3.8-5.4-11.3z"/><path fill="url(#b5h)" d="M481.7 123.3l6.9 1-3.8 2.2-6.9-1.1z"/><path fill="url(#b5i)" d="M417.8 110l5.9 5.1-4.6 1.1-6-5z"/><path fill="url(#b5j)" d="M440.8 119l6.2 3.6-4.3 1.5-6.3-3.6z"/><path fill="url(#b5k)" d="M472.8 123.7l6.7 1.6-3.9 2-6.7-1.6z"/><path fill="url(#b5l)" d="M347.9 44.8l5.3 10.7-5.2.7-5.4-10.6z"/><path fill="url(#b5m)" d="M380.8 84.5l5.6 7.7-5.1.8-5.5-7.6z"/><path fill="url(#b5n)" d="M394.8 96.4l5.7 6.6-4.9.9-5.7-6.6z"/><path fill="url(#b5o)" d="M463.8 123.6l6.7 2.1-4.1 1.9-6.6-2.1z"/><path fill="url(#b5p)" d="M431.8 116.8l6.2 4.1-4.5 1.3-6.2-4.1z"/><path fill="url(#b5q)" d="M366.8 70.5l5.4 8.8-5.1.8-5.5-8.8z"/><path fill="url(#b5r)" d="M408.8 106.2l5.8 5.6-4.7 1-5.9-5.5z"/><path fill="url(#b5s)" d="M454.9 123l6.5 2.5-4.2 1.7-6.5-2.6z"/><path fill="url(#b5t)" d="M352.6 54.1l5.4 10.1-5.2.7-5.4-10z"/><path fill="url(#b5u)" d="M422.8 114l6 4.6-4.6 1.2-6-4.6z"/><path fill="url(#b5v)" d="M385.6 91l5.7 7.1-5 .8-5.7-7.1z"/><path fill="url(#b5w)" d="M445.9 121.7l6.4 3.1-4.3 1.5-6.4-3.1z"/><path fill="url(#b5x)" d="M371.6 78l5.5 8.3-5.2.7-5.5-8.2z"/><path fill="url(#b5y)" d="M399.7 101.8l5.7 6.1-4.8.9-5.8-6z"/><path fill="url(#b5z)" d="M338.4 35.4l5.3 11.3-5.3.7-5.4-11.2z"/><path fill="url(#b60)" d="M478.2 124.8l6.9 1-3.8 2.1-7-1.1z"/><path fill="url(#b61)" d="M357.4 62.9l5.5 9.4-5.3.7-5.5-9.4z"/><path fill="url(#b62)" d="M413.7 110.7l6 5-4.8 1.1-5.9-5.1z"/><path fill="url(#b63)" d="M436.9 119.9l6.3 3.6-4.5 1.4-6.3-3.6z"/><path fill="url(#b64)" d="M469.2 125.1l6.7 1.6-3.9 1.8-6.8-1.6z"/><path fill="url(#b65)" d="M343.2 45.3l5.3 10.7-5.3.7-5.4-10.6z"/><path fill="url(#b66)" d="M376.4 85l5.6 7.7-5.2.7-5.6-7.6z"/><path fill="url(#b67)" d="M390.5 96.9l5.7 6.6-5 .8-5.7-6.5z"/><path fill="url(#b68)" d="M460.1 124.8l6.7 2.1-4.1 1.7-6.7-2.1z"/><path fill="url(#b69)" d="M427.8 117.6l6.2 4-4.6 1.2-6.1-4z"/><path fill="url(#b6a)" d="M362.2 71l5.5 8.8-5.2.6-5.5-8.7z"/><path fill="url(#b6b)" d="M404.6 106.8l5.9 5.5-4.9.9-5.9-5.5z"/><path fill="url(#b6c)" d="M451.1 124l6.5 2.6-4.2 1.5-6.5-2.6z"/><path fill="url(#b6d)" d="M348 54.6l5.4 10-5.4.7-5.4-9.9z"/><path fill="url(#b6e)" d="M418.7 114.7l6.1 4.5-4.7 1.1-6.1-4.6z"/><path fill="url(#b6f)" d="M442 122.6l6.4 3.1-4.3 1.4-6.4-3.1z"/><path fill="url(#b6g)" d="M381.2 91.4l5.7 7.1-5.1.8-5.7-7.1z"/><path fill="url(#b6h)" d="M367 78.5l5.6 8.2-5.3.6-5.5-8.1z"/><path fill="url(#b6i)" d="M395.4 102.3l5.8 6.1-5 .8-5.8-6z"/><path fill="url(#b6j)" d="M333.5 35.9l5.4 11.3-5.4.7-5.5-11.2z"/><path fill="url(#b6k)" d="M474.6 126.1l6.9 1.2-3.8 1.8-7-1.1z"/><path fill="url(#b6l)" d="M352.8 63.3l5.4 9.4-5.3.6-5.5-9.3z"/><path fill="url(#b6m)" d="M432.9 120.7l6.3 3.6-4.5 1.2-6.3-3.6z"/><path fill="url(#b6n)" d="M409.6 111.2l5.9 5.1-4.8.9-6-5z"/><path fill="url(#b6o)" d="M465.5 126.3l6.8 1.6-4 1.7-6.8-1.6z"/><path fill="url(#b6p)" d="M338.4 45.8l5.4 10.6-5.5.6-5.4-10.5z"/><path fill="url(#b6q)" d="M371.9 85.4l5.6 7.6-5.2.7-5.7-7.6z"/><path fill="url(#b6r)" d="M456.4 125.9l6.7 2.1-4.2 1.5-6.7-2.1z"/><path fill="url(#b6s)" d="M386.1 97.3l5.7 6.6-5 .7-5.8-6.5z"/><path fill="url(#b6t)" d="M423.8 118.2l6.2 4.1-4.7 1.1-6.2-4.1z"/><path fill="url(#b6u)" d="M357.6 71.4l5.5 8.7-5.4.6-5.5-8.7z"/><path fill="url(#b6v)" d="M400.4 107.2l5.8 5.6-4.9.8-5.9-5.5z"/><path fill="url(#b6w)" d="M447.3 124.9l6.5 2.6-4.3 1.4-6.6-2.6z"/><path fill="url(#b6x)" d="M343.2 55.1l5.4 9.9-5.4.6-5.5-9.9z"/><path fill="url(#b6y)" d="M414.6 115.2l6.1 4.6-4.8.9-6.1-4.5z"/><path fill="url(#b6z)" d="M438.1 123.4l6.4 3.1-4.4 1.2-6.4-3.1z"/><path fill="url(#b70)" d="M376.8 91.8l5.6 7.1-5.2.6-5.7-7z"/><path fill="url(#b71)" d="M362.4 78.8l5.6 8.2-5.4.5-5.5-8.1z"/><path fill="url(#b72)" d="M391 102.7l5.8 6-5 .7-5.8-5.9z"/><path fill="url(#b73)" d="M328.6 36.4l5.4 11.2-5.5.6-5.5-11.1z"/><path fill="url(#b74)" d="M470.9 127.4l7 1.1-3.9 1.7-7-1.2z"/><path fill="url(#b75)" d="M348 63.7l5.5 9.3-5.5.5-5.5-9.2z"/><path fill="url(#b76)" d="M428.9 121.3l6.3 3.6-4.6 1.1-6.3-3.6z"/><path fill="url(#b77)" d="M405.3 111.7l6 5-4.9.8-6-5z"/><path fill="url(#b78)" d="M461.7 127.3l6.9 1.7-4.1 1.6-6.8-1.7z"/><path fill="url(#b79)" d="M333.5 46.3l5.4 10.5-5.6.5-5.4-10.4z"/><path fill="url(#b7a)" d="M452.5 126.8l6.8 2.1-4.3 1.4-6.7-2.1z"/><path fill="url(#b7b)" d="M367.3 85.7l5.6 7.6-5.3.5-5.6-7.5z"/><path fill="url(#b7c)" d="M381.7 97.7l5.7 6.5-5.2.6-5.7-6.5z"/><path fill="url(#b7d)" d="M352.9 71.7l5.5 8.7-5.5.5-5.5-8.7z"/><path fill="url(#b7e)" d="M419.7 118.7l6.2 4.1-4.7 1-6.3-4.1z"/><path fill="url(#b7f)" d="M396 107.6l5.9 5.5-5 .7-5.9-5.5z"/><path fill="url(#b7g)" d="M443.3 125.7l6.6 2.6-4.3 1.3-6.6-2.7z"/><path fill="url(#b7h)" d="M338.3 55.4l5.5 9.9-5.6.5-5.5-9.8z"/><path fill="url(#b7i)" d="M410.4 115.6l6.1 4.6-4.9.8-6.1-4.5z"/><path fill="url(#b7j)" d="M434.1 124l6.4 3.1-4.5 1.1-6.4-3.1z"/><path fill="url(#b7k)" d="M372.2 92.1l5.7 7-5.3.5-5.7-7z"/><path fill="url(#b7l)" d="M357.7 79.1l5.6 8.1-5.4.5-5.6-8.1z"/><path fill="url(#b7m)" d="M323.6 36.8l5.5 11.2-5.7.5-5.5-11z"/><path fill="url(#b7n)" d="M386.6 103l5.8 6-5.1.6-5.9-6z"/><path fill="url(#b7o)" d="M467.2 128.5l7 1.2-4 1.5-7-1.2z"/><path fill="url(#b7p)" d="M343.2 64l5.5 9.2-5.6.5-5.5-9.2z"/><path fill="url(#b7q)" d="M424.8 121.8l6.3 3.7-4.6.9-6.4-3.6z"/><path fill="url(#b7r)" d="M457.9 128.3l6.9 1.7-4.1 1.4-6.9-1.8z"/><path fill="url(#b7s)" d="M401 112l6 5-5 .7-6-5z"/><path fill="url(#b7t)" d="M328.5 46.6l5.4 10.5-5.6.4-5.5-10.3z"/><path fill="url(#b7u)" d="M448.7 127.6l6.7 2.1-4.3 1.3-6.7-2.2z"/><path fill="url(#b7v)" d="M362.6 85.9l5.6 7.6-5.4.4-5.6-7.5z"/><path fill="url(#b7w)" d="M377.1 97.9l5.8 6.5-5.3.5-5.8-6.5z"/><path fill="url(#b7x)" d="M348 71.9l5.6 8.6-5.6.5-5.5-8.6z"/><path fill="url(#b7y)" d="M415.5 119.2l6.2 4-4.8.8-6.2-4z"/><path fill="url(#b7z)" d="M391.6 107.9l5.9 5.4-5.1.6-5.9-5.4z"/><path fill="url(#b80)" d="M439.4 126.3l6.6 2.7-4.5 1.1-6.6-2.7z"/><path fill="url(#b81)" d="M333.4 55.7l5.4 9.8-5.6.4-5.5-9.7z"/><path fill="url(#b82)" d="M406.1 116l6.1 4.5-4.9.7-6.2-4.5z"/><path fill="url(#b83)" d="M430 124.5l6.5 3.2-4.6.9-6.5-3.1z"/><path fill="url(#b84)" d="M367.5 92.2l5.7 7-5.4.4-5.7-6.9z"/><path fill="url(#b85)" d="M352.9 79.3l5.6 8-5.5.4-5.6-8z"/><path fill="url(#b86)" d="M318.5 37.2l5.5 11-5.8.5-5.5-10.9z"/><path fill="url(#b87)" d="M463.4 129.4l7 1.2-4 1.4-7.1-1.2z"/><path fill="url(#b88)" d="M382.1 103.2l5.8 5.9-5.2.5-5.9-5.9z"/><path fill="url(#b89)" d="M338.2 64.2l5.6 9.2-5.7.3-5.5-9.1z"/><path fill="url(#b8a)" d="M454 129.1l6.9 1.7-4.1 1.2-6.9-1.7z"/><path fill="url(#b8b)" d="M420.7 122.2l6.3 3.6-4.7.9-6.4-3.6z"/><path fill="url(#b8c)" d="M396.6 112.2l6 5-5 .6-6.1-5z"/><path fill="url(#b8d)" d="M323.4 46.9l5.5 10.4-5.8.4-5.5-10.3z"/><path fill="url(#b8e)" d="M444.7 128.2l6.7 2.2-4.3 1.1-6.8-2.2z"/><path fill="url(#b8f)" d="M357.8 86.1l5.7 7.4-5.5.4-5.7-7.4z"/><path fill="url(#b8g)" d="M372.5 98l5.7 6.4-5.3.4-5.8-6.4z"/><path fill="url(#b8h)" d="M343.1 72.1l5.6 8.5-5.7.4-5.5-8.5z"/><path fill="url(#b8i)" d="M411.2 119.4l6.2 4.1-4.8.7-6.3-4z"/><path fill="url(#b8j)" d="M387.1 108l5.9 5.5-5.2.4-5.9-5.4z"/><path fill="url(#b8k)" d="M435.3 126.8l6.6 2.7-4.5.9-6.6-2.6z"/><path fill="url(#b8l)" d="M328.3 55.9l5.5 9.7-5.8.4-5.5-9.6z"/><path fill="url(#b8m)" d="M401.7 116.1l6.1 4.6-5 .5-6.1-4.5z"/><path fill="url(#b8n)" d="M425.9 124.9l6.5 3.2-4.7.8-6.5-3.2z"/><path fill="url(#b8o)" d="M362.8 92.3l5.7 6.9-5.5.3-5.7-6.8z"/><path fill="url(#b8p)" d="M348 79.4l5.6 7.9-5.6.3-5.6-7.9z"/><path fill="url(#b8q)" d="M459.5 130.3l7.1 1.2-4.1 1.2-7.1-1.3z"/><path fill="url(#b8r)" d="M377.5 103.3l5.8 5.9-5.3.3-5.9-5.8z"/><path fill="url(#b8s)" d="M333.2 64.3l5.5 9.1-5.7.3-5.6-9z"/><path fill="url(#b8t)" d="M450.1 129.8l6.9 1.7-4.2 1-7-1.7z"/><path fill="url(#b8u)" d="M416.4 122.5l6.4 3.6-4.8.7-6.4-3.6z"/><path fill="url(#b8v)" d="M392.2 112.3l6 5-5.2.4-6-4.9z"/><path fill="url(#b8w)" d="M440.6 128.7l6.8 2.2-4.3 1-6.9-2.2z"/><path fill="url(#b8x)" d="M353 86.1l5.6 7.4-5.6.2-5.7-7.3z"/><path fill="url(#b8y)" d="M367.8 98l5.7 6.4-5.4.3-5.8-6.4z"/><path fill="url(#b8z)" d="M338.1 72.1l5.6 8.5-5.8.3-5.5-8.4z"/><path fill="url(#b90)" d="M406.9 119.6l6.2 4.1-5 .5-6.2-4z"/><path fill="url(#b91)" d="M382.5 108l5.9 5.4-5.3.4-5.9-5.4z"/><path fill="url(#b92)" d="M431.2 127.2l6.6 2.7-4.5.8-6.7-2.7z"/><path fill="url(#b93)" d="M397.3 116.2l6.1 4.5-5.1.4-6.2-4.4z"/><path fill="url(#b94)" d="M421.6 125.2l6.6 3.1-4.8.7-6.5-3.1z"/><path fill="url(#b95)" d="M343.1 79.4l5.6 7.9-5.8.1-5.6-7.8z"/><path fill="url(#b96)" d="M357.9 92.3l5.8 6.8-5.6.2-5.8-6.8z"/><path fill="url(#b97)" d="M455.6 131l7.1 1.2-4.1 1-7.1-1.3z"/><path fill="url(#b98)" d="M372.8 103.2l5.8 5.9-5.4.2-5.9-5.8z"/><path fill="url(#b99)" d="M446.1 130.3l7 1.7-4.3.9-7-1.7z"/><path fill="url(#b9a)" d="M412.1 122.7l6.4 3.5-4.9.6-6.4-3.6z"/><path fill="url(#b9b)" d="M387.6 112.3l6 5-5.2.3-6.1-4.9z"/><path fill="url(#b9c)" d="M436.5 129.1l6.9 2.2-4.5.8-6.8-2.2z"/><path fill="url(#b9d)" d="M348 86l5.7 7.4-5.7.1-5.7-7.3z"/><path fill="url(#b9e)" d="M362.9 97.9l5.8 6.4-5.6.1-5.8-6.3z"/><path fill="url(#b9f)" d="M402.4 119.7l6.3 4-5.1.4-6.2-4z"/><path fill="url(#b9g)" d="M377.8 107.9l6 5.4-5.4.2-6-5.3z"/><path fill="url(#b9h)" d="M427 127.5l6.6 2.6-4.6.6-6.7-2.6z"/><path fill="url(#b9i)" d="M392.7 116.2l6.2 4.4-5.2.3-6.2-4.4z"/><path fill="url(#b9j)" d="M417.3 125.3l6.6 3.1-4.8.5-6.6-3.1z"/><path fill="url(#b9k)" d="M353 92.1l5.7 6.8-5.7.1-5.7-6.7z"/><path fill="url(#b9l)" d="M451.6 131.5l7.2 1.2-4.2.8-7.2-1.2z"/><path fill="url(#b9m)" d="M368 103.1l5.8 5.8-5.5.1-5.9-5.7z"/><path fill="url(#b9n)" d="M442 130.7l7 1.7-4.3.7-7.1-1.7z"/><path fill="url(#b9o)" d="M407.7 122.7l6.4 3.5-5 .4-6.5-3.5z"/><path fill="url(#b9p)" d="M382.9 112.2l6.1 4.9-5.4.2-6.1-4.9z"/><path fill="url(#b9q)" d="M432.3 129.4l6.9 2.2-4.5.5-6.9-2.1z"/><path fill="url(#b9r)" d="M358 97.7l5.8 6.3-5.7 0-5.8-6.2z"/><path fill="url(#b9s)" d="M397.9 119.6l6.3 4-5.2.2-6.3-3.9z"/><path fill="url(#b9t)" d="M373.1 107.7l5.9 5.4-5.5 0-6-5.2z"/><path fill="url(#b9u)" d="M422.7 127.6l6.7 2.6-4.7.5-6.8-2.6z"/><path fill="url(#b9v)" d="M388.1 116l6.1 4.4-5.3.2-6.2-4.4z"/><path fill="url(#b9w)" d="M412.9 125.3l6.6 3.1-4.9.3-6.6-3z"/><path fill="url(#b9x)" d="M447.5 131.9l7.2 1.2-4.2.6-7.2-1.2z"/><path fill="url(#b9y)" d="M363.1 102.8l5.9 5.8-5.7 0-5.9-5.7z"/><path fill="url(#b9z)" d="M437.8 130.9l7.1 1.7-4.4.5-7.1-1.7z"/><path fill="url(#ba0)" d="M403.2 122.6l6.4 3.5-5.1.2-6.4-3.5z"/><path fill="url(#ba1)" d="M378.2 111.9l6 4.9-5.4 0-6.1-4.7z"/><path fill="url(#ba2)" d="M428.1 129.5l6.9 2.1-4.6.4-6.9-2.1z"/><path fill="url(#ba3)" d="M393.3 119.3l6.3 4-5.3.1-6.3-3.9z"/><path fill="url(#ba4)" d="M418.3 127.5l6.7 2.7-4.7.3-6.8-2.6z"/><path fill="url(#ba5)" d="M368.2 107.4l5.9 5.3-5.6-.1-6-5.2z"/><path fill="url(#ba6)" d="M383.4 115.7l6.1 4.4-5.4 0-6.2-4.3z"/><path fill="url(#ba7)" d="M443.4 132.2l7.2 1.2-4.3.3-7.2-1.1z"/><path fill="url(#ba8)" d="M408.5 125.1l6.5 3.1-4.9.2-6.7-3z"/><path fill="url(#ba9)" d="M433.5 131l7.1 1.7-4.4.3-7.1-1.6z"/><path fill="url(#baa)" d="M398.6 122.3l6.4 3.5-5.2.1-6.4-3.5z"/><path fill="url(#bab)" d="M373.3 111.6l6.1 4.7-5.6 0-6.1-4.8z"/><path fill="url(#bac)" d="M423.7 129.4l6.9 2.2-4.6.2-7-2.1z"/><path fill="url(#bad)" d="M388.6 119l6.3 3.9-5.4 0-6.3-3.9z"/><path fill="url(#bae)" d="M413.8 127.4l6.8 2.6-4.8.1-6.9-2.6z"/><path fill="url(#baf)" d="M378.5 115.2l6.2 4.4-5.5-.2-6.2-4.2z"/><path fill="url(#bag)" d="M439.1 132.3l7.3 1.1-4.3.2-7.3-1.1z"/><path fill="url(#bah)" d="M403.9 124.9l6.6 3-5.1 0-6.6-3z"/><path fill="url(#bai)" d="M429.2 131l7.2 1.6-4.5.1-7.3-1.6z"/><path fill="url(#baj)" d="M393.9 121.9l6.4 3.5-5.2-.1-6.5-3.4z"/><path fill="url(#bak)" d="M419.2 129.3l7 2-4.7 0-7-2z"/><path fill="url(#bal)" d="M383.8 118.5l6.3 3.9-5.5-.2-6.3-3.8z"/><path fill="url(#bam)" d="M409.2 127.1l6.9 2.5-4.9-.1-6.9-2.5z"/><path fill="url(#ban)" d="M434.8 132.3l7.4 1-4.4-.1-7.4-1z"/><path fill="url(#bao)" d="M399.2 124.4l6.6 3-5.1-.1-6.7-3z"/><path fill="url(#bap)" d="M424.7 130.8l7.3 1.6-4.6-.2-7.3-1.5z"/><path fill="url(#baq)" d="M389.1 121.3l6.5 3.5-5.4-.3-6.5-3.3z"/><path fill="url(#bar)" d="M414.7 128.9l7 2.1-4.7-.3-7.1-1.9z"/><path fill="url(#bas)" d="M404.6 126.6l6.8 2.5-4.9-.3-7-2.4z"/><path fill="url(#bat)" d="M430.4 132.1l7.4 1-4.5-.4-7.4-.9z"/><path fill="url(#bau)" d="M394.4 123.8l6.7 3-5.2-.4-6.8-2.8z"/><path fill="url(#bav)" d="M420.2 130.5l7.3 1.5-4.6-.5-7.3-1.4z"/><path fill="url(#baw)" d="M410 128.5l7.1 1.9-4.8-.5-7.2-1.8z"/><path fill="url(#bax)" d="M399.8 126l6.9 2.4-5-.5-7-2.3z"/><path fill="url(#bay)" d="M421.3 131.1l7.5.8 4.5.7-7.4-.8z"/><path fill="url(#baz)" d="M415.6 130.1l7.3 1.3-4.7-.8-7.3-1.2z"/><path fill="url(#bb0)" d="M405.2 127.9l7.2 1.8-4.8-.8-7.3-1.7z"/><path fill="url(#bb1)" d="M416.7 130.4l7.5.6 4.6 1-7.5-.7z"/><path fill="url(#bb2)" d="M406.1 128.5l7.4 1 4.7 1.1-7.4-1.1z"/><path fill="url(#bb3)" d="M411.9 129.4l7.5.4 4.8 1.4-7.5-.5z"/></g>
<path class="ax" d="M317.97 148.02L312.53 19.82M317.97 148.02L418.04 184.8M418.04 184.8L496.85 142.92M496.85 142.92L503.3 18.29"/>
<path class="tk" d="M317.68 141.13L315.08 141.13M316.34 109.51L313.74 109.51M314.95 76.82L312.35 76.82M313.51 43.01L310.91 43.01M317.97 148.02L317.97 151.02M340.31 156.23L340.31 159.23M364.3 165.05L364.3 168.05M390.14 174.54L390.14 177.54M418.04 184.8L418.04 187.8M418.04 184.8L418.04 187.8M440.48 172.87L440.48 175.87M460.93 162.01L460.93 165.01M479.65 152.06L479.65 155.06M496.85 142.92L496.85 145.92"/>
<text class="tl" text-anchor="end" x="313.38" y="144.13">1.4</text><text class="tl" text-anchor="end" x="312.04" y="112.51">3.2</text><text class="tl" text-anchor="end" x="310.65" y="79.82">5.0</text><text class="tl" text-anchor="end" x="309.21" y="46.01">6.8</text><text class="tl" text-anchor="middle" x="313.17" y="158.32">18</text><text class="tl" text-anchor="middle" x="335.51" y="166.53">21</text><text class="tl" text-anchor="middle" x="359.5" y="175.35">24</text><text class="tl" text-anchor="middle" x="385.34" y="184.84">27</text><text class="tl" text-anchor="middle" x="413.24" y="195.1">30</text><text class="tl" text-anchor="middle" x="421.84" y="195.1">40</text><text class="tl" text-anchor="middle" x="444.28" y="183.17">45</text><text class="tl" text-anchor="middle" x="464.73" y="172.31">50</text><text class="tl" text-anchor="middle" x="483.45" y="162.36">55</text><text class="tl" text-anchor="middle" x="500.65" y="153.22">60</text>
<text class="at" text-anchor="middle" transform="translate(357.76 184.21) rotate(19.88)">MC of the transition point (%)</text>
<text class="at" text-anchor="middle" transform="translate(475.15 177.71) rotate(-28.98)">MV thermostatic temperature (°C)</text>
<text class="at" text-anchor="middle" transform="translate(291.75 88.22) rotate(-90)" style="font-size:8.5px">DQ (kW·h/kg)</text>
<rect x="516.4" y="29.5" width="10.9" height="96.5" fill="url(#cmg)"/>
<path class="cbt" d="M516.4 30.1H527.3"/>
<path class="cbb" d="M516.4 125.5H527.3"/>
<path class="cbk" d="M527.3 30.2h2.3M527.3 39.71h2.3M527.3 49.22h2.3M527.3 58.73h2.3M527.3 68.24h2.3M527.3 77.75h2.3M527.3 87.26h2.3M527.3 96.77h2.3M527.3 106.28h2.3M527.3 115.79h2.3M527.3 125.3h2.3"/>
<g class="cbl"><text x="531.7" y="32">7.200</text><text x="531.7" y="41.51">6.712</text><text x="531.7" y="51.02">6.224</text><text x="531.7" y="60.53">5.736</text><text x="531.7" y="70.04">5.248</text><text x="531.7" y="79.55">4.760</text><text x="531.7" y="89.06">4.272</text><text x="531.7" y="98.57">3.784</text><text x="531.7" y="108.08">3.296</text><text x="531.7" y="117.59">2.808</text><text x="531.7" y="127.1">2.320</text></g>
<text class="let" x="537" y="16.9">B</text>
<path class="gr" d="M58.76 351.74L55.26 226.89M80.76 343.42L78.76 223.16M101.12 335.71L100.42 219.73M141.9 334.64L143.62 219.39M165.15 341.09L168.36 222.4M189.91 347.97L194.79 225.63M33.68 329.87L120.12 301.72L217.95 325.23M32.38 297.98L120.22 274.12L219.62 294.2M31.04 265.02L120.32 245.75L221.34 262.16"/>
<path class="fl" d="M34.93 360.76L136.33 397.85L216.33 355.31L120.02 328.56Z"/>
<path class="ct" stroke="#8000ff" d="M102.25 335.28L103.32 335.6L104.35 335.94L105.34 336.29L105.97 336.54L106.89 336.92L107.49 337.18L108.35 337.59L108.9 337.88L109.44 338.17L110.21 338.62L110.7 338.94L111.18 339.26L111.64 339.58L112.08 339.92L112.5 340.27L112.91 340.62L113.3 340.98L113.67 341.36L114.02 341.74L114.35 342.12L114.59 342.42L114.82 342.73L115.1 343.15L115.36 343.58L115.52 343.86L115.71 344.24L115.91 344.68L116.02 344.95L116.18 345.4L116.28 345.74L116.39 346.14L116.46 346.51L116.53 346.9L116.57 347.26L116.6 347.7L116.61 347.99L116.61 348.48L116.59 348.83L116.55 349.19L116.49 349.66L116.42 350.03L116.35 350.36L116.23 350.82L116.09 351.28L115.96 351.65L115.83 351.99L115.66 352.4L115.46 352.84L115.24 353.28L115 353.71L114.75 354.15L114.48 354.58L114.2 355L113.9 355.43L113.58 355.85L113.25 356.27L112.9 356.68L112.54 357.09L112.17 357.5L111.78 357.91L111.37 358.33L110.79 358.88L110.32 359.32L109.87 359.72L109.4 360.11L108.68 360.7L108.19 361.08L107.68 361.47L106.89 362.04L106.34 362.42L105.5 362.98L104.93 363.36L104.04 363.91L103.43 364.27L102.49 364.82L101.52 365.36L100.85 365.71L99.83 366.24L98.78 366.76L97.69 367.27L96.57 367.78L95.42 368.28L94.24 368.77L93.02 369.25L91.77 369.72L90.48 370.19L89.6 370.5L88.25 370.95L87.22 371.27L85.91 371.67L84.83 371.99L83.46 372.37L82.44 372.64L80.98 373.01L79.81 373.28L78.72 373.53L77.61 373.77L76.35 374.03L74.99 374.29L73.7 374.52"/>
<path class="ct" stroke="#006bff" d="M117.81 329.4L118.78 329.73L119.73 330.07L120.36 330.31L121.27 330.67L121.86 330.92L122.73 331.3L123.3 331.56L124 331.9L124.68 332.24L125.21 332.52L125.73 332.8L126.41 333.19L126.99 333.54L127.48 333.85L127.95 334.16L128.42 334.47L128.87 334.79L129.31 335.12L129.74 335.46L130.16 335.8L130.57 336.14L130.97 336.5L131.35 336.85L131.73 337.22L132.02 337.52L132.3 337.81L132.61 338.16L132.94 338.55L133.26 338.95L133.47 339.23L133.71 339.56L134 339.98L134.22 340.32L134.4 340.61L134.65 341.05L134.82 341.38L135 341.72L135.2 342.15L135.31 342.41L135.5 342.88L135.6 343.16L135.74 343.61L135.83 343.91L135.95 344.36L136.02 344.65L136.12 345.13L136.16 345.39L136.23 345.86L136.27 346.2L136.3 346.57L136.32 347.03L136.33 347.32L136.32 347.75L136.31 348.19L136.29 348.49L136.25 348.9L136.19 349.36L136.14 349.73L136.08 350.05L135.99 350.5L135.88 350.95L135.77 351.37L135.67 351.71L135.56 352.07L135.41 352.51L135.25 352.96L135.07 353.4L134.88 353.84L134.68 354.27L134.49 354.66L134.29 355.05L134.07 355.46L133.84 355.87L133.59 356.29L133.32 356.72L133.04 357.16L132.74 357.61L132.41 358.07L132.06 358.54L131.73 358.98L131.4 359.4L131.05 359.82L130.7 360.23L130.33 360.65L129.93 361.1L129.4 361.66L128.98 362.09L128.57 362.5L128.15 362.91L127.55 363.47L127.05 363.93L126.59 364.33L126.02 364.83L125.41 365.33L124.92 365.73L124.16 366.33L123.65 366.72L123.03 367.19L122.31 367.71L121.74 368.11L120.92 368.68L120.23 369.14L119.46 369.65L118.55 370.22L117.93 370.6L116.99 371.17L116.02 371.74L115.36 372.11L114.35 372.67L113.32 373.22L112.26 373.77L111.18 374.32L110.45 374.68L109.32 375.22L108.18 375.76L107 376.29L105.8 376.81L104.99 377.16L103.75 377.67L102.48 378.19L101.18 378.69L99.87 379.18L98.95 379.52L97.58 380.01L96.48 380.39L95.22 380.81L93.77 381.28L92.78 381.58"/>
<path class="ct" stroke="#00ffa0" d="M146.54 335.93L146.83 336.26L147.15 336.66L147.41 337L147.61 337.26L147.91 337.68L148.16 338.05L148.33 338.31L148.6 338.74L148.8 339.07L148.98 339.39L149.22 339.83L149.35 340.08L149.56 340.53L149.7 340.82L149.87 341.23L150 341.56L150.15 341.95L150.27 342.29L150.39 342.69L150.49 343.01L150.61 343.45L150.68 343.73L150.78 344.2L150.84 344.5L150.91 344.91L150.97 345.31L151 345.61L151.05 346.07L151.08 346.44L151.09 346.77L151.11 347.23L151.11 347.6L151.1 347.92L151.08 348.37L151.05 348.83L151.03 349.14L150.99 349.51L150.93 349.96L150.85 350.41L150.79 350.76L150.72 351.1L150.63 351.52L150.52 351.97L150.4 352.41L150.27 352.85L150.16 353.21L150.03 353.58L149.9 353.96L149.73 354.4L149.56 354.84L149.37 355.27L149.18 355.71L148.97 356.14L148.76 356.58L148.54 357.01L148.31 357.44L148.06 357.88L147.81 358.31L147.55 358.74L147.28 359.16L147.01 359.59L146.72 360.02L146.42 360.45L146.12 360.87L145.75 361.37L145.35 361.89L144.98 362.36L144.64 362.78L144.29 363.2L143.92 363.62L143.49 364.11L142.98 364.67L142.59 365.09L142.19 365.5L141.73 365.96L141.15 366.54L140.72 366.96L140.28 367.37L139.6 367.99L139.14 368.4L138.67 368.81L137.95 369.43L137.46 369.83L136.73 370.43L136.2 370.85L135.57 371.34L134.88 371.87L134.27 372.32L133.5 372.87L132.76 373.4L132.07 373.87L131.19 374.47L130.59 374.87L129.67 375.46L128.73 376.05L128.09 376.44L127.12 377.03L126.13 377.62L125.45 378L124.43 378.58L123.38 379.16L122.31 379.74L121.21 380.31L120.1 380.87L118.96 381.44L117.8 382L116.62 382.56L115.42 383.11L114.19 383.66L112.94 384.21L111.67 384.75L110.37 385.29L109.49 385.64L108.15 386.18L106.79 386.7"/>
<path class="ct" stroke="#5bfb00" d="M161.87 340.18L162 340.48L162.16 340.9L162.28 341.21L162.42 341.61L162.54 341.96L162.65 342.32L162.77 342.73L162.84 343.02L162.96 343.48L163.03 343.79L163.11 344.18L163.18 344.6L163.23 344.88L163.29 345.33L163.34 345.72L163.37 346.02L163.4 346.48L163.43 346.89L163.44 347.19L163.45 347.61L163.45 348.06L163.44 348.41L163.43 348.74L163.4 349.19L163.37 349.64L163.33 350.01L163.29 350.34L163.23 350.76L163.16 351.2L163.08 351.65L163.01 352.04L162.93 352.4L162.85 352.76L162.73 353.2L162.61 353.64L162.49 354.08L162.35 354.52L162.2 354.96L162.05 355.39L161.9 355.78L161.75 356.19L161.58 356.59L161.41 357.01L161.22 357.43L161.02 357.85L160.81 358.29L160.59 358.73L160.36 359.17L160.11 359.63L159.85 360.09L159.58 360.56L159.29 361.04L159.01 361.49L158.73 361.92L158.45 362.35L158.15 362.78L157.85 363.21L157.55 363.64L157.18 364.13L156.76 364.68L156.4 365.14L156.06 365.56L155.71 365.99L155.34 366.43L154.8 367.05L154.42 367.48L154.03 367.9L153.63 368.34L153.03 368.96L152.62 369.39L152.2 369.81L151.55 370.44L151.11 370.86L150.66 371.29L149.97 371.92L149.51 372.33L148.95 372.82L148.3 373.38L147.81 373.8L147.05 374.42L146.53 374.84L145.75 375.46L145.21 375.88L144.4 376.5L143.84 376.91L142.99 377.53L142.42 377.94L141.54 378.56L140.64 379.17L140.04 379.58L139.11 380.19L138.16 380.8L137.52 381.21L136.54 381.82L135.55 382.42L134.53 383.02L133.84 383.43L132.79 384.03L131.73 384.62L130.64 385.22L129.53 385.81L128.4 386.4L127.25 386.99L126.08 387.57L124.89 388.16L123.68 388.74L122.45 389.31L121.2 389.89L119.92 390.46L118.62 391.02"/>
<path class="ct" stroke="#ffff00" d="M173.72 343.47L173.82 343.93L173.88 344.24L173.95 344.61L174.03 345.07L174.07 345.37L174.12 345.75L174.17 346.2L174.2 346.54L174.23 346.88L174.25 347.33L174.27 347.75L174.28 348.06L174.28 348.45L174.27 348.9L174.26 349.33L174.24 349.66L174.22 350.02L174.18 350.46L174.14 350.91L174.08 351.34L174.04 351.68L173.98 352.03L173.91 352.46L173.83 352.9L173.74 353.35L173.64 353.79L173.54 354.21L173.44 354.59L173.34 354.97L173.23 355.36L173.1 355.77L172.96 356.21L172.81 356.65L172.65 357.09L172.49 357.53L172.32 357.97L172.14 358.4L171.95 358.84L171.76 359.28L171.56 359.72L171.35 360.15L171.13 360.59L170.91 361.03L170.68 361.46L170.44 361.9L170.19 362.34L169.9 362.84L169.6 363.34L169.28 363.86L169 364.29L168.72 364.73L168.43 365.16L168.13 365.6L167.82 366.03L167.41 366.59L167.02 367.11L166.69 367.55L166.35 367.98L166.01 368.41L165.52 369.01L165.11 369.49L164.74 369.92L164.37 370.35L163.79 371L163.39 371.43L162.99 371.86L162.43 372.44L161.95 372.94L161.52 373.37L160.89 373.99L160.42 374.44L159.97 374.87L159.28 375.51L158.81 375.94L158.1 376.57L157.6 377.01L157 377.52L156.34 378.07L155.78 378.54L155.04 379.14L154.42 379.63L153.69 380.2L152.88 380.82L152.29 381.26L151.43 381.89L150.85 382.32L149.96 382.95L149.05 383.58L148.44 384L147.5 384.63L146.55 385.26L145.9 385.68L144.92 386.3L143.92 386.93L142.9 387.55L142.21 387.96L141.16 388.58L140.09 389.2L139 389.82L137.9 390.43L136.77 391.05L135.63 391.66L134.46 392.27L133.28 392.87L132.07 393.48L130.85 394.08L129.61 394.68"/>
<path class="ct" stroke="#ff8000" d="M183.89 346.3L183.93 346.67L183.96 346.97L183.99 347.42L184.02 347.86L184.04 348.21L184.05 348.53L184.05 348.98L184.05 349.42L184.04 349.83L184.03 350.16L184.01 350.54L183.98 350.98L183.95 351.42L183.9 351.86L183.86 352.22L183.82 352.57L183.76 352.97L183.69 353.42L183.61 353.86L183.52 354.3L183.43 354.74L183.34 355.17L183.24 355.56L183.14 355.95L183.04 356.34L182.92 356.75L182.8 357.17L182.66 357.61L182.51 358.05L182.36 358.49L182.2 358.93L182.03 359.37L181.86 359.81L181.68 360.25L181.5 360.69L181.3 361.13L181.1 361.57L180.9 362.01L180.67 362.47L180.43 362.96L180.17 363.45L179.9 363.95L179.64 364.43L179.39 364.87L179.13 365.31L178.87 365.74L178.59 366.18L178.32 366.62L177.97 367.16L177.6 367.72L177.3 368.16L176.99 368.6L176.67 369.04L176.32 369.52L175.86 370.13L175.52 370.57L175.18 371.01L174.83 371.45L174.29 372.1L173.92 372.54L173.55 372.98L173.09 373.51L172.59 374.08L172.19 374.51L171.73 375.01L171.17 375.61L170.75 376.04L170.2 376.61L169.66 377.14L169.22 377.58L168.54 378.23L168.08 378.67L167.43 379.26L166.89 379.76L166.35 380.24L165.66 380.85L165.16 381.28L164.39 381.94L163.86 382.38L163.07 383.03L162.39 383.57L161.71 384.11L160.87 384.76"/>
<path class="ct" stroke="#fb0000" d="M193.02 348.83L193.04 349.28L193.05 349.72L193.05 350.06L193.04 350.39L193.03 350.83L193.02 351.27L192.99 351.72L192.96 352.11L192.93 352.47L192.9 352.83L192.85 353.27L192.79 353.71L192.73 354.15L192.66 354.59L192.59 355.04L192.51 355.43L192.44 355.82L192.35 356.22L192.26 356.61L192.16 357.03L192.05 357.47L191.93 357.91L191.81 358.35L191.67 358.79L191.54 359.24L191.39 359.68L191.24 360.12L191.08 360.56L190.92 361.01L190.75 361.45L190.57 361.89L190.39 362.33L190.2 362.78L190.01 363.22L189.79 363.68L189.56 364.18L189.32 364.68L189.06 365.19L188.82 365.65L188.58 366.1L188.34 366.54L188.09 366.98L187.83 367.43L187.57 367.87L187.23 368.44L186.89 368.98L186.61 369.42L186.32 369.87L186.02 370.31L185.68 370.82L185.26 371.42L184.94 371.86"/>
<path class="ct" stroke="#f00000" d="M201.43 351.17L201.43 351.61L201.42 351.99L201.4 352.34L201.38 352.72L201.35 353.16L201.32 353.6L201.27 354.05L201.22 354.49L201.17 354.91L201.12 355.29L201.06 355.68L201 356.07L200.93 356.48L200.84 356.93L200.76 357.37L200.66 357.81L200.56 358.26L200.45 358.7L200.34 359.14L200.22 359.59L200.09 360.03L199.96 360.48L199.82 360.92L199.68 361.37L199.53 361.81L199.37 362.25L199.21 362.7L199.04 363.14L198.87 363.59L198.69 364.04L198.5 364.48"/>
<path class="ct" stroke="#a80000" d="M209.31 353.36L209.29 353.8L209.26 354.24L209.23 354.68L209.19 355.06L209.15 355.44L209.11 355.82L209.06 356.24L209 356.68L208.93 357.13L208.86 357.57L208.78 358.01L208.7 358.46L208.61 358.9L208.51 359.35"/>
<path class="ax" d="M120.02 328.56L120.43 216.56M34.93 360.76L120.02 328.56M120.02 328.56L216.33 355.31M29.66 230.94L120.43 216.56M120.43 216.56L223.12 229.08"/>
<defs><linearGradient id="c0" href="#c" x1="111.5" y1="327.6" x2="155.2" y2="188.4"/><linearGradient id="c1" href="#c" x1="113.2" y1="329.2" x2="168.2" y2="189.2"/><linearGradient id="c2" href="#c" x1="108.5" y1="328.4" x2="154.8" y2="181.2"/><linearGradient id="c3" href="#c" x1="110.2" y1="330" x2="169.8" y2="181.8"/><linearGradient id="c4" href="#c" x1="105.5" y1="329.1" x2="154.6" y2="172.7"/><linearGradient id="c5" href="#c" x1="114.3" y1="330.7" x2="181.8" y2="191.7"/><linearGradient id="c6" href="#c" x1="107.2" y1="330.8" x2="172.1" y2="172.9"/><linearGradient id="c7" href="#c" x1="111.2" y1="331.5" x2="185.8" y2="184.7"/><linearGradient id="c8" href="#c" x1="102.4" y1="329.8" x2="154.4" y2="162.5"/><linearGradient id="c9" href="#c" x1="114.9" y1="331.8" x2="195.5" y2="196.4"/><linearGradient id="ca" href="#c" x1="108.1" y1="332.3" x2="191" y2="176.2"/><linearGradient id="cb" href="#c" x1="104.1" y1="331.5" x2="175.2" y2="162.1"/><linearGradient id="cc" href="#c" x1="111.6" y1="332.5" x2="201.9" y2="190.5"/><linearGradient id="cd" href="#c" x1="99.4" y1="330.4" x2="154.2" y2="150.1"/><linearGradient id="ce" href="#c" x1="114.8" y1="332.2" x2="208.5" y2="203.4"/><linearGradient id="cf" href="#c" x1="105" y1="333.1" x2="198.1" y2="166"/><linearGradient id="cg" href="#c" x1="108.3" y1="333.2" x2="210.3" y2="183.6"/><linearGradient id="ch" href="#c" x1="101" y1="332.3" x2="179.3" y2="148.7"/><linearGradient id="ci" href="#c" x1="111.3" y1="332.8" x2="217.1" y2="199.5"/><linearGradient id="cj" href="#c" x1="96.2" y1="331.1" x2="154" y2="135"/><linearGradient id="ck" href="#c" x1="114.2" y1="331.8" x2="220.1" y2="212.5"/><linearGradient id="cl" href="#c" x1="104.9" y1="333.9" x2="221.5" y2="175.8"/><linearGradient id="cm" href="#c" x1="101.7" y1="333.8" x2="207.6" y2="153.5"/><linearGradient id="cn" href="#c" x1="107.7" y1="333.2" x2="228.2" y2="195.6"/><linearGradient id="co" href="#c" x1="97.9" y1="333" x2="184.7" y2="132.1"/><linearGradient id="cp" href="#c" x1="110.5" y1="331.9" x2="230.1" y2="211.4"/><linearGradient id="cq" href="#c" x1="93" y1="331.7" x2="153.4" y2="116.2"/><linearGradient id="cr" href="#c" x1="113.3" y1="330.3" x2="229.4" y2="223.2"/><linearGradient id="cs" href="#c" x1="101.4" y1="334.5" x2="236.6" y2="166.8"/><linearGradient id="ct" href="#c" x1="104.1" y1="333.5" x2="242.7" y2="192"/><linearGradient id="cu" href="#c" x1="98.4" y1="334.5" x2="220.7" y2="138"/><linearGradient id="cv" href="#c" x1="106.8" y1="331.9" x2="242.8" y2="211.5"/><linearGradient id="cw" href="#c" x1="94.7" y1="333.7" x2="192.1" y2="110.7"/><linearGradient id="cx" href="#c" x1="109.5" y1="329.8" x2="240" y2="225.4"/><linearGradient id="cy" href="#c" x1="89.7" y1="332.3" x2="152.1" y2="92.4"/><linearGradient id="cz" href="#c" x1="112.4" y1="327.6" x2="236" y2="234.7"/><linearGradient id="c10" href="#c" x1="97.8" y1="335" x2="257.4" y2="157"/><linearGradient id="c11" href="#c" x1="100.4" y1="333.6" x2="261.8" y2="189.6"/><linearGradient id="c12" href="#c" x1="95" y1="335.3" x2="239.1" y2="118.4"/><linearGradient id="c13" href="#c" x1="103.1" y1="331.6" x2="258.6" y2="213.6"/><linearGradient id="c14" href="#c" x1="91.4" y1="334.4" x2="201.9" y2="82.5"/><linearGradient id="c15" href="#c" x1="105.9" y1="329.1" x2="252.6" y2="229.9"/><linearGradient id="c16" href="#c" x1="86.4" y1="333" x2="149.1" y2="61.7"/><linearGradient id="c17" href="#c" x1="108.9" y1="326.4" x2="245.9" y2="240.2"/><linearGradient id="c18" href="#c" x1="111.9" y1="323.8" x2="239.7" y2="246.1"/><linearGradient id="c19" href="#c" x1="96.6" y1="333.5" x2="286.7" y2="189.8"/><linearGradient id="c1a" href="#c" x1="94" y1="335.4" x2="286.4" y2="146.9"/><linearGradient id="c1b" href="#c" x1="99.4" y1="330.9" x2="278.1" y2="219.3"/><linearGradient id="c1c" href="#c" x1="91.4" y1="336" x2="265.9" y2="93.2"/><linearGradient id="c1d" href="#c" x1="102.5" y1="327.9" x2="267.1" y2="237.8"/><linearGradient id="c1e" href="#c" x1="88" y1="335.2" x2="215.4" y2="43.9"/><linearGradient id="c1f" href="#c" x1="105.7" y1="324.8" x2="256.8" y2="248.6"/><linearGradient id="c1g" href="#c" x1="82.9" y1="333.7" x2="142.4" y2="21"/><linearGradient id="c1h" href="#c" x1="108.9" y1="321.8" x2="248" y2="254.2"/><linearGradient id="c1i" href="#c" x1="112" y1="319" x2="240.8" y2="256.4"/><linearGradient id="c1j" href="#c" x1="92.8" y1="333" x2="319.2" y2="195.7"/><linearGradient id="c1k" href="#c" x1="95.9" y1="329.8" x2="301.1" y2="230.8"/><linearGradient id="c1l" href="#c" x1="90.1" y1="335.5" x2="328.1" y2="138.6"/><linearGradient id="c1m" href="#c" x1="99.4" y1="326.4" x2="283" y2="250.6"/><linearGradient id="c1n" href="#c" x1="87.6" y1="336.7" x2="307" y2="60.2"/><linearGradient id="c1o" href="#c" x1="102.9" y1="322.9" x2="268" y2="260.9"/><linearGradient id="c1p" href="#c" x1="84.5" y1="336.1" x2="234.4" y2="-12.2"/><linearGradient id="c1q" href="#c" x1="106.4" y1="319.5" x2="256.1" y2="265.4"/><linearGradient id="c1r" href="#c" x1="79.4" y1="334.6" x2="127.8" y2="-34"/><linearGradient id="c1s" href="#c" x1="109.7" y1="316.3" x2="246.9" y2="266.3"/><linearGradient id="c1t" href="#c" x1="112.8" y1="313.4" x2="239.8" y2="265"/><linearGradient id="c1u" href="#c" x1="92.9" y1="328.2" x2="326.3" y2="251.3"/><linearGradient id="c1v" href="#c" x1="89.1" y1="331.9" x2="360" y2="212.7"/><linearGradient id="c1w" href="#c" x1="96.9" y1="324.5" x2="298.8" y2="269.9"/><linearGradient id="c1x" href="#c" x1="85.9" y1="335.2" x2="389.1" y2="137.9"/><linearGradient id="c1y" href="#c" x1="100.9" y1="320.8" x2="278.1" y2="277.9"/><linearGradient id="c1z" href="#c" x1="83.5" y1="337.4" x2="375" y2="16.5"/><linearGradient id="c20" href="#c" x1="104.7" y1="317.1" x2="262.9" y2="280.1"/><linearGradient id="c21" href="#c" x1="80.9" y1="337.2" x2="261.6" y2="-100"/><linearGradient id="c22" href="#c" x1="108.3" y1="313.5" x2="251.8" y2="278.9"/><linearGradient id="c23" href="#c" x1="75.8" y1="335.7" x2="95.2" y2="-109.8"/><linearGradient id="c24" href="#c" x1="111.6" y1="310.2" x2="243.6" y2="275.8"/><linearGradient id="c25" href="#c" x1="114.5" y1="307.2" x2="237.4" y2="271.5"/><linearGradient id="c26" href="#c" x1="90.5" y1="326.3" x2="350.1" y2="284.5"/><linearGradient id="c27" href="#c" x1="95.2" y1="322.5" x2="311.4" y2="297.1"/><linearGradient id="c28" href="#c" x1="85.8" y1="330.2" x2="406.2" y2="249.7"/><linearGradient id="c29" href="#c" x1="99.7" y1="318.7" x2="285.1" y2="299.9"/><linearGradient id="c2a" href="#c" x1="81.5" y1="334.3" x2="476.9" y2="160.5"/><linearGradient id="c2b" href="#c" x1="103.9" y1="314.8" x2="267.1" y2="298.2"/><linearGradient id="c2c" href="#c" x1="78.7" y1="338.1" x2="499.9" y2="-37.8"/><linearGradient id="c2d" href="#c" x1="107.8" y1="311" x2="254.5" y2="294"/><linearGradient id="c2e" href="#c" x1="77" y1="339" x2="300.7" y2="-255.7"/><linearGradient id="c2f" href="#c" x1="111.3" y1="307.3" x2="245.5" y2="288.6"/><linearGradient id="c2g" href="#c" x1="72.5" y1="337.4" x2="20.3" y2="-211.2"/><linearGradient id="c2h" href="#c" x1="114.3" y1="303.8" x2="239.1" y2="282.4"/><linearGradient id="c2i" href="#c" x1="116.9" y1="300.7" x2="234.3" y2="275.7"/><linearGradient id="c2j" href="#c" x1="89.2" y1="324.4" x2="364.8" y2="332"/><linearGradient id="c2k" href="#c" x1="94.5" y1="320.7" x2="316.7" y2="331.5"/><linearGradient id="c2l" href="#c" x1="83.5" y1="328" x2="445.8" y2="316.7"/><linearGradient id="c2m" href="#c" x1="99.5" y1="317" x2="286.6" y2="326.1"/><linearGradient id="c2n" href="#c" x1="77.5" y1="332.2" x2="587.8" y2="242.7"/><linearGradient id="c2o" href="#c" x1="104.1" y1="313.1" x2="267" y2="318.9"/><linearGradient id="c2p" href="#c" x1="72.4" y1="338.1" x2="763.1" y2="-70.7"/><linearGradient id="c2q" href="#c" x1="108.3" y1="309.1" x2="253.8" y2="311.1"/><linearGradient id="c2s" href="#c" x1="112" y1="305" x2="244.9" y2="302.9"/><linearGradient id="c2t" href="#c" x1="70" y1="339.7" x2="-150.3" y2="-318.7"/><linearGradient id="c2u" href="#c" x1="115.3" y1="301" x2="238.7" y2="294.6"/><linearGradient id="c2v" href="#c" x1="117.9" y1="297.2" x2="234.3" y2="286.2"/><linearGradient id="c2w" href="#c" x1="94.7" y1="319.8" x2="310.5" y2="369.7"/><linearGradient id="c2x" href="#c" x1="89.1" y1="323.1" x2="360.8" y2="389"/><linearGradient id="c2y" href="#c" x1="100" y1="316.2" x2="280.4" y2="354"/><linearGradient id="c2z" href="#c" x1="82.8" y1="326.1" x2="453.6" y2="412.7"/><linearGradient id="c30" href="#c" x1="104.9" y1="312.2" x2="261.4" y2="340.6"/><linearGradient id="c31" href="#c" x1="120" y1="293.9" x2="231" y2="277.9"/><linearGradient id="c32" href="#c" x1="75.4" y1="329" x2="659.8" y2="430.6"/><linearGradient id="c33" href="#c" x1="109.5" y1="308" x2="249.1" y2="328.8"/><linearGradient id="c34" href="#c" x1="63.9" y1="334.1" x2="1301.3" y2="222"/><linearGradient id="c35" href="#c" x1="113.5" y1="303.7" x2="241" y2="317.8"/><linearGradient id="c37" href="#c" x1="117.1" y1="299.2" x2="235.7" y2="307.5"/><linearGradient id="c38" href="#c" x1="70" y1="341.8" x2="-464.5" y2="-305.2"/><linearGradient id="c39" href="#c" x1="120" y1="294.8" x2="232.2" y2="297.5"/><linearGradient id="c3a" href="#c" x1="122.2" y1="290.7" x2="229.8" y2="287.7"/><linearGradient id="c3b" href="#c" x1="95.4" y1="320.1" x2="291.2" y2="405.6"/><linearGradient id="c3c" href="#c" x1="100.9" y1="316.5" x2="266.1" y2="380.2"/><linearGradient id="c3d" href="#c" x1="89.5" y1="323.3" x2="333" y2="443.4"/><linearGradient id="c3e" href="#c" x1="106.1" y1="312.5" x2="250.3" y2="361.1"/><linearGradient id="c3f" href="#c" x1="83.2" y1="325.8" x2="408.6" y2="509.1"/><linearGradient id="c3g" href="#c" x1="111" y1="308.2" x2="240.2" y2="345.6"/><linearGradient id="c3h" href="#c" x1="75.9" y1="327.2" x2="569.8" y2="658.4"/><linearGradient id="c3i" href="#c" x1="115.4" y1="303.5" x2="233.9" y2="332.2"/><linearGradient id="c3j" href="#c" x1="123.7" y1="287.1" x2="228" y2="278.2"/><linearGradient id="c3k" href="#c" x1="65.3" y1="323.5" x2="1050.4" y2="1306"/><linearGradient id="c3l" href="#c" x1="119.3" y1="298.6" x2="230" y2="320.1"/><linearGradient id="c3n" href="#c" x1="122.7" y1="293.6" x2="227.8" y2="308.7"/><linearGradient id="c3o" href="#c" x1="71.3" y1="340" x2="-710.9" y2="2.5"/><linearGradient id="c3p" href="#c" x1="125.3" y1="288.7" x2="226.6" y2="297.8"/><linearGradient id="c3q" href="#c" x1="101.5" y1="318.1" x2="245.1" y2="401.3"/><linearGradient id="c3r" href="#c" x1="95.7" y1="321.8" x2="261.7" y2="433.1"/><linearGradient id="c3s" href="#c" x1="107.1" y1="314" x2="234.4" y2="378.3"/><linearGradient id="c3t" href="#c" x1="89.6" y1="324.9" x2="287.3" y2="481.8"/><linearGradient id="c3u" href="#c" x1="112.3" y1="309.5" x2="227.7" y2="360.2"/><linearGradient id="c3v" href="#c" x1="83.1" y1="327.4" x2="324.9" y2="567.5"/><linearGradient id="c3w" href="#c" x1="127.1" y1="284.1" x2="225.9" y2="287.2"/><linearGradient id="c3x" href="#c" x1="117.2" y1="304.6" x2="223.8" y2="345"/><linearGradient id="c3y" href="#c" x1="76.2" y1="328.7" x2="365.8" y2="750.2"/><linearGradient id="c3z" href="#c" x1="121.7" y1="299.4" x2="221.8" y2="331.6"/><linearGradient id="c41" href="#c" x1="127.9" y1="280.2" x2="225.4" y2="276.9"/><linearGradient id="c42" href="#c" x1="125.5" y1="293.9" x2="221.2" y2="319.3"/><linearGradient id="c43" href="#c" x1="74" y1="326.1" x2="-803.2" y2="1088"/><linearGradient id="c44" href="#c" x1="128.7" y1="288.3" x2="221.4" y2="307.5"/><linearGradient id="c45" href="#c" x1="69.3" y1="335.6" x2="-638.3" y2="332.9"/><linearGradient id="c46" href="#c" x1="101.4" y1="320.7" x2="220.5" y2="415.5"/><linearGradient id="c47" href="#c" x1="107.5" y1="316.5" x2="215.5" y2="390.9"/><linearGradient id="c48" href="#c" x1="95.1" y1="324.4" x2="227.7" y2="449.3"/><linearGradient id="c49" href="#c" x1="131" y1="282.8" x2="222.1" y2="296.2"/><linearGradient id="c4a" href="#c" x1="113.2" y1="311.8" x2="212.7" y2="371.5"/><linearGradient id="c4b" href="#c" x1="88.6" y1="327.6" x2="236.1" y2="499.3"/><linearGradient id="c4c" href="#c" x1="118.6" y1="306.8" x2="211.6" y2="355.5"/><linearGradient id="c4d" href="#c" x1="81.6" y1="330.1" x2="239.2" y2="580.1"/><linearGradient id="c4e" href="#c" x1="123.6" y1="301.3" x2="211.7" y2="341.4"/><linearGradient id="c4f" href="#c" x1="74.3" y1="331.3" x2="206.3" y2="717.8"/><linearGradient id="c4g" href="#c" x1="132.4" y1="277.6" x2="222.9" y2="285.1"/><linearGradient id="c4h" href="#c" x1="128.2" y1="295.5" x2="212.8" y2="328.5"/><linearGradient id="c4i" href="#c" x1="67.7" y1="330.1" x2="18.8" y2="905.2"/><linearGradient id="c4j" href="#c" x1="132.5" y1="273.1" x2="223.4" y2="274.3"/><linearGradient id="c4k" href="#c" x1="132" y1="289.4" x2="214.6" y2="316.4"/><linearGradient id="c4l" href="#c" x1="66" y1="328.4" x2="-384.9" y2="825.3"/><linearGradient id="c4m" href="#c" x1="135.1" y1="283.1" x2="216.7" y2="304.6"/><linearGradient id="c4n" href="#c" x1="64.7" y1="332.4" x2="-465.7" y2="470.5"/><linearGradient id="c4o" href="#c" x1="100.4" y1="323.7" x2="195.4" y2="422.9"/><linearGradient id="c4p" href="#c" x1="107" y1="319.6" x2="195.7" y2="398.6"/><linearGradient id="c4q" href="#c" x1="93.6" y1="327.4" x2="194.4" y2="455.1"/><linearGradient id="c4r" href="#c" x1="113.3" y1="314.9" x2="196.6" y2="379.3"/><linearGradient id="c4s" href="#c" x1="86.4" y1="330.4" x2="189.8" y2="500"/><linearGradient id="c4t" href="#c" x1="119.3" y1="309.8" x2="198.1" y2="363.2"/><linearGradient id="c4u" href="#c" x1="137.2" y1="276.9" x2="218.8" y2="293.1"/><linearGradient id="c4v" href="#c" x1="78.8" y1="332.7" x2="172.6" y2="564.9"/><linearGradient id="c4w" href="#c" x1="124.9" y1="304.2" x2="200.4" y2="349"/><linearGradient id="c4x" href="#c" x1="70.9" y1="333.4" x2="117.8" y2="654"/><linearGradient id="c4y" href="#c" x1="130.2" y1="298.2" x2="203.2" y2="336.1"/><linearGradient id="c4z" href="#c" x1="138" y1="271" x2="220.7" y2="281.7"/><linearGradient id="c50" href="#c" x1="63.9" y1="331.9" x2="-23.5" y2="735.5"/><linearGradient id="c51" href="#c" x1="134.8" y1="291.7" x2="206.5" y2="323.9"/><linearGradient id="c52" href="#c" x1="60.6" y1="329.4" x2="-236.3" y2="686.9"/><linearGradient id="c53" href="#c" x1="138.7" y1="284.9" x2="209.9" y2="312.1"/><linearGradient id="c54" href="#c" x1="137.5" y1="266" x2="222.1" y2="270.5"/><linearGradient id="c55" href="#c" x1="105.6" y1="322.9" x2="176.5" y2="402.2"/><linearGradient id="c56" href="#c" x1="98.5" y1="326.9" x2="171.9" y2="424.7"/><linearGradient id="c57" href="#c" x1="112.5" y1="318.4" x2="180.5" y2="383.9"/><linearGradient id="c58" href="#c" x1="59.6" y1="330.5" x2="-334" y2="502"/><linearGradient id="c59" href="#c" x1="91" y1="330.4" x2="165.1" y2="453.4"/><linearGradient id="c5a" href="#c" x1="141.7" y1="278" x2="213.5" y2="300.4"/><linearGradient id="c5b" href="#c" x1="119.1" y1="313.3" x2="184.4" y2="368.3"/><linearGradient id="c5c" href="#c" x1="83.2" y1="333.1" x2="152.5" y2="490.9"/><linearGradient id="c5d" href="#c" x1="125.4" y1="307.8" x2="188.5" y2="354.5"/><linearGradient id="c5e" href="#c" x1="75.1" y1="334.8" x2="126.6" y2="539.6"/><linearGradient id="c5f" href="#c" x1="131.3" y1="301.7" x2="192.9" y2="341.9"/><linearGradient id="c5g" href="#c" x1="143.6" y1="271" x2="216.7" y2="288.8"/><linearGradient id="c5h" href="#c" x1="66.9" y1="334.9" x2="71.8" y2="596.2"/><linearGradient id="c5i" href="#c" x1="136.8" y1="295.1" x2="197.6" y2="330"/><linearGradient id="c5j" href="#c" x1="59.8" y1="332.8" x2="-30.7" y2="635.8"/><linearGradient id="c5k" href="#c" x1="141.6" y1="288" x2="202.3" y2="318.4"/><linearGradient id="c5l" href="#c" x1="144" y1="264.4" x2="219.5" y2="277.2"/><linearGradient id="c5m" href="#c" x1="55.8" y1="329.8" x2="-163.8" y2="605.2"/><linearGradient id="c5n" href="#c" x1="145.6" y1="280.5" x2="207.1" y2="306.9"/><linearGradient id="c5o" href="#c" x1="103.4" y1="326.3" x2="158.9" y2="402.5"/><linearGradient id="c5p" href="#c" x1="110.9" y1="322" x2="165.2" y2="385.7"/><linearGradient id="c5q" href="#c" x1="95.7" y1="330" x2="151.2" y2="422.6"/><linearGradient id="c5r" href="#c" x1="118.1" y1="317.1" x2="171.1" y2="371.1"/><linearGradient id="c5s" href="#c" x1="142.6" y1="258.8" x2="221.5" y2="265.8"/><linearGradient id="c5t" href="#c" x1="87.8" y1="333.1" x2="140.6" y2="447.2"/><linearGradient id="c5u" href="#c" x1="125" y1="311.7" x2="176.8" y2="358.1"/><linearGradient id="c5v" href="#c" x1="54.7" y1="329.2" x2="-247.8" y2="497.8"/><linearGradient id="c5w" href="#c" x1="79.5" y1="335.3" x2="124" y2="477.5"/><linearGradient id="c5x" href="#c" x1="148.6" y1="272.8" x2="211.6" y2="295.4"/><linearGradient id="c5y" href="#c" x1="131.6" y1="305.7" x2="182.5" y2="346.1"/><linearGradient id="c5z" href="#c" x1="71" y1="336.4" x2="95.8" y2="513.5"/><linearGradient id="c60" href="#c" x1="137.8" y1="299.1" x2="188.3" y2="334.7"/><linearGradient id="c61" href="#c" x1="62.6" y1="335.8" x2="47" y2="550.4"/><linearGradient id="c62" href="#c" x1="150.3" y1="265.1" x2="215.8" y2="283.7"/><linearGradient id="c63" href="#c" x1="143.5" y1="291.9" x2="194.2" y2="323.5"/><linearGradient id="c64" href="#c" x1="55.5" y1="333.2" x2="-29.6" y2="571.9"/><linearGradient id="c65" href="#c" x1="148.6" y1="284.3" x2="200" y2="312.4"/><linearGradient id="c66" href="#c" x1="150.2" y1="257.7" x2="219.2" y2="271.9"/><linearGradient id="c67" href="#c" x1="108.5" y1="325.5" x2="151.2" y2="385.5"/><linearGradient id="c68" href="#c" x1="51.3" y1="329.8" x2="-122.3" y2="551.6"/><linearGradient id="c69" href="#c" x1="100.6" y1="329.5" x2="143.1" y2="400.6"/><linearGradient id="c6a" href="#c" x1="116.2" y1="320.9" x2="158.5" y2="372.2"/><linearGradient id="c6b" href="#c" x1="92.4" y1="332.8" x2="133.5" y2="418.2"/><linearGradient id="c6c" href="#c" x1="123.7" y1="315.7" x2="165.4" y2="360.1"/><linearGradient id="c6d" href="#c" x1="152.7" y1="276.1" x2="205.7" y2="301.1"/><linearGradient id="c6e" href="#c" x1="84" y1="335.4" x2="120.7" y2="438.9"/><linearGradient id="c6f" href="#c" x1="131" y1="309.9" x2="172.2" y2="348.8"/><linearGradient id="c6g" href="#c" x1="75.3" y1="337.1" x2="102.6" y2="463.1"/><linearGradient id="c6h" href="#c" x1="148" y1="251.4" x2="221.5" y2="260.2"/><linearGradient id="c6i" href="#c" x1="137.9" y1="303.5" x2="179" y2="338"/><linearGradient id="c6j" href="#c" x1="66.6" y1="337.5" x2="75" y2="489.9"/><linearGradient id="c6k" href="#c" x1="155.7" y1="267.6" x2="211.1" y2="289.6"/><linearGradient id="c6l" href="#c" x1="144.5" y1="296.4" x2="185.8" y2="327.4"/><linearGradient id="c6m" href="#c" x1="58.2" y1="336.3" x2="32.8" y2="515"/><linearGradient id="c6n" href="#c" x1="150.5" y1="288.7" x2="192.6" y2="316.8"/><linearGradient id="c6o" href="#c" x1="157.2" y1="259.1" x2="215.9" y2="277.9"/><linearGradient id="c6p" href="#c" x1="51.2" y1="333.3" x2="-26.8" y2="527.9"/><linearGradient id="c6q" href="#c" x1="155.8" y1="280.5" x2="199.2" y2="306"/><linearGradient id="c6r" href="#c" x1="105.6" y1="328.8" x2="138.6" y2="383.9"/><linearGradient id="c6s" href="#c" x1="113.8" y1="324.5" x2="146.9" y2="371.9"/><linearGradient id="c6t" href="#c" x1="97.2" y1="332.4" x2="129.3" y2="397.4"/><linearGradient id="c6u" href="#c" x1="121.8" y1="319.6" x2="154.8" y2="360.8"/><linearGradient id="c6v" href="#c" x1="88.6" y1="335.3" x2="118.4" y2="412.6"/><linearGradient id="c6w" href="#c" x1="156.7" y1="250.9" x2="219.7" y2="265.9"/><linearGradient id="c6x" href="#c" x1="129.6" y1="314.1" x2="162.4" y2="350.3"/><linearGradient id="c6y" href="#c" x1="79.8" y1="337.4" x2="104.7" y2="429.9"/><linearGradient id="c6z" href="#c" x1="137.2" y1="308" x2="170" y2="340.2"/><linearGradient id="c70" href="#c" x1="160.1" y1="271.6" x2="205.6" y2="294.9"/><linearGradient id="c71" href="#c" x1="70.9" y1="338.5" x2="86.2" y2="449.3"/><linearGradient id="c72" href="#c" x1="144.4" y1="301.1" x2="177.5" y2="330.3"/><linearGradient id="c73" href="#c" x1="62.1" y1="338.4" x2="60.3" y2="469.6"/><linearGradient id="c74" href="#c" x1="163.2" y1="262.4" x2="211.6" y2="283.4"/><linearGradient id="c75" href="#c" x1="151.3" y1="293.6" x2="185" y2="320.3"/><linearGradient id="c76" href="#c" x1="53.7" y1="336.6" x2="23.9" y2="487.4"/><linearGradient id="c77" href="#c" x1="157.6" y1="285.4" x2="192.5" y2="310"/><linearGradient id="c78" href="#c" x1="164.5" y1="252.9" x2="216.9" y2="271.5"/><linearGradient id="c79" href="#c" x1="110.7" y1="327.9" x2="136.4" y2="370.7"/><linearGradient id="c7a" href="#c" x1="102.1" y1="331.8" x2="127.3" y2="381.5"/><linearGradient id="c7b" href="#c" x1="119.2" y1="323.4" x2="144.9" y2="360.6"/><linearGradient id="c7c" href="#c" x1="93.4" y1="335" x2="117.3" y2="393.3"/><linearGradient id="c7d" href="#c" x1="127.5" y1="318.2" x2="153.2" y2="351"/><linearGradient id="c7e" href="#c" x1="84.5" y1="337.5" x2="105.7" y2="406.4"/><linearGradient id="c7f" href="#c" x1="163.2" y1="276.5" x2="199.7" y2="299.4"/><linearGradient id="c7g" href="#c" x1="135.6" y1="312.4" x2="161.3" y2="341.6"/><linearGradient id="c7h" href="#c" x1="75.5" y1="339.1" x2="91.6" y2="420.9"/><linearGradient id="c7i" href="#c" x1="143.5" y1="305.9" x2="169.5" y2="332.3"/><linearGradient id="c7j" href="#c" x1="66.4" y1="339.7" x2="73.5" y2="436.6"/><linearGradient id="c7k" href="#c" x1="167.7" y1="267" x2="206.7" y2="288.3"/><linearGradient id="c7l" href="#c" x1="151.1" y1="298.7" x2="177.5" y2="322.9"/><linearGradient id="c7m" href="#c" x1="57.4" y1="338.9" x2="49.5" y2="452.3"/><linearGradient id="c7n" href="#c" x1="158.3" y1="290.7" x2="185.6" y2="313.2"/><linearGradient id="c7o" href="#c" x1="170.9" y1="257" x2="213.2" y2="276.7"/><linearGradient id="c7p" href="#c" x1="107.3" y1="331.1" x2="126.8" y2="368.8"/><linearGradient id="c7q" href="#c" x1="98.3" y1="334.6" x2="117.2" y2="378.5"/><linearGradient id="c7r" href="#c" x1="116.1" y1="327" x2="135.8" y2="359.7"/><linearGradient id="c7s" href="#c" x1="165" y1="282" x2="193.6" y2="303.2"/><linearGradient id="c7t" href="#c" x1="89.3" y1="337.4" x2="106.8" y2="389"/><linearGradient id="c7u" href="#c" x1="124.8" y1="322.2" x2="144.5" y2="350.9"/><linearGradient id="c7v" href="#c" x1="80.1" y1="339.4" x2="94.9" y2="400.3"/><linearGradient id="c7w" href="#c" x1="133.4" y1="316.7" x2="153.1" y2="342.2"/><linearGradient id="c7x" href="#c" x1="70.9" y1="340.5" x2="80.8" y2="412.5"/><linearGradient id="c7y" href="#c" x1="141.9" y1="310.6" x2="161.7" y2="333.6"/><linearGradient id="c7z" href="#c" x1="170.9" y1="272.5" x2="201.4" y2="292.6"/><linearGradient id="c80" href="#c" x1="61.7" y1="340.5" x2="63.3" y2="425.3"/><linearGradient id="c81" href="#c" x1="150.1" y1="303.7" x2="170.3" y2="324.8"/><linearGradient id="c82" href="#c" x1="175.7" y1="262.3" x2="208.8" y2="281.5"/><linearGradient id="c83" href="#c" x1="158.1" y1="296.1" x2="178.8" y2="315.8"/><linearGradient id="c84" href="#c" x1="165.7" y1="287.7" x2="187.3" y2="306.3"/><linearGradient id="c85" href="#c" x1="103.5" y1="334" x2="118" y2="366.7"/><linearGradient id="c86" href="#c" x1="112.6" y1="330.2" x2="127.4" y2="358.4"/><linearGradient id="c87" href="#c" x1="94.2" y1="337.1" x2="108.2" y2="375.3"/><linearGradient id="c88" href="#c" x1="121.7" y1="325.8" x2="136.5" y2="350.3"/><linearGradient id="c89" href="#c" x1="84.9" y1="339.4" x2="97.5" y2="384.5"/><linearGradient id="c8a" href="#c" x1="130.7" y1="320.8" x2="145.4" y2="342.4"/><linearGradient id="c8b" href="#c" x1="172.7" y1="278.5" x2="195.7" y2="296.3"/><linearGradient id="c8c" href="#c" x1="75.6" y1="341" x2="85.5" y2="394.3"/><linearGradient id="c8d" href="#c" x1="139.6" y1="315" x2="154.3" y2="334.4"/><linearGradient id="c8e" href="#c" x1="66.2" y1="341.6" x2="71.6" y2="404.6"/><linearGradient id="c8f" href="#c" x1="148.4" y1="308.6" x2="163.2" y2="326.2"/><linearGradient id="c8g" href="#c" x1="178.9" y1="268.4" x2="204" y2="285.8"/><linearGradient id="c8h" href="#c" x1="157" y1="301.4" x2="172.1" y2="317.7"/><linearGradient id="c8i" href="#c" x1="165.3" y1="293.4" x2="181.1" y2="308.8"/><linearGradient id="c8j" href="#c" x1="108.8" y1="333.3" x2="119.6" y2="356.8"/><linearGradient id="c8k" href="#c" x1="99.4" y1="336.6" x2="110" y2="364.3"/><linearGradient id="c8l" href="#c" x1="118.2" y1="329.3" x2="128.9" y2="349.5"/><linearGradient id="c8m" href="#c" x1="89.9" y1="339.3" x2="100" y2="372"/><linearGradient id="c8n" href="#c" x1="173.3" y1="284.6" x2="190" y2="299.5"/><linearGradient id="c8o" href="#c" x1="127.5" y1="324.6" x2="138.1" y2="342.1"/><linearGradient id="c8p" href="#c" x1="80.4" y1="341.2" x2="89.2" y2="380.1"/><linearGradient id="c8q" href="#c" x1="136.8" y1="319.3" x2="147.3" y2="334.7"/><linearGradient id="c8r" href="#c" x1="70.9" y1="342.3" x2="77.2" y2="388.6"/><linearGradient id="c8s" href="#c" x1="146" y1="313.2" x2="156.4" y2="327.1"/><linearGradient id="c8t" href="#c" x1="180.7" y1="274.8" x2="198.9" y2="289.5"/><linearGradient id="c8u" href="#c" x1="155.1" y1="306.5" x2="165.7" y2="319.2"/><linearGradient id="c8v" href="#c" x1="164.1" y1="298.9" x2="175" y2="310.9"/><linearGradient id="c8w" href="#c" x1="172.8" y1="290.6" x2="184.3" y2="302.1"/><linearGradient id="c8x" href="#c" x1="104.7" y1="336" x2="112.4" y2="355"/><linearGradient id="c8y" href="#c" x1="114.3" y1="332.4" x2="121.9" y2="348.4"/><linearGradient id="c8z" href="#c" x1="95.1" y1="339" x2="102.6" y2="361.8"/><linearGradient id="c90" href="#c" x1="123.9" y1="328.1" x2="131.2" y2="341.7"/><linearGradient id="c91" href="#c" x1="85.4" y1="341.2" x2="92.5" y2="368.7"/><linearGradient id="c92" href="#c" x1="133.5" y1="323.2" x2="140.6" y2="334.8"/><linearGradient id="c93" href="#c" x1="75.7" y1="342.8" x2="81.6" y2="375.9"/><linearGradient id="c94" href="#c" x1="181.2" y1="281.3" x2="193.6" y2="292.7"/><linearGradient id="c95" href="#c" x1="143.1" y1="317.6" x2="150" y2="327.8"/><linearGradient id="c96" href="#c" x1="152.7" y1="311.3" x2="159.4" y2="320.4"/><linearGradient id="c97" href="#c" x1="162.1" y1="304.2" x2="169" y2="312.6"/><linearGradient id="c98" href="#c" x1="171.5" y1="296.3" x2="178.6" y2="304.3"/><linearGradient id="c99" href="#c" x1="110.2" y1="335.3" x2="115.2" y2="347.2"/><linearGradient id="c9a" href="#c" x1="100.4" y1="338.5" x2="105.6" y2="353.2"/><linearGradient id="c9b" href="#c" x1="120.1" y1="331.4" x2="124.7" y2="341"/><linearGradient id="c9c" href="#c" x1="90.6" y1="341.1" x2="95.8" y2="359.4"/><linearGradient id="c9d" href="#c" x1="129.9" y1="326.9" x2="134.2" y2="334.7"/><linearGradient id="c9e" href="#c" x1="180.6" y1="287.6" x2="188.3" y2="295.5"/><linearGradient id="c9f" href="#c" x1="80.7" y1="343" x2="85.5" y2="365.6"/><linearGradient id="c9g" href="#c" x1="139.8" y1="321.6" x2="143.8" y2="328.2"/><linearGradient id="c9h" href="#c" x1="149.7" y1="315.7" x2="153.5" y2="321.4"/><linearGradient id="c9i" href="#c" x1="159.5" y1="309.1" x2="163.3" y2="314.1"/><linearGradient id="c9j" href="#c" x1="169.3" y1="301.6" x2="173.1" y2="306.4"/><linearGradient id="c9k" href="#c" x1="179" y1="293.4" x2="183.1" y2="298"/><linearGradient id="c9l" href="#c" x1="105.9" y1="337.9" x2="108.9" y2="346"/><linearGradient id="c9m" href="#c" x1="95.9" y1="340.8" x2="99.2" y2="351.5"/><linearGradient id="c9n" href="#c" x1="116" y1="334.4" x2="118.6" y2="340.5"/><linearGradient id="c9o" href="#c" x1="85.9" y1="343" x2="89.3" y2="357"/><linearGradient id="c9p" href="#c" x1="126" y1="330.1" x2="128.3" y2="334.8"/><linearGradient id="c9q" href="#c" x1="136" y1="325" x2="138.3" y2="329.2"/><linearGradient id="c9r" href="#c" x1="145.6" y1="318.8" x2="148.8" y2="323.8"/><linearGradient id="c9s" href="#c" x1="152.5" y1="308.8" x2="162.1" y2="320.7"/><linearGradient id="c9t" href="#c" x1="174.9" y1="328.3" x2="160.9" y2="290.2"/><linearGradient id="c9u" href="#c" x1="183.1" y1="309" x2="174.2" y2="294.3"/><linearGradient id="c9v" href="#c" x1="101.4" y1="340.2" x2="103" y2="345.2"/><linearGradient id="c9w" href="#c" x1="111.4" y1="336.5" x2="113.4" y2="341.6"/><linearGradient id="c9x" href="#c" x1="91.2" y1="342.9" x2="93.1" y2="349.9"/><linearGradient id="c9y" href="#c" x1="123.2" y1="336.5" x2="119.3" y2="326.4"/><linearGradient id="c9z" href="#c" x1="132.9" y1="330.2" x2="131" y2="326.2"/><linearGradient id="ca0" href="#c" x1="143.3" y1="325" x2="141.1" y2="320.9"/><linearGradient id="ca1" href="#c" x1="153.8" y1="319.3" x2="151.2" y2="314.9"/><linearGradient id="ca2" href="#c" x1="164.5" y1="313" x2="161.5" y2="308.2"/><linearGradient id="ca3" href="#c" x1="175.3" y1="305.9" x2="171.9" y2="301.1"/><linearGradient id="ca4" href="#c" x1="107.4" y1="340.5" x2="106" y2="336.3"/><linearGradient id="ca5" href="#c" x1="97.5" y1="345.6" x2="94.3" y2="332.5"/><linearGradient id="ca6" href="#c" x1="117.9" y1="337" x2="115.9" y2="332"/><linearGradient id="ca7" href="#c" x1="128.5" y1="333" x2="125.8" y2="327"/><linearGradient id="ca8" href="#c" x1="139.2" y1="328.4" x2="135.8" y2="321.6"/><linearGradient id="ca9" href="#c" x1="150" y1="323.2" x2="146" y2="315.8"/><linearGradient id="caa" href="#c" x1="161" y1="317.4" x2="156.3" y2="309.5"/><linearGradient id="cab" href="#c" x1="172.1" y1="310.9" x2="166.8" y2="302.7"/><linearGradient id="cac" href="#c" x1="102.7" y1="342.7" x2="100.7" y2="336.1"/><linearGradient id="cad" href="#c" x1="113.3" y1="339.7" x2="110.5" y2="331.7"/><linearGradient id="cae" href="#c" x1="124.1" y1="336.1" x2="120.4" y2="326.9"/><linearGradient id="caf" href="#c" x1="135" y1="331.9" x2="130.5" y2="321.8"/><linearGradient id="cag" href="#c" x1="146" y1="327.1" x2="140.7" y2="316.3"/><linearGradient id="cah" href="#c" x1="157.2" y1="321.7" x2="151.1" y2="310.4"/><linearGradient id="cai" href="#c" x1="168.6" y1="315.6" x2="161.7" y2="304"/><linearGradient id="caj" href="#c" x1="108.7" y1="342.2" x2="105.1" y2="331.1"/><linearGradient id="cak" href="#c" x1="119.6" y1="339" x2="115.1" y2="326.6"/><linearGradient id="cal" href="#c" x1="130.6" y1="335.1" x2="125.2" y2="321.8"/><linearGradient id="cam" href="#c" x1="141.8" y1="330.7" x2="135.4" y2="316.7"/><linearGradient id="can" href="#c" x1="153.2" y1="325.8" x2="145.9" y2="311.1"/><linearGradient id="cao" href="#c" x1="164.8" y1="320.2" x2="156.6" y2="305.2"/><linearGradient id="cap" href="#c" x1="114.9" y1="341.7" x2="109.8" y2="326.2"/><linearGradient id="caq" href="#c" x1="126.1" y1="338.2" x2="119.9" y2="321.8"/><linearGradient id="car" href="#c" x1="137.5" y1="334.2" x2="130.3" y2="317"/><linearGradient id="cas" href="#c" x1="149" y1="329.6" x2="140.8" y2="311.8"/><linearGradient id="cat" href="#c" x1="160.7" y1="324.5" x2="151.6" y2="306.1"/><linearGradient id="cau" href="#c" x1="121.4" y1="341.1" x2="114.8" y2="321.6"/><linearGradient id="cav" href="#c" x1="132.9" y1="337.5" x2="125.1" y2="317.1"/><linearGradient id="caw" href="#c" x1="144.6" y1="333.2" x2="135.7" y2="312.2"/><linearGradient id="cax" href="#c" x1="156.5" y1="328.5" x2="146.6" y2="307"/><linearGradient id="cay" href="#c" x1="128.2" y1="340.6" x2="120" y2="317.2"/><linearGradient id="caz" href="#c" x1="140.1" y1="336.7" x2="130.7" y2="312.6"/><linearGradient id="cb0" href="#c" x1="152.1" y1="332.3" x2="141.6" y2="307.7"/><linearGradient id="cb1" href="#c" x1="135.3" y1="339.9" x2="125.6" y2="313"/><linearGradient id="cb2" href="#c" x1="147.5" y1="335.9" x2="136.6" y2="308.3"/><linearGradient id="cb3" href="#c" x1="142.8" y1="339.3" x2="131.6" y2="308.9"/></defs>
<g class="sf" filter="url(#fz)"><path fill="url(#c0)" d="M120 296.2l5.2 1.3-4.3 4.4-5.3-1.3z"/><path fill="url(#c1)" d="M124.3 296.9l5.3 1-4.3 4.5-5.3-1z"/><path fill="url(#c2)" d="M116.3 299.6l5.2 1.3-4.4 4.3-5.2-1.4z"/><path fill="url(#c3)" d="M120.6 300.3l5.3 1-4.4 4.4-5.3-1.1z"/><path fill="url(#c4)" d="M112.5 302.7l5.2 1.5-4.4 4.1-5.3-1.5z"/><path fill="url(#c5)" d="M128.7 297.4l5.4.6-4.3 4.6-5.4-.7z"/><path fill="url(#c6)" d="M116.8 303.6l5.3 1.1-4.4 4.2-5.3-1.2z"/><path fill="url(#c7)" d="M125 300.8l5.4.8-4.4 4.4-5.4-.8z"/><path fill="url(#c8)" d="M108.7 305.8l5.2 1.5-4.5 4-5.3-1.6z"/><path fill="url(#c9)" d="M133.2 297.5l5.4.4-4.3 4.7-5.4-.4z"/><path fill="url(#ca)" d="M121.2 304.2l5.4.8-4.4 4.3-5.4-.9z"/><path fill="url(#cb)" d="M113 306.7l5.3 1.2-4.5 4.1-5.3-1.3z"/><path fill="url(#cc)" d="M129.4 301.1l5.5.4-4.4 4.6-5.4-.5z"/><path fill="url(#cd)" d="M104.8 308.7l5.3 1.6-4.7 3.9-5.2-1.7z"/><path fill="url(#ce)" d="M137.7 297.4l5.5.1-4.3 4.8-5.5-.1z"/><path fill="url(#cf)" d="M117.4 307.4l5.4.9-4.5 4.2-5.4-1z"/><path fill="url(#cg)" d="M125.7 304.5l5.4.5-4.4 4.4-5.4-.6z"/><path fill="url(#ch)" d="M109.2 309.7l5.3 1.3-4.6 4-5.3-1.4z"/><path fill="url(#ci)" d="M133.9 301l5.6.2-4.3 4.6-5.6-.2z"/><path fill="url(#cj)" d="M100.9 311.6l5.2 1.6-4.7 3.7-5.2-1.7z"/><path fill="url(#ck)" d="M142.2 297.1l5.6-.3-4.2 4.9-5.6.2z"/><path fill="url(#cl)" d="M121.9 307.8l5.4.6-4.4 4.3-5.5-.7z"/><path fill="url(#cm)" d="M113.6 310.4l5.3 1.1-4.5 4-5.4-1.1z"/><path fill="url(#cn)" d="M130.2 304.5l5.5.3-4.4 4.5-5.5-.3z"/><path fill="url(#co)" d="M105.2 312.6l5.3 1.4-4.6 3.8-5.3-1.5z"/><path fill="url(#cp)" d="M138.5 300.7l5.6-.1-4.2 4.7-5.7.1z"/><path fill="url(#cq)" d="M96.9 314.2l5.2 1.8-4.7 3.6-5.2-1.9z"/><path fill="url(#cr)" d="M146.8 296.4l5.7-.5-4.1 4.9-5.7.5z"/><path fill="url(#cs)" d="M118 310.9l5.5.7-4.6 4.2-5.4-.8z"/><path fill="url(#ct)" d="M126.4 307.9l5.5.3-4.4 4.4-5.5-.4z"/><path fill="url(#cu)" d="M109.6 313.4l5.4 1.1-4.6 3.9-5.4-1.2z"/><path fill="url(#cv)" d="M134.7 304.3l5.7-.1-4.4 4.6-5.6 0z"/><path fill="url(#cw)" d="M101.3 315.4l5.3 1.4-4.8 3.7-5.3-1.6z"/><path fill="url(#cx)" d="M143.1 300.2l5.7-.5-4.2 4.8-5.7.4z"/><path fill="url(#cy)" d="M92.9 316.8l5.2 1.8-4.8 3.4-5.3-1.9z"/><path fill="url(#cz)" d="M151.5 295.5l5.8-.9-4.1 5.1-5.8.8z"/><path fill="url(#c10)" d="M114.1 313.9l5.4.8-4.5 4-5.5-.9z"/><path fill="url(#c11)" d="M122.5 311.1l5.5.4-4.4 4.2-5.6-.4z"/><path fill="url(#c12)" d="M105.7 316.2l5.3 1.2-4.7 3.8-5.3-1.3z"/><path fill="url(#c13)" d="M130.9 307.7l5.7 0-4.4 4.5-5.6-.1z"/><path fill="url(#c14)" d="M97.2 318l5.3 1.6-4.8 3.5-5.3-1.7z"/><path fill="url(#c15)" d="M139.4 303.8l5.7-.4-4.3 4.7-5.7.3z"/><path fill="url(#c16)" d="M88.8 319.2l5.2 1.9-4.9 3.3-5.2-2.1z"/><path fill="url(#c17)" d="M147.8 299.3l5.8-.8-4.1 4.9-5.8.8z"/><path fill="url(#c18)" d="M156.3 294.3l5.9-1.2-4 5.1-6 1.1z"/><path fill="url(#c19)" d="M118.6 314.2l5.5.5-4.5 4.1-5.5-.6z"/><path fill="url(#c1a)" d="M110.1 316.8l5.5.9-4.7 3.9-5.4-1z"/><path fill="url(#c1b)" d="M127.1 311l5.6.1-4.4 4.3-5.7-.1z"/><path fill="url(#c1c)" d="M101.7 318.9l5.3 1.3-4.8 3.6-5.3-1.4z"/><path fill="url(#c1d)" d="M135.6 307.3l5.7-.3-4.4 4.5-5.7.3z"/><path fill="url(#c1e)" d="M93.2 320.4l5.2 1.7-4.8 3.4-5.3-1.8z"/><path fill="url(#c1f)" d="M144.1 303l5.8-.7-4.2 4.8-5.8.6z"/><path fill="url(#c1g)" d="M84.6 321.4l5.3 2.1-5 3.1-5.3-2.2z"/><path fill="url(#c1h)" d="M152.6 298.2l5.9-1.1-4.1 4.9-5.9 1.1z"/><path fill="url(#c1i)" d="M161.1 292.8l6.1-1.6-4 5.2-6.1 1.5z"/><path fill="url(#c1j)" d="M114.7 317.2l5.5.6-4.6 3.9-5.6-.7z"/><path fill="url(#c1k)" d="M123.2 314.2l5.6.2-4.5 4.2-5.6-.3z"/><path fill="url(#c1l)" d="M106.1 319.6l5.5 1-4.8 3.7-5.4-1.1z"/><path fill="url(#c1m)" d="M131.7 310.7l5.7-.2-4.4 4.4-5.7.1z"/><path fill="url(#c1n)" d="M97.6 321.5l5.3 1.3-4.8 3.5-5.4-1.5z"/><path fill="url(#c1o)" d="M140.3 306.6l5.8-.6-4.3 4.6-5.8.5z"/><path fill="url(#c1p)" d="M89 322.8l5.3 1.8-5 3.1-5.3-1.8z"/><path fill="url(#c1q)" d="M148.8 302l5.9-1.1-4.1 4.9-5.9.9z"/><path fill="url(#c1r)" d="M80.4 323.6l5.2 2.1-5 2.9-5.3-2.2z"/><path fill="url(#c1s)" d="M157.4 296.8l6.1-1.5-4.1 5-6 1.4z"/><path fill="url(#c1t)" d="M166 291l6.2-1.9-3.9 5.2-6.2 1.9z"/><path fill="url(#c1u)" d="M119.2 317.2l5.6.3-4.5 4-5.7-.3z"/><path fill="url(#c1v)" d="M110.6 320l5.6.7-4.7 3.8-5.6-.8z"/><path fill="url(#c1w)" d="M127.8 313.9l5.7-.1-4.4 4.2-5.7.1z"/><path fill="url(#c1x)" d="M102 322.2l5.5 1.1-4.8 3.5-5.5-1.1z"/><path fill="url(#c1y)" d="M136.4 310l5.8-.5-4.3 4.5-5.8.4z"/><path fill="url(#c1z)" d="M93.4 323.9l5.4 1.5-4.9 3.2-5.4-1.5z"/><path fill="url(#c20)" d="M145 305.6l6-1-4.3 4.7-5.9.9z"/><path fill="url(#c21)" d="M84.8 325l5.3 1.9-5.1 3-5.2-2z"/><path fill="url(#c22)" d="M153.7 300.6l6-1.4-4.1 4.9-6 1.3z"/><path fill="url(#c23)" d="M76.1 325.6l5.2 2.2-5.1 2.8-5.2-2.4z"/><path fill="url(#c24)" d="M162.3 295.1l6.2-1.9-4 5.1-6.1 1.8z"/><path fill="url(#c25)" d="M171 288.9l6.3-2.3-3.8 5.3-6.3 2.2z"/><path fill="url(#c26)" d="M115.2 320.1l5.6.4-4.6 3.9-5.6-.5z"/><path fill="url(#c27)" d="M123.9 317l5.7 0-4.6 4.1-5.7 0z"/><path fill="url(#c28)" d="M106.6 322.7l5.5.8-4.8 3.6-5.5-.9z"/><path fill="url(#c29)" d="M132.5 313.3l5.8-.4-4.4 4.3-5.8.4z"/><path fill="url(#c2a)" d="M97.9 324.7l5.4 1.2-4.8 3.4-5.5-1.3z"/><path fill="url(#c2b)" d="M141.2 309.1l5.9-.9-4.3 4.6-5.9.8z"/><path fill="url(#c2c)" d="M89.2 326.1l5.4 1.6-5 3.1-5.4-1.6z"/><path fill="url(#c2d)" d="M149.9 304.3l6-1.3-4.1 4.8-6.1 1.2z"/><path fill="url(#c2e)" d="M80.5 327.1l5.3 1.9-5.1 2.9-5.3-2.1z"/><path fill="url(#c2f)" d="M158.6 299l6.2-1.8-4.1 5-6.1 1.6z"/><path fill="url(#c2g)" d="M71.8 327.4l5.2 2.3-5.2 2.6-5.3-2.4z"/><path fill="url(#c2h)" d="M167.3 293l6.3-2.2-3.9 5.1-6.3 2.2z"/><path fill="url(#c2i)" d="M176.1 286.5l6.5-2.7-3.8 5.3-6.5 2.7z"/><path fill="url(#c2j)" d="M111.2 322.9l5.6.5-4.8 3.7-5.6-.6z"/><path fill="url(#c2k)" d="M119.9 320l5.7 0-4.6 4-5.7-.1z"/><path fill="url(#c2l)" d="M102.4 325.2l5.6.9-4.9 3.5-5.5-1z"/><path fill="url(#c2m)" d="M128.6 316.5l5.8-.3-4.5 4.2-5.8.2z"/><path fill="url(#c2n)" d="M93.7 327l5.4 1.3-4.9 3.2-5.5-1.3z"/><path fill="url(#c2o)" d="M137.3 312.5l5.9-.8-4.3 4.4-6 .7z"/><path fill="url(#c2p)" d="M85 328.3l5.3 1.7-5.1 2.9-5.3-1.7z"/><path fill="url(#c2q)" d="M146 307.9l6.1-1.2-4.2 4.6-6.1 1.2z"/><path fill="#790089" d="M76.2 329l5.2 2-5.2 2.7-5.2-2.1z"/><path fill="url(#c2s)" d="M154.8 302.8l6.2-1.7-4.1 4.8-6.2 1.6z"/><path fill="url(#c2t)" d="M67.4 329.1l5.2 2.4-5.4 2.4-5.2-2.5z"/><path fill="url(#c2u)" d="M163.6 297l6.3-2.1-4 5-6.3 2z"/><path fill="url(#c2v)" d="M172.4 290.7l6.5-2.6-3.9 5.1-6.4 2.6z"/><path fill="url(#c2w)" d="M115.8 322.8l5.7.2-4.7 3.8-5.7-.2z"/><path fill="url(#c2x)" d="M107 325.5l5.6.6-4.8 3.6-5.6-.7z"/><path fill="url(#c2y)" d="M124.6 319.6l5.8-.3-4.6 4-5.8.2z"/><path fill="url(#c2z)" d="M98.2 327.7l5.6.9-5 3.3-5.5-1z"/><path fill="url(#c30)" d="M133.3 315.7l6-.7-4.4 4.3-6 .6z"/><path fill="url(#c31)" d="M181.3 283.8l6.6-3.1-3.7 5.3-6.6 3.1z"/><path fill="url(#c32)" d="M89.4 329.2l5.5 1.4-5.1 3.1-5.4-1.5z"/><path fill="url(#c33)" d="M142.1 311.4l6.1-1.2-4.3 4.5-6 1.1z"/><path fill="url(#c34)" d="M80.6 330.3l5.4 1.7-5.2 2.8-5.4-1.8z"/><path fill="url(#c35)" d="M150.9 306.4l6.2-1.6-4.1 4.7-6.2 1.5z"/><path fill="#780086" d="M71.8 330.7l5.2 2.2-5.3 2.5-5.3-2.2z"/><path fill="url(#c37)" d="M159.8 300.9l6.3-2.1-4 4.8-6.3 2.1z"/><path fill="url(#c38)" d="M62.9 330.6l5.1 2.6-5.4 2.2-5.2-2.6z"/><path fill="url(#c39)" d="M168.6 294.8l6.5-2.6-3.8 5-6.5 2.5z"/><path fill="url(#c3a)" d="M177.6 288.1l6.6-3.1-3.7 5.2-6.7 3z"/><path fill="url(#c3b)" d="M111.7 325.5l5.7.3-4.8 3.6-5.7-.3z"/><path fill="url(#c3c)" d="M120.5 322.5l5.8-.2-4.6 3.9-5.8.1z"/><path fill="url(#c3d)" d="M102.8 328l5.7.7-4.9 3.4-5.7-.7z"/><path fill="url(#c3e)" d="M129.3 318.9l6-.7-4.5 4.2-5.9.5z"/><path fill="url(#c3f)" d="M94 329.9l5.5 1.1-5 3.2-5.5-1.2z"/><path fill="url(#c3g)" d="M138.2 314.7l6-1.1-4.3 4.3-6.1 1z"/><path fill="url(#c3h)" d="M85.1 331.3l5.4 1.5-5.1 2.9-5.4-1.6z"/><path fill="url(#c3i)" d="M147 309.9l6.2-1.5-4.2 4.5-6.2 1.5z"/><path fill="url(#c3j)" d="M186.6 280.8l6.7-3.6-3.6 5.3-6.7 3.5z"/><path fill="url(#c3k)" d="M76.2 332.1l5.3 1.9-5.2 2.6-5.4-2z"/><path fill="url(#c3l)" d="M155.9 304.6l6.4-2-4.1 4.7-6.3 1.9z"/><path fill="#780087" d="M67.3 332.3l5.2 2.3-5.4 2.3-5.2-2.3z"/><path fill="url(#c3n)" d="M164.8 298.7l6.5-2.5-3.9 4.9-6.5 2.4z"/><path fill="url(#c3o)" d="M58.3 332l5.2 2.7-5.6 2-5.1-2.7z"/><path fill="url(#c3p)" d="M173.8 292.2l6.7-3-3.8 5-6.7 2.9z"/><path fill="url(#c3q)" d="M116.4 325.2l5.8-.1-4.7 3.8-5.8 0z"/><path fill="url(#c3r)" d="M107.5 328.1l5.7.3-4.8 3.5-5.8-.4z"/><path fill="url(#c3s)" d="M125.3 321.8l5.9-.5-4.5 4-6 .4z"/><path fill="url(#c3t)" d="M98.6 330.4l5.6.7-5 3.3-5.6-.9z"/><path fill="url(#c3u)" d="M134.2 317.9l6.1-1-4.5 4.2-6 .9z"/><path fill="url(#c3v)" d="M89.7 332.1l5.5 1.1-5.2 3-5.5-1.2z"/><path fill="url(#c3w)" d="M182.8 285.1l6.8-3.5-3.6 5.1-6.8 3.5z"/><path fill="url(#c3x)" d="M143.1 313.3l6.2-1.4-4.3 4.4-6.2 1.3z"/><path fill="url(#c3y)" d="M80.7 333.2l5.4 1.6-5.2 2.7-5.4-1.6z"/><path fill="url(#c3z)" d="M152 308.2l6.4-1.9-4.1 4.5-6.4 1.9z"/><path fill="#780087" d="M71.7 333.8l5.4 1.9-5.4 2.5-5.4-2z"/><path fill="url(#c41)" d="M192 277.4l6.9-4.1-3.6 5.3-6.9 4z"/><path fill="url(#c42)" d="M161 302.5l6.5-2.4-4 4.7-6.5 2.3z"/><path fill="url(#c43)" d="M62.7 333.8l5.2 2.3-5.5 2.2-5.2-2.4z"/><path fill="url(#c44)" d="M170 296.2l6.7-2.9-3.9 4.8-6.6 2.9z"/><path fill="url(#c45)" d="M53.6 333.2l5.2 2.8-5.6 1.8-5.2-2.8z"/><path fill="url(#c46)" d="M112.2 327.9l5.8 0-4.8 3.6-5.8-.1z"/><path fill="url(#c47)" d="M121.2 324.7l5.9-.5-4.6 3.8-6 .4z"/><path fill="url(#c48)" d="M103.3 330.5l5.7.4-5 3.4-5.7-.5z"/><path fill="url(#c49)" d="M179.1 289.3l6.8-3.5-3.7 5-6.8 3.4z"/><path fill="url(#c4a)" d="M130.1 320.9l6.1-.9-4.5 4-6.1.9z"/><path fill="url(#c4b)" d="M94.3 332.6l5.6.8-5.1 3.1-5.6-.9z"/><path fill="url(#c4c)" d="M139.1 316.6l6.2-1.4-4.3 4.2-6.2 1.3z"/><path fill="url(#c4d)" d="M85.3 334.1l5.5 1.2-5.2 2.8-5.5-1.3z"/><path fill="url(#c4e)" d="M148.1 311.7l6.3-1.9-4.1 4.4-6.4 1.8z"/><path fill="url(#c4f)" d="M76.3 335l5.3 1.6-5.3 2.6-5.4-1.8z"/><path fill="url(#c4g)" d="M188.2 281.9l7-4.1-3.6 5.1-6.9 4z"/><path fill="url(#c4h)" d="M157.1 306.2l6.5-2.4-4 4.6-6.5 2.3z"/><path fill="url(#c4i)" d="M67.2 335.3l5.3 2.1-5.5 2.2-5.3-2.1z"/><path fill="url(#c4j)" d="M197.5 273.7l7-4.6-3.5 5.2-7 4.5z"/><path fill="url(#c4k)" d="M166.2 300.1l6.6-2.9-3.8 4.7-6.7 2.8z"/><path fill="url(#c4l)" d="M58.1 335.1l5.2 2.4-5.6 2-5.3-2.5z"/><path fill="url(#c4m)" d="M175.3 293.4l6.8-3.4-3.7 4.8-6.8 3.4z"/><path fill="url(#c4n)" d="M48.9 334.3l5.1 2.8-5.7 1.7-5.1-2.9z"/><path fill="url(#c4o)" d="M108 330.4l5.8 0-4.9 3.5-5.8-.2z"/><path fill="url(#c4p)" d="M117 327.4l5.9-.4-4.7 3.7-5.9.3z"/><path fill="url(#c4q)" d="M98.9 332.8l5.7.5-5 3.2-5.7-.6z"/><path fill="url(#c4r)" d="M126 323.8l6.1-.8-4.6 3.9-6 .7z"/><path fill="url(#c4s)" d="M89.9 334.6l5.6.9-5.2 3-5.6-1z"/><path fill="url(#c4t)" d="M135 319.7l6.3-1.3-4.4 4.1-6.3 1.2z"/><path fill="url(#c4u)" d="M184.5 286.1l6.9-4-3.6 5-6.9 3.9z"/><path fill="url(#c4v)" d="M80.8 335.9l5.5 1.3-5.3 2.7-5.5-1.4z"/><path fill="url(#c4w)" d="M144.1 315l6.4-1.8-4.3 4.3-6.4 1.7z"/><path fill="url(#c4x)" d="M71.7 336.6l5.4 1.7-5.5 2.4-5.4-1.8z"/><path fill="url(#c4y)" d="M153.1 309.7l6.6-2.3-4.1 4.4-6.5 2.2z"/><path fill="url(#c4z)" d="M193.8 278.2l7-4.6-3.5 5.1-7.1 4.5z"/><path fill="url(#c50)" d="M62.6 336.7l5.2 2.1-5.6 2.1-5.3-2.2z"/><path fill="url(#c51)" d="M162.3 303.8l6.7-2.8-4 4.6-6.7 2.7z"/><path fill="url(#c52)" d="M53.3 336.3l5.2 2.5-5.7 1.8-5.2-2.6z"/><path fill="url(#c53)" d="M171.4 297.4l6.9-3.4-3.8 4.7-6.8 3.2z"/><path fill="url(#c54)" d="M203.2 269.6l7.1-5.1-3.4 5.1-7.2 5.1z"/><path fill="url(#c55)" d="M112.8 329.9l5.9-.2-4.8 3.5-6 .2z"/><path fill="url(#c56)" d="M103.7 332.7l5.8.2-5 3.2-5.8-.2z"/><path fill="url(#c57)" d="M121.8 326.6l6.1-.7-4.6 3.7-6.1.6z"/><path fill="url(#c58)" d="M44.1 335.2l5.1 2.9-5.8 1.5-5.2-3z"/><path fill="url(#c59)" d="M94.6 334.9l5.6.6-5.1 3-5.7-.7z"/><path fill="url(#c5a)" d="M180.7 290.3l7-4-3.7 4.8-7 3.9z"/><path fill="url(#c5b)" d="M130.9 322.7l6.3-1.2-4.5 3.9-6.2 1.1z"/><path fill="url(#c5c)" d="M85.4 336.5l5.6 1-5.3 2.8-5.6-1.1z"/><path fill="url(#c5d)" d="M140 318.2l6.4-1.7-4.3 4.1-6.4 1.6z"/><path fill="url(#c5e)" d="M76.3 337.6l5.4 1.4-5.4 2.5-5.5-1.5z"/><path fill="url(#c5f)" d="M149.1 313.1l6.6-2.2-4.1 4.2-6.6 2.2z"/><path fill="url(#c5g)" d="M190 282.6l7.1-4.6-3.6 4.9-7.1 4.5z"/><path fill="url(#c5h)" d="M67.1 338l5.3 1.9-5.5 2.2-5.4-2z"/><path fill="url(#c5i)" d="M158.3 307.4l6.7-2.7-3.9 4.4-6.8 2.6z"/><path fill="url(#c5j)" d="M57.8 337.9l5.3 2.3-5.7 1.8-5.3-2.3z"/><path fill="url(#c5k)" d="M167.5 301.2l6.9-3.3-3.8 4.5-6.9 3.2z"/><path fill="url(#c5l)" d="M199.5 274.2l7.1-5.1-3.5 5-7.2 5z"/><path fill="url(#c5m)" d="M48.5 337.2l5.2 2.7-5.8 1.5-5.2-2.7z"/><path fill="url(#c5n)" d="M176.9 294.3l6.9-3.9-3.7 4.6-7 3.8z"/><path fill="url(#c5o)" d="M108.5 332.3l5.9-.1-4.9 3.3-5.9.1z"/><path fill="url(#c5p)" d="M117.6 329.2l6.1-.6-4.7 3.5-6.1.6z"/><path fill="url(#c5q)" d="M99.3 334.9l5.8.3-5.1 3.1-5.8-.4z"/><path fill="url(#c5r)" d="M126.7 325.5l6.3-1.1-4.6 3.8-6.2 1z"/><path fill="url(#c5s)" d="M209 265.2l7.2-5.7-3.4 5.1-7.3 5.6z"/><path fill="url(#c5t)" d="M90.1 336.9l5.7.7-5.3 2.8-5.6-.8z"/><path fill="url(#c5u)" d="M135.9 321.2l6.4-1.6-4.4 4-6.4 1.5z"/><path fill="url(#c5v)" d="M39.2 335.9l5.1 3-6 1.3-5.1-3.1z"/><path fill="url(#c5w)" d="M80.9 338.3l5.6 1.1-5.4 2.6-5.6-1.2z"/><path fill="url(#c5x)" d="M186.2 286.8l7.1-4.5-3.6 4.7-7.1 4.4z"/><path fill="url(#c5y)" d="M145.1 316.4l6.6-2.2-4.2 4.1-6.6 2.1z"/><path fill="url(#c5z)" d="M71.7 339.1l5.4 1.5-5.5 2.3-5.5-1.6z"/><path fill="url(#c60)" d="M154.3 310.9l6.7-2.7-4 4.2-6.7 2.6z"/><path fill="url(#c61)" d="M62.4 339.3l5.3 2-5.7 2-5.3-2z"/><path fill="url(#c62)" d="M195.7 278.6l7.2-5-3.6 4.8-7.2 5z"/><path fill="url(#c63)" d="M163.6 304.9l6.9-3.3-3.9 4.3-6.9 3.2z"/><path fill="url(#c64)" d="M53 339l5.3 2.3-5.8 1.7-5.3-2.4z"/><path fill="url(#c65)" d="M173 298.2l7-3.9-3.8 4.5-7 3.7z"/><path fill="url(#c66)" d="M205.3 269.8l7.3-5.7-3.6 5-7.3 5.6z"/><path fill="url(#c67)" d="M113.3 331.7l6.1-.6-4.8 3.4-6.1.5z"/><path fill="url(#c68)" d="M43.6 338l5.2 2.8-6 1.3-5.1-2.7z"/><path fill="url(#c69)" d="M104.1 334.6l5.9-.1-5 3.2-5.9 0z"/><path fill="url(#c6a)" d="M122.5 328.2l6.3-1-4.7 3.6-6.2.9z"/><path fill="url(#c6b)" d="M94.8 336.9l5.8.4-5.1 2.9-5.8-.4z"/><path fill="url(#c6c)" d="M131.7 324.1l6.4-1.5-4.4 3.8-6.4 1.4z"/><path fill="url(#c6d)" d="M182.4 290.9l7.1-4.5-3.7 4.6-7.1 4.3z"/><path fill="url(#c6e)" d="M85.6 338.7l5.6.8-5.3 2.6-5.7-.8z"/><path fill="url(#c6f)" d="M141 319.5l6.6-2.1-4.3 3.9-6.6 2z"/><path fill="url(#c6g)" d="M76.3 339.9l5.5 1.2-5.5 2.4-5.5-1.3z"/><path fill="url(#c6h)" d="M214.9 260.3l7.4-6.3-3.5 5.1-7.4 6.2z"/><path fill="url(#c6i)" d="M150.3 314.3l6.7-2.7-4.1 4.1-6.7 2.5z"/><path fill="url(#c6j)" d="M67 340.5l5.4 1.6-5.7 2.1-5.4-1.7z"/><path fill="url(#c6k)" d="M191.9 282.9l7.2-5-3.6 4.7-7.2 4.9z"/><path fill="url(#c6l)" d="M159.6 308.4l6.9-3.2-4 4.1-6.8 3.2z"/><path fill="url(#c6m)" d="M57.6 340.5l5.3 2-5.8 1.8-5.3-2.1z"/><path fill="url(#c6n)" d="M169 302l7-3.9-3.8 4.3-7 3.7z"/><path fill="url(#c6o)" d="M201.5 274.3l7.3-5.6-3.6 4.8-7.3 5.5z"/><path fill="url(#c6p)" d="M48.1 339.9l5.3 2.4-6 1.5-5.2-2.5z"/><path fill="url(#c6q)" d="M178.5 294.8l7.1-4.4-3.7 4.4-7.1 4.3z"/><path fill="url(#c6r)" d="M108.9 334l6.1-.4-4.9 3.2-6.1.4z"/><path fill="url(#c6s)" d="M118.2 330.7l6.3-.9-4.7 3.4-6.3.9z"/><path fill="url(#c6t)" d="M99.6 336.7l6 0-5.1 3-6-.1z"/><path fill="url(#c6u)" d="M127.5 326.9l6.4-1.5-4.5 3.7-6.4 1.3z"/><path fill="url(#c6v)" d="M90.3 338.8l5.8.5-5.3 2.7-5.8-.5z"/><path fill="url(#c6w)" d="M211.2 265l7.4-6.2-3.5 4.9-7.4 6.1z"/><path fill="url(#c6x)" d="M136.8 322.5l6.6-2-4.3 3.7-6.6 1.9z"/><path fill="url(#c6y)" d="M81 340.4l5.6.8-5.4 2.5-5.7-.9z"/><path fill="url(#c6z)" d="M146.1 317.5l6.8-2.6-4.1 3.8-6.8 2.5z"/><path fill="url(#c70)" d="M188.1 287.1l7.2-5-3.7 4.5-7.2 4.9z"/><path fill="url(#c71)" d="M71.6 341.3l5.5 1.3-5.6 2.2-5.5-1.4z"/><path fill="url(#c72)" d="M155.5 311.8l7-3.1-4 3.9-7 3.1z"/><path fill="url(#c73)" d="M62.2 341.7l5.4 1.7-5.8 1.9-5.4-1.8z"/><path fill="url(#c74)" d="M197.7 278.6l7.3-5.5-3.6 4.6-7.3 5.5z"/><path fill="url(#c75)" d="M165 305.6l7.1-3.8-3.9 4.1-7.1 3.7z"/><path fill="url(#c76)" d="M52.7 341.4l5.3 2.1-5.9 1.6-5.3-2.2z"/><path fill="url(#c77)" d="M174.6 298.7l7.1-4.4-3.8 4.2-7.1 4.3z"/><path fill="url(#c78)" d="M207.5 269.5l7.4-6.1-3.6 4.8-7.4 6z"/><path fill="url(#c79)" d="M113.8 333.1l6.3-.8-4.8 3.3-6.3.7z"/><path fill="url(#c7a)" d="M104.5 336.2l6.1-.4-5 3.1-6.1.3z"/><path fill="url(#c7b)" d="M123.2 329.5l6.4-1.4-4.6 3.5-6.4 1.3z"/><path fill="url(#c7c)" d="M95.1 338.7l5.9.1-5.2 2.8-5.9-.2z"/><path fill="url(#c7d)" d="M132.5 325.3l6.7-1.9-4.4 3.5-6.6 1.9z"/><path fill="url(#c7e)" d="M85.7 340.6l5.8.5-5.4 2.6-5.8-.6z"/><path fill="url(#c7f)" d="M184.2 291.1l7.2-4.9-3.7 4.3-7.2 4.8z"/><path fill="url(#c7g)" d="M142 320.5l6.8-2.5-4.2 3.7-6.8 2.4z"/><path fill="url(#c7h)" d="M76.3 341.9l5.6.9-5.6 2.3-5.6-1z"/><path fill="url(#c7i)" d="M151.4 315.1l7-3.1-4.1 3.8-6.9 3z"/><path fill="url(#c7j)" d="M66.8 342.6l5.5 1.4-5.7 2-5.5-1.5z"/><path fill="url(#c7k)" d="M193.9 282.9l7.3-5.5-3.7 4.4-7.3 5.4z"/><path fill="url(#c7l)" d="M161 309.1l7-3.8-3.9 3.9-7.1 3.6z"/><path fill="url(#c7m)" d="M57.3 342.7l5.4 1.8-5.9 1.7-5.4-1.9z"/><path fill="url(#c7n)" d="M170.6 302.4l7.1-4.4-3.9 4-7.1 4.3z"/><path fill="url(#c7o)" d="M203.7 273.9l7.4-6-3.7 4.6-7.4 5.9z"/><path fill="url(#c7p)" d="M109.4 335.4l6.2-.8-4.8 3.1-6.3.7z"/><path fill="url(#c7q)" d="M100 338.2l6-.3-5.1 2.9-6 .2z"/><path fill="url(#c7r)" d="M118.8 332l6.5-1.3-4.7 3.3-6.5 1.2z"/><path fill="url(#c7s)" d="M180.3 295l7.2-4.9-3.8 4.1-7.2 4.8z"/><path fill="url(#c7t)" d="M90.5 340.5l5.9.2-5.3 2.6-5.9-.3z"/><path fill="url(#c7u)" d="M128.2 328l6.7-1.9-4.5 3.4-6.6 1.8z"/><path fill="url(#c7v)" d="M81.1 342.1l5.7.7-5.6 2.4-5.7-.8z"/><path fill="url(#c7w)" d="M137.7 323.5l6.8-2.5-4.2 3.4-6.8 2.4z"/><path fill="url(#c7x)" d="M71.6 343.2l5.5 1.1-5.7 2.1-5.6-1.2z"/><path fill="url(#c7y)" d="M147.3 318.3l6.9-3.1-4.1 3.5-7 3z"/><path fill="url(#c7z)" d="M190.1 287l7.2-5.5-3.7 4.3-7.3 5.3z"/><path fill="url(#c80)" d="M62 343.7l5.4 1.4-5.9 1.9-5.4-1.6z"/><path fill="url(#c81)" d="M156.9 312.4l7-3.7-4 3.7-7 3.6z"/><path fill="url(#c82)" d="M199.9 278.2l7.4-6-3.8 4.4-7.3 6z"/><path fill="url(#c83)" d="M166.6 305.9l7.1-4.3-4 3.8-7.1 4.2z"/><path fill="url(#c84)" d="M176.3 298.8l7.2-4.9-3.9 3.9-7.2 4.8z"/><path fill="url(#c85)" d="M104.9 337.5l6.2-.7-5 2.9-6.2.6z"/><path fill="url(#c86)" d="M114.3 334.3l6.5-1.2-4.7 3.1-6.5 1.1z"/><path fill="url(#c87)" d="M95.4 340.1l6-.2-5.2 2.7-6 .1z"/><path fill="url(#c88)" d="M123.8 330.6l6.7-1.9-4.5 3.2-6.7 1.8z"/><path fill="url(#c89)" d="M85.9 342.1l5.8.3-5.4 2.5-5.9-.4z"/><path fill="url(#c8a)" d="M133.4 326.2l6.8-2.4-4.3 3.3-6.8 2.3z"/><path fill="url(#c8b)" d="M186.1 290.9l7.3-5.4-3.8 4.1-7.3 5.3z"/><path fill="url(#c8c)" d="M76.3 343.5l5.7.8-5.7 2.2-5.7-.8z"/><path fill="url(#c8d)" d="M143 321.3l7-3.1-4.2 3.3-7 3z"/><path fill="url(#c8e)" d="M66.7 344.4l5.5 1.1-5.8 1.9-5.6-1.2z"/><path fill="url(#c8f)" d="M152.7 315.6l7.1-3.6-4.1 3.4-7.1 3.6z"/><path fill="url(#c8g)" d="M196 282.4l7.4-6-3.8 4.2-7.4 5.9z"/><path fill="url(#c8h)" d="M162.5 309.3l7.1-4.2-4 3.6-7.2 4.1z"/><path fill="url(#c8i)" d="M172.3 302.4l7.2-4.9-4 3.8-7.2 4.7z"/><path fill="url(#c8j)" d="M109.8 336.5l6.5-1.2-4.8 2.9-6.5 1.1z"/><path fill="url(#c8k)" d="M100.3 339.4l6.2-.6-5.1 2.8-6.2.5z"/><path fill="url(#c8l)" d="M119.4 333l6.7-1.8-4.6 3-6.7 1.7z"/><path fill="url(#c8m)" d="M90.7 341.8l6-.1-5.3 2.5-6 0z"/><path fill="url(#c8n)" d="M182.2 294.7l7.3-5.4-4 3.9-7.3 5.3z"/><path fill="url(#c8o)" d="M129 328.9l6.9-2.5-4.4 3.1-6.9 2.3z"/><path fill="url(#c8p)" d="M81.1 343.6l5.8.3-5.6 2.3-5.8-.4z"/><path fill="url(#c8q)" d="M138.7 324.1l7-3-4.3 3.1-6.9 3z"/><path fill="url(#c8r)" d="M71.5 344.8l5.6.8-5.8 2-5.6-.9z"/><path fill="url(#c8s)" d="M148.5 318.7l7.1-3.7-4.2 3.3-7.1 3.6z"/><path fill="url(#c8t)" d="M192.1 286.4l7.4-6-3.9 4.1-7.4 5.9z"/><path fill="url(#c8u)" d="M158.3 312.6l7.2-4.2-4.1 3.3-7.2 4.2z"/><path fill="url(#c8v)" d="M168.2 305.8l7.2-4.8-4 3.6-7.2 4.7z"/><path fill="url(#c8w)" d="M178.1 298.4l7.3-5.4-4 3.7-7.3 5.3z"/><path fill="url(#c8x)" d="M105.2 338.5l6.5-1.1-4.9 2.7-6.5 1z"/><path fill="url(#c8y)" d="M114.8 335.3l6.8-1.8-4.6 2.8-6.8 1.6z"/><path fill="url(#c8z)" d="M95.6 341.1l6.3-.4-5.2 2.5-6.3.5z"/><path fill="url(#c90)" d="M124.6 331.4l6.9-2.4-4.5 2.8-6.9 2.3z"/><path fill="url(#c91)" d="M86 343.3l6 0-5.5 2.4-6-.1z"/><path fill="url(#c92)" d="M134.4 326.9l7-3.1-4.4 2.9-7 3z"/><path fill="url(#c93)" d="M76.3 344.9l5.8.4-5.8 2.1-5.7-.5z"/><path fill="url(#c94)" d="M188.1 290.3l7.4-5.9-3.9 3.8-7.4 5.9z"/><path fill="url(#c95)" d="M144.2 321.6l7.1-3.6-4.3 3-7 3.6z"/><path fill="url(#c96)" d="M154.1 315.7l7.2-4.2-4.2 3.2-7.2 4.1z"/><path fill="url(#c97)" d="M164.1 309.2l7.2-4.8-4.2 3.3-7.2 4.7z"/><path fill="url(#c98)" d="M174.1 301.9l7.2-5.3-4 3.5-7.3 5.2z"/><path fill="url(#c99)" d="M110.2 337.4l6.8-1.8-4.7 2.6-6.8 1.6z"/><path fill="url(#c9a)" d="M100.5 340.3l6.5-1-4.9 2.5-6.6 1z"/><path fill="url(#c9b)" d="M120 333.8l7-2.5-4.6 2.6-6.9 2.3z"/><path fill="url(#c9c)" d="M90.8 342.7l6.3-.4-5.3 2.5-6.3.3z"/><path fill="url(#c9d)" d="M130 329.4l6.9-3-4.4 2.6-7 3z"/><path fill="url(#c9e)" d="M184.1 294l7.4-5.9-4 3.7-7.4 5.8z"/><path fill="url(#c9f)" d="M81.2 344.6l5.9.2-5.7 2.2-5.9-.2z"/><path fill="url(#c9g)" d="M139.9 324.4l7-3.6-4.3 2.7-7.1 3.6z"/><path fill="url(#c9h)" d="M149.9 318.7l7.1-4.2-4.3 3-7.1 4.1z"/><path fill="url(#c9i)" d="M159.9 312.4l7.2-4.8-4.3 3.1-7.2 4.7z"/><path fill="url(#c9j)" d="M169.9 305.3l7.3-5.3-4.2 3.3-7.2 5.2z"/><path fill="url(#c9k)" d="M180.1 297.6l7.3-5.9-4.1 3.6-7.4 5.7z"/><path fill="url(#c9l)" d="M105.5 339.4l6.8-1.8-4.7 2.3-6.8 1.6z"/><path fill="url(#c9m)" d="M95.7 342.1l6.6-1.1-5.1 2.4-6.5.8z"/><path fill="url(#c9n)" d="M115.5 336l6.9-2.5-4.6 2.3-7 2.4z"/><path fill="url(#c9o)" d="M86 344.2l6.2-.3-5.5 2.2-6.1.2z"/><path fill="url(#c9p)" d="M125.5 331.9l6.9-3.1-4.5 2.3-7 3z"/><path fill="url(#c9q)" d="M135.5 327.1l7-3.7-4.5 2.5-7 3.6z"/><path fill="url(#c9r)" d="M145.5 321.6l7.1-4.2-4.4 2.7-7.1 4.1z"/><path fill="url(#c9s)" d="M155.6 315.4l7.2-4.7-4.3 2.9-7.2 4.6z"/><path fill="url(#c9t)" d="M161.5 311.6l7.2-5.2 4.3-3.1-7.2 5.2z"/><path fill="url(#c9u)" d="M171.7 304.2l7.4-5.7 4.2-3.3-7.4 5.8z"/><path fill="url(#c9v)" d="M100.7 341.3l6.9-1.9-4.8 1.9-6.9 1.8z"/><path fill="url(#c9w)" d="M110.8 338.1l6.9-2.6-4.7 2-6.9 2.4z"/><path fill="url(#c9x)" d="M90.7 343.6l6.7-1-5.1 2.1-6.6.8z"/><path fill="url(#c9y)" d="M116.2 336.1l7-3 4.7-2.1-7 3.2z"/><path fill="url(#c9z)" d="M126.4 331.7l7-3.6 4.6-2.2-7 3.6z"/><path fill="url(#ca0)" d="M136.6 326.6l7.1-4.1 4.5-2.5-7 4.2z"/><path fill="url(#ca1)" d="M146.8 320.9l7.2-4.7 4.5-2.6-7.2 4.7z"/><path fill="url(#ca2)" d="M157.1 314.4l7.3-5.1 4.3-2.9-7.2 5.2z"/><path fill="url(#ca3)" d="M167.4 307.3l7.4-5.6 4.3-3.2-7.3 5.8z"/><path fill="url(#ca4)" d="M101.2 341.5l6.9-2.5 4.9-1.6-6.9 2.7z"/><path fill="url(#ca5)" d="M90.9 344.4l6.9-1.9 4.9-1.5-6.8 2.1z"/><path fill="url(#ca6)" d="M111.5 338l6.9-3.1 4.8-1.8-6.9 3.2z"/><path fill="url(#ca7)" d="M121.7 333.8l7-3.6 4.8-2-7 3.6z"/><path fill="url(#ca8)" d="M132 328.9l7.1-4.1 4.6-2.2-7 4.1z"/><path fill="url(#ca9)" d="M142.3 323.4l7.2-4.6 4.5-2.5-7.1 4.7z"/><path fill="url(#caa)" d="M152.7 317.2l7.2-5.2 4.5-2.7-7.2 5.2z"/><path fill="url(#cab)" d="M163.1 310.3l7.3-5.7 4.4-2.9-7.3 5.7z"/><path fill="url(#cac)" d="M96.3 342.9l6.7-2.6 5.1-1.2-6.7 2.7z"/><path fill="url(#cad)" d="M106.6 339.6l6.9-3.1 5-1.5-6.9 3.2z"/><path fill="url(#cae)" d="M117 335.7l6.9-3.6 4.9-1.8-6.9 3.7z"/><path fill="url(#caf)" d="M127.4 331l7-4.1 4.8-2-7 4.2z"/><path fill="url(#cag)" d="M137.8 325.7l7.1-4.6 4.7-2.2-7.1 4.6z"/><path fill="url(#cah)" d="M148.2 319.7l7.2-5.1 4.6-2.5-7.2 5.2z"/><path fill="url(#cai)" d="M158.7 313l7.3-5.6 4.5-2.7-7.3 5.7z"/><path fill="url(#caj)" d="M101.7 341.1l6.7-3.1 5.2-1.2-6.7 3.2z"/><path fill="url(#cak)" d="M112.1 337.4l6.9-3.6 5.1-1.5-6.9 3.7z"/><path fill="url(#cal)" d="M122.6 333l7-4.1 4.9-1.8-6.9 4.2z"/><path fill="url(#cam)" d="M133.1 327.9l7.1-4.6 4.8-2-7.1 4.6z"/><path fill="url(#can)" d="M143.6 322.1l7.2-5.1 4.7-2.2-7.2 5.1z"/><path fill="url(#cao)" d="M154.2 315.6l7.3-5.5 4.6-2.5-7.3 5.6z"/><path fill="url(#cap)" d="M107.2 338.9l6.8-3.6 5.2-1.2-6.8 3.6z"/><path fill="url(#caq)" d="M117.8 334.7l6.9-4 5.1-1.5-6.9 4.1z"/><path fill="url(#car)" d="M128.3 329.9l7.1-4.6 4.9-1.8-7 4.6z"/><path fill="url(#cas)" d="M139 324.3l7.1-5 4.9-2.1-7.2 5.1z"/><path fill="url(#cat)" d="M149.6 318.1l7.3-5.6 4.7-2.3-7.2 5.6z"/><path fill="url(#cau)" d="M112.8 336.3l6.9-4 5.3-1.3-6.9 4.1z"/><path fill="url(#cav)" d="M123.5 331.7l7-4.5 5.1-1.6-7 4.6z"/><path fill="url(#caw)" d="M134.2 326.4l7.1-5 5-1.9-7.1 5.1z"/><path fill="url(#cax)" d="M144.9 320.3l7.3-5.5 4.9-2.1-7.3 5.6z"/><path fill="url(#cay)" d="M118.6 333.3l6.9-4.5 5.3-1.3-6.9 4.5z"/><path fill="url(#caz)" d="M129.4 328.2l7.1-4.9 5.1-1.7-7.1 5.1z"/><path fill="url(#cb0)" d="M140.2 322.4l7.2-5.4 5-1.9-7.2 5.5z"/><path fill="url(#cb1)" d="M124.4 329.9l7.1-4.9 5.3-1.4-7.1 5z"/><path fill="url(#cb2)" d="M135.4 324.4l7.2-5.5 5.1-1.7-7.2 5.5z"/><path fill="url(#cb3)" d="M130.4 326.1l7.2-5.4 5.3-1.5-7.2 5.5z"/></g>
<path class="ax" d="M34.93 360.76L29.66 230.94M34.93 360.76L136.33 397.85M136.33 397.85L216.33 355.31M216.33 355.31L223.12 229.08"/>
<path class="tk" d="M34.93 360.76L32.33 360.76M33.68 329.87L31.08 329.87M32.38 297.98L29.78 297.98M31.04 265.02L28.44 265.02M29.66 230.94L27.06 230.94M34.93 360.76L34.93 363.76M57.57 369.04L57.57 372.04M81.88 377.93L81.88 380.93M108.06 387.51L108.06 390.51M136.33 397.85L136.33 400.85M136.33 397.85L136.33 400.85M159.11 385.74L159.11 388.74M179.87 374.7L179.87 377.7M198.87 364.59L198.87 367.59M216.33 355.31L216.33 358.31"/>
<text class="tl" text-anchor="end" x="30.63" y="363.76">0</text><text class="tl" text-anchor="end" x="29.38" y="332.87">3</text><text class="tl" text-anchor="end" x="28.08" y="300.98">6</text><text class="tl" text-anchor="end" x="26.74" y="268.02">9</text><text class="tl" text-anchor="end" x="25.36" y="233.94">12</text><text class="tl" text-anchor="middle" x="30.13" y="371.06">18</text><text class="tl" text-anchor="middle" x="52.77" y="379.34">21</text><text class="tl" text-anchor="middle" x="77.08" y="388.23">24</text><text class="tl" text-anchor="middle" x="103.26" y="397.81">27</text><text class="tl" text-anchor="middle" x="131.53" y="408.15">30</text><text class="tl" text-anchor="middle" x="140.13" y="408.15">40</text><text class="tl" text-anchor="middle" x="162.91" y="396.04">45</text><text class="tl" text-anchor="middle" x="183.67" y="385">50</text><text class="tl" text-anchor="middle" x="202.67" y="374.89">55</text><text class="tl" text-anchor="middle" x="220.13" y="365.61">60</text>
<text class="at" text-anchor="middle" transform="translate(75.38 397.1) rotate(19.79)">MC of the transition point (%)</text>
<text class="at" text-anchor="middle" transform="translate(194.03 390.43) rotate(-29)">MV thermostatic temperature (°C)</text>
<text class="at" text-anchor="middle" transform="translate(16.79 297.85) rotate(-90)" style="font-size:8.0px">MSE (%)</text>
<rect x="237.8" y="244.5" width="10.8" height="97.5" fill="url(#cmg)"/>
<path class="cbt" d="M237.8 245.1H248.6"/>
<path class="cbb" d="M237.8 341.5H248.6"/>
<path class="cbk" d="M248.6 245.2h2.3M248.6 254.81h2.3M248.6 264.42h2.3M248.6 274.03h2.3M248.6 283.64h2.3M248.6 293.25h2.3M248.6 302.86h2.3M248.6 312.47h2.3M248.6 322.08h2.3M248.6 331.69h2.3M248.6 341.3h2.3"/>
<g class="cbl"><text x="253" y="247">9.74</text><text x="253" y="256.61">8.94</text><text x="253" y="266.22">8.15</text><text x="253" y="275.83">7.35</text><text x="253" y="285.44">6.56</text><text x="253" y="295.05">5.76</text><text x="253" y="304.66">4.96</text><text x="253" y="314.27">4.17</text><text x="253" y="323.88">3.37</text><text x="253" y="333.49">2.58</text><text x="253" y="343.1">1.78</text></g>
<text class="let" x="255.4" y="228.1">C</text>
<path class="gr" d="M344.6 353.07L340.87 227.67M366.71 344.64L364.51 223.86M387.18 336.83L386.29 220.34M428.22 335.61L429.76 219.85M451.62 342.02L454.66 222.79M476.55 348.85L481.26 225.94M319.32 331.19L406.25 302.62L504.72 325.91M317.97 299.16L406.3 274.9L506.35 294.74M316.57 266.05L406.36 246.4L508.03 262.55"/>
<path class="fl" d="M320.63 362.21L422.71 399.12L503.14 356.13L406.19 329.58Z"/>
<path class="ct" stroke="#8000ff" d="M433.72 358.71L434.5 359.04L435.58 359.51L436.28 359.85L437.06 360.23L437.96 360.72L438.6 361.08L439.23 361.46L439.84 361.85L440.52 362.32L441.13 362.76L441.67 363.19L442.16 363.6L442.6 364L443.04 364.43L443.49 364.91L443.92 365.4L444.26 365.83L444.5 366.18L444.85 366.72L445.11 367.16L445.31 367.57L445.54 368.11L445.66 368.47L445.81 369.01L445.9 369.45L445.96 369.88L446 370.44L445.99 370.88L445.95 371.27L445.87 371.79L445.74 372.31L445.56 372.82L445.35 373.32L445.1 373.81L444.81 374.29L444.48 374.75L444.12 375.21L443.5 375.88L443.04 376.32L442.46 376.82L441.75 377.37L440.87 377.97L440.23 378.35L439.21 378.92L438.11 379.46L437.33 379.8L436.08 380.3L434.74 380.77L433.8 381.07L432.75 381.38L431.25 381.77L430.14 382.02L428.99 382.25L427.78 382.47L426.51 382.67L425.21 382.84L424.21 382.96L423.06 383.07L421.54 383.19L420.51 383.26L419.11 383.32L418 383.34L416.42 383.36L415.46 383.35L414.17 383.31L412.74 383.25L411.35 383.17L410.01 383.06L408.71 382.94L407.46 382.79L406.23 382.63L405.04 382.46L403.89 382.27L402.21 381.96L401.13 381.73L399.56 381.37L398.55 381.12L397.08 380.72L395.67 380.3L394.31 379.85L393.01 379.38L391.76 378.89L390.57 378.38L389.43 377.85L388.7 377.49L387.65 376.93L386.98 376.54L386.32 376.13L385.41 375.53L384.83 375.11L384.27 374.69L383.74 374.25L383.24 373.8L382.75 373.34L382.31 372.87L381.9 372.4L381.51 371.92L381.15 371.42L380.83 370.91L380.58 370.45L380.4 370.08L380.19 369.57L380.01 369.05L379.92 368.72L379.81 368.13L379.77 367.77L379.74 367.21L379.75 366.88L379.8 366.31L379.87 365.9L379.97 365.49L380.14 364.97L380.35 364.46L380.55 364.07L380.78 363.66L381.05 363.24L381.37 362.79L381.77 362.32L382.24 361.82L382.79 361.3L383.26 360.9L383.76 360.51L384.56 359.94L385.13 359.58L386.04 359.05L386.67 358.71L387.68 358.23L388.75 357.76L389.88 357.32L390.85 356.98L391.91 356.64L393.22 356.26L394.13 356.03L395.08 355.8L396.35 355.53L397.6 355.3L398.69 355.12L399.78 354.96L400.76 354.84L401.7 354.73L402.86 354.62L404.18 354.52L405.09 354.46L406.3 354.4L407.36 354.37L408.61 354.35L409.47 354.35L410.8 354.37L412.09 354.41L413.07 354.46L414.1 354.52L415.18 354.6L416.35 354.7L417.61 354.84L418.99 355.01L420.05 355.16L421.08 355.31L422.41 355.54L423.55 355.76L424.85 356.03L425.88 356.27L427.23 356.6L428.54 356.95L429.8 357.33L431.03 357.72L432.23 358.14L433.38 358.58"/>
<path class="ct" stroke="#006bff" d="M447.43 385.91L446.55 386.25L445.2 386.74L444.25 387.06L442.91 387.48L441.75 387.81L440.7 388.1L439.6 388.37L438.28 388.68L436.96 388.96L435.7 389.2L434.51 389.41L433.36 389.59L432.22 389.76L430.84 389.95L429.41 390.11L428.14 390.24L427.16 390.33L425.58 390.45L424.4 390.52L423.1 390.58L421.78 390.63L420.44 390.66L419.29 390.68L417.69 390.68L416.6 390.66L415.38 390.63L413.88 390.58L412.42 390.5L411.12 390.42L409.91 390.33L408.65 390.22L407.33 390.09L405.94 389.94L404.47 389.76L403.1 389.57L401.88 389.39L400.68 389.19L399.4 388.97L397.78 388.66L396.66 388.43L395.02 388.07L393.96 387.82L392.39 387.43L391.38 387.15L389.89 386.73L388.45 386.29L387.04 385.84L385.68 385.37L384.37 384.88L383.09 384.38L381.85 383.86L380.65 383.33L379.8 382.93L378.75 382.42L377.66 381.85L376.96 381.46L375.93 380.87L375.27 380.47L374.63 380.07L373.71 379.45L373.11 379.02L372.54 378.6L371.92 378.11L371.23 377.54L370.67 377.05L370.18 376.59L369.71 376.13L369.27 375.66L368.84 375.19L368.44 374.71L368.05 374.22L367.69 373.72L367.41 373.3L367.16 372.89L366.9 372.45L366.62 371.92L366.38 371.39L366.21 370.99L366.06 370.57L365.88 370.02L365.77 369.6L365.68 369.16L365.59 368.62L365.55 368.28L365.51 367.68L365.5 367.37L365.53 366.78L365.56 366.43L365.63 365.92L365.72 365.45L365.8 365.09L365.96 364.56L366.13 364.08L366.27 363.72L366.48 363.27L366.73 362.78L367.01 362.29L367.32 361.82L367.62 361.39L367.95 360.96L368.32 360.51L368.73 360.05L369.17 359.6L369.6 359.19L370.05 358.78L370.52 358.38L371.08 357.94L371.79 357.42L372.32 357.04L373.09 356.55L373.74 356.15L374.65 355.64L375.27 355.3L376.25 354.82L377.26 354.34L378.31 353.89L379.4 353.45L380.54 353.03L381.71 352.63L382.93 352.24L383.77 351.99L385.07 351.63L385.96 351.4L387.06 351.13L388.28 350.85L389.25 350.65L390.24 350.46L391.26 350.27L392.31 350.1L393.39 349.93L394.49 349.77L395.63 349.63L396.8 349.5L398.01 349.37L398.98 349.29L399.9 349.21L401.21 349.12L402.2 349.07L403.27 349.02L404.44 348.97L405.46 348.95L406.55 348.93L407.8 348.93L408.62 348.93L409.87 348.95L411.13 348.98L412.13 349.02L413.08 349.07L414.16 349.12L415.33 349.2L416.47 349.29L417.59 349.39L418.69 349.49L419.77 349.61L421.07 349.76L422.39 349.93L423.4 350.08L424.41 350.23L425.88 350.47L426.84 350.64L428.1 350.88L429.2 351.1L430.57 351.4L431.47 351.6L432.8 351.92L434.1 352.25L435.37 352.6L436.62 352.97L437.85 353.34L439.05 353.73L440.23 354.14L441.31 354.53L442.14 354.84L443.26 355.29L443.99 355.59L445.07 356.06L445.78 356.38L446.82 356.87L447.49 357.21L448.16 357.55L449.06 358.04L449.79 358.45L450.42 358.82L451.03 359.19L451.64 359.58L452.23 359.98L452.85 360.41L453.44 360.83L453.98 361.25L454.48 361.65L455 362.08L455.51 362.53L456.01 362.99L456.49 363.47L456.91 363.91L457.23 364.26L457.61 364.7L458.02 365.21L458.34 365.64L458.6 366.01L458.96 366.56L459.19 366.94L459.45 367.42L459.68 367.89L459.87 368.32L460.07 368.81L460.23 369.26L460.36 369.7L460.5 370.26L460.56 370.6L460.64 371.14L460.69 371.69L460.7 372.07L460.7 372.53L460.66 373.08L460.6 373.61L460.5 374.12L460.39 374.57L460.25 375.03L460.08 375.52L459.87 376.03L459.62 376.56L459.31 377.13L458.99 377.64L458.66 378.12L458.31 378.59L457.9 379.09L457.31 379.73L456.87 380.18L456.15 380.84L455.64 381.27L454.82 381.9"/>
<path class="ct" stroke="#00ffa0" d="M357.27 375.46L356.99 375.03L356.7 374.58L356.4 374.06L356.13 373.54L355.87 373.01L355.7 372.63L355.53 372.21L355.33 371.67L355.17 371.17L355.07 370.82L354.94 370.27L354.84 369.79L354.78 369.41L354.71 368.83L354.69 368.49L354.66 367.94L354.66 367.56L354.69 367.02L354.72 366.66L354.79 366.08L354.85 365.76L354.96 365.23L355.07 364.77L355.18 364.41L355.36 363.88L355.54 363.41L355.69 363.06L355.91 362.59L356.17 362.09L356.45 361.6L356.69 361.2L356.95 360.81L357.23 360.41L357.57 359.96L357.93 359.51L358.31 359.07L358.71 358.64L359.12 358.21L359.56 357.78L360.1 357.29L360.68 356.78L361.16 356.39L361.66 356L362.17 355.62L362.96 355.07L363.51 354.7L364.17 354.29L364.93 353.82L365.58 353.45L366.45 352.98L367.4 352.49L368.04 352.17L369.04 351.71L370.07 351.26L371.14 350.82L372.23 350.39L373.35 349.98L374.51 349.58L375.38 349.3L376.51 348.95L377.76 348.58L378.61 348.35L379.92 348.01L380.81 347.79L381.75 347.57L383.12 347.27L384.08 347.07L385.05 346.88L386.05 346.7L387.06 346.52L388.15 346.35L389.22 346.18L390.24 346.04L391.35 345.89L392.48 345.76L393.64 345.63L394.83 345.51L395.73 345.43L396.67 345.35L397.94 345.26L398.95 345.2L399.91 345.14L401.21 345.08L401.98 345.05L403.37 345.01L404.15 344.99L405.43 344.98L406.44 344.97L407.41 344.97L408.7 344.99L409.72 345.01L410.59 345.03L411.79 345.08L412.98 345.13L414.16 345.19L415.31 345.26L416.35 345.33L417.42 345.41L418.54 345.51L419.71 345.62L420.8 345.73L421.85 345.85L422.89 345.97L423.91 346.1L425.09 346.26L426.41 346.45L427.39 346.6L428.47 346.78L429.78 347.01L430.72 347.18L432.11 347.44L433.03 347.63L434.38 347.92L435.71 348.22L436.58 348.42L437.88 348.74L439.16 349.07L440.42 349.41L441.66 349.76L442.88 350.13L444.08 350.5L445.26 350.89L446.04 351.15L447.2 351.56L448.33 351.98L449.08 352.26L450.19 352.7L451.14 353.08L452 353.45L452.78 353.8L453.76 354.24L454.45 354.57L455.38 355.02L456.14 355.41L456.8 355.75L457.45 356.11L458.33 356.6L459.04 357.01L459.66 357.39L460.28 357.77L460.88 358.16L461.48 358.55L462.06 358.96L462.64 359.37L463.2 359.78L463.75 360.21L464.3 360.64L464.83 361.08L465.35 361.53L465.85 361.99L466.24 362.36L466.61 362.72L467.07 363.18L467.53 363.68L467.92 364.12L468.21 364.46L468.61 364.96L468.99 365.46L469.23 365.79L469.59 366.32L469.87 366.76L470.12 367.17L470.42 367.7L470.6 368.06L470.87 368.63L471.03 368.99L471.24 369.53L471.39 369.95L471.54 370.42L471.68 370.97L471.77 371.32L471.87 371.87L471.95 372.41L471.98 372.78"/>
<path class="ct" stroke="#00ffa0" d="M427.97 396.31L426.88 396.37L425.26 396.45L424.25 396.48L422.66 396.52L421.47 396.54L420.16 396.55L418.54 396.54L417.49 396.52L416.17 396.49"/>
<path class="ct" stroke="#5bfb00" d="M345.9 371.35L345.82 370.99L345.71 370.42L345.65 369.98L345.6 369.56L345.56 369L345.54 368.68L345.54 368.08L345.54 367.74L345.58 367.17L345.61 366.83L345.69 366.24L345.75 365.92L345.86 365.38L345.96 364.96L346.07 364.54L346.24 364L346.38 363.63L346.54 363.2L346.76 362.68L346.97 362.25L347.15 361.89L347.4 361.42L347.69 360.93L347.99 360.45L348.27 360.03L348.55 359.64L348.85 359.25L349.18 358.83L349.55 358.39L349.94 357.95L350.34 357.52L350.75 357.09L351.18 356.67L351.68 356.21L352.23 355.72L352.78 355.26L353.27 354.87L353.76 354.48L354.27 354.11L355.06 353.55L355.6 353.19L356.15 352.83L357 352.3L357.58 351.96L358.47 351.45L359.08 351.12L360.02 350.64L360.77 350.26L361.63 349.85L362.63 349.4L363.66 348.95L364.72 348.52L365.79 348.1L366.9 347.69L368.03 347.29L369.19 346.9L370.38 346.53L371.19 346.28L372.42 345.92L373.26 345.69L374.54 345.35L375.42 345.14L376.75 344.82L377.66 344.61L378.58 344.41L379.79 344.17L380.96 343.94L381.94 343.76L382.94 343.59L383.95 343.42L384.98 343.26L386.03 343.1L387.1 342.96L388.2 342.81L389.31 342.68L390.44 342.55L391.34 342.46L392.2 342.38L393.39 342.27L394.61 342.17L395.48 342.11L396.51 342.04L397.79 341.97L398.54 341.93L399.82 341.87L400.71 341.84L401.92 341.81L402.8 341.79L404.12 341.77L404.87 341.76L406.11 341.76L407.22 341.77L408.03 341.78L409.26 341.8L410.48 341.83L411.45 341.87L412.35 341.9L413.44 341.95L414.59 342.02L415.72 342.08L416.84 342.16L417.94 342.24L419.03 342.33L420.1 342.43L421.16 342.53L422.2 342.64L423.24 342.75L424.34 342.88L425.74 343.06L426.76 343.2L427.75 343.34L428.84 343.5L430.16 343.7L431.11 343.86L432.52 344.1L433.44 344.27L434.81 344.53L435.72 344.71L437.06 344.99L437.95 345.18L439.26 345.47L440.55 345.77L441.83 346.09L442.7 346.31L443.93 346.63L445.17 346.97L446.39 347.32L447.6 347.68L448.39 347.92L449.57 348.3L450.74 348.69L451.9 349.08L452.66 349.35L453.79 349.76L454.9 350.18L455.64 350.47L456.73 350.91L457.45 351.21L458.52 351.66L459.22 351.98L460.13 352.39L460.96 352.77L461.64 353.1L462.49 353.52L463.31 353.94L463.97 354.29L464.62 354.64L465.34 355.04L466.16 355.51L466.85 355.92L467.47 356.29L468.08 356.68L468.68 357.07L469.28 357.46L469.87 357.86L470.45 358.27L471.02 358.69L471.58 359.11L472.13 359.54L472.68 359.98L473.21 360.42L473.65 360.8L474.06 361.16L474.51 361.57L475.01 362.04L475.49 362.53L475.89 362.93L476.22 363.28L476.66 363.77L477.11 364.29L477.39 364.63L477.75 365.08L478.15 365.61L478.38 365.93L478.74 366.46L479.02 366.89L479.29 367.32L479.58 367.83L479.79 368.22"/>
<path class="ct" stroke="#ffff00" d="M337.49 368.31L337.52 367.77L337.55 367.38L337.61 366.85L337.67 366.48L337.77 365.92L337.84 365.6L337.97 365.04L338.08 364.64L338.22 364.21L338.4 363.66L338.53 363.32L338.72 362.86L338.95 362.34L339.13 361.96L339.33 361.58L339.6 361.08L339.89 360.58L340.15 360.17L340.39 359.8L340.67 359.39L341.01 358.92L341.36 358.46L341.73 358.01L342.11 357.56L342.5 357.12L342.9 356.69L343.31 356.27L343.74 355.85L344.18 355.43L344.63 355.02L345.09 354.62L345.56 354.22L346.05 353.83L346.72 353.31L347.3 352.88L347.82 352.51L348.35 352.14L349.16 351.6L349.72 351.25"/>
<path class="ct" stroke="#ffff00" d="M372.38 342.48L373.65 342.19L374.56 341.99L375.49 341.8L376.76 341.55L377.86 341.34L378.83 341.17L379.82 341L380.82 340.84L381.84 340.68L382.88 340.53L383.93 340.38L385 340.24L386.09 340.11L387.2 339.98L388.25 339.86L389.13 339.78L390.06 339.69L391.24 339.58L392.44 339.48L393.24 339.43L394.3 339.35L395.55 339.28L396.29 339.24L397.53 339.18L398.47 339.14L399.56 339.1L400.57 339.07L401.68 339.04L402.59 339.03L403.88 339.02L404.63 339.01L405.83 339.02L406.97 339.02L407.77 339.04L408.93 339.06L410.14 339.09L411.15 339.12L412.04 339.16L413.06 339.2L414.21 339.26L415.33 339.32L416.45 339.39L417.55 339.47L418.63 339.55L419.7 339.64L420.76 339.73L421.81 339.83L422.85 339.94L423.87 340.05L424.89 340.16L426.07 340.3L427.38 340.47L428.36 340.6L429.33 340.73L430.56 340.91L431.72 341.09L432.66 341.24L434.06 341.47L434.98 341.63L436.35 341.88L437.25 342.05L438.6 342.32L439.48 342.5L440.8 342.78L442.1 343.07L442.96 343.26L444.23 343.57L445.5 343.88L446.74 344.2L447.98 344.52L449.2 344.86L450.41 345.21L451.61 345.56L452.8 345.92L453.97 346.29L455.13 346.67L455.89 346.93L457.03 347.33L458.16 347.73L458.91 348L460.02 348.42L460.75 348.71L461.84 349.14L462.56 349.44L463.62 349.89L464.33 350.19L465.38 350.66L466.07 350.98L466.76 351.3L467.77 351.78L468.45 352.12L469.12 352.46L469.81 352.81L470.72 353.3L471.41 353.68L472.05 354.04L472.68 354.4L473.31 354.77L473.93 355.15L474.59 355.56L475.26 355.98L475.89 356.39L476.5 356.8L477.08 357.2L477.64 357.6L478.17 357.99L478.69 358.37L479.23 358.79L479.78 359.23L480.33 359.67L480.86 360.12L481.39 360.58L481.81 360.95L482.19 361.31L482.67 361.76L483.16 362.24L483.6 362.69L483.92 363.03L484.35 363.49L484.81 364.01L485.11 364.37L485.47 364.81L485.9 365.35"/>
<path class="ct" stroke="#ff8000" d="M330.59 365.81L330.73 365.26L330.81 364.95L330.98 364.39L331.11 363.98L331.26 363.57L331.47 363.03L331.63 362.66L331.82 362.24L332.07 361.72L332.29 361.29L332.48 360.94L332.76 360.46L333.06 359.97L333.36 359.51L333.61 359.15L333.87 358.77L334.21 358.31L334.57 357.85L334.94 357.4L335.32 356.95L335.71 356.51"/>
<path class="ct" stroke="#ff8000" d="M385.11 337.62L386 337.53L386.95 337.43L388.1 337.32L389.27 337.22L390.18 337.14L391.06 337.08L392.28 336.99L393.29 336.93L394.16 336.88L395.44 336.81L396.23 336.77L397.42 336.72L398.34 336.69L399.47 336.66L400.38 336.64L401.59 336.61L402.36 336.6L403.65 336.6L404.55 336.59L405.55 336.6L406.78 336.61L407.68 336.62L408.6 336.64L409.79 336.67L410.97 336.71L411.9 336.75L412.79 336.78L413.83 336.83L414.95 336.89L416.06 336.96L417.16 337.03L418.24 337.11L419.31 337.19L420.37 337.27L421.41 337.36L422.45 337.46L423.48 337.56L424.49 337.67L425.5 337.78L426.73 337.92L427.98 338.07L428.96 338.2L429.92 338.32L431.05 338.48L432.31 338.66L433.25 338.81L434.44 338.99L435.57 339.18L436.49 339.34L437.85 339.58L438.75 339.74L440.08 340L441.15 340.21L442.28 340.44L443.58 340.72L444.5 340.92L445.72 341.19L446.98 341.49L448.24 341.8L449.48 342.11L450.71 342.43L451.93 342.76L453.14 343.09L454.34 343.44L455.52 343.79L456.7 344.15L457.86 344.51L459.02 344.89L459.78 345.14L460.92 345.53L462.04 345.93L462.79 346.2L463.9 346.61L464.65 346.89L465.72 347.31L466.51 347.63L467.52 348.04L468.23 348.34L469.29 348.79L469.99 349.1L470.87 349.49L471.72 349.89L472.4 350.21L473.17 350.58L474.09 351.03L474.75 351.37L475.41 351.71L476.08 352.06L476.94 352.53L477.69 352.94L478.32 353.3L478.96 353.67L479.58 354.04L480.21 354.42L480.82 354.8L481.43 355.19L482.04 355.59L482.64 355.99L483.23 356.39L483.82 356.8L484.4 357.22L484.97 357.64L485.54 358.07L486.1 358.5L486.65 358.94L487.13 359.34L487.56 359.7L488 360.08L488.53 360.54L489.04 361.01L489.52 361.46L489.87 361.8L490.3 362.23L490.79 362.73"/>
<path class="ct" stroke="#fb0000" d="M324.64 363.66L324.85 363.12L325.02 362.72L325.2 362.32L325.45 361.8L325.66 361.38L325.85 361.02L326.13 360.52L326.43 360.02"/>
<path class="ct" stroke="#fb0000" d="M392.7 334.73L393.43 334.69L394.63 334.63L395.58 334.59L396.6 334.55L397.66 334.51L398.62 334.49L399.67 334.46L400.72 334.44L401.63 334.43L402.9 334.42L403.64 334.42L404.79 334.42L405.93 334.43L406.71 334.44L407.82 334.46L409.01 334.49L409.97 334.52L410.82 334.54L411.9 334.58L413.04 334.63L414.16 334.69L415.26 334.75L416.25 334.8L417.23 334.87L418.22 334.93L419.24 335.01L420.29 335.09L421.37 335.18L422.47 335.28L423.62 335.38L424.73 335.5L425.73 335.6L426.72 335.71L427.71 335.82L428.69 335.94L430.01 336.11"/>
<path class="ct" stroke="#fb0000" d="M477.01 348.97L478 349.45L478.68 349.78L479.35 350.11L480.06 350.47L480.97 350.94L481.65 351.31L482.3 351.66L482.95 352.02L483.59 352.38L484.22 352.75L484.92 353.15L485.61 353.57L486.28 353.98L486.93 354.39L487.55 354.79L488.15 355.19L488.73 355.58L489.29 355.96L489.84 356.35L490.37 356.73L490.88 357.1L491.45 357.53L492.02 357.97L492.58 358.41L493.13 358.85L493.65 359.28L494.06 359.63L494.49 360L495.02 360.47"/>
<path class="ct" stroke="#f00000" d="M398.57 332.49L399.67 332.47L400.52 332.46L401.79 332.45L402.54 332.44L403.67 332.44L404.78 332.45L405.55 332.45L406.7 332.47L407.88 332.49L408.72 332.51L409.63 332.54L410.78 332.57L411.91 332.61L412.97 332.66L413.86 332.7L414.77 332.75L415.79 332.8L416.87 332.87L417.94 332.94"/>
<path class="ct" stroke="#f00000" d="M490.32 352.62L491 353.03L491.65 353.43L492.28 353.83L492.9 354.22L493.49 354.61L494.07 355L494.63 355.38L495.17 355.76L495.7 356.13L496.21 356.5L496.78 356.92L497.36 357.36L497.93 357.8L498.49 358.24"/>
<path class="ct" stroke="#a80000" d="M403.48 330.62L404.69 330.63L405.62 330.64L406.48 330.65L407.65 330.67L408.78 330.7L409.6 330.72"/>
<path class="ct" stroke="#a80000" d="M500.39 355.37L500.91 355.74L501.42 356.11L501.92 356.47"/>
<path class="ax" d="M406.19 329.58L406.42 217.09M320.63 362.21L406.19 329.58M406.19 329.58L503.14 356.13M315.12 231.83L406.42 217.09M406.42 217.09L509.77 229.32"/>
<defs><linearGradient id="d0" href="#c" x1="405.9" y1="320.4" x2="406.8" y2="240"/><linearGradient id="d1" href="#c" x1="409.7" y1="321.3" x2="411.5" y2="239.9"/><linearGradient id="d2" href="#c" x1="402.8" y1="321.6" x2="402.8" y2="239.7"/><linearGradient id="d3" href="#c" x1="413.5" y1="322.3" x2="416.4" y2="239.8"/><linearGradient id="d4" href="#c" x1="406.6" y1="322.4" x2="407.6" y2="239.5"/><linearGradient id="d5" href="#c" x1="399.7" y1="322.7" x2="398.6" y2="239.4"/><linearGradient id="d6" href="#c" x1="417.2" y1="323.2" x2="421.4" y2="239.8"/><linearGradient id="d7" href="#c" x1="410.4" y1="323.4" x2="412.5" y2="239.3"/><linearGradient id="d8" href="#c" x1="403.5" y1="323.6" x2="403.4" y2="239"/><linearGradient id="d9" href="#c" x1="396.6" y1="323.9" x2="394.1" y2="239"/><linearGradient id="da" href="#c" x1="414.2" y1="324.3" x2="417.7" y2="239"/><linearGradient id="db" href="#c" x1="421.1" y1="324.2" x2="426.7" y2="239.8"/><linearGradient id="dc" href="#c" x1="407.2" y1="324.5" x2="408.4" y2="238.6"/><linearGradient id="dd" href="#c" x1="400.3" y1="324.8" x2="398.9" y2="238.4"/><linearGradient id="de" href="#c" x1="393.5" y1="325.2" x2="389.4" y2="238.6"/><linearGradient id="df" href="#c" x1="418" y1="325.2" x2="423.1" y2="238.9"/><linearGradient id="dg" href="#c" x1="411.1" y1="325.4" x2="413.7" y2="238.1"/><linearGradient id="dh" href="#c" x1="424.9" y1="325.2" x2="432.1" y2="239.8"/><linearGradient id="di" href="#c" x1="404.1" y1="325.6" x2="403.9" y2="237.7"/><linearGradient id="dj" href="#c" x1="397.2" y1="326" x2="394.1" y2="237.7"/><linearGradient id="dk" href="#c" x1="390.4" y1="326.5" x2="384.3" y2="238.1"/><linearGradient id="dl" href="#c" x1="414.9" y1="326.3" x2="419.2" y2="237.7"/><linearGradient id="dm" href="#c" x1="421.9" y1="326.2" x2="428.7" y2="238.7"/><linearGradient id="dn" href="#c" x1="407.9" y1="326.5" x2="409.3" y2="237"/><linearGradient id="do" href="#c" x1="428.7" y1="326.3" x2="437.7" y2="239.9"/><linearGradient id="dp" href="#c" x1="401" y1="326.8" x2="399.1" y2="236.7"/><linearGradient id="dq" href="#c" x1="394.1" y1="327.2" x2="388.9" y2="237"/><linearGradient id="dr" href="#c" x1="418.8" y1="327.2" x2="425" y2="237.3"/><linearGradient id="ds" href="#c" x1="411.8" y1="327.3" x2="415" y2="236.3"/><linearGradient id="dt" href="#c" x1="387.3" y1="327.8" x2="378.8" y2="237.7"/><linearGradient id="du" href="#c" x1="425.7" y1="327.3" x2="434.6" y2="238.7"/><linearGradient id="dv" href="#c" x1="404.8" y1="327.6" x2="404.5" y2="235.7"/><linearGradient id="dw" href="#c" x1="432.5" y1="327.4" x2="443.5" y2="240.2"/><linearGradient id="dx" href="#c" x1="397.8" y1="328" x2="393.8" y2="235.6"/><linearGradient id="dy" href="#c" x1="390.9" y1="328.5" x2="383.2" y2="236.2"/><linearGradient id="dz" href="#c" x1="415.7" y1="328.3" x2="421" y2="235.6"/><linearGradient id="d10" href="#c" x1="422.7" y1="328.3" x2="431.1" y2="237.1"/><linearGradient id="d11" href="#c" x1="408.6" y1="328.4" x2="410.3" y2="234.6"/><linearGradient id="d12" href="#c" x1="429.6" y1="328.4" x2="440.6" y2="238.8"/><linearGradient id="d13" href="#c" x1="384.3" y1="329.2" x2="372.8" y2="237.3"/><linearGradient id="d14" href="#c" x1="401.6" y1="328.8" x2="399.2" y2="234.2"/><linearGradient id="d15" href="#c" x1="436.3" y1="328.5" x2="449.3" y2="240.5"/><linearGradient id="d16" href="#c" x1="394.6" y1="329.3" x2="388" y2="234.5"/><linearGradient id="d17" href="#c" x1="419.7" y1="329.3" x2="427.4" y2="235"/><linearGradient id="d18" href="#c" x1="426.6" y1="329.3" x2="437.5" y2="236.9"/><linearGradient id="d19" href="#c" x1="412.6" y1="329.3" x2="416.5" y2="233.6"/><linearGradient id="d1a" href="#c" x1="387.8" y1="329.9" x2="377" y2="235.4"/><linearGradient id="d1b" href="#c" x1="433.4" y1="329.5" x2="446.8" y2="239"/><linearGradient id="d1c" href="#c" x1="405.4" y1="329.5" x2="405" y2="232.7"/><linearGradient id="d1d" href="#c" x1="440.1" y1="329.8" x2="455.3" y2="241.1"/><linearGradient id="d1e" href="#c" x1="398.4" y1="330" x2="393.2" y2="232.6"/><linearGradient id="d1f" href="#c" x1="381.4" y1="330.7" x2="366.5" y2="237"/><linearGradient id="d1g" href="#c" x1="391.5" y1="330.6" x2="381.5" y2="233.3"/><linearGradient id="d1h" href="#c" x1="423.6" y1="330.3" x2="434.1" y2="234.6"/><linearGradient id="d1i" href="#c" x1="416.6" y1="330.2" x2="423.2" y2="232.5"/><linearGradient id="d1j" href="#c" x1="430.5" y1="330.5" x2="444.2" y2="237"/><linearGradient id="d1k" href="#c" x1="409.4" y1="330.4" x2="411.4" y2="231.1"/><linearGradient id="d1l" href="#c" x1="384.9" y1="331.4" x2="370.2" y2="234.8"/><linearGradient id="d1m" href="#c" x1="437.2" y1="330.7" x2="453.2" y2="239.4"/><linearGradient id="d1n" href="#c" x1="402.2" y1="330.7" x2="399" y2="230.5"/><linearGradient id="d1o" href="#c" x1="443.8" y1="331" x2="461.3" y2="241.7"/><linearGradient id="d1p" href="#c" x1="395.1" y1="331.3" x2="386.5" y2="230.8"/><linearGradient id="d1q" href="#c" x1="378.6" y1="332.2" x2="359.7" y2="237"/><linearGradient id="d1r" href="#c" x1="420.6" y1="331.2" x2="430.3" y2="231.7"/><linearGradient id="d1s" href="#c" x1="427.6" y1="331.4" x2="441.2" y2="234.4"/><linearGradient id="d1t" href="#c" x1="388.4" y1="332.1" x2="374.3" y2="232.2"/><linearGradient id="d1u" href="#c" x1="413.4" y1="331.2" x2="418.3" y2="229.5"/><linearGradient id="d1v" href="#c" x1="434.3" y1="331.7" x2="451" y2="237.2"/><linearGradient id="d1w" href="#c" x1="406.1" y1="331.5" x2="405.4" y2="228.2"/><linearGradient id="d1x" href="#c" x1="440.9" y1="332" x2="459.6" y2="240"/><linearGradient id="d1y" href="#c" x1="398.9" y1="331.9" x2="392.1" y2="228"/><linearGradient id="d1z" href="#c" x1="382" y1="332.9" x2="362.9" y2="234.4"/><linearGradient id="d20" href="#c" x1="447.4" y1="332.3" x2="467.3" y2="242.6"/><linearGradient id="d21" href="#c" x1="392" y1="332.7" x2="378.9" y2="229.1"/><linearGradient id="d22" href="#c" x1="424.6" y1="332.3" x2="438" y2="231"/><linearGradient id="d23" href="#c" x1="417.4" y1="332.2" x2="425.9" y2="228"/><linearGradient id="d24" href="#c" x1="431.5" y1="332.6" x2="448.6" y2="234.4"/><linearGradient id="d25" href="#c" x1="410.1" y1="332.3" x2="412.6" y2="225.9"/><linearGradient id="d26" href="#c" x1="376.2" y1="333.8" x2="352.6" y2="237.2"/><linearGradient id="d27" href="#c" x1="438.1" y1="333" x2="458" y2="237.8"/><linearGradient id="d28" href="#c" x1="385.5" y1="333.6" x2="366.3" y2="231.3"/><linearGradient id="d29" href="#c" x1="402.8" y1="332.6" x2="398.5" y2="224.9"/><linearGradient id="d2a" href="#c" x1="444.5" y1="333.3" x2="466.1" y2="240.9"/><linearGradient id="d2b" href="#c" x1="395.7" y1="333.3" x2="384.1" y2="225.5"/><linearGradient id="d2c" href="#c" x1="379.5" y1="334.6" x2="354.9" y2="234.4"/><linearGradient id="d2d" href="#c" x1="450.8" y1="333.7" x2="473.3" y2="243.6"/><linearGradient id="d2e" href="#c" x1="421.5" y1="333.2" x2="434.2" y2="226.8"/><linearGradient id="d2f" href="#c" x1="428.6" y1="333.5" x2="446.1" y2="230.7"/><linearGradient id="d2g" href="#c" x1="389" y1="334.2" x2="370.2" y2="227.5"/><linearGradient id="d2h" href="#c" x1="414.2" y1="333.1" x2="420.6" y2="223.6"/><linearGradient id="d2i" href="#c" x1="435.3" y1="333.9" x2="456.3" y2="234.8"/><linearGradient id="d2j" href="#c" x1="406.8" y1="333.4" x2="405.7" y2="221.6"/><linearGradient id="d2k" href="#c" x1="441.7" y1="334.3" x2="465" y2="238.6"/><linearGradient id="d2l" href="#c" x1="374" y1="335.4" x2="345.1" y2="237.9"/><linearGradient id="d2m" href="#c" x1="399.5" y1="333.9" x2="390.1" y2="221.3"/><linearGradient id="d2n" href="#c" x1="382.8" y1="335.2" x2="357.5" y2="230.9"/><linearGradient id="d2o" href="#c" x1="448" y1="334.7" x2="472.5" y2="242"/><linearGradient id="d2p" href="#c" x1="392.5" y1="334.8" x2="374.7" y2="223"/><linearGradient id="d2q" href="#c" x1="425.6" y1="334.4" x2="443.1" y2="225.9"/><linearGradient id="d2r" href="#c" x1="418.4" y1="334.1" x2="429.6" y2="221.4"/><linearGradient id="d2s" href="#c" x1="432.4" y1="334.8" x2="454.5" y2="230.8"/><linearGradient id="d2t" href="#c" x1="454.2" y1="335.1" x2="479.1" y2="244.8"/><linearGradient id="d2u" href="#c" x1="377.3" y1="336.2" x2="346.5" y2="234.9"/><linearGradient id="d2v" href="#c" x1="410.9" y1="334.1" x2="414.1" y2="218"/><linearGradient id="d2w" href="#c" x1="438.9" y1="335.3" x2="464.1" y2="235.5"/><linearGradient id="d2x" href="#c" x1="386.2" y1="335.9" x2="360.3" y2="226.4"/><linearGradient id="d2y" href="#c" x1="403.4" y1="334.5" x2="397.3" y2="216.6"/><linearGradient id="d2z" href="#c" x1="445.1" y1="335.7" x2="472.1" y2="239.7"/><linearGradient id="d30" href="#c" x1="396.2" y1="335.4" x2="380" y2="217.5"/><linearGradient id="d31" href="#c" x1="372.4" y1="337" x2="337.3" y2="239.2"/><linearGradient id="d32" href="#c" x1="380.5" y1="336.9" x2="347.8" y2="231.1"/><linearGradient id="d33" href="#c" x1="451.2" y1="336.1" x2="478.9" y2="243.3"/><linearGradient id="d34" href="#c" x1="422.5" y1="335.3" x2="439.5" y2="219.7"/><linearGradient id="d35" href="#c" x1="429.5" y1="335.7" x2="452.7" y2="225.6"/><linearGradient id="d36" href="#c" x1="389.6" y1="336.4" x2="363.6" y2="220.9"/><linearGradient id="d37" href="#c" x1="415.1" y1="335" x2="423.8" y2="214.6"/><linearGradient id="d38" href="#c" x1="436.1" y1="336.2" x2="463.3" y2="231.5"/><linearGradient id="d39" href="#c" x1="407.5" y1="335.2" x2="405.8" y2="211.3"/><linearGradient id="d3a" href="#c" x1="457.3" y1="336.5" x2="484.8" y2="246.2"/><linearGradient id="d3b" href="#c" x1="442.4" y1="336.7" x2="472" y2="236.8"/><linearGradient id="d3c" href="#c" x1="375.6" y1="337.8" x2="337.5" y2="236.2"/><linearGradient id="d3d" href="#c" x1="400.1" y1="335.9" x2="386.6" y2="211"/><linearGradient id="d3e" href="#c" x1="383.8" y1="337.6" x2="349.2" y2="226.2"/><linearGradient id="d3f" href="#c" x1="448.4" y1="337.1" x2="479" y2="241.2"/><linearGradient id="d3g" href="#c" x1="393.2" y1="337" x2="367.6" y2="214"/><linearGradient id="d3h" href="#c" x1="426.6" y1="336.6" x2="450.5" y2="218.6"/><linearGradient id="d3i" href="#c" x1="419.3" y1="336.1" x2="435" y2="211.4"/><linearGradient id="d3j" href="#c" x1="454.3" y1="337.5" x2="485" y2="244.8"/><linearGradient id="d3k" href="#c" x1="433.3" y1="337.1" x2="462.7" y2="226"/><linearGradient id="d3l" href="#c" x1="378.9" y1="338.5" x2="337.4" y2="232.4"/><linearGradient id="d3m" href="#c" x1="411.7" y1="336" x2="416.2" y2="205.8"/><linearGradient id="d3n" href="#c" x1="371.4" y1="338.3" x2="329.4" y2="241.2"/><linearGradient id="d3o" href="#c" x1="439.6" y1="337.7" x2="472.3" y2="232.7"/><linearGradient id="d3p" href="#c" x1="387.1" y1="338.2" x2="350.6" y2="219.8"/><linearGradient id="d3q" href="#c" x1="404.1" y1="336.5" x2="394.8" y2="203.4"/><linearGradient id="d3r" href="#c" x1="445.6" y1="338.1" x2="479.7" y2="238.4"/><linearGradient id="d3s" href="#c" x1="460.3" y1="337.9" x2="490.3" y2="247.7"/><linearGradient id="d3t" href="#c" x1="396.9" y1="337.5" x2="372.6" y2="205.3"/><linearGradient id="d3u" href="#c" x1="374.7" y1="339.1" x2="328.3" y2="238.5"/><linearGradient id="d3v" href="#c" x1="382.1" y1="339.3" x2="336.8" y2="227.3"/><linearGradient id="d3w" href="#c" x1="451.3" y1="338.5" x2="485.8" y2="243"/><linearGradient id="d3x" href="#c" x1="423.5" y1="337.4" x2="447.8" y2="208.9"/><linearGradient id="d3y" href="#c" x1="430.4" y1="338" x2="462.4" y2="218.4"/><linearGradient id="d3z" href="#c" x1="390.5" y1="338.8" x2="352.2" y2="211.5"/><linearGradient id="d40" href="#c" x1="416" y1="337" x2="428.8" y2="200.2"/><linearGradient id="d41" href="#c" x1="436.8" y1="338.6" x2="473.2" y2="227.2"/><linearGradient id="d42" href="#c" x1="457.1" y1="338.9" x2="490.8" y2="246.5"/><linearGradient id="d43" href="#c" x1="408.2" y1="337.1" x2="405.4" y2="194.6"/><linearGradient id="d44" href="#c" x1="442.8" y1="339.2" x2="481.2" y2="234.7"/><linearGradient id="d45" href="#c" x1="378" y1="339.9" x2="326.4" y2="235.1"/><linearGradient id="d46" href="#c" x1="400.7" y1="337.9" x2="379.4" y2="194.3"/><linearGradient id="d47" href="#c" x1="371.1" y1="339.2" x2="321.8" y2="243.9"/><linearGradient id="d48" href="#c" x1="385.4" y1="340" x2="335.5" y2="220.6"/><linearGradient id="d49" href="#c" x1="448.4" y1="339.6" x2="487.3" y2="240.6"/><linearGradient id="d4a" href="#c" x1="463.1" y1="339.3" x2="495.4" y2="249.2"/><linearGradient id="d4b" href="#c" x1="394" y1="339.3" x2="354.3" y2="200.4"/><linearGradient id="d4c" href="#c" x1="454" y1="339.9" x2="492.2" y2="245"/><linearGradient id="d4d" href="#c" x1="427.5" y1="338.8" x2="462.3" y2="207.8"/><linearGradient id="d4e" href="#c" x1="420.3" y1="338.2" x2="444.1" y2="195.3"/><linearGradient id="d4f" href="#c" x1="434" y1="339.6" x2="475" y2="219.6"/><linearGradient id="d4g" href="#c" x1="381.3" y1="340.6" x2="323.4" y2="230.6"/><linearGradient id="d4h" href="#c" x1="374.6" y1="339.9" x2="319.3" y2="242"/><linearGradient id="d4i" href="#c" x1="412.5" y1="337.9" x2="419.4" y2="184.8"/><linearGradient id="d4j" href="#c" x1="440" y1="340.2" x2="483.7" y2="229.5"/><linearGradient id="d4k" href="#c" x1="388.7" y1="340.6" x2="333.4" y2="211.5"/><linearGradient id="d4l" href="#c" x1="404.7" y1="338.5" x2="389" y2="180.5"/><linearGradient id="d4m" href="#c" x1="445.5" y1="340.6" x2="489.8" y2="237.3"/><linearGradient id="d4n" href="#c" x1="459.6" y1="340.2" x2="496.4" y2="248.4"/><linearGradient id="d4o" href="#c" x1="397.7" y1="339.8" x2="357.2" y2="185.3"/><linearGradient id="d4p" href="#c" x1="378" y1="340.6" x2="315.4" y2="239.6"/><linearGradient id="d4q" href="#c" x1="450.9" y1="340.9" x2="494.4" y2="243.1"/><linearGradient id="d4r" href="#c" x1="384.6" y1="341.4" x2="318.7" y2="224.6"/><linearGradient id="d4s" href="#c" x1="371.6" y1="339.5" x2="314.6" y2="247.4"/><linearGradient id="d4t" href="#c" x1="465.7" y1="340.6" x2="500.3" y2="250.9"/><linearGradient id="d4u" href="#c" x1="424.4" y1="339.6" x2="462.6" y2="192"/><linearGradient id="d4v" href="#c" x1="431.1" y1="340.5" x2="478.2" y2="208.6"/><linearGradient id="d4w" href="#c" x1="392.1" y1="341.3" x2="330.1" y2="198.9"/><linearGradient id="d4x" href="#c" x1="416.9" y1="339" x2="438.2" y2="175"/><linearGradient id="d4y" href="#c" x1="437.1" y1="341.2" x2="487.9" y2="222.4"/><linearGradient id="d4z" href="#c" x1="456.3" y1="341.1" x2="498.1" y2="247.3"/><linearGradient id="d50" href="#c" x1="409" y1="339.1" x2="403.4" y2="163.3"/><linearGradient id="d51" href="#c" x1="442.6" y1="341.7" x2="494" y2="232.9"/><linearGradient id="d52" href="#c" x1="381.5" y1="341.2" x2="309.8" y2="236.7"/><linearGradient id="d53" href="#c" x1="375.4" y1="339.9" x2="310.7" y2="246.7"/><linearGradient id="d54" href="#c" x1="401.5" y1="340.2" x2="362.2" y2="164.3"/><linearGradient id="d55" href="#c" x1="388" y1="342.1" x2="311.5" y2="216.5"/><linearGradient id="d56" href="#c" x1="447.8" y1="341.9" x2="498" y2="240.5"/><linearGradient id="d57" href="#c" x1="461.9" y1="341.5" x2="501.5" y2="250.3"/><linearGradient id="d58" href="#c" x1="395.6" y1="341.8" x2="324.8" y2="180.5"/><linearGradient id="d59" href="#c" x1="453" y1="342.1" x2="501" y2="245.9"/><linearGradient id="d5a" href="#c" x1="428" y1="341.3" x2="484.2" y2="191.9"/><linearGradient id="d5b" href="#c" x1="421.1" y1="340.4" x2="463.3" y2="166.9"/><linearGradient id="d5c" href="#c" x1="434.1" y1="342.2" x2="495" y2="212.1"/><linearGradient id="d5d" href="#c" x1="379.1" y1="340.1" x2="305.2" y2="246.2"/><linearGradient id="d5e" href="#c" x1="385.1" y1="341.8" x2="301.4" y2="233.3"/><linearGradient id="d5f" href="#c" x1="413.4" y1="339.9" x2="426.1" y2="142.9"/><linearGradient id="d5g" href="#c" x1="439.6" y1="342.7" x2="500.6" y2="226.9"/><linearGradient id="d5h" href="#c" x1="468.1" y1="342" x2="504.8" y2="252.6"/><linearGradient id="d5i" href="#c" x1="372.9" y1="338.7" x2="308.3" y2="251.5"/><linearGradient id="d5j" href="#c" x1="391.5" y1="342.8" x2="300.1" y2="205.4"/><linearGradient id="d5k" href="#c" x1="458.3" y1="342.3" x2="503.6" y2="249.7"/><linearGradient id="d5l" href="#c" x1="405.5" y1="340.6" x2="372" y2="133.7"/><linearGradient id="d5m" href="#c" x1="444.7" y1="342.9" x2="503.6" y2="237.3"/><linearGradient id="d5n" href="#c" x1="399.2" y1="342.3" x2="316.5" y2="152"/><linearGradient id="d5o" href="#c" x1="449.6" y1="343" x2="505.5" y2="244.3"/><linearGradient id="d5p" href="#c" x1="382.8" y1="340.3" x2="297.3" y2="246.2"/><linearGradient id="d5q" href="#c" x1="388.7" y1="342.3" x2="288.8" y2="229.5"/><linearGradient id="d5r" href="#c" x1="377" y1="338.4" x2="303.4" y2="252.5"/><linearGradient id="d5s" href="#c" x1="464" y1="342.7" x2="506.1" y2="252.3"/><linearGradient id="d5t" href="#c" x1="424.8" y1="342.2" x2="495.8" y2="164.4"/><linearGradient id="d5u" href="#c" x1="430.9" y1="343.1" x2="507.9" y2="196.9"/><linearGradient id="d5v" href="#c" x1="395.2" y1="343.4" x2="281.1" y2="189.6"/><linearGradient id="d5w" href="#c" x1="454.6" y1="343" x2="507" y2="249"/><linearGradient id="d5x" href="#c" x1="417.7" y1="341.3" x2="463.3" y2="122.1"/><linearGradient id="d5y" href="#c" x1="436.3" y1="343.7" x2="511.7" y2="218.9"/><linearGradient id="d5z" href="#c" x1="409.8" y1="341.3" x2="394.5" y2="88"/><linearGradient id="d60" href="#c" x1="441.3" y1="343.9" x2="512.5" y2="233.3"/><linearGradient id="d61" href="#c" x1="386.6" y1="340.2" x2="286.2" y2="247.6"/><linearGradient id="d62" href="#c" x1="380.9" y1="337.9" x2="296.7" y2="254.7"/><linearGradient id="d63" href="#c" x1="470.4" y1="343.4" x2="508.9" y2="254.2"/><linearGradient id="d64" href="#c" x1="392.5" y1="342.5" x2="269.3" y2="226.4"/><linearGradient id="d65" href="#c" x1="403.1" y1="342.9" x2="302.8" y2="103.1"/><linearGradient id="d66" href="#c" x1="446.2" y1="343.8" x2="512.4" y2="242.5"/><linearGradient id="d67" href="#c" x1="459.9" y1="343.3" x2="508.5" y2="252.1"/><linearGradient id="d68" href="#c" x1="375" y1="336.5" x2="303.1" y2="256.1"/><linearGradient id="d69" href="#c" x1="399.1" y1="343.9" x2="246.1" y2="167"/><linearGradient id="d6a" href="#c" x1="450.9" y1="343.7" x2="512.2" y2="248.4"/><linearGradient id="d6b" href="#c" x1="427.4" y1="344.1" x2="533.7" y2="172.9"/><linearGradient id="d6c" href="#c" x1="384.6" y1="337.1" x2="287.9" y2="258.8"/><linearGradient id="d6d" href="#c" x1="432.8" y1="344.6" x2="531.3" y2="208.4"/><linearGradient id="d6e" href="#c" x1="421.3" y1="343.2" x2="522" y2="111.5"/><linearGradient id="d6f" href="#c" x1="390.3" y1="339.8" x2="270.8" y2="251.9"/><linearGradient id="d6g" href="#c" x1="465.8" y1="343.8" x2="510.3" y2="254.2"/><linearGradient id="d6h" href="#c" x1="437.7" y1="344.7" x2="526.8" y2="229"/><linearGradient id="d6i" href="#c" x1="414.1" y1="342.5" x2="453.5" y2="22.4"/><linearGradient id="d6j" href="#c" x1="379.1" y1="335.1" x2="297.8" y2="259.1"/><linearGradient id="d6k" href="#c" x1="396.6" y1="342.4" x2="238.1" y2="227.3"/><linearGradient id="d6l" href="#c" x1="455.9" y1="343.7" x2="512.2" y2="252.1"/><linearGradient id="d6m" href="#c" x1="442.4" y1="344.5" x2="522.8" y2="241.1"/><linearGradient id="d6n" href="#c" x1="407.2" y1="343.7" x2="280.3" y2="2.2"/><linearGradient id="d6o" href="#c" x1="447.1" y1="344.2" x2="519.8" y2="248.4"/><linearGradient id="d6p" href="#c" x1="388.1" y1="335.8" x2="276.8" y2="266.4"/><linearGradient id="d6q" href="#c" x1="403.6" y1="344.3" x2="171" y2="136.8"/><linearGradient id="d6r" href="#c" x1="393.9" y1="338.8" x2="250.1" y2="263.1"/><linearGradient id="d6s" href="#c" x1="382.9" y1="333.4" x2="291" y2="264.3"/><linearGradient id="d6t" href="#c" x1="461.3" y1="344" x2="512.8" y2="254.4"/><linearGradient id="d6u" href="#c" x1="428.7" y1="345.2" x2="569.9" y2="197.5"/><linearGradient id="d6v" href="#c" x1="423.3" y1="345" x2="597.6" y2="134.9"/><linearGradient id="d6w" href="#c" x1="451.7" y1="344" x2="517.8" y2="252.6"/><linearGradient id="d6x" href="#c" x1="400.7" y1="341.5" x2="188.6" y2="244.3"/><linearGradient id="d6y" href="#c" x1="377.4" y1="332.5" x2="299.5" y2="260.6"/><linearGradient id="d6z" href="#c" x1="433.6" y1="345.1" x2="551.1" y2="226.6"/><linearGradient id="d70" href="#c" x1="417.2" y1="344.6" x2="609.8" y2="-26.8"/><linearGradient id="d71" href="#c" x1="438.4" y1="344.7" x2="539" y2="241.7"/><linearGradient id="d72" href="#c" x1="411.5" y1="345.8" x2="269.9" y2="-306.7"/><linearGradient id="d73" href="#c" x1="391" y1="333.9" x2="264.2" y2="280"/><linearGradient id="d74" href="#c" x1="386" y1="331.1" x2="283.2" y2="272.7"/><linearGradient id="d75" href="#c" x1="456.7" y1="344.1" x2="516.6" y2="255.1"/><linearGradient id="d76" href="#c" x1="442.9" y1="344.2" x2="531" y2="249.9"/><linearGradient id="d77" href="#c" x1="396.9" y1="337" x2="225.9" y2="288.3"/><linearGradient id="d78" href="#c" x1="409.2" y1="343.6" x2="-28.3" y2="142.9"/><linearGradient id="d79" href="#c" x1="381.3" y1="329.6" x2="294.4" y2="265.7"/><linearGradient id="d7a" href="#c" x1="447.4" y1="343.8" x2="525.7" y2="254.4"/><linearGradient id="d7b" href="#c" x1="404" y1="339.2" x2="126.9" y2="311.8"/><linearGradient id="d7c" href="#c" x1="388.1" y1="328.4" x2="275.5" y2="286"/><linearGradient id="d7d" href="#c" x1="423.5" y1="344.8" x2="652.9" y2="207.4"/><linearGradient id="d7e" href="#c" x1="428.9" y1="344.6" x2="593.3" y2="235.8"/><linearGradient id="d7f" href="#c" x1="392.8" y1="331.6" x2="253.2" y2="302.9"/><linearGradient id="d7g" href="#c" x1="417.2" y1="344.9" x2="815.8" y2="131"/><linearGradient id="d7h" href="#c" x1="384.1" y1="326.1" x2="288.7" y2="273.8"/><linearGradient id="d7i" href="#c" x1="433.9" y1="344.1" x2="563.9" y2="249.1"/><linearGradient id="d7j" href="#c" x1="401.7" y1="347.5" x2="2283.1" y2="-424.6"/><linearGradient id="d7k" href="#c" x1="452.1" y1="343.7" x2="522.3" y2="256.6"/><linearGradient id="d7l" href="#c" x1="398.4" y1="334.7" x2="210.4" y2="336.5"/><linearGradient id="d7m" href="#c" x1="438.5" y1="343.5" x2="547.2" y2="255.8"/><linearGradient id="d7n" href="#c" x1="412.9" y1="338.4" x2="-226" y2="658.1"/><linearGradient id="d7o" href="#c" x1="379.9" y1="326.3" x2="297.6" y2="264.5"/><linearGradient id="d7p" href="#c" x1="442.9" y1="342.9" x2="536.9" y2="258.9"/><linearGradient id="d7q" href="#c" x1="388.7" y1="325.6" x2="270.7" y2="305.1"/><linearGradient id="d7r" href="#c" x1="404.4" y1="337.1" x2="136.5" y2="453.5"/><linearGradient id="d7s" href="#c" x1="385.5" y1="322.5" x2="283.8" y2="285.6"/><linearGradient id="d7t" href="#c" x1="392.8" y1="329.6" x2="251.5" y2="335.9"/><linearGradient id="d7u" href="#c" x1="447.4" y1="342.6" x2="530.1" y2="260.1"/><linearGradient id="d7v" href="#c" x1="382.7" y1="321.5" x2="293.3" y2="271.4"/><linearGradient id="d7w" href="#c" x1="424.5" y1="341.5" x2="651.2" y2="291.6"/><linearGradient id="d7x" href="#c" x1="419.4" y1="340.4" x2="757.2" y2="361.5"/><linearGradient id="d7y" href="#c" x1="397.7" y1="333.8" x2="229.1" y2="399.1"/><linearGradient id="d7z" href="#c" x1="429.5" y1="341.6" x2="597.4" y2="276.7"/><linearGradient id="d80" href="#c" x1="415.9" y1="338.4" x2="797.7" y2="695.8"/><linearGradient id="d81" href="#c" x1="434.1" y1="341.2" x2="568.4" y2="272"/><linearGradient id="d82" href="#c" x1="411.8" y1="340" x2="337.8" y2="740.2"/><linearGradient id="d83" href="#c" x1="387.6" y1="323.7" x2="273.2" y2="329.2"/><linearGradient id="d84" href="#c" x1="385.1" y1="319" x2="281.7" y2="301.5"/><linearGradient id="d85" href="#c" x1="438.5" y1="340.7" x2="551.2" y2="269.5"/><linearGradient id="d86" href="#c" x1="391.4" y1="329.4" x2="267.8" y2="371.7"/><linearGradient id="d87" href="#c" x1="383.6" y1="316.5" x2="289.7" y2="281.4"/><linearGradient id="d88" href="#c" x1="404.3" y1="338.9" x2="267.1" y2="525.5"/><linearGradient id="d89" href="#c" x1="442.8" y1="340.4" x2="540.3" y2="267.3"/><linearGradient id="d8a" href="#c" x1="397.2" y1="335.9" x2="285.3" y2="437.5"/><linearGradient id="d8b" href="#c" x1="382.9" y1="316.9" x2="285.1" y2="320.3"/><linearGradient id="d8c" href="#c" x1="425" y1="336.9" x2="634.9" y2="418.3"/><linearGradient id="d8d" href="#c" x1="385.3" y1="323.8" x2="286.6" y2="353.4"/><linearGradient id="d8e" href="#c" x1="427.9" y1="336.8" x2="614.1" y2="343.6"/><linearGradient id="d8f" href="#c" x1="422.2" y1="338.9" x2="581.3" y2="531.1"/><linearGradient id="d8g" href="#c" x1="382.2" y1="312.1" x2="288.5" y2="294.7"/><linearGradient id="d8h" href="#c" x1="431.4" y1="336.8" x2="586.3" y2="308.8"/><linearGradient id="d8i" href="#c" x1="416" y1="341.9" x2="443" y2="555.1"/><linearGradient id="d8j" href="#c" x1="390.3" y1="331.8" x2="300.7" y2="395.6"/><linearGradient id="d8k" href="#c" x1="435.2" y1="336.7" x2="565.8" y2="291.5"/><linearGradient id="d8l" href="#c" x1="407.4" y1="341.9" x2="364.2" y2="491.8"/><linearGradient id="d8m" href="#c" x1="438.8" y1="336.6" x2="551.6" y2="281.3"/><linearGradient id="d8n" href="#c" x1="379.6" y1="317.1" x2="295.9" y2="338.6"/><linearGradient id="d8o" href="#c" x1="378.8" y1="309.4" x2="291.6" y2="310"/><linearGradient id="d8p" href="#c" x1="399" y1="339.5" x2="342" y2="436.4"/><linearGradient id="d8q" href="#c" x1="383.4" y1="326.5" x2="309.2" y2="370.4"/><linearGradient id="d8r" href="#c" x1="431.1" y1="334.6" x2="564.2" y2="412.9"/><linearGradient id="d8s" href="#c" x1="427.7" y1="338.5" x2="519.3" y2="458.8"/><linearGradient id="d8t" href="#c" x1="391.1" y1="335.7" x2="336.9" y2="400.7"/><linearGradient id="d8u" href="#c" x1="433" y1="332.3" x2="575.2" y2="363.5"/><linearGradient id="d8v" href="#c" x1="421" y1="342.4" x2="454" y2="468.8"/><linearGradient id="d8w" href="#c" x1="435" y1="331.3" x2="569" y2="328.3"/><linearGradient id="d8x" href="#c" x1="374.3" y1="309.4" x2="300.1" y2="325"/><linearGradient id="d8y" href="#c" x1="412.1" y1="343.7" x2="404.7" y2="446.3"/><linearGradient id="d8z" href="#c" x1="376.7" y1="320" x2="312.9" y2="352.2"/><linearGradient id="d90" href="#c" x1="437.3" y1="331" x2="559" y2="305.4"/><linearGradient id="d91" href="#c" x1="383.3" y1="330.8" x2="334.8" y2="376.7"/><linearGradient id="d92" href="#c" x1="402.9" y1="342.6" x2="378.7" y2="417.4"/><linearGradient id="d93" href="#c" x1="394" y1="339.7" x2="365.4" y2="393.2"/><linearGradient id="d94" href="#c" x1="370.3" y1="312.3" x2="313.3" y2="336.8"/><linearGradient id="d95" href="#c" x1="433.1" y1="337.8" x2="492.8" y2="419"/><linearGradient id="d96" href="#c" x1="375.6" y1="324.7" x2="332.3" y2="358.8"/><linearGradient id="d97" href="#c" x1="437.3" y1="332.6" x2="526.8" y2="397.1"/><linearGradient id="d98" href="#c" x1="426.1" y1="342.3" x2="453.5" y2="423.2"/><linearGradient id="d99" href="#c" x1="439.1" y1="328.3" x2="546.1" y2="366.3"/><linearGradient id="d9a" href="#c" x1="417.2" y1="344.6" x2="421.2" y2="412.7"/><linearGradient id="d9b" href="#c" x1="385.3" y1="335.5" x2="357.2" y2="374.5"/><linearGradient id="d9c" href="#c" x1="439.9" y1="325.7" x2="552" y2="337.1"/><linearGradient id="d9d" href="#c" x1="407.7" y1="344.6" x2="399.3" y2="396.9"/><linearGradient id="d9e" href="#c" x1="368" y1="317.4" x2="328.7" y2="343.8"/><linearGradient id="d9f" href="#c" x1="398.2" y1="342.8" x2="384.9" y2="381.4"/><linearGradient id="d9g" href="#c" x1="376.6" y1="330.1" x2="350.5" y2="359.3"/><linearGradient id="d9h" href="#c" x1="438.8" y1="336.8" x2="479.7" y2="393.6"/><linearGradient id="d9i" href="#c" x1="431.5" y1="341.9" x2="452.3" y2="395.3"/><linearGradient id="d9j" href="#c" x1="443.6" y1="330.5" x2="506.3" y2="381.7"/><linearGradient id="d9k" href="#c" x1="388.8" y1="339.5" x2="374.4" y2="367.9"/><linearGradient id="d9l" href="#c" x1="422.5" y1="345" x2="429.1" y2="389.4"/><linearGradient id="d9m" href="#c" x1="445.7" y1="324.6" x2="526.5" y2="361.8"/><linearGradient id="d9n" href="#c" x1="367.9" y1="323.4" x2="343.9" y2="346.1"/><linearGradient id="d9o" href="#c" x1="412.9" y1="345.9" x2="411.3" y2="379.9"/><linearGradient id="d9p" href="#c" x1="379.4" y1="335" x2="365.6" y2="356.1"/><linearGradient id="d9q" href="#c" x1="403.1" y1="345.1" x2="397.9" y2="369.8"/><linearGradient id="d9r" href="#c" x1="393.2" y1="342.8" x2="387" y2="360.3"/><linearGradient id="d9s" href="#c" x1="369.9" y1="329.2" x2="357.2" y2="345.2"/><linearGradient id="d9t" href="#c" x1="437.1" y1="341.2" x2="452.2" y2="376.4"/><linearGradient id="d9u" href="#c" x1="444.7" y1="335.5" x2="473.3" y2="375.5"/><linearGradient id="d9v" href="#c" x1="428" y1="344.9" x2="433.9" y2="372.7"/><linearGradient id="d9w" href="#c" x1="450.1" y1="328.3" x2="495.1" y2="368.2"/><linearGradient id="d9x" href="#c" x1="418.3" y1="346.6" x2="419" y2="366.7"/><linearGradient id="d9y" href="#c" x1="383.3" y1="339.2" x2="377.3" y2="351.5"/><linearGradient id="d9z" href="#c" x1="408.3" y1="346.6" x2="406.8" y2="360.2"/><linearGradient id="da0" href="#c" x1="398.3" y1="345.1" x2="395.9" y2="354.5"/><linearGradient id="da1" href="#c" x1="373.4" y1="334.2" x2="367.9" y2="343.1"/><linearGradient id="da2" href="#c" x1="442.9" y1="340.3" x2="453.2" y2="362.6"/><linearGradient id="da3" href="#c" x1="433.7" y1="344.5" x2="437.9" y2="360.4"/><linearGradient id="da4" href="#c" x1="451" y1="333.9" x2="470.7" y2="361.7"/><linearGradient id="da5" href="#c" x1="388.7" y1="341.1" x2="382.3" y2="355.9"/><linearGradient id="da6" href="#c" x1="423.8" y1="346.9" x2="424.9" y2="357.4"/><linearGradient id="da7" href="#c" x1="413.8" y1="346.4" x2="412.9" y2="366.1"/><linearGradient id="da8" href="#c" x1="376.8" y1="340.5" x2="380.5" y2="331.6"/><linearGradient id="da9" href="#c" x1="403.4" y1="347.8" x2="404.5" y2="340"/><linearGradient id="daa" href="#c" x1="392.9" y1="345.9" x2="395.1" y2="337.2"/><linearGradient id="dab" href="#c" x1="439.5" y1="343.6" x2="442.3" y2="352.6"/><linearGradient id="dac" href="#c" x1="449.1" y1="339" x2="455.4" y2="352"/><linearGradient id="dad" href="#c" x1="429.8" y1="348.3" x2="428.3" y2="337.4"/><linearGradient id="dae" href="#c" x1="419.4" y1="348.9" x2="419.1" y2="340.1"/><linearGradient id="daf" href="#c" x1="382.2" y1="342.9" x2="385.9" y2="332.4"/><linearGradient id="dag" href="#c" x1="408.9" y1="349" x2="409.9" y2="337"/><linearGradient id="dah" href="#c" x1="398.3" y1="347.9" x2="401" y2="333.2"/><linearGradient id="dai" href="#c" x1="446.2" y1="344.4" x2="443.9" y2="336.8"/><linearGradient id="daj" href="#c" x1="435.7" y1="347.4" x2="433.8" y2="337.2"/><linearGradient id="dak" href="#c" x1="387.4" y1="345.8" x2="392.1" y2="329"/><linearGradient id="dal" href="#c" x1="425.2" y1="349.3" x2="424.1" y2="335"/><linearGradient id="dam" href="#c" x1="414.6" y1="350" x2="415.1" y2="332.2"/><linearGradient id="dan" href="#c" x1="403.9" y1="349.6" x2="406.4" y2="329.1"/><linearGradient id="dao" href="#c" x1="392.9" y1="348.2" x2="397.6" y2="325.6"/><linearGradient id="dap" href="#c" x1="442" y1="347" x2="438.6" y2="331.7"/><linearGradient id="daq" href="#c" x1="431.3" y1="349.6" x2="429" y2="330"/><linearGradient id="dar" href="#c" x1="420.5" y1="350.8" x2="420.1" y2="327.8"/><linearGradient id="das" href="#c" x1="409.6" y1="351" x2="411.4" y2="325.3"/><linearGradient id="dat" href="#c" x1="398.5" y1="350.2" x2="402.7" y2="322.4"/><linearGradient id="dau" href="#c" x1="437.6" y1="349.6" x2="433.9" y2="325.4"/><linearGradient id="dav" href="#c" x1="426.6" y1="351.4" x2="424.9" y2="323.7"/><linearGradient id="daw" href="#c" x1="415.5" y1="352.1" x2="416.3" y2="321.8"/><linearGradient id="dax" href="#c" x1="404.3" y1="351.8" x2="407.6" y2="319.5"/><linearGradient id="day" href="#c" x1="432.9" y1="351.8" x2="429.9" y2="320.1"/><linearGradient id="daz" href="#c" x1="421.7" y1="353" x2="421.2" y2="318.6"/><linearGradient id="db0" href="#c" x1="410.3" y1="353.2" x2="412.5" y2="316.8"/><linearGradient id="db1" href="#c" x1="428" y1="353.7" x2="426.2" y2="315.7"/><linearGradient id="db2" href="#c" x1="416.5" y1="354.3" x2="417.4" y2="314.3"/><linearGradient id="db3" href="#c" x1="422.9" y1="355.3" x2="422.4" y2="312"/></defs>
<g class="sf" filter="url(#fz)"><path fill="url(#d0)" d="M406.3 242.2l5.3 5.8-4.6 7.6-5.3-5.8z"/><path fill="url(#d1)" d="M410.8 247.3l5.3 5.3-4.5 7.8-5.4-5.4z"/><path fill="url(#d2)" d="M402.5 248.9l5.3 5.9-4.7 7.1-5.3-6z"/><path fill="url(#d3)" d="M415.3 252l5.4 4.8-4.6 8-5.4-4.9z"/><path fill="url(#d4)" d="M406.9 254l5.4 5.5-4.6 7.3-5.4-5.6z"/><path fill="url(#d5)" d="M398.6 255l5.3 6.1-4.7 6.6-5.3-6.2z"/><path fill="url(#d6)" d="M419.9 256.2l5.4 4.4-4.6 8.2-5.4-4.5z"/><path fill="url(#d7)" d="M411.5 258.8l5.3 5-4.6 7.5-5.3-5.1z"/><path fill="url(#d8)" d="M403.1 260.3l5.3 5.6-4.6 6.8-5.4-5.7z"/><path fill="url(#d9)" d="M394.7 260.7l5.3 6.2-4.7 6.1-5.4-6.4z"/><path fill="url(#da)" d="M416 263.2l5.4 4.5-4.5 7.7-5.5-4.7z"/><path fill="url(#db)" d="M424.5 260.1l5.4 3.9-4.5 8.3-5.5-4z"/><path fill="url(#dc)" d="M407.6 265.2l5.4 5.2-4.7 6.9-5.4-5.3z"/><path fill="url(#dd)" d="M399.1 266.1l5.4 5.8-4.7 6.2-5.4-5.9z"/><path fill="url(#de)" d="M390.7 265.8l5.3 6.5-4.8 5.5-5.3-6.6z"/><path fill="url(#df)" d="M420.6 267.2l5.5 4-4.6 7.9-5.4-4.2z"/><path fill="url(#dg)" d="M412.1 269.7l5.5 4.7-4.6 7.1-5.5-4.8z"/><path fill="url(#dh)" d="M429.1 263.5l5.5 3.4-4.5 8.5-5.5-3.5z"/><path fill="url(#di)" d="M403.7 271.1l5.4 5.4-4.7 6.4-5.4-5.5z"/><path fill="url(#dj)" d="M395.2 271.4l5.4 6-4.8 5.7-5.4-6.1z"/><path fill="url(#dk)" d="M386.6 270.5l5.4 6.6-4.8 5-5.4-6.7z"/><path fill="url(#dl)" d="M416.7 273.8l5.5 4.2-4.6 7.3-5.5-4.3z"/><path fill="url(#dm)" d="M425.3 270.7l5.5 3.6-4.6 8-5.5-3.7z"/><path fill="url(#dn)" d="M408.2 275.7l5.5 4.9-4.7 6.6-5.5-5z"/><path fill="url(#do)" d="M433.8 266.5l5.5 3-4.4 8.6-5.6-3.1z"/><path fill="url(#dp)" d="M399.7 276.5l5.4 5.5-4.7 5.9-5.5-5.6z"/><path fill="url(#dq)" d="M391.2 276.2l5.3 6.2-4.8 5.1-5.4-6.3z"/><path fill="url(#dr)" d="M421.4 277.5l5.5 3.7-4.6 7.5-5.5-3.9z"/><path fill="url(#ds)" d="M412.8 279.9l5.5 4.4-4.6 6.8-5.5-4.5z"/><path fill="url(#dt)" d="M382.6 274.7l5.3 6.8-4.9 4.4-5.3-6.9z"/><path fill="url(#du)" d="M430 273.8l5.5 3.2-4.5 8.1-5.6-3.3z"/><path fill="url(#dv)" d="M404.3 281.3l5.4 5-4.7 6.1-5.5-5.2z"/><path fill="url(#dw)" d="M438.6 269.1l5.5 2.5-4.4 8.8-5.6-2.6z"/><path fill="url(#dx)" d="M395.7 281.5l5.4 5.7-4.8 5.3-5.4-5.8z"/><path fill="url(#dy)" d="M387.1 280.5l5.4 6.3-4.9 4.6-5.4-6.4z"/><path fill="url(#dz)" d="M417.5 283.7l5.5 4-4.6 6.9-5.6-4.1z"/><path fill="url(#d10)" d="M426.1 280.7l5.6 3.3-4.6 7.6-5.6-3.4z"/><path fill="url(#d11)" d="M408.9 285.6l5.5 4.6-4.7 6.2-5.5-4.7z"/><path fill="url(#d12)" d="M434.7 276.5l5.6 2.7-4.5 8.3-5.6-2.8z"/><path fill="url(#d13)" d="M378.4 278.4l5.4 7-4.9 3.9-5.4-7.1z"/><path fill="url(#d14)" d="M400.3 286.3l5.5 5.2-4.8 5.5-5.5-5.3z"/><path fill="url(#d15)" d="M443.4 271.2l5.6 2.1-4.4 8.9-5.6-2.1z"/><path fill="url(#d16)" d="M391.6 285.9l5.5 5.9-4.9 4.7-5.4-6z"/><path fill="url(#d17)" d="M422.2 287.1l5.6 3.5-4.6 7-5.6-3.6z"/><path fill="url(#d18)" d="M430.9 283.5l5.6 2.9-4.6 7.7-5.6-2.9z"/><path fill="url(#d19)" d="M413.6 289.5l5.5 4.1-4.7 6.4-5.5-4.3z"/><path fill="url(#d1a)" d="M383 284.3l5.4 6.5-5 4.1-5.4-6.6z"/><path fill="url(#d1b)" d="M439.5 278.8l5.7 2.2-4.5 8.5-5.6-2.4z"/><path fill="url(#d1c)" d="M404.9 290.8l5.5 4.7-4.7 5.7-5.6-4.9z"/><path fill="url(#d1d)" d="M448.3 272.9l5.7 1.6-4.4 9.1-5.7-1.7z"/><path fill="url(#d1e)" d="M396.2 290.9l5.5 5.4-4.8 4.9-5.5-5.5z"/><path fill="url(#d1f)" d="M374.2 281.6l5.4 7.1-5 3.4-5.3-7.3z"/><path fill="url(#d1g)" d="M387.5 289.8l5.5 6.1-4.9 4.2-5.5-6.2z"/><path fill="url(#d1h)" d="M427 290l5.6 3-4.6 7.3-5.6-3.2z"/><path fill="url(#d1i)" d="M418.3 293l5.6 3.6-4.7 6.6-5.6-3.8z"/><path fill="url(#d1j)" d="M435.7 285.9l5.7 2.4-4.6 7.9-5.6-2.5z"/><path fill="url(#d1k)" d="M409.6 294.8l5.6 4.3-4.8 5.8-5.6-4.4z"/><path fill="url(#d1l)" d="M378.8 287.7l5.4 6.6-5 3.5-5.4-6.8z"/><path fill="url(#d1m)" d="M444.4 280.7l5.7 1.7-4.4 8.6-5.7-1.9z"/><path fill="url(#d1n)" d="M400.9 295.4l5.5 5-4.8 5.1-5.6-5.1z"/><path fill="url(#d1o)" d="M453.2 274.2l5.8 1.1-4.4 9.3-5.7-1.3z"/><path fill="url(#d1p)" d="M392.1 294.9l5.5 5.6-4.9 4.4-5.5-5.7z"/><path fill="url(#d1q)" d="M370 284.3l5.3 7.3-5 2.7-5.4-7.4z"/><path fill="url(#d1r)" d="M423 296.1l5.7 3.1-4.6 6.7-5.7-3.3z"/><path fill="url(#d1s)" d="M431.8 292.6l5.7 2.5-4.6 7.4-5.7-2.7z"/><path fill="url(#d1t)" d="M383.4 293.3l5.4 6.2-4.9 3.6-5.5-6.3z"/><path fill="url(#d1u)" d="M414.3 298.4l5.6 3.8-4.7 6-5.6-3.9z"/><path fill="url(#d1v)" d="M440.6 287.9l5.7 1.9-4.5 8.1-5.7-2.1z"/><path fill="url(#d1w)" d="M405.5 299.6l5.6 4.4-4.8 5.3-5.6-4.6z"/><path fill="url(#d1x)" d="M449.4 282l5.8 1.3-4.4 8.8-5.8-1.4z"/><path fill="url(#d1y)" d="M396.8 299.6l5.5 5.1-4.8 4.6-5.6-5.3z"/><path fill="url(#d1z)" d="M374.5 290.5l5.4 6.8-5 2.9-5.4-7z"/><path fill="url(#d20)" d="M458.3 275l5.8.7-4.3 9.4-5.9-.8z"/><path fill="url(#d21)" d="M388 298.5l5.5 5.7-5 3.9-5.5-5.9z"/><path fill="url(#d22)" d="M427.8 298.7l5.8 2.7-4.6 6.8-5.8-2.8z"/><path fill="url(#d23)" d="M419.1 301.6l5.6 3.3-4.7 6.2-5.7-3.5z"/><path fill="url(#d24)" d="M436.7 294.6l5.7 2.1-4.5 7.5-5.8-2.2z"/><path fill="url(#d25)" d="M410.3 303.3l5.6 4-4.8 5.4-5.6-4.1z"/><path fill="url(#d26)" d="M365.6 286.4l5.4 7.5-5.1 2.2-5.4-7.6z"/><path fill="url(#d27)" d="M445.5 289.4l5.8 1.4-4.4 8.3-5.9-1.6z"/><path fill="url(#d28)" d="M379.1 296.2l5.5 6.4-5 3.1-5.5-6.5z"/><path fill="url(#d29)" d="M401.5 303.9l5.6 4.6-4.9 4.7-5.6-4.7z"/><path fill="url(#d2a)" d="M454.4 283l5.9.8-4.4 8.9-5.9-.9z"/><path fill="url(#d2b)" d="M392.6 303.3l5.6 5.3-4.9 4-5.6-5.4z"/><path fill="url(#d2c)" d="M370.2 292.7l5.4 7-5.1 2.4-5.4-7.1z"/><path fill="url(#d2d)" d="M463.4 275.4l5.9.1-4.3 9.6-6-.3z"/><path fill="url(#d2e)" d="M423.9 304.3l5.7 2.9-4.6 6.3-5.8-3z"/><path fill="url(#d2f)" d="M432.7 300.9l5.8 2.2-4.6 7-5.8-2.3z"/><path fill="url(#d2g)" d="M383.8 301.5l5.5 6-5 3.2-5.5-6z"/><path fill="url(#d2h)" d="M415 306.6l5.7 3.5-4.7 5.6-5.7-3.6z"/><path fill="url(#d2i)" d="M441.6 296.3l5.8 1.6-4.5 7.7-5.8-1.8z"/><path fill="url(#d2j)" d="M406.2 307.7l5.7 4.2-4.9 4.9-5.7-4.3z"/><path fill="url(#d2k)" d="M450.5 290.5l5.9.9-4.4 8.4-5.9-1.1z"/><path fill="url(#d2l)" d="M361.2 288.1l5.4 7.6-5.2 1.6-5.3-7.8z"/><path fill="url(#d2m)" d="M397.3 307.7l5.6 4.8-4.9 4.1-5.6-4.9z"/><path fill="url(#d2n)" d="M374.8 298.6l5.5 6.6-5.1 2.5-5.4-6.7z"/><path fill="url(#d2o)" d="M459.5 283.5l6 .3-4.4 9-6-.4z"/><path fill="url(#d2p)" d="M388.4 306.5l5.6 5.4-5 3.4-5.6-5.6z"/><path fill="url(#d2q)" d="M428.8 306.7l5.8 2.3-4.7 6.5-5.8-2.5z"/><path fill="url(#d2r)" d="M419.9 309.5l5.7 3-4.7 5.8-5.8-3.2z"/><path fill="url(#d2s)" d="M437.7 302.7l5.8 1.7-4.5 7.2-5.9-1.9z"/><path fill="url(#d2t)" d="M468.6 275.3l6-.4-4.3 9.7-6 .2z"/><path fill="url(#d2u)" d="M365.8 294.5l5.4 7.2-5.1 1.7-5.4-7.3z"/><path fill="url(#d2v)" d="M411 311.1l5.7 3.7-4.8 5.1-5.7-3.8z"/><path fill="url(#d2w)" d="M446.6 297.5l5.9 1.1-4.4 7.8-5.9-1.2z"/><path fill="url(#d2x)" d="M379.5 304.1l5.5 6.1-5.1 2.6-5.5-6.2z"/><path fill="url(#d2y)" d="M402.1 311.6l5.6 4.4-4.8 4.3-5.7-4.5z"/><path fill="url(#d2z)" d="M455.6 291.1l6 .4-4.4 8.6-6-.6z"/><path fill="url(#d30)" d="M393.1 311l5.7 5-5 3.5-5.6-5.1z"/><path fill="url(#d31)" d="M356.8 289.1l5.3 7.8-5.3 1-5.3-7.9z"/><path fill="url(#d32)" d="M370.5 300.5l5.4 6.7-5.1 1.9-5.5-6.8z"/><path fill="url(#d33)" d="M464.7 283.5l6-.2-4.3 9.2-6 .1z"/><path fill="url(#d34)" d="M424.8 311.9l5.8 2.6-4.7 5.9-5.8-2.7z"/><path fill="url(#d35)" d="M433.7 308.5l5.9 1.9-4.6 6.7-5.9-2.1z"/><path fill="url(#d36)" d="M384.2 309.1l5.5 5.6-5 2.9-5.6-5.8z"/><path fill="url(#d37)" d="M415.8 314.1l5.8 3.2-4.8 5.2-5.8-3.3z"/><path fill="url(#d38)" d="M442.7 304l5.9 1.2-4.5 7.3-5.9-1.3z"/><path fill="url(#d39)" d="M406.9 315.2l5.7 3.8-4.9 4.5-5.7-4z"/><path fill="url(#d3a)" d="M473.8 274.7l6.2-.9-4.3 9.9-6.1.7z"/><path fill="url(#d3b)" d="M451.7 298.2l6 .6-4.4 8-6-.7z"/><path fill="url(#d3c)" d="M361.4 295.7l5.3 7.3-5.2 1.2-5.4-7.5z"/><path fill="url(#d3d)" d="M397.9 315l5.7 4.6-5 3.7-5.7-4.6z"/><path fill="url(#d3e)" d="M375.1 306.1l5.5 6.2-5.1 2.1-5.5-6.4z"/><path fill="url(#d3f)" d="M460.8 291.2l6.1 0-4.4 8.7-6.1-.1z"/><path fill="url(#d3g)" d="M388.9 313.7l5.6 5.2-5 3-5.7-5.3z"/><path fill="url(#d3h)" d="M429.7 313.9l5.9 2.1-4.6 6.1-6-2.2z"/><path fill="url(#d3i)" d="M420.7 316.7l5.9 2.7-4.8 5.4-5.9-2.9z"/><path fill="url(#d3j)" d="M470 283.1l6.1-.8-4.3 9.4-6.1.6z"/><path fill="url(#d3k)" d="M438.7 310l6 1.4-4.6 6.7-5.9-1.5z"/><path fill="url(#d3l)" d="M366 301.8l5.4 6.9-5.2 1.3-5.4-7z"/><path fill="url(#d3m)" d="M411.7 318.3l5.8 3.4-4.8 4.6-5.8-3.5z"/><path fill="url(#d3n)" d="M352.2 289.7l5.3 7.9-5.3.4-5.4-8.1z"/><path fill="url(#d3o)" d="M447.8 304.8l6 .8-4.5 7.4-6-.8z"/><path fill="url(#d3p)" d="M379.8 311.2l5.6 5.8-5.1 2.3-5.6-6z"/><path fill="url(#d3q)" d="M402.7 318.7l5.7 4-4.9 3.9-5.7-4.1z"/><path fill="url(#d3r)" d="M456.9 298.5l6.1.1-4.4 8.1-6.1-.2z"/><path fill="url(#d3s)" d="M479.2 273.6l6.3-1.4-4.3 10-6.2 1.3z"/><path fill="url(#d3t)" d="M393.7 317.9l5.6 4.7-5 3.2-5.7-4.8z"/><path fill="url(#d3u)" d="M356.8 296.3l5.4 7.5-5.3.6-5.4-7.6z"/><path fill="url(#d3v)" d="M370.7 307.5l5.5 6.5-5.2 1.4-5.5-6.5z"/><path fill="url(#d3w)" d="M466.1 290.9l6.1-.5-4.3 8.8-6.2.4z"/><path fill="url(#d3x)" d="M425.7 318.8l5.9 2.2-4.7 5.5-6-2.3z"/><path fill="url(#d3y)" d="M434.7 315.5l6 1.5-4.6 6.3-6-1.7z"/><path fill="url(#d3z)" d="M384.6 316l5.6 5.3-5.1 2.4-5.6-5.5z"/><path fill="url(#d40)" d="M416.6 321l5.9 2.8-4.8 4.8-5.9-3z"/><path fill="url(#d41)" d="M443.8 311l6.1.9-4.6 6.9-6-1.1z"/><path fill="url(#d42)" d="M475.3 282.1l6.3-1.2-4.3 9.5-6.2 1.1z"/><path fill="url(#d43)" d="M407.6 321.9l5.8 3.6-4.9 4-5.9-3.7z"/><path fill="url(#d44)" d="M453 305.2l6.1.3-4.5 7.6-6.1-.4z"/><path fill="url(#d45)" d="M361.5 302.6l5.4 7-5.3.8-5.4-7.2z"/><path fill="url(#d46)" d="M398.5 321.7l5.7 4.2-5 3.3-5.7-4.3z"/><path fill="url(#d47)" d="M347.5 289.6l5.3 8.1-5.4-.2-5.3-8.2z"/><path fill="url(#d48)" d="M375.4 312.8l5.6 6-5.2 1.6-5.6-6.1z"/><path fill="url(#d49)" d="M462.2 298.3l6.1-.4-4.3 8.3-6.2.2z"/><path fill="url(#d4a)" d="M484.7 272l6.4-1.9-4.3 10.2-6.3 1.7z"/><path fill="url(#d4b)" d="M389.4 320.3l5.6 4.8-5 2.6-5.7-5z"/><path fill="url(#d4c)" d="M471.4 290.1l6.3-1.1-4.3 9-6.3.9z"/><path fill="url(#d4d)" d="M430.7 320.5l6 1.7-4.7 5.7-6-1.9z"/><path fill="url(#d4e)" d="M421.6 323.2l5.9 2.4-4.7 4.9-6-2.5z"/><path fill="url(#d4f)" d="M439.8 316.6l6.1 1-4.6 6.4-6.1-1.2z"/><path fill="url(#d4g)" d="M366.2 308.4l5.5 6.6-5.3.9-5.5-6.7z"/><path fill="url(#d4h)" d="M352.2 296.4l5.3 7.7-5.4 0-5.3-7.8z"/><path fill="url(#d4i)" d="M412.5 324.7l5.9 3-4.9 4.3-5.9-3.2z"/><path fill="url(#d4j)" d="M449 311.5l6.1.4-4.5 7-6.1-.5z"/><path fill="url(#d4k)" d="M380.2 317.7l5.6 5.5-5.2 1.8-5.6-5.7z"/><path fill="url(#d4l)" d="M403.3 325l5.9 3.7-5 3.5-5.8-3.8z"/><path fill="url(#d4m)" d="M458.2 305.2l6.2-.3-4.4 7.7-6.2.2z"/><path fill="url(#d4n)" d="M480.8 280.7l6.4-1.8-4.3 9.6-6.3 1.7z"/><path fill="url(#d4o)" d="M394.2 324.2l5.7 4.3-5 2.8-5.8-4.5z"/><path fill="url(#d4p)" d="M356.9 302.8l5.4 7.2-5.4.1-5.4-7.3z"/><path fill="url(#d4q)" d="M467.5 297.6l6.3-.9-4.3 8.4-6.3.8z"/><path fill="url(#d4r)" d="M370.9 313.8l5.6 6.2-5.3 1-5.5-6.2z"/><path fill="url(#d4s)" d="M342.7 289l5.3 8.2-5.5-.8-5.3-8.4z"/><path fill="url(#d4t)" d="M490.3 270l6.5-2.5-4.2 10.3-6.5 2.3z"/><path fill="url(#d4u)" d="M426.6 325l6 1.8-4.7 5.1-6-2z"/><path fill="url(#d4v)" d="M435.8 321.7l6.1 1.2-4.7 5.8-6.1-1.3z"/><path fill="url(#d4w)" d="M385 322.1l5.7 5-5.2 2-5.7-5.2z"/><path fill="url(#d4x)" d="M417.4 327l6 2.6-4.8 4.4-6-2.7z"/><path fill="url(#d4y)" d="M445 317.2l6.2.6-4.6 6.5-6.1-.7z"/><path fill="url(#d4z)" d="M476.9 288.8l6.4-1.6-4.3 9.1-6.4 1.5z"/><path fill="url(#d50)" d="M408.3 327.9l5.9 3.2-5 3.7-5.9-3.4z"/><path fill="url(#d51)" d="M454.3 311.5l6.2-.1-4.5 7.2-6.2 0z"/><path fill="url(#d52)" d="M361.6 308.8l5.5 6.7-5.4.3-5.5-6.9z"/><path fill="url(#d53)" d="M347.4 295.9l5.4 7.8-5.5-.6-5.4-8z"/><path fill="url(#d54)" d="M399.1 327.6l5.8 3.9-5 2.9-5.9-4z"/><path fill="url(#d55)" d="M375.7 318.8l5.6 5.7-5.2 1.2-5.7-5.8z"/><path fill="url(#d56)" d="M463.6 304.6l6.3-.8-4.4 7.9-6.3.6z"/><path fill="url(#d57)" d="M486.4 278.7l6.5-2.3-4.2 9.8-6.5 2.1z"/><path fill="url(#d58)" d="M389.8 326.1l5.8 4.5-5.1 2.1-5.8-4.6z"/><path fill="url(#d59)" d="M473 296.4l6.4-1.4-4.3 8.5-6.4 1.4z"/><path fill="url(#d5a)" d="M431.7 326.3l6.1 1.4-4.7 5.2-6.1-1.5z"/><path fill="url(#d5b)" d="M422.5 328.9l6 2.1-4.8 4.5-6-2.2z"/><path fill="url(#d5c)" d="M441 322.4l6.2.7-4.6 6-6.2-.8z"/><path fill="url(#d5d)" d="M352.2 302.5l5.4 7.3-5.5-.5-5.4-7.5z"/><path fill="url(#d5e)" d="M366.4 314.3l5.5 6.3-5.3.4-5.6-6.4z"/><path fill="url(#d5f)" d="M413.2 330.4l6 2.7-4.9 3.8-6-2.9z"/><path fill="url(#d5g)" d="M450.3 317.4l6.2 0-4.5 6.7-6.2-.2z"/><path fill="url(#d5h)" d="M496 267.3l6.6-3-4.2 10.4-6.6 2.9z"/><path fill="url(#d5i)" d="M337.9 287.7l5.3 8.5-5.6-1.5-5.4-8.6z"/><path fill="url(#d5j)" d="M380.5 323.4l5.7 5.1-5.2 1.4-5.7-5.3z"/><path fill="url(#d5k)" d="M482.5 287l6.5-2.2-4.3 9.2-6.5 2.1z"/><path fill="url(#d5l)" d="M404 330.6l5.9 3.4-5 3-5.9-3.5z"/><path fill="url(#d5m)" d="M459.6 311.1l6.4-.7-4.5 7.4-6.3.5z"/><path fill="url(#d5n)" d="M394.7 329.7l5.9 4-5.2 2.3-5.8-4.2z"/><path fill="url(#d5o)" d="M469 303.5l6.5-1.3-4.4 8-6.4 1.2z"/><path fill="url(#d5p)" d="M356.9 308.5l5.5 6.9-5.5-.3-5.5-7z"/><path fill="url(#d5q)" d="M371.2 319.4l5.6 5.8-5.4.6-5.6-5.9z"/><path fill="url(#d5r)" d="M342.6 294.8l5.3 8-5.6-1.3-5.3-8.1z"/><path fill="url(#d5s)" d="M492.1 276.3l6.6-2.9-4.2 9.9-6.6 2.7z"/><path fill="url(#d5t)" d="M427.6 330.4l6.1 1.5-4.7 4.7-6.2-1.7z"/><path fill="url(#d5u)" d="M436.9 327.2l6.2.8-4.6 5.4-6.3-1z"/><path fill="url(#d5v)" d="M385.4 327.5l5.7 4.7-5.2 1.5-5.7-4.8z"/><path fill="url(#d5w)" d="M478.5 294.7l6.6-2-4.3 8.7-6.5 1.9z"/><path fill="url(#d5x)" d="M418.3 332.4l6.1 2.2-4.9 3.9-6.1-2.3z"/><path fill="url(#d5y)" d="M446.2 322.7l6.3.2-4.5 6.1-6.3-.3z"/><path fill="url(#d5z)" d="M409 333.2l6 2.9-5 3.2-6-3z"/><path fill="url(#d60)" d="M455.6 317.1l6.4-.5-4.5 6.7-6.3.4z"/><path fill="url(#d61)" d="M361.7 314.2l5.5 6.4-5.4-.2-5.6-6.5z"/><path fill="url(#d62)" d="M347.3 301.5l5.4 7.5-5.5-1.1-5.4-7.7z"/><path fill="url(#d63)" d="M501.8 264.2l6.8-3.6-4.1 10.5-6.8 3.5z"/><path fill="url(#d64)" d="M376 324.1l5.7 5.3-5.3.7-5.7-5.4z"/><path fill="url(#d65)" d="M399.7 332.8l5.9 3.5-5.1 2.5-5.9-3.7z"/><path fill="url(#d66)" d="M465.1 310.2l6.4-1.2-4.3 7.4-6.5 1.1z"/><path fill="url(#d67)" d="M488.2 284.7l6.6-2.8-4.2 9.4-6.6 2.6z"/><path fill="url(#d68)" d="M332.9 285.9l5.3 8.6-5.8-2.1-5.3-8.8z"/><path fill="url(#d69)" d="M390.3 331.2l5.8 4.2-5.1 1.6-5.9-4.3z"/><path fill="url(#d6a)" d="M474.6 302l6.5-1.9-4.2 8.2-6.6 1.7z"/><path fill="url(#d6b)" d="M432.8 331.4l6.2 1-4.7 4.8-6.3-1.2z"/><path fill="url(#d6c)" d="M352.1 307.7l5.5 7.1-5.6-1-5.5-7.2z"/><path fill="url(#d6d)" d="M442.1 327.5l6.4.4-4.6 5.5-6.4-.4z"/><path fill="url(#d6e)" d="M423.4 333.9l6.2 1.7-4.8 4.1-6.2-1.8z"/><path fill="url(#d6f)" d="M366.5 319.4l5.6 6-5.4-.1-5.6-6.1z"/><path fill="url(#d6g)" d="M497.9 273.2l6.8-3.4-4.2 10-6.7 3.3z"/><path fill="url(#d6h)" d="M451.6 322.5l6.4-.3-4.5 6.2-6.4.2z"/><path fill="url(#d6i)" d="M414 335.3l6.1 2.4-4.9 3.3-6.1-2.5z"/><path fill="url(#d6j)" d="M337.6 293.1l5.4 8.1-5.7-1.9-5.4-8.3z"/><path fill="url(#d6k)" d="M380.9 328.3l5.7 4.9-5.3.8-5.7-4.9z"/><path fill="url(#d6l)" d="M484.2 292.5l6.7-2.5-4.2 8.8-6.7 2.4z"/><path fill="url(#d6m)" d="M461 316.3l6.5-1.1-4.4 6.9-6.5.9z"/><path fill="url(#d6n)" d="M404.7 335.5l6 3-5.1 2.6-6-3.2z"/><path fill="url(#d6o)" d="M470.6 308.7l6.6-1.7-4.3 7.6-6.6 1.6z"/><path fill="url(#d6p)" d="M356.9 313.5l5.5 6.6-5.5-.9-5.5-6.7z"/><path fill="url(#d6q)" d="M395.2 334.4l6 3.7-5.2 1.8-5.9-3.8z"/><path fill="url(#d6r)" d="M371.4 324.2l5.6 5.5-5.4.1-5.7-5.6z"/><path fill="url(#d6s)" d="M342.4 299.9l5.4 7.7-5.7-1.8-5.4-7.8z"/><path fill="url(#d6t)" d="M493.9 281.8l6.9-3.3-4.2 9.5-6.8 3.1z"/><path fill="url(#d6u)" d="M438 331.9l6.4.4-4.7 5-6.3-.6z"/><path fill="url(#d6v)" d="M428.6 335l6.3 1.2-4.8 4.2-6.3-1.3z"/><path fill="url(#d6w)" d="M480.2 299.9l6.8-2.4-4.3 8.2-6.7 2.4z"/><path fill="url(#d6x)" d="M385.8 332.1l5.8 4.4-5.2 1-5.9-4.5z"/><path fill="url(#d6y)" d="M327.8 283.4l5.2 8.7-5.8-2.8-5.3-8.9z"/><path fill="url(#d6z)" d="M447.5 327.5l6.4-.3-4.5 5.7-6.5.1z"/><path fill="url(#d70)" d="M419.1 337l6.3 1.8-4.9 3.5-6.2-2z"/><path fill="url(#d71)" d="M457 321.8l6.5-.9-4.4 6.4-6.5.8z"/><path fill="url(#d72)" d="M409.7 337.7l6.1 2.5-5 2.7-6.1-2.6z"/><path fill="url(#d73)" d="M361.8 318.8l5.5 6.2-5.5-.7-5.6-6.3z"/><path fill="url(#d74)" d="M347.2 306.3l5.5 7.2-5.7-1.7-5.5-7.3z"/><path fill="url(#d75)" d="M490 289.8l6.8-3.2-4.1 9-6.9 3z"/><path fill="url(#d76)" d="M466.6 314.9l6.6-1.6-4.3 7.1-6.7 1.4z"/><path fill="url(#d77)" d="M376.3 328.5l5.7 5.1-5.4.2-5.7-5.1z"/><path fill="url(#d78)" d="M400.3 337.2l6 3.2-5.1 1.9-6.1-3.3z"/><path fill="url(#d79)" d="M332.6 290.8l5.3 8.2-5.9-2.6-5.3-8.4z"/><path fill="url(#d7a)" d="M476.2 306.8l6.8-2.3-4.3 7.7-6.7 2.2z"/><path fill="url(#d7b)" d="M390.8 335.4l5.9 3.9-5.2 1.2-6-4z"/><path fill="url(#d7c)" d="M352.1 312.2l5.4 6.7-5.6-1.5-5.5-6.9z"/><path fill="url(#d7d)" d="M433.8 335.6l6.5.7-4.8 4.3-6.4-.7z"/><path fill="url(#d7e)" d="M443.4 331.9l6.5-.1-4.6 5.1-6.5-.1z"/><path fill="url(#d7f)" d="M366.6 323.7l5.7 5.7-5.5-.6-5.7-5.7z"/><path fill="url(#d7g)" d="M424.3 338.2l6.4 1.3-4.9 3.6-6.3-1.4z"/><path fill="url(#d7h)" d="M337.4 297.7l5.3 7.8-5.8-2.5-5.4-7.9z"/><path fill="url(#d7i)" d="M452.9 326.9l6.6-.8-4.5 5.8-6.6.6z"/><path fill="url(#d7j)" d="M414.8 339.4l6.3 2-5 2.9-6.2-2.1z"/><path fill="url(#d7k)" d="M486 297.3l6.9-3-4.2 8.3-6.9 3z"/><path fill="url(#d7l)" d="M381.2 332.4l5.8 4.6-5.3.4-5.9-4.7z"/><path fill="url(#d7m)" d="M462.5 320.6l6.7-1.4-4.4 6.4-6.6 1.4z"/><path fill="url(#d7n)" d="M405.3 339.5l6.2 2.7-5.1 2.1-6.2-2.8z"/><path fill="url(#d7o)" d="M322.6 280.2l5.2 8.9-6-3.5-5.3-9z"/><path fill="url(#d7p)" d="M472.2 313.1l6.8-2.2-4.3 7.2-6.7 2z"/><path fill="url(#d7q)" d="M356.9 317.6l5.6 6.3-5.6-1.4-5.6-6.4z"/><path fill="url(#d7r)" d="M395.8 338.3l6 3.4-5.1 1.3-6.1-3.5z"/><path fill="url(#d7s)" d="M342.2 304.2l5.4 7.3-5.8-2.3-5.4-7.5z"/><path fill="url(#d7t)" d="M371.6 328.2l5.7 5.2-5.5-.5-5.7-5.2z"/><path fill="url(#d7u)" d="M482 304.3l6.9-2.9-4.2 7.8-6.9 2.8z"/><path fill="url(#d7v)" d="M327.4 287.7l5.3 8.5-6-3.4-5.3-8.5z"/><path fill="url(#d7w)" d="M439.2 335.8l6.5 0-4.6 4.5-6.6-.2z"/><path fill="url(#d7x)" d="M429.6 338.9l6.5.7-4.8 3.8-6.5-.9z"/><path fill="url(#d7y)" d="M386.2 335.9l5.9 4-5.3.5-5.9-4.1z"/><path fill="url(#d7z)" d="M448.8 331.4l6.6-.6-4.5 5.2-6.6.5z"/><path fill="url(#d80)" d="M420 340.7l6.4 1.5-4.9 3-6.4-1.6z"/><path fill="url(#d81)" d="M458.4 325.8l6.8-1.3-4.4 5.8-6.8 1.3z"/><path fill="url(#d82)" d="M410.5 341.4l6.2 2.1-5 2.3-6.3-2.3z"/><path fill="url(#d83)" d="M361.8 322.7l5.7 5.8-5.6-1.3-5.7-5.9z"/><path fill="url(#d84)" d="M347.1 310.2l5.5 6.9-5.8-2.2-5.5-7z"/><path fill="url(#d85)" d="M468.2 318.9l6.8-2-4.3 6.5-6.8 2z"/><path fill="url(#d86)" d="M376.5 332.2l5.9 4.7-5.5-.3-5.8-4.8z"/><path fill="url(#d87)" d="M332.2 294.8l5.4 8-6-3.2-5.4-8.1z"/><path fill="url(#d88)" d="M400.9 340.8l6.1 2.8-5.1 1.5-6.2-3z"/><path fill="url(#d89)" d="M478 310.8l6.9-2.8-4.2 7.2-6.9 2.7z"/><path fill="url(#d8a)" d="M391.2 338.9l6.1 3.5-5.3.7-6.1-3.7z"/><path fill="url(#d8b)" d="M352 315.8l5.5 6.4-5.7-2-5.6-6.6z"/><path fill="url(#d8c)" d="M434.9 339.1l6.6.2-4.6 3.9-6.6-.3z"/><path fill="url(#d8d)" d="M366.8 327.2l5.7 5.3-5.6-1-5.7-5.5z"/><path fill="url(#d8e)" d="M444.6 335.4l6.7-.5-4.5 4.6-6.7.4z"/><path fill="url(#d8f)" d="M425.3 341.6l6.5.9-4.8 3.1-6.5-1z"/><path fill="url(#d8g)" d="M337.1 301.4l5.4 7.5-6-3-5.4-7.6z"/><path fill="url(#d8h)" d="M454.3 330.5l6.8-1.3-4.4 5.3-6.8 1.1z"/><path fill="url(#d8i)" d="M415.6 342.8l6.5 1.6-5 2.3-6.4-1.7z"/><path fill="url(#d8j)" d="M381.5 335.8l6 4.1-5.4-.1-6-4.3z"/><path fill="url(#d8k)" d="M464.1 324.2l6.9-1.9-4.3 5.9-6.9 1.9z"/><path fill="url(#d8l)" d="M406 342.7l6.3 2.3-5.1 1.6-6.3-2.4z"/><path fill="url(#d8m)" d="M473.9 316.7l7-2.7-4.2 6.7-7 2.5z"/><path fill="url(#d8n)" d="M356.9 320.9l5.6 6-5.7-1.9-5.7-6.1z"/><path fill="url(#d8o)" d="M342 307.6l5.4 7-5.9-2.9-5.5-7.1z"/><path fill="url(#d8p)" d="M396.3 341.4l6.2 3-5.2.8-6.2-3.1z"/><path fill="url(#d8q)" d="M371.7 331.4l5.9 4.8-5.6-1-5.8-4.9z"/><path fill="url(#d8r)" d="M440.4 338.9l6.7-.4-4.5 3.9-6.8.3z"/><path fill="url(#d8s)" d="M430.6 341.9l6.7.4-4.7 3.2-6.7-.5z"/><path fill="url(#d8t)" d="M386.6 338.9l6 3.6-5.3 0-6.1-3.7z"/><path fill="url(#d8u)" d="M450.1 334.6l6.9-1.1-4.5 4.6-6.8 1z"/><path fill="url(#d8v)" d="M420.9 343.7l6.6 1.1-4.9 2.4-6.5-1.1z"/><path fill="url(#d8w)" d="M459.9 329l7-1.9-4.3 5.4-7 1.7z"/><path fill="url(#d8x)" d="M346.9 313.3l5.5 6.6-5.9-2.8-5.5-6.7z"/><path fill="url(#d8y)" d="M411.2 344.3l6.5 1.7-5 1.7-6.5-1.9z"/><path fill="url(#d8z)" d="M361.9 325.6l5.7 5.5-5.7-1.8-5.8-5.5z"/><path fill="url(#d90)" d="M469.8 322.1l7.1-2.6-4.2 6.1-7.1 2.5z"/><path fill="url(#d91)" d="M376.7 335l6 4.3-5.5-.8-5.9-4.4z"/><path fill="url(#d92)" d="M401.4 343.5l6.4 2.5-5.1.9-6.4-2.6z"/><path fill="url(#d93)" d="M391.6 341.5l6.3 3.2-5.3.1-6.2-3.3z"/><path fill="url(#d94)" d="M351.9 318.6l5.6 6.1-5.9-2.6-5.6-6.3z"/><path fill="url(#d95)" d="M436 341.8l6.9-.3-4.6 3.3-6.9.2z"/><path fill="url(#d96)" d="M366.9 329.9l5.8 4.9-5.7-1.6-5.8-5.1z"/><path fill="url(#d97)" d="M445.9 338.2l6.9-1.1-4.4 4.1-7 .9z"/><path fill="url(#d98)" d="M426.2 344.2l6.8.4-4.7 2.6-6.8-.6z"/><path fill="url(#d99)" d="M455.7 333.2l7.1-1.7-4.3 4.7-7.1 1.6z"/><path fill="url(#d9a)" d="M416.4 345.3l6.7 1.2-4.9 1.7-6.6-1.2z"/><path fill="url(#d9b)" d="M381.8 338.2l6.1 3.8-5.4-.6-6.1-4z"/><path fill="url(#d9c)" d="M465.7 327l7.1-2.5-4.2 5.4-7.2 2.4z"/><path fill="url(#d9d)" d="M406.6 345.2l6.6 1.8-5 1-6.6-1.9z"/><path fill="url(#d9e)" d="M356.9 323.4l5.6 5.6-5.8-2.5-5.7-5.7z"/><path fill="url(#d9f)" d="M396.8 343.7l6.4 2.6-5.1.2-6.5-2.7z"/><path fill="url(#d9g)" d="M371.9 333.6l5.9 4.5-5.5-1.5-6-4.6z"/><path fill="url(#d9h)" d="M441.5 341.2l7.1-.9-4.5 3.3-7 .8z"/><path fill="url(#d9i)" d="M431.6 344.2l7-.2-4.6 2.6-7 .1z"/><path fill="url(#d9j)" d="M451.5 337l7.1-1.8-4.3 4.1-7.2 1.6z"/><path fill="url(#d9k)" d="M386.9 341l6.3 3.3-5.3-.6-6.3-3.4z"/><path fill="url(#d9l)" d="M421.7 345.9l6.9.5-4.7 1.8-6.9-.6z"/><path fill="url(#d9m)" d="M461.4 331.4l7.3-2.5-4.2 4.8-7.3 2.3z"/><path fill="url(#d9n)" d="M361.9 327.7l5.8 5.1-5.8-2.3-5.8-5.2z"/><path fill="url(#d9o)" d="M411.8 346.4l6.8 1.2-4.8 1-6.8-1.3z"/><path fill="url(#d9p)" d="M376.9 337l6.1 3.9-5.4-1.4-6.2-4z"/><path fill="url(#d9q)" d="M401.9 345.5l6.7 1.9-5 .3-6.7-2z"/><path fill="url(#d9r)" d="M391.9 343.4l6.6 2.6-5.1-.5-6.6-2.8z"/><path fill="url(#d9s)" d="M366.9 331.6l5.9 4.6-5.6-2.2-6-4.7z"/><path fill="url(#d9t)" d="M437.1 343.8l7.2-1-4.4 2.6-7.2.8z"/><path fill="url(#d9u)" d="M447.1 340.2l7.3-1.7-4.3 3.2-7.3 1.6z"/><path fill="url(#d9v)" d="M427.1 346.1l7.1-.2-4.5 1.8-7.1.1z"/><path fill="url(#d9w)" d="M457.2 335.3l7.4-2.5-4.2 4-7.4 2.3z"/><path fill="url(#d9x)" d="M417.1 347.2l7.1.4-4.7 1-7-.6z"/><path fill="url(#d9y)" d="M381.9 339.9l6.4 3.3-5.2-1.3-6.5-3.4z"/><path fill="url(#d9z)" d="M407.1 346.9l7 1.2-4.8.2-7-1.3z"/><path fill="url(#da0)" d="M397 345.4l6.9 1.8-4.9-.6-6.8-2z"/><path fill="url(#da1)" d="M371.9 335.1l6.2 4-5.5-2.1-6.2-4.2z"/><path fill="url(#da2)" d="M442.8 342.9l7.4-1.8-4.4 2.4-7.4 1.7z"/><path fill="url(#da3)" d="M432.7 345.9l7.3-1.1-4.5 1.6-7.3 1z"/><path fill="url(#da4)" d="M452.9 338.6l7.5-2.5-4.3 3.2-7.4 2.4z"/><path fill="url(#da5)" d="M386.9 342.6l6.8 2.5-5-1.5-6.8-2.7z"/><path fill="url(#da6)" d="M422.6 347.5l7.2-.4-4.5.9-7.3.3z"/><path fill="url(#da7)" d="M412.5 348l7.1.2-4.6 0-7.2-.4z"/><path fill="url(#da8)" d="M371.6 335.9l6.8 3.1 5 2.5-6.8-2.7z"/><path fill="url(#da9)" d="M397.6 346l7.1 1 4.7 1-7.1-.8z"/><path fill="url(#daa)" d="M387.3 342.9l7 1.5 4.8 2-6.9-1.3z"/><path fill="url(#dab)" d="M438.4 345.1l7.4-2-4.4 1.6-7.4 1.8z"/><path fill="url(#dac)" d="M448.6 341.5l7.5-2.7-4.3 2.3-7.5 2.6z"/><path fill="url(#dad)" d="M423.7 348l7.3-1.2 4.6-.7-7.4 1.3z"/><path fill="url(#dae)" d="M413.4 348.1l7.2-.5 4.7.2-7.2.7z"/><path fill="url(#daf)" d="M376.9 338.5l6.7 1.8 5.2 3.2-6.6-1.7z"/><path fill="url(#dag)" d="M403.1 346.9l7.1.1 4.8 1.2-7.1.1z"/><path fill="url(#dah)" d="M392.7 344.4l6.9.6 5 2.2-6.8-.5z"/><path fill="url(#dai)" d="M439.9 345l7.5-2.6 4.4-1.5-7.5 2.8z"/><path fill="url(#daj)" d="M429.5 347.1l7.3-1.9 4.6-.6-7.3 2.1z"/><path fill="url(#dak)" d="M382.3 340.6l6.6 1.1 5.3 3.2-6.5-1z"/><path fill="url(#dal)" d="M419.1 347.9l7.2-1.3 4.7.3-7.2 1.4z"/><path fill="url(#dam)" d="M408.7 347.3l7.1-.7 4.9 1.3-7.1.8z"/><path fill="url(#dan)" d="M398.2 345.4l6.9-.1 5.2 2.2-6.9.2z"/><path fill="url(#dao)" d="M387.7 342.1l6.7.6 5.4 3.1-6.6-.5z"/><path fill="url(#dap)" d="M435.4 345.7l7.4-2.7 4.6-.5-7.4 2.8z"/><path fill="url(#daq)" d="M424.9 347.1l7.2-2 4.8.3-7.2 2.1z"/><path fill="url(#dar)" d="M414.4 347.2l7.1-1.4 5 1.2-7.1 1.5z"/><path fill="url(#das)" d="M403.9 345.9l6.9-.8 5.2 2.2-6.9.8z"/><path fill="url(#dat)" d="M393.3 343.2l6.7-.1 5.4 3-6.7.2z"/><path fill="url(#dau)" d="M430.8 345.8l7.3-2.7 4.8.2-7.3 2.8z"/><path fill="url(#dav)" d="M420.2 346.5l7.1-2.1 5.1 1.2-7.2 2.1z"/><path fill="url(#daw)" d="M409.6 345.8l7-1.4 5.2 2.1-7 1.4z"/><path fill="url(#dax)" d="M398.9 343.7l6.8-.6 5.5 2.9-6.8.7z"/><path fill="url(#day)" d="M426.1 345.2l7.2-2.7 5.1 1.1-7.2 2.7z"/><path fill="url(#daz)" d="M415.4 345.2l7.1-2 5.2 1.9-7.1 2.1z"/><path fill="url(#db0)" d="M404.7 343.7l6.9-1.3 5.4 2.8-6.9 1.4z"/><path fill="url(#db1)" d="M421.3 343.9l7.2-2.6 5.2 1.9-7.1 2.7z"/><path fill="url(#db2)" d="M410.5 343.1l7-1.9 5.4 2.8-7 1.9z"/><path fill="url(#db3)" d="M416.5 342l7.1-2.6 5.4 2.7-7.1 2.6z"/></g>
<path class="ax" d="M320.63 362.21L315.12 231.83M320.63 362.21L422.71 399.12M422.71 399.12L503.14 356.13M503.14 356.13L509.77 229.32"/>
<path class="tk" d="M320.63 362.21L318.03 362.21M319.32 331.19L316.72 331.19M317.97 299.16L315.37 299.16M316.57 266.05L313.97 266.05M315.12 231.83L312.52 231.83M320.63 362.21L320.63 365.21M343.42 370.45L343.42 373.45M367.89 379.3L367.89 382.3M394.25 388.83L394.25 391.83M422.71 399.12L422.71 402.12M422.71 399.12L422.71 402.12M445.61 386.88L445.61 389.88M466.48 375.72L466.48 378.72M485.59 365.51L485.59 368.51M503.14 356.13L503.14 359.13"/>
<text class="tl" text-anchor="end" x="316.33" y="365.21">4.0</text><text class="tl" text-anchor="end" x="315.02" y="334.19">6.5</text><text class="tl" text-anchor="end" x="313.67" y="302.16">9.0</text><text class="tl" text-anchor="end" x="312.27" y="269.05">11.5</text><text class="tl" text-anchor="end" x="310.82" y="234.83">14.0</text><text class="tl" text-anchor="middle" x="315.83" y="372.51">18</text><text class="tl" text-anchor="middle" x="338.62" y="380.75">21</text><text class="tl" text-anchor="middle" x="363.09" y="389.6">24</text><text class="tl" text-anchor="middle" x="389.45" y="399.13">27</text><text class="tl" text-anchor="middle" x="417.91" y="409.42">30</text><text class="tl" text-anchor="middle" x="426.51" y="409.42">40</text><text class="tl" text-anchor="middle" x="449.41" y="397.18">45</text><text class="tl" text-anchor="middle" x="470.28" y="386.02">50</text><text class="tl" text-anchor="middle" x="489.39" y="375.81">55</text><text class="tl" text-anchor="middle" x="506.94" y="366.43">60</text>
<text class="at" text-anchor="middle" transform="translate(361.42 398.47) rotate(19.58)">MC of the transition point (%)</text>
<text class="at" text-anchor="middle" transform="translate(480.63 391.47) rotate(-29.13)">MV thermostatic temperature (°C)</text>
<text class="at" text-anchor="middle" transform="translate(296.38 298.82) rotate(-90)" style="font-size:8.2px">ΔE*</text>
<rect x="519" y="245.7" width="10.4" height="95.5" fill="url(#cmg)"/>
<path class="cbt" d="M519 246.3H529.4"/>
<path class="cbb" d="M519 340.7H529.4"/>
<path class="cbk" d="M529.4 246.4h2.3M529.4 255.81h2.3M529.4 265.22h2.3M529.4 274.63h2.3M529.4 284.04h2.3M529.4 293.45h2.3M529.4 302.86h2.3M529.4 312.27h2.3M529.4 321.68h2.3M529.4 331.09h2.3M529.4 340.5h2.3"/>
<g class="cbl"><text x="533.8" y="248.2">12.02</text><text x="533.8" y="257.61">11.42</text><text x="533.8" y="267.02">10.82</text><text x="533.8" y="276.43">10.22</text><text x="533.8" y="285.84">9.62</text><text x="533.8" y="295.25">9.02</text><text x="533.8" y="304.66">8.42</text><text x="533.8" y="314.07">7.82</text><text x="533.8" y="323.48">7.22</text><text x="533.8" y="332.89">6.62</text><text x="533.8" y="342.3">6.02</text></g>
<text class="let" x="539.6" y="228.1">D</text>
</svg>
</body></html>
